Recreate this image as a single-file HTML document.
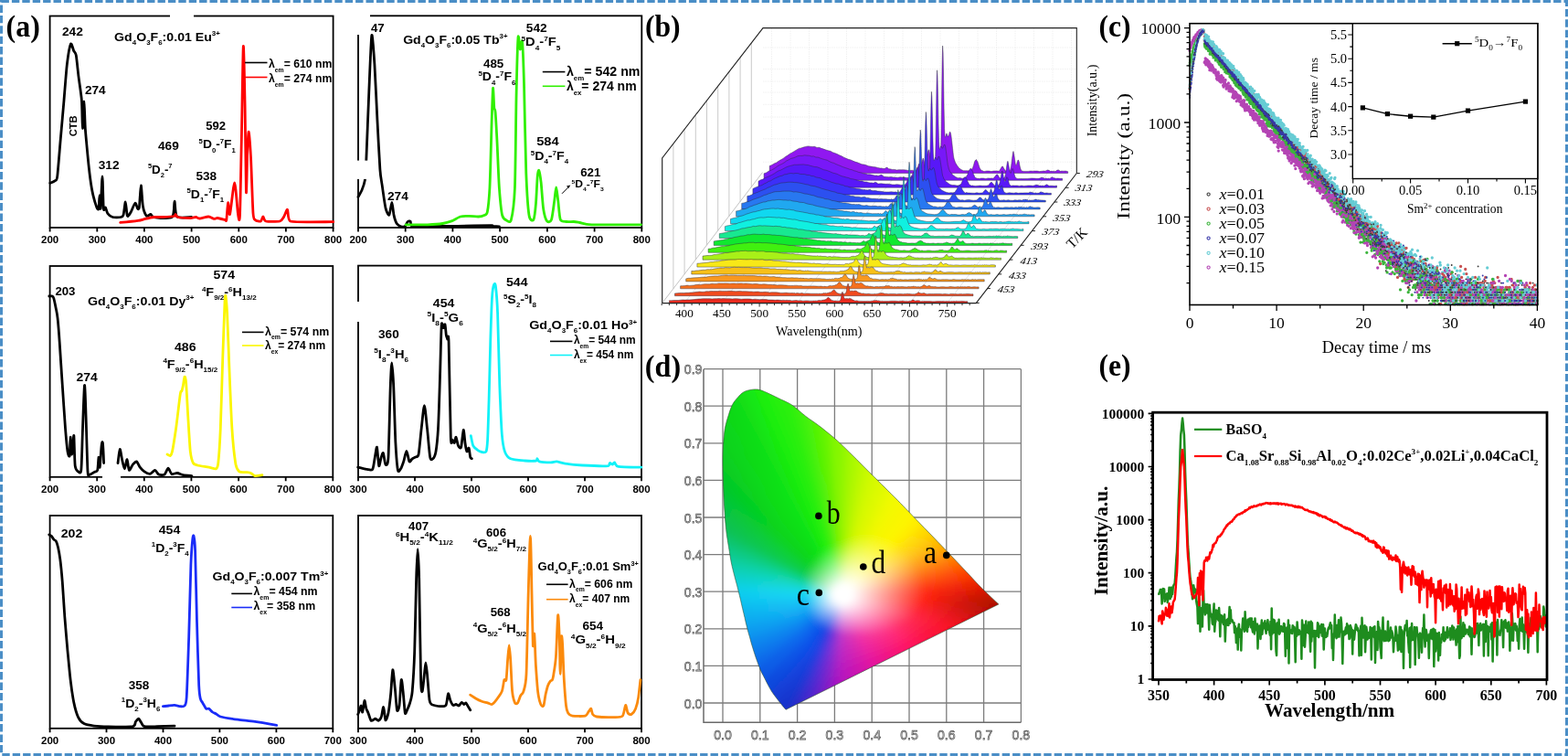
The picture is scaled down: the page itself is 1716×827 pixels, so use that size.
<!DOCTYPE html>
<html><head><meta charset="utf-8"><title>Figure</title>
<style>html,body{margin:0;padding:0;background:#fff;overflow:hidden}svg{display:block}</style>
</head><body>
<svg width="1716" height="827" viewBox="0 0 1716 827">
<rect width="1716" height="827" fill="#fff"/>
<rect x="834.5" y="30.4" width="343.8" height="158.5" fill="#fff"/>
<path d="M844.5,31V188.5 M865,31V188.5 M885.5,31V188.5 M906,31V188.5 M926.5,31V188.5 M947,31V188.5 M967.5,31V188.5 M988,31V188.5 M1008.5,31V188.5 M1029,31V188.5 M1049.5,31V188.5 M1070,31V188.5 M1090.5,31V188.5 M1111,31V188.5 M1131.5,31V188.5 M1152,31V188.5 M1172.5,31V188.5 M835,52H1178 M835,75.6H1178 M835,89H1178 M835,101H1178 M835,114.3H1178 M835,128H1178 M835,151.8H1178 M835,177.2H1178" stroke="#ebebeb" stroke-width="0.7" stroke-dasharray="1.5 1"/>
<path d="M724.7,172.9V331.6 M736.9,157.2V315.8 M749.1,141.5V300 M761.3,125.7V284.1 M773.5,110V268.3 M785.7,94.3V252.5 M797.9,78.6V236.7 M810.1,62.9V220.9 M822.3,47.2V205.1" stroke="#c4c4c4" stroke-width="0.9"/>
<path d="M748.9,331.6L858.7,189.4 M790,331.6L899.8,189.4 M831.1,331.6L940.9,189.4 M872.2,331.6L982,189.4 M913.3,331.6L1023.1,189.4 M954.4,331.6L1064.2,189.4 M995.5,331.6L1105.3,189.4 M1036.6,331.6L1146.4,189.4" stroke="#d8d8d8" stroke-width="0.7"/>
<path d="M724.7,331.6L834.5,188.6" stroke="#bbb" stroke-width="0.9"/>
<path d="M724.7,331.6V172.9L835,30.6H1178.3V189.5" fill="none" stroke="#222" stroke-width="1.1"/>
<path d="M842.2,189.4L842.2,181.5 844.7,180.5 847.2,178.9 849.6,178 852.1,176.2 854.5,174.8 857,173.4 859.5,171.4 861.9,170.1 864.4,168.2 866.9,166.9 869.3,165.4 871.8,163.9 874.3,162.4 876.7,161.9 879.2,161.1 881.7,160.4 884.1,159.9 886.6,160.2 889.1,160.4 891.5,160.3 894,161.4 896.5,161.3 898.9,162.3 901.4,163.1 903.9,164 906.3,164.7 908.8,165.3 911.3,166.7 913.7,167.5 916.2,168.5 918.7,169.8 921.1,170.8 923.6,172.2 926.1,173.3 928.5,174.3 931,174.9 933.5,176.1 935.9,177.1 938.4,177.8 940.9,178.8 943.3,179.7 945.8,180 948.3,180.8 950.7,181.7 953.2,182.1 955.7,182.6 958.1,182.8 960.6,183.4 963.1,184 965.5,183.9 966,184.6 966.5,184.4 967,184.2 967.5,184.6 968,184.3 968.5,184.5 969,183.8 969.5,183.4 970,183.3 970.5,183 970.9,183.5 971.4,183.6 971.9,184.1 972.4,184.5 972.9,184.9 973.4,184.8 973.9,184.8 976.4,185.4 978.8,185.4 981.3,186 983.8,185.7 986.2,185.8 988.7,185.7 991.2,185.9 993.6,186.4 996.1,186.4 998.6,186.3 999.1,186.7 999.6,186.4 1000,186.7 1000.5,186.7 1001,186.7 1001.5,186.2 1002,186.6 1002.5,186.4 1003,186 1003.5,184.9 1004,184.4 1004.5,182.5 1005,180.8 1005.5,179.4 1006,179.1 1006.5,179.7 1006.9,181.3 1007.4,182.4 1007.9,183.3 1008.4,183.4 1008.9,183.3 1009.4,183.5 1009.9,183 1010.4,182.5 1010.9,181.9 1011.4,181.1 1011.9,180.4 1012.4,180 1012.9,179.3 1013.4,177.7 1013.9,175.9 1014.3,173.3 1014.8,170.1 1015.3,167.2 1015.8,164.9 1016.3,163.7 1016.8,164.3 1017.3,167 1017.8,169.8 1018.3,173.6 1018.8,176.9 1019.3,179.6 1019.8,181.7 1020.3,183 1020.8,184 1021.3,184.3 1021.7,185.1 1022.2,185.5 1022.7,185.7 1023.2,186 1023.7,186 1024.2,186.4 1024.7,186.5 1025.2,186.4 1025.7,186.4 1026.2,186.2 1026.7,186.3 1027.2,185.6 1027.7,185.6 1028.2,185.4 1028.6,183.8 1029.1,179 1029.6,166.9 1030.1,143 1030.6,106.8 1031.1,69.9 1031.6,50.1 1032.1,57.3 1032.6,86.1 1033.1,118.4 1033.6,140.5 1034.1,149.7 1034.6,150 1035.1,148.3 1035.6,146.7 1036,145.9 1036.5,147.2 1037,148.7 1037.5,149.1 1038,149 1038.5,147.4 1039,145.4 1039.5,144.3 1040,144.4 1040.5,146.2 1041,149.1 1041.5,153.3 1042,157.5 1042.5,162.3 1043,166.3 1043.4,170.1 1043.9,172.9 1044.4,174.6 1044.9,176.1 1045.4,177.4 1045.9,178.4 1046.4,179.3 1046.9,180.1 1047.4,181.1 1047.9,181.6 1048.4,182.3 1048.9,183.1 1049.4,183.7 1051.8,185.5 1054.3,186.7 1056.8,186.8 1059.2,186.8 1061.7,186.9 1062.2,186.3 1062.7,185.9 1063.2,185.4 1063.7,185.1 1064.2,184.3 1064.7,183.2 1065.1,181.9 1065.6,180.4 1066.1,178.6 1066.6,177 1067.1,175.8 1067.6,175.2 1068.1,174.7 1068.6,174.7 1069.1,175.8 1069.6,176.3 1070.1,177.5 1070.6,179 1071.1,180.5 1071.6,182.2 1072.1,183.6 1072.5,184.3 1073,185.5 1073.5,185.8 1074,186.1 1074.5,186.8 1075,187.1 1075.5,186.8 1076,187 1076.5,187.5 1077,187.5 1077.5,187.5 1079.9,187 1082.4,187.1 1084.9,187.6 1087.3,187.1 1089.8,187 1092.3,187.1 1092.8,187.3 1093.3,186.9 1093.8,186.9 1094.2,186.4 1094.7,185 1095.2,184.4 1095.7,183.5 1096.2,182.4 1096.7,182.2 1097.2,181.9 1097.7,182.3 1098.2,183.4 1098.7,184.3 1099.2,185.2 1099.7,186.1 1100.2,186.4 1100.7,187.1 1101.2,187.2 1101.6,187.5 1102.1,187 1102.6,187.4 1103.1,187.4 1103.6,187.3 1104.1,187 1104.6,187.1 1105.1,186.4 1105.6,185.7 1106.1,184.1 1106.6,181.4 1107.1,178.1 1107.6,173.6 1108.1,169.6 1108.5,166.9 1109,165.5 1109.5,167.5 1110,170.5 1110.5,174.3 1111,178 1111.5,180.5 1112,181 1112.5,180.2 1113,178.2 1113.5,176.8 1114,175.1 1114.5,175.1 1115,176.2 1115.5,178 1115.9,180.6 1116.4,182.9 1116.9,184.6 1117.4,185.7 1117.9,186.8 1118.4,187 1118.9,187.3 1119.4,187.3 1119.9,187.2 1120.4,187.4 1122.9,187.4 1125.3,187.4 1127.8,187.1 1130.2,187.2 1132.7,187.1 1135.2,187.1 1137.6,187.6 1140.1,187.3 1142.6,187 1143.1,187 1143.6,187.3 1144.1,187.2 1144.6,186.7 1145,186.7 1145.5,186.4 1146,186.4 1146.5,186 1147,186 1147.5,186.1 1148,186.8 1148.5,186.7 1149,186.9 1149.5,187.4 1150,187 1150.5,187 1151,187.6 1151.5,187.1 1151.9,187.5 1152.4,187.4 1152.9,187.1 1153.4,187.2 1153.9,187.6 1154.4,187.4 1154.9,187.3 1155.4,187.3 1155.9,187.1 1156.4,186.7 1156.9,186 1157.4,186.2 1157.9,185.7 1158.4,185.9 1158.9,186.5 1159.3,186.7 1159.8,186.8 1160.3,187.2 1160.8,187.6 1161.3,187 1163.8,187.2 1166.3,187.1 1168.7,187.7L1168.7,189.4Z" fill="#9018f0" stroke="#2a2a3a" stroke-width="0.45" stroke-linejoin="round"/>
<path d="M836.1,197.3L836.1,189.8 838.6,188.9 841.1,187.3 843.5,186.4 846,185.2 848.5,183.6 850.9,181.8 853.4,180.4 855.8,179.3 858.3,177.8 860.8,175.9 863.2,174.8 865.7,173.4 868.2,172.8 870.6,171.9 873.1,170.7 875.6,170.4 878,170.4 880.5,169.8 883,170.1 885.4,170.2 887.9,171 890.4,170.9 892.8,172 895.3,172.1 897.8,173.1 900.2,173.9 902.7,174.6 905.2,175.2 907.6,176.6 910.1,177.7 912.6,178.4 915,179.6 917.5,180.6 920,181.6 922.4,182.6 924.9,183.5 927.4,184.3 929.8,185.2 932.3,185.7 934.8,186.8 937.2,187.4 939.7,188.4 942.2,188.9 944.6,189.7 947.1,190.1 949.6,190.8 952,190.8 954.5,191.3 957,191.9 959.4,192.1 959.9,191.8 960.4,192.5 960.9,192 961.4,192.3 961.9,192.2 962.4,191.8 962.9,191.9 963.4,191.5 963.9,191.2 964.4,191 964.8,191.6 965.3,191.5 965.8,192 966.3,192.4 966.8,192.8 967.3,193 967.8,193.3 970.3,193.4 972.7,193.7 975.2,193.4 977.7,193.9 980.1,194.1 982.6,194.2 985.1,193.8 987.5,193.9 990,194.1 992.5,194.4 993,194.5 993.5,194.5 993.9,194.3 994.4,194.6 994.9,194.4 995.4,194.5 995.9,194 996.4,193.8 996.9,193.8 997.4,193.4 997.9,191.9 998.4,191 998.9,189.6 999.4,188.8 999.9,188.2 1000.4,188.6 1000.8,189.6 1001.3,190.9 1001.8,191.4 1002.3,192 1002.8,191.8 1003.3,191.6 1003.8,190.9 1004.3,190.7 1004.8,190.1 1005.3,189.4 1005.8,188.8 1006.3,187.9 1006.8,187.1 1007.3,185.8 1007.8,184.2 1008.2,181.9 1008.7,179.1 1009.2,176.6 1009.7,174.4 1010.2,173 1010.7,174.2 1011.2,175.9 1011.7,179.1 1012.2,182.9 1012.7,185.4 1013.2,187.8 1013.7,189.7 1014.2,190.8 1014.7,191.6 1015.2,192.6 1015.6,192.8 1016.1,193.2 1016.6,193.2 1017.1,193.5 1017.6,193.6 1018.1,193.9 1018.6,193.8 1019.1,194 1019.6,194 1020.1,194.3 1020.6,194.3 1021.1,194.1 1021.6,193.8 1022.1,193.5 1022.5,191.7 1023,187.8 1023.5,177.3 1024,156.5 1024.5,125.6 1025,94 1025.5,76.8 1026,82.6 1026.5,107.2 1027,135.4 1027.5,154.5 1028,162.4 1028.5,163.4 1029,161.1 1029.5,160 1029.9,159.9 1030.4,160.6 1030.9,161.4 1031.4,162.3 1031.9,161.6 1032.4,160.3 1032.9,159.2 1033.4,158.3 1033.9,158.2 1034.4,159.4 1034.9,161.9 1035.4,165.5 1035.9,169.5 1036.4,173.9 1036.9,177.4 1037.3,180.4 1037.8,182.4 1038.3,184.5 1038.8,185.7 1039.3,187.2 1039.8,188 1040.3,188.6 1040.8,188.9 1041.3,189.5 1041.8,190.1 1042.3,190.9 1042.8,191.3 1043.3,191.8 1045.7,193.5 1048.2,194.7 1050.7,194.6 1053.1,195.2 1055.6,194.5 1056.1,194.3 1056.6,194.6 1057.1,193.9 1057.6,193 1058.1,192.1 1058.6,191.5 1059,190.5 1059.5,189.2 1060,187.4 1060.5,186.7 1061,185.4 1061.5,185 1062,184.4 1062.5,184.2 1063,185.2 1063.5,185.6 1064,186.9 1064.5,187.9 1065,189.3 1065.5,190.9 1066,191.6 1066.4,192.8 1066.9,193.8 1067.4,194.4 1067.9,194.5 1068.4,194.8 1068.9,195.1 1069.4,195.3 1069.9,195.2 1070.4,195.3 1070.9,194.9 1071.4,195.5 1073.8,195 1076.3,195 1078.8,195.5 1081.2,194.9 1083.7,195.1 1086.2,194.9 1086.7,195.2 1087.2,195 1087.7,194.7 1088.1,193.8 1088.6,193.5 1089.1,192.9 1089.6,192 1090.1,191.4 1090.6,191.1 1091.1,191 1091.6,190.8 1092.1,191.8 1092.6,192.2 1093.1,193.5 1093.6,194.1 1094.1,194.5 1094.6,195.1 1095.1,195.1 1095.5,194.8 1096,194.9 1096.5,195 1097,195.1 1097.5,194.9 1098,194.9 1098.5,195 1099,194.5 1099.5,194.2 1100,192.3 1100.5,190.2 1101,186.8 1101.5,183.2 1102,179.9 1102.4,177.6 1102.9,176.3 1103.4,178.1 1103.9,180.7 1104.4,184.2 1104.9,187.4 1105.4,189 1105.9,189.5 1106.4,189.2 1106.9,187.4 1107.4,186 1107.9,184.7 1108.4,184.6 1108.9,185.7 1109.4,187.5 1109.8,189.7 1110.3,191.2 1110.8,193.1 1111.3,194.3 1111.8,194.4 1112.3,194.7 1112.8,195.2 1113.3,195.5 1113.8,195.5 1114.3,195.6 1116.8,195.4 1119.2,195.6 1121.7,195.5 1124.1,195.4 1126.6,195.2 1129.1,195 1131.5,195.1 1134,195.3 1136.5,195.3 1137,195.1 1137.5,195.1 1138,195 1138.5,195 1138.9,194.6 1139.4,194 1139.9,194.4 1140.4,194.2 1140.9,194.2 1141.4,194.2 1141.9,194.8 1142.4,195 1142.9,195.2 1143.4,195.2 1143.9,195.2 1144.4,194.9 1144.9,195 1145.4,195 1145.8,195.6 1146.3,195.6 1146.8,195.1 1147.3,195 1147.8,195.3 1148.3,195.2 1148.8,195.6 1149.3,195.2 1149.8,194.6 1150.3,194.4 1150.8,194 1151.3,193.6 1151.8,194 1152.3,194.2 1152.8,194.5 1153.2,194.6 1153.7,194.8 1154.2,194.8 1154.7,195.1 1155.2,195.2 1157.7,195.1 1160.2,195.3 1162.6,195.3L1162.6,197.3Z" fill="#7818f8" stroke="#2a2a3a" stroke-width="0.45" stroke-linejoin="round"/>
<path d="M830,205.2L830,198.2 832.5,196.8 835,196.1 837.4,194.5 839.9,193.5 842.4,192.5 844.8,191.3 847.3,189.9 849.7,188.2 852.2,186.8 854.7,185.9 857.1,184.7 859.6,183.3 862.1,182.2 864.5,181.5 867,180.9 869.5,180.2 871.9,180.3 874.4,180.1 876.9,180 879.3,179.9 881.8,180.3 884.3,180.5 886.7,181.3 889.2,181.9 891.7,182.5 894.1,182.7 896.6,183.6 899.1,184.7 901.5,185.7 904,186.2 906.5,187 908.9,188 911.4,189.1 913.9,189.7 916.3,190.4 918.8,191.7 921.3,192.7 923.7,193.3 926.2,194 928.7,194.6 931.1,195.6 933.6,195.9 936.1,196.5 938.5,197.3 941,198 943.5,198 945.9,198.9 948.4,199 950.9,199.8 953.3,200.1 953.8,199.8 954.3,200.2 954.8,199.8 955.3,200.1 955.8,200.3 956.3,200.1 956.8,199.8 957.3,199.4 957.8,199.1 958.3,199.6 958.7,199.5 959.2,199.9 959.7,199.8 960.2,200.6 960.7,200.9 961.2,201 961.7,200.9 964.2,200.8 966.6,201 969.1,201.3 971.6,201.2 974,201.4 976.5,201.9 979,202.1 981.4,201.7 983.9,201.9 986.4,202.5 986.9,202.1 987.4,202.3 987.8,202.3 988.3,202.3 988.8,202.4 989.3,202.5 989.8,202.3 990.3,202.2 990.8,201.5 991.3,201.5 991.8,200.1 992.3,199.5 992.8,198.1 993.3,196.9 993.8,196.6 994.3,197.3 994.7,198.4 995.2,199 995.7,199.7 996.2,199.5 996.7,199.9 997.2,199.5 997.7,198.7 998.2,198.8 998.7,198 999.2,197.2 999.7,196.7 1000.2,196.5 1000.7,195.8 1001.2,194.7 1001.7,192.6 1002.1,191 1002.6,188.1 1003.1,185.5 1003.6,183.8 1004.1,183 1004.6,183.1 1005.1,185.3 1005.6,188.4 1006.1,191.2 1006.6,194.3 1007.1,196.5 1007.6,198.3 1008.1,198.9 1008.6,199.6 1009.1,200.3 1009.5,200.5 1010,201.5 1010.5,201.6 1011,201.7 1011.5,201.5 1012,201.6 1012.5,202.1 1013,202.2 1013.5,202.1 1014,202.1 1014.5,201.7 1015,202.1 1015.5,201.5 1016,201.2 1016.4,200 1016.9,196.5 1017.4,187.6 1017.9,169.8 1018.4,143.1 1018.9,115.6 1019.4,100.3 1019.9,106.2 1020.4,127.4 1020.9,151.2 1021.4,168.1 1021.9,175.1 1022.4,175.6 1022.9,173.7 1023.4,172.6 1023.8,172 1024.3,172.8 1024.8,173.6 1025.3,174.6 1025.8,174.5 1026.3,173.5 1026.8,172 1027.3,171 1027.8,171.1 1028.3,172.4 1028.8,174.5 1029.3,177.4 1029.8,180.8 1030.3,184.2 1030.8,187.2 1031.2,190 1031.7,192.4 1032.2,193.5 1032.7,195.1 1033.2,195.8 1033.7,196.7 1034.2,197 1034.7,198 1035.2,198.5 1035.7,198.9 1036.2,199.5 1036.7,199.4 1037.2,200 1039.6,201.7 1042.1,202.5 1044.6,202.5 1047,202.9 1049.5,202.9 1050,202.3 1050.5,202.2 1051,201.6 1051.5,201.6 1052,200.7 1052.5,199.6 1052.9,198.6 1053.4,197.5 1053.9,196.9 1054.4,195.7 1054.9,194.9 1055.4,194.3 1055.9,193.4 1056.4,193.8 1056.9,193.9 1057.4,195.1 1057.9,195.7 1058.4,197.1 1058.9,198.3 1059.4,199 1059.9,199.9 1060.3,201.2 1060.8,201.6 1061.3,202 1061.8,202.6 1062.3,202.8 1062.8,203.1 1063.3,203.1 1063.8,203.2 1064.3,203 1064.8,202.9 1065.3,203.3 1067.7,203.4 1070.2,203.2 1072.7,203 1075.1,203.3 1077.6,203.2 1080.1,203.3 1080.6,202.8 1081.1,202.8 1081.6,202.9 1082,202.5 1082.5,201.7 1083,201 1083.5,200.2 1084,199.9 1084.5,199.5 1085,199.1 1085.5,199.6 1086,200.2 1086.5,200.9 1087,201.1 1087.5,202.2 1088,202.4 1088.5,202.9 1089,203 1089.4,202.8 1089.9,202.8 1090.4,203.2 1090.9,203.3 1091.4,203 1091.9,203.3 1092.4,203.3 1092.9,202.3 1093.4,202 1093.9,200.5 1094.4,198.8 1094.9,195.7 1095.4,192.8 1095.9,190 1096.3,187.9 1096.8,187 1097.3,188 1097.8,190.3 1098.3,193.8 1098.8,196.1 1099.3,198 1099.8,198.4 1100.3,198.1 1100.8,196.6 1101.3,195 1101.8,193.7 1102.3,194.2 1102.8,194.7 1103.3,196.1 1103.7,197.8 1104.2,200.1 1104.7,201.5 1105.2,201.9 1105.7,202.4 1106.2,203 1106.7,203.4 1107.2,202.9 1107.7,203.2 1108.2,202.9 1110.7,203.1 1113.1,203 1115.6,203.4 1118,203 1120.5,203.4 1123,203.2 1125.4,202.9 1127.9,203 1130.4,203.3 1130.9,203.2 1131.4,203 1131.9,202.8 1132.4,202.7 1132.8,202.7 1133.3,202.5 1133.8,202.1 1134.3,201.9 1134.8,202.6 1135.3,202.4 1135.8,202.4 1136.3,203.1 1136.8,202.7 1137.3,203.3 1137.8,203 1138.3,203.1 1138.8,203.1 1139.3,203.3 1139.7,203.2 1140.2,203.1 1140.7,203.2 1141.2,203.1 1141.7,203.2 1142.2,203.2 1142.7,203.4 1143.2,202.9 1143.7,202.8 1144.2,202.8 1144.7,202.1 1145.2,201.8 1145.7,201.9 1146.2,202.2 1146.7,202.3 1147.1,202.8 1147.6,203.1 1148.1,203.1 1148.6,203.4 1149.1,203.2 1151.6,203.2 1154.1,203.5 1156.5,203.1L1156.5,205.2Z" fill="#5818f8" stroke="#2a2a3a" stroke-width="0.45" stroke-linejoin="round"/>
<path d="M823.9,213.1L823.9,206.5 826.4,205.2 828.9,204.2 831.3,203.4 833.8,202.6 836.2,201.1 838.7,200 841.2,198.4 843.6,197.7 846.1,196 848.6,194.8 851,193.8 853.5,192.7 856,192.2 858.4,190.9 860.9,190.6 863.4,189.8 865.8,189.5 868.3,189.9 870.8,189.5 873.2,189.6 875.7,190.4 878.2,190.5 880.6,190.6 883.1,191.4 885.6,191.5 888,192.5 890.5,192.7 893,193.9 895.4,194.3 897.9,194.8 900.4,196.1 902.8,196.8 905.3,197.5 907.8,198.4 910.2,199.4 912.7,200.1 915.2,200.9 917.6,201.1 920.1,202 922.6,202.5 925,203.7 927.5,203.9 930,204.9 932.4,205.2 934.9,205.7 937.4,206.3 939.8,206.4 942.3,207 944.8,207.4 947.2,207.5 947.7,208.1 948.2,207.6 948.7,207.9 949.2,208 949.7,207.8 950.2,208 950.7,207.4 951.2,207.5 951.7,207.5 952.2,207.2 952.6,207.5 953.1,207.9 953.6,207.9 954.1,208.6 954.6,208.3 955.1,208.8 955.6,208.6 958.1,208.6 960.5,209.1 963,209.2 965.5,209.6 967.9,209.9 970.4,210 972.9,210 975.3,209.8 977.8,210 980.3,210.1 980.8,209.8 981.3,210.3 981.7,210.3 982.2,210 982.7,210.4 983.2,210.4 983.7,210.2 984.2,210.2 984.7,209.9 985.2,209.5 985.7,208.5 986.2,207.5 986.7,206.7 987.2,205.6 987.7,205.4 988.2,206 988.6,206.2 989.1,207.4 989.6,207.9 990.1,208.1 990.6,207.7 991.1,207.2 991.6,206.8 992.1,206.6 992.6,206.2 993.1,205.9 993.6,205 994.1,204.4 994.6,203.9 995.1,202.7 995.6,201.4 996,199.2 996.5,197.1 997,195.1 997.5,192.9 998,192.6 998.5,192.8 999,194.7 999.5,197.4 1000,200.4 1000.5,202.5 1001,205 1001.5,206.2 1002,206.9 1002.5,208.2 1003,208.6 1003.4,208.7 1003.9,209.1 1004.4,209.3 1004.9,209.4 1005.4,210 1005.9,210 1006.4,210.1 1006.9,210.3 1007.4,209.8 1007.9,209.8 1008.4,209.8 1008.9,210.2 1009.4,209.5 1009.9,209.3 1010.3,208.5 1010.8,205.2 1011.3,197.6 1011.8,182.3 1012.3,159.3 1012.8,135.5 1013.3,122.5 1013.8,127 1014.3,145.2 1014.8,166.1 1015.3,180.3 1015.8,186.3 1016.3,187.1 1016.8,185.5 1017.3,184.5 1017.7,184.1 1018.2,185 1018.7,185.9 1019.2,186.1 1019.7,185.6 1020.2,185.3 1020.7,183.8 1021.2,183.6 1021.7,183.5 1022.2,184.4 1022.7,186 1023.2,188.5 1023.7,191.6 1024.2,194.9 1024.7,197.2 1025.1,199.8 1025.6,201.7 1026.1,202.6 1026.6,203.8 1027.1,204.6 1027.6,205.2 1028.1,205.5 1028.6,206.4 1029.1,206.6 1029.6,207.1 1030.1,207.4 1030.6,208 1031.1,208.2 1033.5,209.6 1036,210.5 1038.5,210.9 1040.9,210.7 1043.4,210.9 1043.9,210.2 1044.4,210.5 1044.9,210.3 1045.4,209.8 1045.9,208.6 1046.4,208.3 1046.8,207.5 1047.3,206.7 1047.8,205.7 1048.3,204.3 1048.8,203.6 1049.3,203 1049.8,202.7 1050.3,203.2 1050.8,203.3 1051.3,204 1051.8,204.6 1052.3,205.5 1052.8,206.4 1053.3,207.9 1053.8,208.2 1054.2,208.9 1054.7,209.4 1055.2,210.4 1055.7,210.6 1056.2,210.9 1056.7,211.1 1057.2,210.6 1057.7,210.7 1058.2,210.8 1058.7,210.7 1059.2,210.9 1061.6,211.1 1064.1,211.2 1066.6,211.3 1069,210.8 1071.5,211.2 1074,211.1 1074.5,210.9 1075,211.1 1075.5,210.7 1075.9,210.4 1076.4,209.6 1076.9,209.3 1077.4,208.7 1077.9,207.7 1078.4,207.7 1078.9,207.4 1079.4,207.8 1079.9,208.7 1080.4,209 1080.9,209.6 1081.4,209.9 1081.9,210.6 1082.4,210.6 1082.9,210.9 1083.3,211.2 1083.8,210.8 1084.3,211.3 1084.8,210.8 1085.3,211.2 1085.8,211.3 1086.3,211.1 1086.8,210.4 1087.3,209.7 1087.8,209.3 1088.3,207.2 1088.8,204.9 1089.3,201.9 1089.8,199.7 1090.2,197.6 1090.7,197.2 1091.2,197.8 1091.7,200.3 1092.2,202.4 1092.7,205.2 1093.2,206.7 1093.7,206.8 1094.2,206.4 1094.7,205.6 1095.2,203.9 1095.7,203.4 1096.2,202.9 1096.7,203.6 1097.2,204.9 1097.6,206.6 1098.1,208.3 1098.6,209.5 1099.1,210.3 1099.6,210.4 1100.1,211.2 1100.6,210.7 1101.1,211.4 1101.6,211.3 1102.1,211.2 1104.6,210.8 1107,211.1 1109.5,211.2 1111.9,210.8 1114.4,211.3 1116.9,211.1 1119.3,211.1 1121.8,210.9 1124.3,210.9 1124.8,210.9 1125.3,211 1125.8,210.9 1126.3,210.9 1126.7,210.2 1127.2,210.2 1127.7,210.1 1128.2,210.5 1128.7,210.3 1129.2,210.2 1129.7,210.5 1130.2,211 1130.7,210.9 1131.2,210.7 1131.7,211.2 1132.2,211.3 1132.7,211.2 1133.2,210.9 1133.6,210.9 1134.1,211.3 1134.6,211.3 1135.1,211.3 1135.6,211.2 1136.1,211.1 1136.6,211.3 1137.1,211.1 1137.6,211 1138.1,210.2 1138.6,210.1 1139.1,210.3 1139.6,209.7 1140.1,210.3 1140.6,210.4 1141,210.2 1141.5,210.6 1142,210.8 1142.5,211.1 1143,211.3 1145.5,211 1148,211.4 1150.4,211.3L1150.4,213.1Z" fill="#3c30f8" stroke="#2a2a3a" stroke-width="0.45" stroke-linejoin="round"/>
<path d="M817.8,221L817.8,214.5 820.3,214 822.8,212.9 825.2,211.7 827.7,210.8 830.1,209.9 832.6,208.7 835.1,207.8 837.5,206.9 840,205.4 842.5,204.5 844.9,203.3 847.4,202.2 849.9,201.7 852.3,200.8 854.8,200.1 857.3,199.9 859.7,199.7 862.2,199.3 864.7,199.2 867.1,199.3 869.6,199.6 872.1,199.7 874.5,200.1 877,200.5 879.5,201.1 881.9,201.7 884.4,202 886.9,203 889.3,203.4 891.8,203.8 894.3,204.6 896.7,205.3 899.2,206.3 901.7,206.9 904.1,207.6 906.6,208.2 909.1,209 911.5,209.6 914,210.1 916.5,211.2 918.9,211.5 921.4,212 923.9,212.8 926.3,213.2 928.8,213.4 931.3,214.5 933.7,214.6 936.2,215.2 938.7,215.2 941.1,215.4 941.6,215.7 942.1,216.1 942.6,215.8 943.1,215.8 943.6,215.7 944.1,215.8 944.6,215.6 945.1,215.3 945.6,215.4 946.1,215.4 946.5,215.2 947,215.9 947.5,215.9 948,216.3 948.5,216.2 949,216.7 949.5,216.3 952,216.9 954.4,217.3 956.9,217.3 959.4,217.4 961.8,217.8 964.3,217.6 966.8,217.8 969.2,217.7 971.7,218 974.2,218.1 974.7,218.2 975.2,217.8 975.6,217.7 976.1,218 976.6,218.2 977.1,217.8 977.6,218.1 978.1,218.1 978.6,218 979.1,217.1 979.6,216.5 980.1,215.7 980.6,214.9 981.1,214.1 981.6,214.1 982.1,213.9 982.5,214.9 983,215.3 983.5,215.6 984,215.8 984.5,215.9 985,215.7 985.5,215.1 986,215 986.5,214 987,213.9 987.5,213.1 988,212.9 988.5,212.2 989,211.4 989.5,210 989.9,208.5 990.4,206.5 990.9,204 991.4,202.6 991.9,201.9 992.4,202.4 992.9,203.9 993.4,206.3 993.9,208.8 994.4,211.1 994.9,213.1 995.4,214.1 995.9,215.1 996.4,216.3 996.9,216.2 997.3,216.6 997.8,216.9 998.3,217.6 998.8,217.4 999.3,217.6 999.8,218.2 1000.3,218.3 1000.8,217.7 1001.3,217.9 1001.8,218.2 1002.3,218.2 1002.8,218.1 1003.3,218 1003.8,217.3 1004.2,216.7 1004.7,214.2 1005.2,207 1005.7,193.7 1006.2,174.1 1006.7,153.1 1007.2,142.1 1007.7,146 1008.2,162 1008.7,179.9 1009.2,192.3 1009.7,197.4 1010.2,198.3 1010.7,196.7 1011.2,195.9 1011.6,195.6 1012.1,196.4 1012.6,196.8 1013.1,197.4 1013.6,197.4 1014.1,196.7 1014.6,195.8 1015.1,194.9 1015.6,195.2 1016.1,195.8 1016.6,197.7 1017.1,199.7 1017.6,202.3 1018.1,204.8 1018.6,206.9 1019,209.4 1019.5,210.4 1020,211.9 1020.5,212.7 1021,213.3 1021.5,213.7 1022,214.5 1022.5,214.9 1023,214.9 1023.5,215.9 1024,215.9 1024.5,216.2 1025,216.9 1027.4,217.7 1029.9,218.2 1032.4,218.3 1034.8,218.8 1037.3,218.3 1037.8,218.4 1038.3,218.3 1038.8,217.7 1039.3,217.9 1039.8,216.9 1040.3,216.3 1040.7,215.8 1041.2,214.6 1041.7,214.1 1042.2,213.3 1042.7,212.6 1043.2,211.9 1043.7,212.1 1044.2,212 1044.7,212.3 1045.2,212.8 1045.7,213.3 1046.2,214.5 1046.7,215 1047.2,216 1047.7,216.7 1048.1,217.4 1048.6,217.8 1049.1,217.8 1049.6,218.3 1050.1,218.4 1050.6,218.8 1051.1,218.9 1051.6,218.9 1052.1,218.8 1052.6,218.8 1053.1,218.7 1055.5,219.2 1058,218.7 1060.5,218.6 1062.9,218.9 1065.4,219.2 1067.9,219 1068.4,219.1 1068.9,218.9 1069.4,218.2 1069.8,218.2 1070.3,217.7 1070.8,217.1 1071.3,216.5 1071.8,216.3 1072.3,216 1072.8,215.9 1073.3,216.1 1073.8,216.6 1074.3,217 1074.8,217.9 1075.3,218 1075.8,218.5 1076.3,218.5 1076.8,219.1 1077.2,219.1 1077.7,219.2 1078.2,218.7 1078.7,218.7 1079.2,218.8 1079.7,219 1080.2,218.6 1080.7,218.3 1081.2,218 1081.7,217.3 1082.2,215.8 1082.7,213.7 1083.2,211.3 1083.7,209 1084.1,207.2 1084.6,206.6 1085.1,208 1085.6,209.5 1086.1,212.1 1086.6,214 1087.1,214.8 1087.6,215.4 1088.1,214.7 1088.6,214 1089.1,213.2 1089.6,212.2 1090.1,212 1090.6,212.4 1091.1,213.5 1091.5,215.2 1092,216.6 1092.5,217.8 1093,218.1 1093.5,218.8 1094,219 1094.5,219.2 1095,219.3 1095.5,218.8 1096,219.2 1098.5,218.7 1100.9,219.2 1103.4,218.7 1105.8,219.2 1108.3,219.3 1110.8,218.8 1113.2,219.1 1115.7,218.8 1118.2,219.1 1118.7,219.2 1119.2,218.6 1119.7,218.6 1120.2,218.4 1120.6,218.3 1121.1,218.6 1121.6,218.2 1122.1,218.1 1122.6,218.3 1123.1,218.1 1123.6,218.7 1124.1,218.4 1124.6,218.6 1125.1,219.2 1125.6,219.2 1126.1,218.9 1126.6,218.8 1127.1,219.3 1127.5,219.1 1128,218.8 1128.5,219.2 1129,218.8 1129.5,219 1130,219.3 1130.5,219 1131,218.8 1131.5,218.8 1132,218.4 1132.5,218.5 1133,217.9 1133.5,218.1 1134,218 1134.5,218.2 1134.9,218.6 1135.4,218.8 1135.9,218.7 1136.4,218.6 1136.9,218.8 1139.4,218.9 1141.9,219.1 1144.3,219.3L1144.3,221Z" fill="#2c50f0" stroke="#2a2a3a" stroke-width="0.45" stroke-linejoin="round"/>
<path d="M811.7,228.9L811.7,222.4 814.2,221.9 816.7,221 819.1,220.5 821.6,219.5 824,218.3 826.5,217.5 829,216.6 831.4,215.8 833.9,214.7 836.4,213.5 838.8,212.9 841.3,211.8 843.8,211.1 846.2,210.2 848.7,209.7 851.2,209.6 853.6,209.5 856.1,209.2 858.6,209.1 861,209.1 863.5,209.1 866,209.2 868.4,210 870.9,209.8 873.4,210.2 875.8,210.6 878.3,211.3 880.8,212 883.2,212.2 885.7,212.8 888.2,213.5 890.6,213.9 893.1,214.9 895.6,215.7 898,216.1 900.5,216.6 903,217.6 905.4,217.8 907.9,218.3 910.4,219.4 912.8,219.7 915.3,220.2 917.8,220.8 920.2,221.5 922.7,221.9 925.2,222 927.6,222.4 930.1,223 932.6,223.6 935,223.4 935.5,223.5 936,223.9 936.5,223.7 937,223.5 937.5,223.6 938,223.7 938.5,223.7 939,223.5 939.5,223.6 940,223.6 940.4,223.7 940.9,223.6 941.4,224 941.9,224.1 942.4,224.4 942.9,224.4 943.4,224.7 945.9,225 948.3,224.6 950.8,225.2 953.3,225.5 955.7,225.3 958.2,225.3 960.7,225.8 963.1,225.6 965.6,225.9 968.1,225.9 968.6,226.2 969.1,226.2 969.5,225.6 970,225.7 970.5,225.9 971,225.9 971.5,226.1 972,225.7 972.5,225.7 973,225 973.5,224.6 974,223.8 974.5,222.9 975,222.7 975.5,222.7 976,222.8 976.4,223.3 976.9,223.9 977.4,224.3 977.9,224 978.4,223.7 978.9,223.7 979.4,223 979.9,222.6 980.4,222.7 980.9,221.9 981.4,221.6 981.9,221.3 982.4,220.2 982.9,219.8 983.4,218.5 983.8,216.9 984.3,214.8 984.8,213.1 985.3,211.8 985.8,211.1 986.3,211.8 986.8,212.7 987.3,214.9 987.8,217.7 988.3,220 988.8,221.5 989.3,222.7 989.8,223.2 990.3,223.8 990.8,224.3 991.2,225.1 991.7,224.9 992.2,225.2 992.7,225.5 993.2,225.4 993.7,226.1 994.2,226.1 994.7,225.8 995.2,225.7 995.7,225.8 996.2,226.1 996.7,225.8 997.2,225.6 997.7,225.8 998.1,224.9 998.6,222.7 999.1,217 999.6,205.1 1000.1,188.1 1000.6,170.3 1001.1,160.6 1001.6,163.8 1002.1,178 1002.6,193.1 1003.1,204.2 1003.6,208.7 1004.1,208.5 1004.6,207.9 1005.1,206.6 1005.5,206.6 1006,207 1006.5,208.1 1007,208.2 1007.5,208.3 1008,207.1 1008.5,206.4 1009,206 1009.5,206.1 1010,206.9 1010.5,208 1011,210.2 1011.5,212.3 1012,214.8 1012.5,216.8 1012.9,218.6 1013.4,219.5 1013.9,220.6 1014.4,221.7 1014.9,221.8 1015.4,222.6 1015.9,223 1016.4,223.5 1016.9,223.8 1017.4,223.7 1017.9,224.3 1018.4,224.7 1018.9,224.8 1021.3,225.9 1023.8,226 1026.3,226.8 1028.7,226.3 1031.2,226.8 1031.7,226.1 1032.2,226.1 1032.7,226.2 1033.2,225.7 1033.7,225.3 1034.2,224.8 1034.6,224.2 1035.1,223.4 1035.6,222.3 1036.1,221.6 1036.6,221 1037.1,221.2 1037.6,220.9 1038.1,220.5 1038.6,221.3 1039.1,221.4 1039.6,222.3 1040.1,222.5 1040.6,223.9 1041.1,224.1 1041.6,225 1042,225.6 1042.5,226.1 1043,225.9 1043.5,226.3 1044,226.7 1044.5,226.6 1045,226.4 1045.5,226.9 1046,226.7 1046.5,227 1047,227 1049.4,226.6 1051.9,226.6 1054.4,227 1056.8,227.1 1059.3,227.1 1061.8,226.7 1062.3,226.7 1062.8,226.8 1063.3,226.7 1063.7,226.1 1064.2,225.7 1064.7,225.2 1065.2,224.9 1065.7,224.8 1066.2,224.6 1066.7,224.1 1067.2,224.5 1067.7,224.7 1068.2,225.6 1068.7,225.5 1069.2,226.2 1069.7,226.2 1070.2,226.4 1070.7,226.7 1071.1,227.1 1071.6,226.5 1072.1,226.8 1072.6,226.6 1073.1,227 1073.6,227 1074.1,226.5 1074.6,226.6 1075.1,226.3 1075.6,225.3 1076.1,223.9 1076.6,222.5 1077.1,220.1 1077.6,218.2 1078,216.8 1078.5,216.7 1079,217 1079.5,218.5 1080,220.4 1080.5,222.5 1081,223.3 1081.5,223.9 1082,223.2 1082.5,222.8 1083,221.4 1083.5,220.7 1084,220.9 1084.5,221.4 1085,222.4 1085.4,223.6 1085.9,225 1086.4,225.3 1086.9,226.4 1087.4,226.8 1087.9,227 1088.4,227 1088.9,226.6 1089.4,227.2 1089.9,227.1 1092.4,226.7 1094.8,227.1 1097.3,227.2 1099.7,226.8 1102.2,226.8 1104.7,226.9 1107.1,226.7 1109.6,227.1 1112.1,226.6 1112.6,226.7 1113.1,227 1113.6,226.9 1114.1,226.5 1114.5,226.4 1115,226.5 1115.5,226.5 1116,226.3 1116.5,226.5 1117,226.3 1117.5,226.3 1118,226.8 1118.5,226.7 1119,226.6 1119.5,227 1120,226.6 1120.5,226.6 1121,227 1121.4,226.9 1121.9,226.7 1122.4,226.9 1122.9,227 1123.4,226.6 1123.9,226.7 1124.4,226.9 1124.9,226.9 1125.4,226.8 1125.9,226.5 1126.4,226 1126.9,225.9 1127.4,225.8 1127.9,225.9 1128.4,226.1 1128.8,226.8 1129.3,226.6 1129.8,226.5 1130.3,226.6 1130.8,227 1133.3,226.9 1135.8,226.8 1138.2,227L1138.2,228.9Z" fill="#2878f0" stroke="#2a2a3a" stroke-width="0.45" stroke-linejoin="round"/>
<path d="M805.6,236.8L805.6,230.9 808.1,230.6 810.6,229.7 813,228.9 815.5,228.5 818,227.6 820.4,226.2 822.9,225.4 825.3,224.4 827.8,223.7 830.3,222.7 832.7,221.9 835.2,221.1 837.7,220.9 840.1,219.9 842.6,219.6 845.1,219 847.5,219 850,218.6 852.5,218.4 854.9,218.6 857.4,218.9 859.9,218.9 862.3,219.2 864.8,219.1 867.3,219.9 869.7,220.2 872.2,220.4 874.7,221.2 877.1,221.4 879.6,221.6 882.1,222.5 884.5,223.2 887,223.6 889.5,224.1 891.9,224.9 894.4,225.5 896.9,226.1 899.3,226.5 901.8,227 904.3,227.6 906.7,228.1 909.2,228.7 911.7,228.9 914.1,229.2 916.6,229.8 919.1,230.2 921.5,230.5 924,231.1 926.5,231.1 928.9,231.6 929.4,231.6 929.9,231.6 930.4,231.7 930.9,231.9 931.4,231.9 931.9,231.9 932.4,231.6 932.9,231.6 933.4,231.4 933.9,231.8 934.3,231.6 934.8,231.5 935.3,232.1 935.8,232.1 936.3,232.3 936.8,232.5 937.3,232.1 939.8,232.8 942.2,232.6 944.7,233.2 947.2,233.4 949.6,233 952.1,233.4 954.6,233.8 957,233.7 959.5,233.7 962,233.6 962.5,234 963,234 963.4,233.5 963.9,233.7 964.4,234.1 964.9,233.9 965.4,233.9 965.9,233.7 966.4,233.5 966.9,233.1 967.4,232.6 967.9,232.2 968.4,231.3 968.9,230.8 969.4,230.6 969.9,231 970.3,231.2 970.8,231.7 971.3,231.8 971.8,232.4 972.3,231.8 972.8,232 973.3,231.2 973.8,231 974.3,230.6 974.8,229.9 975.3,229.8 975.8,229.4 976.3,228.6 976.8,227.8 977.3,227 977.7,225.7 978.2,224 978.7,222.3 979.2,220.8 979.7,220.5 980.2,220.9 980.7,222.1 981.2,224.2 981.7,226.3 982.2,228 982.7,229.5 983.2,230.8 983.7,231.6 984.2,232.4 984.7,232.7 985.1,233.1 985.6,233.1 986.1,233.3 986.6,233.8 987.1,233.4 987.6,233.9 988.1,233.6 988.6,233.7 989.1,233.6 989.6,234.1 990.1,233.9 990.6,233.6 991.1,234.1 991.6,233.9 992,232.9 992.5,231 993,225.7 993.5,215.7 994,201 994.5,185.4 995,177.3 995.5,180.3 996,192.1 996.5,205.7 997,215 997.5,218.7 998,219.2 998.5,217.9 999,217.3 999.4,217.4 999.9,218.1 1000.4,218.4 1000.9,218.7 1001.4,218.4 1001.9,217.8 1002.4,217 1002.9,216.4 1003.4,216.7 1003.9,217.4 1004.4,218.5 1004.9,220 1005.4,222.3 1005.9,224.1 1006.4,225.7 1006.8,227.5 1007.3,228.6 1007.8,229.1 1008.3,229.8 1008.8,230.5 1009.3,231.2 1009.8,231.1 1010.3,231.5 1010.8,231.7 1011.3,231.9 1011.8,232.2 1012.3,232.7 1012.8,233.1 1015.2,233.9 1017.7,234.2 1020.2,234.5 1022.6,234.7 1025.1,234.6 1025.6,234.2 1026.1,234.1 1026.6,234.1 1027.1,233.4 1027.6,233.2 1028.1,233.1 1028.5,232.3 1029,231.5 1029.5,231.2 1030,230.3 1030.5,230.3 1031,229.7 1031.5,229.2 1032,229.4 1032.5,229.6 1033,230.3 1033.5,230.7 1034,231.2 1034.5,232 1035,232.4 1035.5,233 1035.9,233.2 1036.4,233.8 1036.9,234.2 1037.4,234.5 1037.9,234.6 1038.4,234.4 1038.9,234.8 1039.4,234.9 1039.9,234.8 1040.4,234.6 1040.9,234.4 1043.3,234.6 1045.8,234.5 1048.3,235 1050.7,235 1053.2,234.5 1055.7,234.8 1056.2,234.5 1056.7,234.6 1057.2,234.6 1057.6,234.3 1058.1,234.1 1058.6,233.3 1059.1,233.1 1059.6,232.9 1060.1,232.6 1060.6,232.6 1061.1,233 1061.6,232.8 1062.1,233.3 1062.6,233.5 1063.1,234.1 1063.6,234.3 1064.1,234.7 1064.6,234.9 1065,234.4 1065.5,234.5 1066,234.8 1066.5,234.5 1067,234.5 1067.5,234.8 1068,234.5 1068.5,234.1 1069,234.1 1069.5,233.1 1070,232.4 1070.5,230.8 1071,228.8 1071.5,227.4 1071.9,226.2 1072.4,225.5 1072.9,226.4 1073.4,227.5 1073.9,229.5 1074.4,231.1 1074.9,231.9 1075.4,232.3 1075.9,231.5 1076.4,231.2 1076.9,230.2 1077.4,229.9 1077.9,229.6 1078.4,230.1 1078.9,231 1079.3,232.2 1079.8,233.2 1080.3,233.5 1080.8,234.3 1081.3,234.7 1081.8,234.8 1082.3,234.8 1082.8,234.9 1083.3,235 1083.8,234.6 1086.3,234.9 1088.7,235 1091.2,234.6 1093.6,235 1096.1,234.9 1098.6,234.6 1101,235 1103.5,234.8 1106,234.5 1106.5,234.5 1107,234.9 1107.5,234.7 1108,234.3 1108.4,234.5 1108.9,234 1109.4,234.4 1109.9,234 1110.4,234.3 1110.9,234.5 1111.4,234.5 1111.9,234.8 1112.4,234.5 1112.9,234.8 1113.4,234.5 1113.9,234.7 1114.4,234.9 1114.9,234.9 1115.3,234.7 1115.8,235 1116.3,234.5 1116.8,235 1117.3,234.8 1117.8,234.7 1118.3,234.9 1118.8,234.5 1119.3,234.7 1119.8,234.3 1120.3,234.2 1120.8,234.3 1121.3,234.1 1121.8,234.4 1122.3,234.5 1122.7,234.2 1123.2,234.7 1123.7,234.6 1124.2,235 1124.7,234.7 1127.2,234.9 1129.7,234.8 1132.1,234.9L1132.1,236.8Z" fill="#20a8f0" stroke="#2a2a3a" stroke-width="0.45" stroke-linejoin="round"/>
<path d="M799.5,244.7L799.5,239.5 802,238.8 804.5,238.2 806.9,237.6 809.4,236.6 811.9,236.1 814.3,235.3 816.8,234.2 819.2,233.5 821.7,232.6 824.2,231.9 826.6,231.6 829.1,230.8 831.6,230.3 834,229.4 836.5,228.9 839,228.7 841.4,228.4 843.9,228.1 846.4,228 848.8,228.3 851.3,228 853.8,228.5 856.2,228.5 858.7,229 861.2,229.3 863.6,229.1 866.1,229.6 868.6,229.9 871,230.8 873.5,231.2 876,231.6 878.4,232 880.9,232.5 883.4,232.9 885.8,233.6 888.3,233.9 890.8,234.2 893.2,235 895.7,235.1 898.2,235.7 900.6,236.1 903.1,236.9 905.6,237.2 908,237.4 910.5,238 913,238.6 915.4,238.4 917.9,238.8 920.4,239.4 922.8,239.8 923.3,239.4 923.8,239.6 924.3,240 924.8,239.9 925.3,240 925.8,239.5 926.3,239.8 926.8,239.3 927.3,239.3 927.8,239.8 928.2,239.5 928.7,239.8 929.2,239.8 929.7,239.9 930.2,240.4 930.7,240.6 931.2,240.1 933.7,240.6 936.1,240.5 938.6,240.8 941.1,240.9 943.5,241 946,241.2 948.5,241.5 950.9,241.8 953.4,241.5 955.9,241.7 956.4,241.7 956.9,241.5 957.3,242 957.8,241.6 958.3,242 958.8,241.6 959.3,241.6 959.8,241.8 960.3,241.5 960.8,241 961.3,240.8 961.8,240.3 962.3,239.9 962.8,239.5 963.3,239.2 963.8,239.3 964.2,239.8 964.7,240.1 965.2,240.4 965.7,240.1 966.2,240 966.7,240 967.2,239.7 967.7,239.2 968.2,238.9 968.7,238.2 969.2,238.2 969.7,237.8 970.2,236.9 970.7,236.7 971.2,235.5 971.6,234.4 972.1,232.6 972.6,231.2 973.1,229.9 973.6,229.8 974.1,229.8 974.6,231.1 975.1,232.9 975.6,234.7 976.1,236.4 976.6,238.2 977.1,239.1 977.6,239.8 978.1,240.4 978.6,240.9 979,241 979.5,241.3 980,241.2 980.5,241.5 981,241.9 981.5,241.8 982,241.8 982.5,241.9 983,242.1 983.5,242.1 984,242.2 984.5,241.5 985,241.6 985.5,241.8 985.9,240.9 986.4,239 986.9,235 987.4,226.6 987.9,213.5 988.4,200.3 988.9,193.1 989.4,195.5 989.9,206.1 990.4,217.2 990.9,225.4 991.4,228.7 991.9,228.8 992.4,228.2 992.9,227.8 993.3,227.8 993.8,228.2 994.3,228.7 994.8,228.5 995.3,228.3 995.8,228.2 996.3,227.7 996.8,227 997.3,226.8 997.8,227.3 998.3,228.9 998.8,229.9 999.3,231.6 999.8,233.3 1000.3,235.1 1000.7,236.4 1001.2,237 1001.7,238.1 1002.2,238.6 1002.7,239 1003.2,239.4 1003.7,239.4 1004.2,240.1 1004.7,240.5 1005.2,240.4 1005.7,240.6 1006.2,240.6 1006.7,240.9 1009.1,241.5 1011.6,241.9 1014.1,242.4 1016.5,242.4 1019,242.6 1019.5,242.4 1020,242.1 1020.5,242.2 1021,241.6 1021.5,241.6 1022,241 1022.4,240.2 1022.9,240.2 1023.4,239.7 1023.9,238.9 1024.4,238.7 1024.9,238 1025.4,238.3 1025.9,237.9 1026.4,238 1026.9,238.4 1027.4,239.1 1027.9,239.8 1028.4,240.1 1028.9,240.7 1029.4,241.2 1029.8,241.6 1030.3,241.9 1030.8,242 1031.3,242 1031.8,242.1 1032.3,242.6 1032.8,242.6 1033.3,242.5 1033.8,242.5 1034.3,242.6 1034.8,242.7 1037.2,242.8 1039.7,242.7 1042.2,242.6 1044.6,242.3 1047.1,242.3 1049.6,242.3 1050.1,242.2 1050.6,242.2 1051.1,242.3 1051.5,242 1052,242.2 1052.5,241.5 1053,241.2 1053.5,241.1 1054,240.7 1054.5,240.4 1055,240.9 1055.5,241 1056,241.6 1056.5,241.9 1057,241.8 1057.5,242.6 1058,242.6 1058.5,242.4 1058.9,242.6 1059.4,242.9 1059.9,242.5 1060.4,242.7 1060.9,242.6 1061.4,242.6 1061.9,242.5 1062.4,242.3 1062.9,242.1 1063.4,241.7 1063.9,240.7 1064.4,238.9 1064.9,237.6 1065.4,236.4 1065.8,234.9 1066.3,235 1066.8,235.6 1067.3,236.5 1067.8,238.2 1068.3,239.3 1068.8,240.1 1069.3,240.5 1069.8,240 1070.3,239.7 1070.8,238.7 1071.3,238.2 1071.8,238.4 1072.3,238.6 1072.8,239.6 1073.2,240.3 1073.7,240.8 1074.2,241.7 1074.7,242 1075.2,242.3 1075.7,242.8 1076.2,242.3 1076.7,242.5 1077.2,242.9 1077.7,242.4 1080.2,242.7 1082.6,242.9 1085.1,242.4 1087.5,242.6 1090,242.5 1092.5,242.9 1094.9,242.5 1097.4,242.9 1099.9,242.8 1100.4,242.7 1100.9,242.9 1101.4,242.4 1101.9,242.6 1102.3,242.5 1102.8,242.1 1103.3,242.3 1103.8,242 1104.3,242.2 1104.8,242.1 1105.3,242.4 1105.8,242.2 1106.3,242.3 1106.8,242.8 1107.3,242.5 1107.8,242.8 1108.3,242.5 1108.8,242.6 1109.2,242.5 1109.7,242.9 1110.2,242.8 1110.7,242.5 1111.2,242.4 1111.7,242.5 1112.2,242.9 1112.7,242.5 1113.2,242.8 1113.7,242.4 1114.2,242.1 1114.7,242.4 1115.2,241.8 1115.7,242 1116.2,242.4 1116.6,242.6 1117.1,242.5 1117.6,242.4 1118.1,242.6 1118.6,242.9 1121.1,243 1123.6,242.9 1126,242.5L1126,244.7Z" fill="#10d8f0" stroke="#2a2a3a" stroke-width="0.45" stroke-linejoin="round"/>
<path d="M793.4,252.6L793.4,247.7 795.9,246.9 798.4,246.6 800.8,245.7 803.3,245.3 805.8,244.8 808.2,243.7 810.7,243.2 813.1,242.4 815.6,241.7 818.1,240.9 820.5,240.8 823,240 825.5,239.6 827.9,238.8 830.4,238.2 832.9,237.9 835.3,238.1 837.8,237.8 840.3,237.4 842.7,237.5 845.2,237.7 847.7,237.8 850.1,238.1 852.6,237.9 855.1,238.4 857.5,238.3 860,238.8 862.5,239.4 864.9,239.6 867.4,240.1 869.9,240 872.3,240.6 874.8,241.4 877.3,241.7 879.7,242.1 882.2,242.4 884.7,242.8 887.1,243.4 889.6,243.8 892.1,244.5 894.5,244.5 897,245.1 899.5,245.6 901.9,245.7 904.4,245.8 906.9,246.7 909.3,247 911.8,246.9 914.3,247.5 916.7,247.7 917.2,247.6 917.7,247.8 918.2,247.7 918.7,247.7 919.2,247.5 919.7,247.4 920.2,248 920.7,247.6 921.2,247.4 921.7,247.3 922.1,247.5 922.6,247.7 923.1,247.9 923.6,248.2 924.1,248.3 924.6,248.1 925.1,248.1 927.6,248.3 930,248.6 932.5,249 935,248.8 937.4,249 939.9,249.3 942.4,249.3 944.8,249.6 947.3,249.5 949.8,249.7 950.3,249.9 950.8,249.8 951.2,249.8 951.7,249.4 952.2,249.7 952.7,249.8 953.2,249.8 953.7,249.8 954.2,249.6 954.7,249.5 955.2,249.2 955.7,248.2 956.2,247.9 956.7,247.5 957.2,247.3 957.7,247.6 958.1,248 958.6,248.4 959.1,248.4 959.6,248.4 960.1,248 960.6,247.9 961.1,247.4 961.6,247.4 962.1,246.7 962.6,246.6 963.1,246.6 963.6,246.1 964.1,245.4 964.6,244.6 965.1,244.1 965.5,242.7 966,241.6 966.5,239.9 967,239.4 967.5,238.7 968,238.7 968.5,240.2 969,241.8 969.5,243.7 970,245.2 970.5,246.4 971,247.1 971.5,248 972,248.4 972.5,248.8 972.9,248.9 973.4,248.9 973.9,249.2 974.4,249.7 974.9,249.5 975.4,249.4 975.9,249.7 976.4,250.1 976.9,249.6 977.4,249.6 977.9,249.9 978.4,250 978.9,249.9 979.4,249.6 979.8,248.9 980.3,247.6 980.8,243.6 981.3,236.6 981.8,225.4 982.3,213.7 982.8,207.5 983.3,209.9 983.8,218.6 984.3,228.9 984.8,236 985.3,238.6 985.8,239.1 986.3,238 986.8,237.7 987.2,237.5 987.7,237.8 988.2,238.4 988.7,238.4 989.2,238.6 989.7,237.6 990.2,237.3 990.7,236.7 991.2,237.3 991.7,237.4 992.2,238.3 992.7,239.8 993.2,241.4 993.7,242.8 994.2,244.1 994.6,244.8 995.1,246.1 995.6,246.3 996.1,247 996.6,247.3 997.1,247.6 997.6,247.9 998.1,248.1 998.6,248.3 999.1,248.7 999.6,248.6 1000.1,249.1 1000.6,249 1003,249.6 1005.5,250 1008,250.4 1010.4,250.2 1012.9,250 1013.4,250.2 1013.9,250.2 1014.4,249.9 1014.9,249.4 1015.4,249.7 1015.9,249.4 1016.3,248.7 1016.8,248.1 1017.3,247.6 1017.8,247.4 1018.3,246.6 1018.8,246.8 1019.3,246.4 1019.8,246.8 1020.3,247 1020.8,247.3 1021.3,247.7 1021.8,247.9 1022.3,248.4 1022.8,249 1023.3,249 1023.7,249.7 1024.2,250 1024.7,250.2 1025.2,250 1025.7,250 1026.2,250.6 1026.7,250.7 1027.2,250.2 1027.7,250.6 1028.2,250.1 1028.7,250.4 1031.1,250.4 1033.6,250.6 1036.1,250.3 1038.5,250.5 1041,250.6 1043.5,250.2 1044,250.7 1044.5,250.2 1045,250.5 1045.4,250 1045.9,249.9 1046.4,249.4 1046.9,249.6 1047.4,249 1047.9,249 1048.4,248.6 1048.9,248.7 1049.4,249.2 1049.9,249.7 1050.4,250 1050.9,250.2 1051.4,250.3 1051.9,250.5 1052.4,250.6 1052.8,250.3 1053.3,250.4 1053.8,250.6 1054.3,250.2 1054.8,250.7 1055.3,250.4 1055.8,250.6 1056.3,250.1 1056.8,249.8 1057.3,249.7 1057.8,248.5 1058.3,247.4 1058.8,246.3 1059.3,245 1059.7,244.1 1060.2,243.6 1060.7,244.5 1061.2,245.2 1061.7,246.5 1062.2,247.7 1062.7,248.3 1063.2,248.3 1063.7,248.5 1064.2,247.5 1064.7,247.2 1065.2,246.6 1065.7,246.5 1066.2,247.2 1066.7,247.5 1067.1,248.1 1067.6,249.3 1068.1,250 1068.6,250.4 1069.1,250.1 1069.6,250.8 1070.1,250.3 1070.6,250.8 1071.1,250.4 1071.6,250.8 1074.1,250.8 1076.5,250.4 1079,250.8 1081.4,250.7 1083.9,250.3 1086.4,250.4 1088.8,250.3 1091.3,250.3 1093.8,250.8 1094.3,250.7 1094.8,250.3 1095.3,250.3 1095.8,250.6 1096.2,250.3 1096.7,250.4 1097.2,250.2 1097.7,250.4 1098.2,250.5 1098.7,250 1099.2,250.4 1099.7,250.2 1100.2,250.7 1100.7,250.5 1101.2,250.8 1101.7,250.6 1102.2,250.8 1102.7,250.5 1103.1,250.8 1103.6,250.4 1104.1,250.6 1104.6,250.8 1105.1,250.7 1105.6,250.6 1106.1,250.3 1106.6,250.6 1107.1,250.6 1107.6,250 1108.1,250 1108.6,250 1109.1,250.2 1109.6,250.3 1110.1,250.3 1110.5,250.6 1111,250.7 1111.5,250.5 1112,250.6 1112.5,250.5 1115,250.7 1117.5,250.9 1119.9,250.5L1119.9,252.6Z" fill="#10f0e0" stroke="#2a2a3a" stroke-width="0.45" stroke-linejoin="round"/>
<path d="M787.3,260.5L787.3,255.6 789.8,255.2 792.3,254.8 794.7,254.2 797.2,253.5 799.6,253 802.1,252.5 804.6,252.1 807,251.5 809.5,250.8 812,249.9 814.4,249.7 816.9,249.1 819.4,248.6 821.8,248.3 824.3,247.4 826.8,247.7 829.2,247.1 831.7,246.8 834.2,247.1 836.6,246.9 839.1,247.1 841.6,247.2 844,247.4 846.5,247.6 849,247.3 851.4,247.6 853.9,247.7 856.4,248.5 858.8,248.4 861.3,249 863.8,249.1 866.2,249.5 868.7,250 871.2,250 873.6,250.9 876.1,250.9 878.6,251.2 881,251.8 883.5,252.1 886,252.2 888.4,253.1 890.9,253.2 893.4,253.5 895.8,254 898.3,254.1 900.8,254.6 903.2,254.8 905.7,255.1 908.2,255.3 910.6,255.7 911.1,255.6 911.6,255.7 912.1,255.9 912.6,255.7 913.1,255.9 913.6,255.5 914.1,255.8 914.6,255.5 915.1,255.6 915.6,255.7 916,255.9 916.5,256.1 917,255.7 917.5,256.1 918,256.2 918.5,256.3 919,256.1 921.5,256.7 923.9,256.9 926.4,256.6 928.9,257 931.3,257 933.8,257 936.3,257.1 938.7,257.2 941.2,257.8 943.7,257.6 944.2,257.4 944.7,257.4 945.1,257.8 945.6,257.8 946.1,257.8 946.6,257.9 947.1,257.7 947.6,257.4 948.1,257.5 948.6,257.3 949.1,257.2 949.6,256.6 950.1,255.8 950.6,255.6 951.1,255.6 951.6,255.7 952,255.8 952.5,256.1 953,256.6 953.5,256.3 954,256.3 954.5,256 955,255.9 955.5,255.6 956,255.3 956.5,254.9 957,254.8 957.5,254.4 958,253.7 958.5,253.5 959,252.7 959.4,251.3 959.9,250.4 960.4,249.1 960.9,248.2 961.4,247.5 961.9,248.2 962.4,248.9 962.9,250.2 963.4,252.2 963.9,253.4 964.4,254.4 964.9,255.3 965.4,256 965.9,256.7 966.4,256.7 966.8,257 967.3,257 967.8,257.4 968.3,257.5 968.8,257.5 969.3,257.5 969.8,257.8 970.3,257.8 970.8,257.7 971.3,257.5 971.8,258 972.3,257.5 972.8,257.6 973.3,257.7 973.7,257.1 974.2,256 974.7,252.9 975.2,246 975.7,236.7 976.2,226.7 976.7,221.3 977.2,223 977.7,230.7 978.2,239.9 978.7,245.5 979.2,248.1 979.7,248.3 980.2,247.5 980.7,247.3 981.1,247.2 981.6,247.2 982.1,247.8 982.6,247.9 983.1,247.8 983.6,247.3 984.1,246.9 984.6,246.6 985.1,246.8 985.6,247.4 986.1,247.8 986.6,249 987.1,250.1 987.6,251.4 988.1,252.9 988.5,253.8 989,254.6 989.5,254.7 990,255.6 990.5,255.9 991,255.8 991.5,256.1 992,256.6 992.5,256.4 993,256.6 993.5,256.9 994,257.3 994.5,257.1 996.9,257.8 999.4,258 1001.9,257.9 1004.3,258.1 1006.8,258 1007.3,258.3 1007.8,258.1 1008.3,257.9 1008.8,258 1009.3,257.2 1009.8,257.3 1010.2,256.9 1010.7,256.5 1011.2,256.2 1011.7,255.4 1012.2,255.3 1012.7,255.1 1013.2,255 1013.7,255.3 1014.2,255.3 1014.7,255.2 1015.2,255.6 1015.7,255.9 1016.2,256.7 1016.7,257.1 1017.2,257.6 1017.6,257.6 1018.1,257.9 1018.6,258 1019.1,258.1 1019.6,258.2 1020.1,258.3 1020.6,258.1 1021.1,258.5 1021.6,258.1 1022.1,258.3 1022.6,258.6 1025,258.5 1027.5,258.3 1030,258.4 1032.4,258.3 1034.9,258.5 1037.4,258.5 1037.9,258.2 1038.4,258.4 1038.9,258.1 1039.3,257.9 1039.8,257.8 1040.3,257.7 1040.8,257.1 1041.3,257.2 1041.8,256.8 1042.3,257.3 1042.8,257.1 1043.3,257.2 1043.8,257.8 1044.3,257.6 1044.8,258.3 1045.3,258.1 1045.8,258.5 1046.3,258.1 1046.7,258.4 1047.2,258.2 1047.7,258.4 1048.2,258.3 1048.7,258.3 1049.2,258.5 1049.7,258.5 1050.2,258 1050.7,258.2 1051.2,257.3 1051.7,257 1052.2,256.1 1052.7,254.9 1053.2,253.4 1053.6,252.6 1054.1,252.7 1054.6,252.9 1055.1,254 1055.6,254.7 1056.1,255.8 1056.6,256.8 1057.1,257 1057.6,256.4 1058.1,256.3 1058.6,255.3 1059.1,255.3 1059.6,255.3 1060.1,255.4 1060.6,256.1 1061,256.6 1061.5,257.5 1062,257.5 1062.5,258.2 1063,258.1 1063.5,258.6 1064,258.2 1064.5,258.2 1065,258.5 1065.5,258.7 1068,258.5 1070.4,258.4 1072.9,258.6 1075.3,258.4 1077.8,258.7 1080.3,258.5 1082.7,258.3 1085.2,258.5 1087.7,258.3 1088.2,258.7 1088.7,258.2 1089.2,258.6 1089.7,258 1090.1,257.9 1090.6,257.9 1091.1,258.1 1091.6,258.3 1092.1,258.2 1092.6,258.1 1093.1,258.3 1093.6,258.1 1094.1,258.6 1094.6,258.4 1095.1,258.2 1095.6,258.4 1096.1,258.4 1096.6,258.7 1097,258.7 1097.5,258.6 1098,258.2 1098.5,258.3 1099,258.6 1099.5,258.2 1100,258.7 1100.5,258.4 1101,258.1 1101.5,258.4 1102,257.9 1102.5,258 1103,258.3 1103.5,258.2 1104,258.2 1104.4,258.4 1104.9,258.2 1105.4,258.6 1105.9,258.3 1106.4,258.6 1108.9,258.7 1111.4,258.5 1113.8,258.7L1113.8,260.5Z" fill="#18e890" stroke="#2a2a3a" stroke-width="0.45" stroke-linejoin="round"/>
<path d="M781.2,268.4L781.2,263.9 783.7,263.4 786.2,263.1 788.6,262.7 791.1,262.5 793.5,261.7 796,261.5 798.5,260.6 800.9,260.4 803.4,259.6 805.9,259.2 808.3,258.7 810.8,258.1 813.3,257.9 815.7,257.5 818.2,256.7 820.7,256.8 823.1,256.3 825.6,256.1 828.1,256.3 830.5,256.4 833,256.5 835.5,256.1 837.9,256.6 840.4,256.5 842.9,256.7 845.3,257.1 847.8,257.1 850.3,257.5 852.7,257.5 855.2,257.8 857.7,258.1 860.1,258.5 862.6,258.7 865.1,259.2 867.5,259.5 870,259.8 872.5,259.7 874.9,260.3 877.4,260.4 879.9,261.2 882.3,261 884.8,261.6 887.3,261.7 889.7,262.1 892.2,262.4 894.7,262.9 897.1,262.9 899.6,263.5 902.1,263.6 904.5,264 905,263.8 905.5,263.8 906,263.9 906.5,263.6 907,264.1 907.5,263.8 908,264 908.5,263.7 909,263.6 909.5,263.6 909.9,264.1 910.4,264.1 910.9,264 911.4,263.9 911.9,264.5 912.4,264.2 912.9,264.2 915.4,264.3 917.8,264.8 920.3,264.6 922.8,265 925.2,264.8 927.7,265.4 930.2,265 932.6,265.4 935.1,265.5 937.6,265.7 938.1,265.7 938.6,265.4 939,265.4 939.5,265.8 940,265.6 940.5,265.8 941,265.7 941.5,265.7 942,265.5 942.5,265 943,264.7 943.5,264.5 944,264.2 944.5,263.9 945,263.6 945.5,263.6 945.9,264 946.4,264.2 946.9,264.6 947.4,264.4 947.9,264.1 948.4,263.9 948.9,264.1 949.4,263.5 949.9,263.4 950.4,263.3 950.9,262.5 951.4,262.4 951.9,261.9 952.4,261.8 952.9,260.7 953.3,259.7 953.8,258.7 954.3,257.7 954.8,256.7 955.3,256.4 955.8,256.8 956.3,257.8 956.8,258.9 957.3,260.3 957.8,261.5 958.3,262.9 958.8,263.3 959.3,264.1 959.8,264.2 960.3,265 960.7,264.7 961.2,265 961.7,265.5 962.2,265.2 962.7,265.7 963.2,265.8 963.7,265.7 964.2,265.9 964.7,265.7 965.2,265.5 965.7,265.6 966.2,265.6 966.7,265.7 967.2,265.4 967.6,265 968.1,264 968.6,261.1 969.1,255.5 969.6,247.5 970.1,239.1 970.6,234.1 971.1,235.7 971.6,242.6 972.1,250 972.6,255 973.1,257.2 973.6,257.8 974.1,257 974.6,256.9 975,256.8 975.5,256.6 976,257.1 976.5,257.2 977,257.2 977.5,257 978,256.6 978.5,256.3 979,256 979.5,256.5 980,257.4 980.5,258.4 981,259.4 981.5,260.2 982,261.4 982.4,262 982.9,262.6 983.4,263.5 983.9,263.5 984.4,264.2 984.9,264 985.4,264.5 985.9,264.7 986.4,264.4 986.9,264.9 987.4,265.2 987.9,264.9 988.4,265.2 990.8,265.5 993.3,266.1 995.8,266.1 998.2,265.9 1000.7,266.1 1001.2,265.8 1001.7,266.2 1002.2,265.7 1002.7,265.9 1003.2,265.5 1003.7,265.5 1004.1,265.1 1004.6,264.3 1005.1,264.3 1005.6,263.7 1006.1,263.8 1006.6,263.5 1007.1,263.6 1007.6,263.3 1008.1,263.3 1008.6,263.7 1009.1,264.1 1009.6,264.1 1010.1,264.5 1010.6,265 1011.1,265.6 1011.5,265.5 1012,265.8 1012.5,265.7 1013,266.1 1013.5,266 1014,266.1 1014.5,266.3 1015,266.2 1015.5,266.1 1016,266 1016.5,266.3 1018.9,266.3 1021.4,266 1023.9,266.5 1026.3,266.1 1028.8,266.2 1031.3,266.2 1031.8,266.3 1032.3,266.1 1032.8,265.9 1033.2,265.9 1033.7,265.7 1034.2,265.9 1034.7,265.5 1035.2,265.4 1035.7,264.8 1036.2,264.9 1036.7,265.4 1037.2,265.3 1037.7,265.5 1038.2,266.1 1038.7,266 1039.2,266 1039.7,266.1 1040.2,266.4 1040.6,266.1 1041.1,266.4 1041.6,266.3 1042.1,266.4 1042.6,266 1043.1,266.2 1043.6,266.1 1044.1,266.1 1044.6,266 1045.1,265.3 1045.6,264.8 1046.1,264 1046.6,263.2 1047.1,262.4 1047.5,261.4 1048,261.1 1048.5,261.5 1049,262.5 1049.5,263.6 1050,264.2 1050.5,264.5 1051,265.1 1051.5,264.5 1052,264.5 1052.5,263.9 1053,263.8 1053.5,263.6 1054,263.8 1054.5,263.9 1054.9,264.5 1055.4,265.5 1055.9,265.9 1056.4,265.8 1056.9,266.4 1057.4,266.4 1057.9,266.4 1058.4,266.6 1058.9,266.5 1059.4,266.4 1061.9,266.4 1064.3,266.1 1066.8,266.5 1069.2,266.5 1071.7,266.1 1074.2,266.4 1076.6,266.2 1079.1,266.3 1081.6,266.2 1082.1,266.4 1082.6,266.5 1083.1,266.1 1083.6,266.2 1084,266.1 1084.5,266 1085,265.9 1085.5,266.2 1086,266.2 1086.5,265.9 1087,266.2 1087.5,266.4 1088,266.2 1088.5,266.5 1089,266.2 1089.5,266.6 1090,266.2 1090.5,266.3 1090.9,266.5 1091.4,266.1 1091.9,266.5 1092.4,266.5 1092.9,266.6 1093.4,266.3 1093.9,266.2 1094.4,266.2 1094.9,266.3 1095.4,266 1095.9,266.3 1096.4,266.1 1096.9,265.9 1097.4,265.7 1097.9,266 1098.3,266.1 1098.8,266.1 1099.3,266.4 1099.8,266.1 1100.3,266.2 1102.8,266.5 1105.3,266.4 1107.7,266.2L1107.7,268.4Z" fill="#10e830" stroke="#2a2a3a" stroke-width="0.45" stroke-linejoin="round"/>
<path d="M775.1,276.3L775.1,272.2 777.6,272 780.1,271.2 782.5,271 785,270.6 787.5,270.1 789.9,269.6 792.4,269.6 794.8,269 797.3,268.7 799.8,268 802.2,267.6 804.7,267 807.2,266.7 809.6,266.4 812.1,266.2 814.6,265.8 817,265.8 819.5,265.3 822,265.3 824.4,265.2 826.9,265.7 829.4,265.4 831.8,265.4 834.3,265.7 836.8,265.6 839.2,265.7 841.7,265.9 844.2,266.1 846.6,266.4 849.1,266.5 851.6,267.1 854,267.1 856.5,267.3 859,267.6 861.4,268.1 863.9,268.5 866.4,268.5 868.8,268.6 871.3,269.2 873.8,269.5 876.2,269.8 878.7,270.2 881.2,270.1 883.6,270.2 886.1,270.5 888.6,271 891,271.1 893.5,271.6 896,271.4 898.4,271.9 898.9,272.1 899.4,271.8 899.9,272.1 900.4,272.1 900.9,272.2 901.4,272 901.9,271.9 902.4,271.7 902.9,272.1 903.4,271.7 903.8,272.1 904.3,272.2 904.8,272 905.3,272.3 905.8,272.4 906.3,272.3 906.8,272.5 909.3,272.4 911.7,272.8 914.2,272.6 916.7,272.7 919.1,273 921.6,273.4 924.1,273.1 926.5,273.6 929,273.4 931.5,273.5 932,273.7 932.5,273.4 932.9,273.4 933.4,273.4 933.9,273.6 934.4,273.5 934.9,273.4 935.4,273.6 935.9,273.2 936.4,273 936.9,272.8 937.4,272.4 937.9,272.4 938.4,271.8 938.9,272.2 939.4,272.1 939.8,272.4 940.3,272.4 940.8,272.4 941.3,272.4 941.8,272.4 942.3,272.3 942.8,272.2 943.3,271.8 943.8,271.6 944.3,271.4 944.8,270.8 945.3,270.7 945.8,270.4 946.3,270.1 946.8,269.2 947.2,268.7 947.7,267.6 948.2,266.5 948.7,265.6 949.2,265.2 949.7,265.6 950.2,266.2 950.7,267.4 951.2,268.8 951.7,270 952.2,271.3 952.7,271.9 953.2,272.5 953.7,272.3 954.2,272.6 954.6,272.9 955.1,273.3 955.6,273.4 956.1,273.6 956.6,273.4 957.1,273.3 957.6,273.7 958.1,273.9 958.6,273.9 959.1,273.8 959.6,273.5 960.1,273.5 960.6,273.7 961.1,273.8 961.5,273.5 962,272.5 962.5,269.7 963,265.1 963.5,257.6 964,250.2 964.5,246.2 965,247.9 965.5,253.4 966,260.3 966.5,264.8 967,266.4 967.5,266.6 968,266.3 968.5,266 968.9,266.1 969.4,265.7 969.9,266.1 970.4,266.1 970.9,266 971.4,266.1 971.9,265.6 972.4,265.5 972.9,265.3 973.4,265.6 973.9,266.6 974.4,267.5 974.9,268.3 975.4,269 975.9,270 976.3,270.9 976.8,271 977.3,271.4 977.8,271.9 978.3,272.4 978.8,272.1 979.3,272.5 979.8,272.9 980.3,272.9 980.8,272.9 981.3,272.8 981.8,273.2 982.3,273.2 984.7,273.9 987.2,274.1 989.7,273.8 992.1,274.2 994.6,274.3 995.1,273.9 995.6,274.1 996.1,274 996.6,273.7 997.1,273.4 997.6,273.2 998,272.9 998.5,272.7 999,272.7 999.5,272 1000,272.1 1000.5,271.7 1001,271.7 1001.5,271.6 1002,271.6 1002.5,272.1 1003,272.1 1003.5,272.4 1004,272.8 1004.5,273.3 1005,273.1 1005.4,273.5 1005.9,274 1006.4,274 1006.9,273.7 1007.4,274.2 1007.9,274.2 1008.4,274 1008.9,274 1009.4,274.1 1009.9,274 1010.4,274.4 1012.8,274.4 1015.3,273.9 1017.8,274 1020.2,274.5 1022.7,274.5 1025.2,274.3 1025.7,273.9 1026.2,274.3 1026.7,274 1027.1,273.7 1027.6,273.7 1028.1,273.4 1028.6,273.6 1029.1,273.5 1029.6,273.5 1030.1,273 1030.6,273.5 1031.1,273.1 1031.6,273.5 1032.1,273.9 1032.6,273.7 1033.1,274.2 1033.6,274.1 1034.1,274.4 1034.5,274 1035,274 1035.5,274 1036,274.5 1036.5,274 1037,274.2 1037.5,274 1038,274.1 1038.5,273.8 1039,273.5 1039.5,272.9 1040,272.6 1040.5,271.7 1041,270.6 1041.4,270.2 1041.9,269.9 1042.4,270.5 1042.9,270.7 1043.4,271.9 1043.9,272.2 1044.4,272.6 1044.9,273 1045.4,273 1045.9,272.4 1046.4,272.2 1046.9,271.8 1047.4,272 1047.9,271.7 1048.4,272.4 1048.8,273 1049.3,273.6 1049.8,273.6 1050.3,273.8 1050.8,273.9 1051.3,274.4 1051.8,274.3 1052.3,274.4 1052.8,274.1 1053.3,274.5 1055.8,274.2 1058.2,274 1060.7,274.1 1063.1,274.5 1065.6,274.5 1068.1,274.5 1070.5,274.2 1073,274.2 1075.5,274.2 1076,274.3 1076.5,274.3 1077,274.1 1077.5,274 1077.9,273.8 1078.4,273.9 1078.9,273.8 1079.4,273.8 1079.9,273.8 1080.4,273.9 1080.9,274.4 1081.4,274.1 1081.9,274 1082.4,274.3 1082.9,274 1083.4,274.5 1083.9,274 1084.4,274.3 1084.8,274.2 1085.3,274.4 1085.8,274.4 1086.3,274.4 1086.8,274.4 1087.3,274.5 1087.8,274.3 1088.3,274 1088.8,274.1 1089.3,273.9 1089.8,273.9 1090.3,273.8 1090.8,273.7 1091.3,273.8 1091.8,274.2 1092.2,274.3 1092.7,274.2 1093.2,274.5 1093.7,274.4 1094.2,274.1 1096.7,274 1099.2,274.4 1101.6,274.1L1101.6,276.3Z" fill="#40f010" stroke="#2a2a3a" stroke-width="0.45" stroke-linejoin="round"/>
<path d="M769,284.2L769,280.1 771.5,279.8 774,279.5 776.4,279.4 778.9,279.3 781.4,278.5 783.8,278.4 786.3,277.9 788.7,277.6 791.2,277.1 793.7,276.5 796.1,276.6 798.6,276.1 801.1,275.7 803.5,275.4 806,274.9 808.5,275 810.9,274.5 813.4,274.5 815.9,274.3 818.3,274.8 820.8,274.7 823.3,274.7 825.7,274.4 828.2,275 830.7,274.9 833.1,274.8 835.6,274.8 838.1,275.4 840.5,275.4 843,275.4 845.5,275.6 847.9,275.8 850.4,276 852.9,276.5 855.3,276.8 857.8,277.1 860.3,277 862.7,277.5 865.2,277.7 867.7,277.5 870.1,278 872.6,278.2 875.1,278.4 877.5,278.7 880,278.8 882.5,279.3 884.9,279.6 887.4,279.8 889.9,280 892.3,280 892.8,280.1 893.3,280.2 893.8,280 894.3,279.8 894.8,279.9 895.3,280.2 895.8,279.9 896.3,280.2 896.8,280.2 897.3,280.1 897.7,280.1 898.2,280 898.7,280.2 899.2,280.1 899.7,280.6 900.2,280.1 900.7,280.5 903.2,280.4 905.6,281 908.1,280.6 910.6,281.1 913,280.8 915.5,280.9 918,281.1 920.4,281.4 922.9,281.6 925.4,281.6 925.9,281.2 926.4,281.6 926.8,281.3 927.3,281.4 927.8,281.4 928.3,281.6 928.8,281.7 929.3,281.7 929.8,281.1 930.3,281.3 930.8,281 931.3,280.7 931.8,280.6 932.3,280.5 932.8,280.4 933.3,280 933.7,280.6 934.2,280.2 934.7,280.6 935.2,280.4 935.7,280.6 936.2,280.1 936.7,280.2 937.2,279.9 937.7,279.6 938.2,279.6 938.7,279.3 939.2,278.7 939.7,278.7 940.2,278.3 940.7,277.5 941.1,277.1 941.6,276.2 942.1,275.3 942.6,274.6 943.1,274.3 943.6,274.4 944.1,275.2 944.6,276 945.1,277.6 945.6,278.3 946.1,279 946.6,280 947.1,280.5 947.6,280.6 948.1,281 948.5,281 949,281 949.5,281.5 950,281.6 950.5,281.5 951,281.7 951.5,281.7 952,281.7 952.5,281.9 953,281.9 953.5,281.7 954,281.7 954.5,281.4 955,281.5 955.4,281.5 955.9,280.6 956.4,278.2 956.9,274.1 957.4,267.8 957.9,261.3 958.4,257.9 958.9,259.6 959.4,264 959.9,269.9 960.4,273.9 960.9,275.6 961.4,275.3 961.9,275.3 962.4,275.1 962.8,274.9 963.3,274.7 963.8,275.2 964.3,275.2 964.8,275.5 965.3,275.1 965.8,274.9 966.3,274.7 966.8,274.5 967.3,274.9 967.8,275.5 968.3,275.8 968.8,276.9 969.3,277.8 969.8,278.6 970.2,278.9 970.7,279.5 971.2,280.1 971.7,280.1 972.2,280.2 972.7,280.5 973.2,280.8 973.7,280.8 974.2,280.8 974.7,280.9 975.2,281.3 975.7,281 976.2,281.1 978.6,281.5 981.1,281.7 983.6,282 986,281.8 988.5,282.1 989,282.1 989.5,281.8 990,281.5 990.5,281.9 991,281.7 991.5,281.6 991.9,281.1 992.4,281 992.9,280.7 993.4,280.2 993.9,280.1 994.4,279.7 994.9,279.9 995.4,279.8 995.9,280.3 996.4,279.9 996.9,280.6 997.4,280.7 997.9,280.9 998.4,280.9 998.9,281.4 999.3,281.3 999.8,281.7 1000.3,282 1000.8,281.7 1001.3,282.1 1001.8,281.7 1002.3,282.1 1002.8,282.2 1003.3,281.8 1003.8,282.2 1004.3,282.1 1006.7,282.2 1009.2,282 1011.7,282.4 1014.1,282.2 1016.6,282.3 1019.1,281.9 1019.6,282.4 1020.1,282 1020.6,282.1 1021,281.9 1021.5,281.7 1022,281.5 1022.5,281.7 1023,281.5 1023.5,281.4 1024,280.9 1024.5,281.5 1025,281.6 1025.5,281.6 1026,281.7 1026.5,281.6 1027,282.2 1027.5,282.2 1028,282.3 1028.4,282.1 1028.9,282.1 1029.4,282.2 1029.9,281.9 1030.4,282 1030.9,281.9 1031.4,281.8 1031.9,282.1 1032.4,281.6 1032.9,281.6 1033.4,281.4 1033.9,280.2 1034.4,280 1034.9,279.3 1035.3,278.6 1035.8,278.5 1036.3,278.4 1036.8,279 1037.3,279.9 1037.8,280.5 1038.3,280.7 1038.8,280.9 1039.3,280.8 1039.8,280.6 1040.3,280.5 1040.8,280.2 1041.3,279.9 1041.8,280.1 1042.3,280.4 1042.7,280.8 1043.2,281.1 1043.7,281.9 1044.2,282.2 1044.7,281.8 1045.2,282.1 1045.7,282.3 1046.2,282 1046.7,282.3 1047.2,282.3 1049.7,282.2 1052.1,282.1 1054.6,282.1 1057,282.4 1059.5,282 1062,282.1 1064.4,282.2 1066.9,282.1 1069.4,282 1069.9,282.4 1070.4,282.1 1070.9,282 1071.4,281.9 1071.8,281.9 1072.3,282.2 1072.8,281.7 1073.3,281.8 1073.8,282.1 1074.3,282 1074.8,281.8 1075.3,282.2 1075.8,282.2 1076.3,281.9 1076.8,281.9 1077.3,282.3 1077.8,282 1078.3,282.3 1078.7,282.1 1079.2,282 1079.7,282.4 1080.2,282.3 1080.7,282.3 1081.2,282.3 1081.7,282.4 1082.2,282.3 1082.7,282.2 1083.2,282.1 1083.7,282.2 1084.2,281.9 1084.7,281.6 1085.2,281.9 1085.7,282 1086.1,281.9 1086.6,282.1 1087.1,282.3 1087.6,282.2 1088.1,282.5 1090.6,282.1 1093.1,282.4 1095.5,282.3L1095.5,284.2Z" fill="#a8f018" stroke="#2a2a3a" stroke-width="0.45" stroke-linejoin="round"/>
<path d="M762.9,292.1L762.9,288.2 765.4,288.1 767.9,287.8 770.3,287.6 772.8,287.3 775.2,287 777.7,286.5 780.2,286.6 782.6,286 785.1,285.9 787.6,285.6 790,285 792.5,284.8 795,284.4 797.4,284.2 799.9,284.1 802.4,284.1 804.8,284.1 807.3,283.6 809.8,283.5 812.2,283.7 814.7,283.8 817.2,283.9 819.6,283.8 822.1,283.6 824.6,284 827,284 829.5,284.1 832,284 834.4,283.9 836.9,284.6 839.4,284.7 841.8,284.4 844.3,284.6 846.8,285.2 849.2,285.3 851.7,285.4 854.2,285.7 856.6,285.9 859.1,286 861.6,286.4 864,286.7 866.5,286.9 869,287 871.4,287.2 873.9,287.1 876.4,287.3 878.8,287.7 881.3,287.6 883.8,287.7 886.2,288.1 886.7,288.1 887.2,288.3 887.7,287.9 888.2,288.1 888.7,288.4 889.2,288.3 889.7,288 890.2,288.1 890.7,287.9 891.2,288.2 891.6,288 892.1,288 892.6,288.5 893.1,288.3 893.6,288.6 894.1,288.3 894.6,288.3 897.1,288.4 899.5,288.9 902,289 904.5,288.8 906.9,289 909.4,289.3 911.9,289.3 914.3,289.2 916.8,289.5 919.3,289.3 919.8,289.5 920.3,289.5 920.7,289.4 921.2,289.4 921.7,289.3 922.2,289.7 922.7,289.3 923.2,289.5 923.7,289.5 924.2,289.2 924.7,288.9 925.2,288.7 925.7,288.3 926.2,288.5 926.7,288.4 927.2,288.2 927.6,288.6 928.1,288.8 928.6,288.8 929.1,288.4 929.6,288.3 930.1,288.2 930.6,287.9 931.1,287.8 931.6,287.9 932.1,287.7 932.6,287.2 933.1,287.4 933.6,286.8 934.1,286.7 934.6,286.2 935,285.3 935.5,284.8 936,283.5 936.5,283 937,282.9 937.5,283.3 938,284 938.5,284.7 939,285.7 939.5,286.7 940,287.3 940.5,287.9 941,288.2 941.5,288.8 942,289.1 942.4,289.1 942.9,289.1 943.4,289.4 943.9,289.3 944.4,289.6 944.9,289.6 945.4,289.6 945.9,289.5 946.4,289.4 946.9,289.7 947.4,289.6 947.9,289.4 948.4,289.3 948.9,289.4 949.3,289.5 949.8,288.6 950.3,286.7 950.8,283.3 951.3,278 951.8,272 952.3,269 952.8,270.5 953.3,274.6 953.8,279.4 954.3,282.9 954.8,284.4 955.3,284.2 955.8,283.8 956.3,283.8 956.7,283.9 957.2,283.9 957.7,284.3 958.2,283.9 958.7,284.3 959.2,284 959.7,283.5 960.2,283.7 960.7,283.7 961.2,283.9 961.7,284.3 962.2,284.7 962.7,285.3 963.2,286.3 963.7,287 964.1,287.2 964.6,287.8 965.1,288.1 965.6,288.5 966.1,288.6 966.6,288.4 967.1,289 967.6,289 968.1,288.8 968.6,288.8 969.1,288.9 969.6,289.3 970.1,289.1 972.5,289.6 975,289.9 977.5,289.9 979.9,289.8 982.4,289.8 982.9,290.1 983.4,290 983.9,289.5 984.4,289.8 984.9,289.3 985.4,289.4 985.8,289.3 986.3,289 986.8,288.7 987.3,288.2 987.8,288.5 988.3,288 988.8,288.2 989.3,288.3 989.8,288.1 990.3,288.4 990.8,288.7 991.3,288.8 991.8,288.8 992.3,289 992.8,289.4 993.2,289.8 993.7,289.5 994.2,289.7 994.7,289.6 995.2,289.6 995.7,290 996.2,289.8 996.7,289.8 997.2,290.1 997.7,290.1 998.2,290.1 1000.6,290.1 1003.1,290.1 1005.6,290.2 1008,290.2 1010.5,289.8 1013,290.1 1013.5,289.9 1014,289.7 1014.5,289.8 1014.9,290 1015.4,289.5 1015.9,289.4 1016.4,289.2 1016.9,289.2 1017.4,289.1 1017.9,289.1 1018.4,289.4 1018.9,289.3 1019.4,289.6 1019.9,289.5 1020.4,290 1020.9,289.9 1021.4,290 1021.9,289.8 1022.3,290.1 1022.8,289.8 1023.3,289.8 1023.8,289.8 1024.3,290.2 1024.8,289.8 1025.3,289.9 1025.8,289.8 1026.3,289.7 1026.8,289.8 1027.3,288.9 1027.8,288.6 1028.3,288 1028.8,287.4 1029.2,286.8 1029.7,286.6 1030.2,286.8 1030.7,287.7 1031.2,288.2 1031.7,288.8 1032.2,289.2 1032.7,289.2 1033.2,289.2 1033.7,288.5 1034.2,288.6 1034.7,288.4 1035.2,288.4 1035.7,288.2 1036.2,288.8 1036.6,289.1 1037.1,289.4 1037.6,289.5 1038.1,289.6 1038.6,290.1 1039.1,289.9 1039.6,289.8 1040.1,290.1 1040.6,289.8 1041.1,289.9 1043.6,290.2 1046,289.9 1048.5,290 1050.9,290.3 1053.4,290 1055.9,289.9 1058.3,290.1 1060.8,290.1 1063.3,290.1 1063.8,289.8 1064.3,289.9 1064.8,290.2 1065.3,290 1065.7,290 1066.2,289.6 1066.7,289.8 1067.2,290.1 1067.7,289.7 1068.2,290.2 1068.7,289.9 1069.2,290 1069.7,289.9 1070.2,290.1 1070.7,290.3 1071.2,290.1 1071.7,289.9 1072.2,289.9 1072.6,290.2 1073.1,290.2 1073.6,289.9 1074.1,289.9 1074.6,290.2 1075.1,289.9 1075.6,289.8 1076.1,290.1 1076.6,290.1 1077.1,289.8 1077.6,289.7 1078.1,290 1078.6,289.9 1079.1,289.9 1079.6,289.8 1080,290.1 1080.5,290 1081,290 1081.5,290 1082,290.3 1084.5,289.8 1087,289.8 1089.4,290.1L1089.4,292.1Z" fill="#f8e818" stroke="#2a2a3a" stroke-width="0.45" stroke-linejoin="round"/>
<path d="M756.8,300L756.8,296.4 759.3,296.6 761.8,296 764.2,295.9 766.7,295.6 769.1,295.3 771.6,295.3 774.1,294.7 776.5,294.8 779,294.7 781.5,294.1 783.9,293.7 786.4,293.4 788.9,293.1 791.3,293.2 793.8,292.7 796.3,292.8 798.7,292.9 801.2,292.5 803.7,292.3 806.1,292.5 808.6,292.4 811.1,292.6 813.5,292.6 816,292.6 818.5,292.6 820.9,292.7 823.4,293 825.9,293.1 828.3,293.1 830.8,293 833.3,293.1 835.7,293.5 838.2,293.6 840.7,293.6 843.1,294 845.6,293.9 848.1,293.9 850.5,294.5 853,294.4 855.5,294.5 857.9,294.7 860.4,294.8 862.9,295 865.3,295.4 867.8,295.3 870.3,295.4 872.7,296 875.2,295.6 877.7,296.1 880.1,296.4 880.6,296.4 881.1,296 881.6,296.1 882.1,296.4 882.6,296.3 883.1,296.2 883.6,296 884.1,296.3 884.6,296 885.1,296.3 885.5,296.4 886,296.5 886.5,296.4 887,296.4 887.5,296.6 888,296.7 888.5,296.7 891,296.9 893.4,296.9 895.9,296.9 898.4,296.9 900.8,297.2 903.3,297.1 905.8,297.2 908.2,297 910.7,297.3 913.2,297.1 913.7,297.4 914.2,297.5 914.6,297.3 915.1,297.6 915.6,297.5 916.1,297.6 916.6,297.3 917.1,297.1 917.6,297.4 918.1,297.3 918.6,297.1 919.1,296.9 919.6,296.5 920.1,296.5 920.6,296.6 921.1,296.2 921.5,296.5 922,296.9 922.5,296.5 923,296.5 923.5,296.6 924,296.3 924.5,296 925,296.1 925.5,295.9 926,295.8 926.5,295.5 927,295.2 927.5,294.9 928,294.5 928.5,294.5 928.9,293.8 929.4,292.8 929.9,292.2 930.4,291.7 930.9,291.4 931.4,291.8 931.9,292.1 932.4,293.1 932.9,294.1 933.4,295.1 933.9,295.8 934.4,295.8 934.9,296.2 935.4,296.9 935.9,296.9 936.3,297 936.8,297.1 937.3,297.3 937.8,297.1 938.3,297.5 938.8,297.4 939.3,297.3 939.8,297.4 940.3,297.6 940.8,297.6 941.3,297.6 941.8,297.5 942.3,297.4 942.8,297.6 943.2,297.3 943.7,296.7 944.2,295.2 944.7,291.8 945.2,287.3 945.7,282.7 946.2,280 946.7,280.7 947.2,284.8 947.7,288.7 948.2,291.9 948.7,293 949.2,293.2 949.7,292.5 950.2,292.7 950.6,292.6 951.1,292.8 951.6,292.9 952.1,292.7 952.6,292.7 953.1,292.4 953.6,292.2 954.1,292.2 954.6,292 955.1,292.7 955.6,292.6 956.1,293.4 956.6,294.1 957.1,294.4 957.6,294.9 958,295.6 958.5,296.2 959,296 959.5,296.3 960,296.5 960.5,296.4 961,297.1 961.5,297.2 962,297.2 962.5,297.4 963,297.1 963.5,297.2 964,297.5 966.4,297.8 968.9,297.9 971.4,297.8 973.8,297.7 976.3,297.6 976.8,297.9 977.3,297.5 977.8,297.7 978.3,297.6 978.8,297.6 979.3,297.5 979.7,296.9 980.2,296.7 980.7,296.6 981.2,296.8 981.7,296.6 982.2,296.5 982.7,296.3 983.2,296.1 983.7,296.6 984.2,296.5 984.7,296.5 985.2,297.1 985.7,297.1 986.2,297.1 986.7,297.3 987.1,297.5 987.6,297.4 988.1,297.7 988.6,297.9 989.1,297.9 989.6,297.6 990.1,297.7 990.6,297.7 991.1,297.9 991.6,298.1 992.1,298.1 994.5,298 997,297.8 999.5,298.2 1001.9,297.7 1004.4,297.8 1006.9,297.9 1007.4,298.2 1007.9,297.7 1008.4,297.9 1008.8,297.7 1009.3,297.6 1009.8,297.4 1010.3,297.5 1010.8,297.1 1011.3,297 1011.8,297 1012.3,297.2 1012.8,297.5 1013.3,297.6 1013.8,297.8 1014.3,297.5 1014.8,297.7 1015.3,297.7 1015.8,297.7 1016.2,297.7 1016.7,297.8 1017.2,298 1017.7,297.8 1018.2,298.1 1018.7,297.9 1019.2,298.1 1019.7,297.7 1020.2,297.7 1020.7,297.6 1021.2,296.9 1021.7,296.9 1022.2,295.9 1022.7,295.5 1023.1,295.4 1023.6,295 1024.1,295.3 1024.6,295.5 1025.1,296.2 1025.6,296.8 1026.1,296.8 1026.6,297.3 1027.1,296.9 1027.6,297 1028.1,296.7 1028.6,296.6 1029.1,296.1 1029.6,296.5 1030.1,296.6 1030.5,297.2 1031,297.3 1031.5,297.5 1032,298 1032.5,297.9 1033,297.8 1033.5,298.1 1034,297.9 1034.5,298.1 1035,298 1037.5,297.7 1039.9,297.7 1042.4,297.7 1044.8,298 1047.3,297.9 1049.8,297.8 1052.2,297.8 1054.7,298 1057.2,297.8 1057.7,298 1058.2,297.7 1058.7,297.9 1059.2,298.1 1059.6,297.7 1060.1,298 1060.6,297.7 1061.1,298 1061.6,297.6 1062.1,297.8 1062.6,297.7 1063.1,298.1 1063.6,297.9 1064.1,298 1064.6,298.1 1065.1,297.8 1065.6,298.2 1066.1,298 1066.5,298.2 1067,297.8 1067.5,297.8 1068,298.2 1068.5,298 1069,298 1069.5,297.8 1070,297.8 1070.5,298 1071,297.6 1071.5,298 1072,298 1072.5,297.6 1073,298 1073.5,298 1073.9,297.9 1074.4,298 1074.9,298.1 1075.4,297.7 1075.9,298 1078.4,297.8 1080.9,298.1 1083.3,297.8L1083.3,300Z" fill="#f8c018" stroke="#2a2a3a" stroke-width="0.45" stroke-linejoin="round"/>
<path d="M750.7,307.9L750.7,304.9 753.2,304.3 755.7,304.3 758.1,303.9 760.6,303.8 763,303.7 765.5,303.5 768,303.2 770.4,303.1 772.9,303.1 775.4,302.5 777.8,302.3 780.3,302.1 782.8,301.9 785.2,302 787.7,301.7 790.2,301.4 792.6,301.2 795.1,301.1 797.6,301.5 800,301.2 802.5,301.2 805,301.3 807.4,301.5 809.9,301.5 812.4,301.4 814.8,301.4 817.3,301.6 819.8,301.6 822.2,301.6 824.7,301.6 827.2,301.8 829.6,302.1 832.1,301.9 834.6,302.3 837,302.1 839.5,302.2 842,302.8 844.4,302.7 846.9,302.6 849.4,303.1 851.8,303.1 854.3,303.4 856.8,303.7 859.2,303.7 861.7,303.9 864.2,303.9 866.6,303.8 869.1,304 871.6,303.9 874,304.2 874.5,304.4 875,304.1 875.5,304.3 876,304.3 876.5,304.2 877,304.3 877.5,304.4 878,304.3 878.5,304.4 879,304 879.4,304.5 879.9,304.1 880.4,304.7 880.9,304.8 881.4,304.5 881.9,304.7 882.4,304.6 884.9,304.9 887.3,304.6 889.8,304.8 892.3,304.8 894.7,304.8 897.2,304.8 899.7,305 902.1,305.1 904.6,305.5 907.1,305.5 907.6,305.3 908.1,305.1 908.5,305.4 909,305.3 909.5,305.6 910,305.4 910.5,305.1 911,305.3 911.5,305.1 912,305.5 912.5,305.2 913,305 913.5,304.5 914,304.7 914.5,304.2 915,304.6 915.4,304.4 915.9,304.7 916.4,304.8 916.9,304.4 917.4,304.6 917.9,304.4 918.4,304.5 918.9,304 919.4,303.7 919.9,304 920.4,303.5 920.9,303.6 921.4,303.4 921.9,303 922.4,302.5 922.8,301.8 923.3,301.2 923.8,300.5 924.3,300.2 924.8,300 925.3,300.5 925.8,300.7 926.3,301.5 926.8,302.4 927.3,302.9 927.8,303.8 928.3,304.3 928.8,304.6 929.3,304.9 929.8,304.8 930.2,304.8 930.7,305.3 931.2,305.2 931.7,305.2 932.2,305.3 932.7,305.5 933.2,305.4 933.7,305.7 934.2,305.7 934.7,305.5 935.2,305.6 935.7,305.4 936.2,305.6 936.7,305.3 937.1,305.4 937.6,305 938.1,303.4 938.6,300.7 939.1,296.8 939.6,292.4 940.1,290.4 940.6,291 941.1,294.1 941.6,298 942.1,300.4 942.6,301.2 943.1,301.5 943.6,301.5 944.1,301.3 944.5,301.3 945,301.3 945.5,301.6 946,301.4 946.5,301.4 947,301.3 947.5,301.1 948,300.7 948.5,301.1 949,301.3 949.5,301.5 950,302 950.5,302.2 951,302.8 951.5,303.4 951.9,304 952.4,304.3 952.9,304.5 953.4,304.3 953.9,304.6 954.4,305 954.9,304.8 955.4,305.2 955.9,305 956.4,305.2 956.9,305.4 957.4,305.1 957.9,305.2 960.3,305.5 962.8,305.9 965.3,305.6 967.7,305.8 970.2,305.6 970.7,305.9 971.2,305.5 971.7,305.9 972.2,305.7 972.7,305.5 973.2,305.5 973.6,305.4 974.1,304.9 974.6,304.6 975.1,304.8 975.6,304.7 976.1,304.3 976.6,304.5 977.1,304.5 977.6,304.4 978.1,304.6 978.6,304.9 979.1,305.1 979.6,305 980.1,305 980.6,305.1 981,305.7 981.5,305.6 982,305.7 982.5,305.9 983,305.7 983.5,305.8 984,305.6 984.5,305.9 985,305.6 985.5,305.6 986,305.8 988.4,306 990.9,305.8 993.4,306 995.8,305.7 998.3,305.7 1000.8,305.8 1001.3,305.6 1001.8,306 1002.3,305.6 1002.7,305.5 1003.2,305.8 1003.7,305.6 1004.2,305.6 1004.7,305.3 1005.2,305.1 1005.7,305.3 1006.2,305.2 1006.7,305.4 1007.2,305.4 1007.7,305.7 1008.2,305.4 1008.7,305.8 1009.2,306.1 1009.7,306 1010.1,305.7 1010.6,305.6 1011.1,305.8 1011.6,306 1012.1,305.6 1012.6,305.7 1013.1,306 1013.6,305.8 1014.1,305.6 1014.6,305.7 1015.1,305.4 1015.6,304.9 1016.1,304.1 1016.6,303.6 1017,303.6 1017.5,303.2 1018,303.4 1018.5,303.8 1019,304.4 1019.5,304.6 1020,305 1020.5,304.9 1021,305 1021.5,305 1022,304.6 1022.5,304.5 1023,304.5 1023.5,304.7 1024,304.8 1024.4,305.1 1024.9,305.5 1025.4,305.7 1025.9,305.7 1026.4,305.8 1026.9,305.9 1027.4,305.8 1027.9,306 1028.4,305.8 1028.9,306 1031.4,305.7 1033.8,305.8 1036.3,305.7 1038.7,305.9 1041.2,306 1043.7,305.6 1046.1,305.9 1048.6,305.9 1051.1,306 1051.6,305.9 1052.1,305.7 1052.6,305.7 1053.1,305.8 1053.5,305.6 1054,305.9 1054.5,305.8 1055,305.8 1055.5,305.8 1056,305.8 1056.5,305.7 1057,305.7 1057.5,306 1058,306 1058.5,305.7 1059,305.8 1059.5,305.8 1060,305.8 1060.4,305.8 1060.9,306 1061.4,306.1 1061.9,306 1062.4,306.1 1062.9,305.6 1063.4,305.9 1063.9,305.8 1064.4,305.6 1064.9,305.6 1065.4,305.9 1065.9,305.8 1066.4,305.9 1066.9,305.5 1067.4,305.6 1067.8,305.8 1068.3,305.9 1068.8,306 1069.3,305.9 1069.8,305.8 1072.3,305.7 1074.8,305.7 1077.2,305.7L1077.2,307.9Z" fill="#f89820" stroke="#2a2a3a" stroke-width="0.45" stroke-linejoin="round"/>
<path d="M744.6,315.8L744.6,312.8 747.1,312.7 749.6,312.6 752,312.1 754.5,312.4 757,312.2 759.4,312 761.9,311.4 764.3,311.3 766.8,311.4 769.3,310.9 771.7,310.7 774.2,310.8 776.7,310.8 779.1,310.3 781.6,310.4 784.1,310.4 786.5,309.9 789,310 791.5,310 793.9,309.9 796.4,310 798.9,310.2 801.3,310 803.8,310 806.3,310.2 808.7,310.1 811.2,309.9 813.7,310.2 816.1,310.1 818.6,310.2 821.1,310.5 823.5,310.7 826,310.5 828.5,310.6 830.9,310.9 833.4,311 835.9,310.8 838.3,310.9 840.8,311.3 843.3,311.3 845.7,311.4 848.2,311.6 850.7,311.9 853.1,311.8 855.6,311.8 858.1,311.9 860.5,312.1 863,312.4 865.5,312.4 867.9,312.5 868.4,312.4 868.9,312.5 869.4,312.2 869.9,312.6 870.4,312.2 870.9,312.6 871.4,312.2 871.9,312.5 872.4,312.3 872.9,312.5 873.3,312.7 873.8,312.3 874.3,312.4 874.8,312.7 875.3,312.5 875.8,312.6 876.3,312.4 878.8,313 881.2,312.9 883.7,313 886.2,312.9 888.6,312.9 891.1,312.9 893.6,313.1 896,313.2 898.5,313.1 901,313.5 901.5,313.4 902,313.1 902.4,313.3 902.9,313 903.4,313.5 903.9,313.3 904.4,313.4 904.9,313.5 905.4,313.4 905.9,313.4 906.4,313.1 906.9,312.9 907.4,312.7 907.9,312.7 908.4,312.4 908.9,312.5 909.3,312.4 909.8,312.9 910.3,312.7 910.8,312.7 911.3,312.7 911.8,312.3 912.3,312.5 912.8,312 913.3,312.2 913.8,312 914.3,311.7 914.8,311.6 915.3,311.5 915.8,311.4 916.3,310.6 916.7,310.4 917.2,310 917.7,309.1 918.2,308.8 918.7,308.7 919.2,308.9 919.7,309.1 920.2,310 920.7,310.7 921.2,311.1 921.7,311.9 922.2,312.3 922.7,312.7 923.2,312.6 923.7,312.8 924.1,313 924.6,313.1 925.1,313.3 925.6,313.1 926.1,313.3 926.6,313.2 927.1,313.5 927.6,313.3 928.1,313.7 928.6,313.6 929.1,313.2 929.6,313.3 930.1,313.3 930.6,313.4 931,313.3 931.5,312.9 932,311.8 932.5,309.2 933,305.7 933.5,302.4 934,300.2 934.5,301.2 935,303.7 935.5,307.1 936,309.1 936.5,310.1 937,310 937.5,310 938,309.7 938.4,309.6 938.9,309.9 939.4,310 939.9,309.8 940.4,309.9 940.9,309.7 941.4,309.5 941.9,309.5 942.4,309.6 942.9,309.7 943.4,309.8 943.9,310.3 944.4,310.6 944.9,311.3 945.4,311.7 945.8,311.7 946.3,312.1 946.8,312.4 947.3,312.8 947.8,312.7 948.3,313.1 948.8,312.7 949.3,312.7 949.8,312.9 950.3,313.2 950.8,313 951.3,313.4 951.8,313.1 954.2,313.5 956.7,313.9 959.2,313.4 961.6,313.7 964.1,313.5 964.6,313.5 965.1,313.6 965.6,313.4 966.1,313.6 966.6,313.2 967.1,313.4 967.5,313.4 968,313.1 968.5,313.1 969,313 969.5,312.5 970,312.7 970.5,312.7 971,312.6 971.5,312.7 972,312.4 972.5,312.6 973,312.7 973.5,312.8 974,313.2 974.5,313.2 974.9,313.6 975.4,313.3 975.9,313.4 976.4,313.5 976.9,313.8 977.4,313.9 977.9,313.5 978.4,313.7 978.9,313.6 979.4,313.5 979.9,313.9 982.3,313.6 984.8,313.7 987.3,313.6 989.7,313.8 992.2,313.9 994.7,313.5 995.2,313.8 995.7,313.6 996.2,313.5 996.6,313.7 997.1,313.4 997.6,313.5 998.1,313.5 998.6,313.4 999.1,313 999.6,313.3 1000.1,313.3 1000.6,313.3 1001.1,313.7 1001.6,313.4 1002.1,313.5 1002.6,313.5 1003.1,313.8 1003.6,313.9 1004,313.8 1004.5,313.6 1005,313.7 1005.5,313.8 1006,313.7 1006.5,313.9 1007,313.5 1007.5,313.7 1008,313.6 1008.5,313.3 1009,313.3 1009.5,312.7 1010,312.5 1010.5,311.8 1010.9,311.9 1011.4,311.8 1011.9,311.7 1012.4,312.1 1012.9,312.6 1013.4,312.8 1013.9,313.2 1014.4,313.2 1014.9,313.3 1015.4,312.7 1015.9,312.8 1016.4,312.4 1016.9,312.5 1017.4,312.6 1017.9,312.8 1018.3,313.3 1018.8,313.2 1019.3,313.6 1019.8,313.4 1020.3,313.5 1020.8,313.6 1021.3,313.6 1021.8,313.8 1022.3,313.7 1022.8,313.5 1025.3,313.9 1027.7,314 1030.2,313.8 1032.6,313.8 1035.1,314 1037.6,313.9 1040,313.6 1042.5,313.8 1045,314 1045.5,313.9 1046,313.7 1046.5,313.9 1047,313.7 1047.4,313.7 1047.9,313.7 1048.4,313.7 1048.9,313.5 1049.4,313.9 1049.9,313.5 1050.4,313.9 1050.9,314 1051.4,313.6 1051.9,313.7 1052.4,313.7 1052.9,313.9 1053.4,313.6 1053.9,313.9 1054.3,313.7 1054.8,313.9 1055.3,313.7 1055.8,313.7 1056.3,313.8 1056.8,313.8 1057.3,314 1057.8,313.7 1058.3,313.6 1058.8,313.9 1059.3,313.6 1059.8,313.5 1060.3,313.8 1060.8,313.5 1061.3,313.5 1061.7,313.9 1062.2,313.9 1062.7,314 1063.2,313.9 1063.7,314 1066.2,313.8 1068.7,313.9 1071.1,313.9L1071.1,315.8Z" fill="#f5701e" stroke="#2a2a3a" stroke-width="0.45" stroke-linejoin="round"/>
<path d="M738.5,323.7L738.5,320.9 741,320.8 743.5,320.5 745.9,320.4 748.4,320.5 750.9,320.3 753.3,320.3 755.8,320 758.2,319.9 760.7,319.5 763.2,319.3 765.6,319 768.1,319.3 770.6,319.2 773,318.7 775.5,318.8 778,318.4 780.4,318.6 782.9,318.6 785.4,318.6 787.8,318.2 790.3,318.4 792.8,318.4 795.2,318.4 797.7,318.3 800.2,318.3 802.6,318.5 805.1,318.7 807.6,318.6 810,318.4 812.5,318.7 815,318.7 817.4,318.8 819.9,318.9 822.4,318.9 824.8,319.2 827.3,319.1 829.8,319 832.2,319.5 834.7,319.5 837.2,319.3 839.6,319.4 842.1,320 844.6,319.7 847,319.8 849.5,319.8 852,320.1 854.4,320.4 856.9,320.4 859.4,320.2 861.8,320.3 862.3,320.6 862.8,320.4 863.3,320.4 863.8,320.4 864.3,320.7 864.8,320.5 865.3,320.6 865.8,320.4 866.3,320.5 866.8,320.6 867.2,320.4 867.7,320.6 868.2,320.4 868.7,320.7 869.2,320.6 869.7,320.5 870.2,320.9 872.7,320.6 875.1,321 877.6,320.6 880.1,321.2 882.5,320.9 885,321.1 887.5,321.2 889.9,321.2 892.4,321.2 894.9,321.2 895.4,321.4 895.9,321.2 896.3,321.3 896.8,321 897.3,321.3 897.8,321.3 898.3,321.4 898.8,321 899.3,321.3 899.8,321.1 900.3,320.9 900.8,320.9 901.3,320.6 901.8,320.7 902.3,320.8 902.8,320.8 903.2,320.7 903.7,320.5 904.2,320.9 904.7,320.7 905.2,320.5 905.7,320.6 906.2,320.6 906.7,320.3 907.2,320.2 907.7,319.8 908.2,319.7 908.7,319.9 909.2,319.5 909.7,319.4 910.2,319.2 910.6,318.6 911.1,317.9 911.6,317.7 912.1,317.2 912.6,317 913.1,317.4 913.6,317.4 914.1,318.4 914.6,319 915.1,319.3 915.6,320.2 916.1,320.3 916.6,320.7 917.1,320.7 917.6,321.1 918,321.1 918.5,321.2 919,321.4 919.5,321.4 920,321.4 920.5,321.3 921,321.5 921.5,321.2 922,321.4 922.5,321.5 923,321.5 923.5,321.2 924,321.6 924.5,321.2 924.9,321.4 925.4,320.6 925.9,319.8 926.4,317.7 926.9,314.6 927.4,311.9 927.9,310.2 928.4,310.5 928.9,313 929.4,315.6 929.9,317.7 930.4,318.4 930.9,318.6 931.4,318.3 931.9,318.2 932.3,318.1 932.8,318.3 933.3,318.4 933.8,318.3 934.3,318.5 934.8,318.1 935.3,318.1 935.8,318.1 936.3,318.2 936.8,318.1 937.3,318.4 937.8,318.6 938.3,319.1 938.8,319.5 939.3,319.6 939.7,320.2 940.2,320.1 940.7,320.3 941.2,320.4 941.7,320.5 942.2,321 942.7,320.8 943.2,320.9 943.7,321.2 944.2,320.8 944.7,321.1 945.2,321 945.7,321.2 948.1,321.6 950.6,321.3 953.1,321.7 955.5,321.7 958,321.5 958.5,321.7 959,321.5 959.5,321.4 960,321.6 960.5,321.3 961,321.4 961.4,321.1 961.9,320.9 962.4,320.8 962.9,321 963.4,320.8 963.9,320.4 964.4,320.6 964.9,320.6 965.4,320.7 965.9,320.6 966.4,320.7 966.9,320.9 967.4,321.1 967.9,321.1 968.4,321.3 968.8,321.5 969.3,321.2 969.8,321.3 970.3,321.4 970.8,321.3 971.3,321.6 971.8,321.4 972.3,321.7 972.8,321.5 973.3,321.5 973.8,321.4 976.2,321.5 978.7,321.4 981.2,321.8 983.6,321.5 986.1,321.6 988.6,321.7 989.1,321.7 989.6,321.5 990.1,321.4 990.5,321.4 991,321.4 991.5,321.6 992,321.5 992.5,321.2 993,321.4 993.5,321.3 994,321.4 994.5,321.5 995,321.3 995.5,321.6 996,321.3 996.5,321.7 997,321.4 997.5,321.7 997.9,321.8 998.4,321.7 998.9,321.9 999.4,321.7 999.9,321.7 1000.4,321.9 1000.9,321.4 1001.4,321.7 1001.9,321.8 1002.4,321.1 1002.9,321.3 1003.4,321 1003.9,320.7 1004.4,320.4 1004.8,319.8 1005.3,319.8 1005.8,320 1006.3,320.4 1006.8,320.7 1007.3,320.6 1007.8,321.1 1008.3,320.9 1008.8,320.9 1009.3,321.1 1009.8,320.6 1010.3,320.9 1010.8,320.5 1011.3,320.6 1011.8,320.8 1012.2,321.1 1012.7,321.1 1013.2,321.6 1013.7,321.5 1014.2,321.7 1014.7,321.7 1015.2,321.8 1015.7,321.6 1016.2,321.6 1016.7,321.5 1019.2,321.6 1021.6,321.6 1024.1,321.5 1026.5,321.5 1029,321.6 1031.5,321.8 1033.9,321.5 1036.4,321.7 1038.9,321.9 1039.4,321.7 1039.9,321.5 1040.4,321.4 1040.9,321.5 1041.3,321.5 1041.8,321.4 1042.3,321.4 1042.8,321.6 1043.3,321.6 1043.8,321.5 1044.3,321.7 1044.8,321.8 1045.3,321.6 1045.8,321.5 1046.3,321.8 1046.8,321.6 1047.3,321.5 1047.8,321.9 1048.2,321.9 1048.7,321.7 1049.2,321.8 1049.7,321.5 1050.2,321.4 1050.7,321.7 1051.2,321.5 1051.7,321.6 1052.2,321.8 1052.7,321.4 1053.2,321.7 1053.7,321.8 1054.2,321.6 1054.7,321.8 1055.2,321.6 1055.6,321.7 1056.1,321.4 1056.6,321.7 1057.1,321.5 1057.6,321.5 1060.1,321.6 1062.6,321.8 1065,321.8L1065,323.7Z" fill="#f04a1e" stroke="#2a2a3a" stroke-width="0.45" stroke-linejoin="round"/>
<path d="M732.4,331.6L732.4,328.8 734.9,328.8 737.4,328.5 739.8,328.5 742.3,328.5 744.8,328.2 747.2,327.9 749.7,328.1 752.1,327.9 754.6,327.9 757.1,327.8 759.5,327.6 762,327.3 764.5,327 766.9,326.9 769.4,326.7 771.9,326.7 774.3,326.7 776.8,326.7 779.3,326.9 781.7,326.7 784.2,326.7 786.7,326.5 789.1,326.8 791.6,326.6 794.1,326.7 796.5,326.7 799,326.8 801.5,326.9 803.9,326.7 806.4,326.7 808.9,326.9 811.3,327.2 813.8,327 816.3,326.9 818.7,326.9 821.2,327.1 823.7,327.6 826.1,327.2 828.6,327.4 831.1,327.7 833.5,327.5 836,327.6 838.5,327.6 840.9,328 843.4,328 845.9,328.1 848.3,328.3 850.8,328.1 853.3,328.3 855.7,328.5 856.2,328.4 856.7,328.2 857.2,328.4 857.7,328.2 858.2,328.4 858.7,328.2 859.2,328.7 859.7,328.4 860.2,328.4 860.7,328.3 861.1,328.2 861.6,328.4 862.1,328.5 862.6,328.5 863.1,328.6 863.6,328.5 864.1,328.4 866.6,328.9 869,328.8 871.5,328.6 874,329.1 876.4,328.8 878.9,329.2 881.4,328.9 883.8,328.9 886.3,329.2 888.8,329.2 889.3,329.3 889.8,329 890.2,329.1 890.7,329.1 891.2,329.2 891.7,329.1 892.2,328.9 892.7,329 893.2,328.9 893.7,329.2 894.2,329 894.7,328.9 895.2,328.8 895.7,328.5 896.2,328.7 896.7,328.6 897.1,328.5 897.6,328.5 898.1,328.9 898.6,328.8 899.1,328.6 899.6,328.3 900.1,328.6 900.6,328.1 901.1,328.2 901.6,328 902.1,327.7 902.6,328 903.1,327.7 903.6,327.6 904.1,327.3 904.5,326.9 905,326.3 905.5,325.9 906,325.8 906.5,325.3 907,325.6 907.5,326.1 908,326.3 908.5,326.9 909,327.7 909.5,327.8 910,328.2 910.5,328.7 911,328.9 911.5,328.6 911.9,328.8 912.4,329.2 912.9,328.9 913.4,329 913.9,329.1 914.4,329.1 914.9,329 915.4,329.4 915.9,329.1 916.4,329.1 916.9,329.4 917.4,329.2 917.9,329.2 918.4,329.1 918.8,329.1 919.3,328.9 919.8,328.1 920.3,326.2 920.8,323.8 921.3,320.8 921.8,319.3 922.3,320.1 922.8,322 923.3,324.3 923.8,326.2 924.3,326.6 924.8,326.6 925.3,326.7 925.8,326.7 926.2,326.6 926.7,326.4 927.2,326.7 927.7,326.5 928.2,326.8 928.7,326.8 929.2,326.5 929.7,326.2 930.2,326.5 930.7,326.7 931.2,326.6 931.7,327.2 932.2,327.2 932.7,327.9 933.2,328.1 933.6,328.1 934.1,328.2 934.6,328.6 935.1,328.7 935.6,329 936.1,328.9 936.6,329 937.1,328.8 937.6,328.9 938.1,328.9 938.6,329.1 939.1,329.1 939.6,329.4 942,329.4 944.5,329.5 947,329.6 949.4,329.4 951.9,329.6 952.4,329.5 952.9,329.5 953.4,329.2 953.9,329.3 954.4,329.3 954.9,329.3 955.3,328.9 955.8,328.8 956.3,328.9 956.8,328.8 957.3,328.5 957.8,328.8 958.3,328.7 958.8,328.8 959.3,328.7 959.8,328.6 960.3,329 960.8,329 961.3,328.8 961.8,329.2 962.3,329.3 962.7,329.1 963.2,329.2 963.7,329.5 964.2,329.6 964.7,329.4 965.2,329.4 965.7,329.3 966.2,329.4 966.7,329.6 967.2,329.5 967.7,329.6 970.1,329.6 972.6,329.5 975.1,329.3 977.5,329.3 980,329.3 982.5,329.5 983,329.3 983.5,329.7 984,329.3 984.4,329.4 984.9,329.2 985.4,329.4 985.9,329 986.4,329.4 986.9,329 987.4,329 987.9,329.3 988.4,329.1 988.9,329.5 989.4,329.3 989.9,329.5 990.4,329.5 990.9,329.7 991.4,329.4 991.8,329.4 992.3,329.8 992.8,329.3 993.3,329.7 993.8,329.6 994.3,329.6 994.8,329.5 995.3,329.3 995.8,329.2 996.3,329.3 996.8,329.2 997.3,329.1 997.8,328.8 998.3,328.2 998.7,328 999.2,328 999.7,327.9 1000.2,328.4 1000.7,328.7 1001.2,328.9 1001.7,329.2 1002.2,328.9 1002.7,329 1003.2,328.9 1003.7,328.8 1004.2,328.8 1004.7,328.8 1005.2,328.7 1005.7,328.9 1006.1,328.8 1006.6,329.2 1007.1,329.5 1007.6,329.7 1008.1,329.7 1008.6,329.6 1009.1,329.4 1009.6,329.4 1010.1,329.7 1010.6,329.4 1013.1,329.6 1015.5,329.5 1018,329.6 1020.4,329.8 1022.9,329.8 1025.4,329.5 1027.8,329.5 1030.3,329.6 1032.8,329.4 1033.3,329.4 1033.8,329.7 1034.3,329.8 1034.8,329.5 1035.2,329.4 1035.7,329.6 1036.2,329.7 1036.7,329.5 1037.2,329.7 1037.7,329.4 1038.2,329.5 1038.7,329.7 1039.2,329.6 1039.7,329.7 1040.2,329.7 1040.7,329.7 1041.2,329.4 1041.7,329.6 1042.1,329.5 1042.6,329.7 1043.1,329.4 1043.6,329.5 1044.1,329.5 1044.6,329.6 1045.1,329.5 1045.6,329.7 1046.1,329.3 1046.6,329.4 1047.1,329.5 1047.6,329.4 1048.1,329.7 1048.6,329.6 1049.1,329.6 1049.5,329.4 1050,329.8 1050.5,329.6 1051,329.4 1051.5,329.4 1054,329.5 1056.5,329.7 1058.9,329.7L1058.9,331.6Z" fill="#e82a1e" stroke="#2a2a3a" stroke-width="0.45" stroke-linejoin="round"/>
<path d="M724.7,331.6H1068.2L1178.3,189.5" fill="none" stroke="#222" stroke-width="1.1"/>
<path d="M724.2,331.6v2.5 M732.4,331.6v2.5 M740.6,331.6v2.5 M748.9,331.6v4 M757.1,331.6v2.5 M765.3,331.6v2.5 M773.5,331.6v2.5 M781.7,331.6v2.5 M790,331.6v4 M798.2,331.6v2.5 M806.4,331.6v2.5 M814.6,331.6v2.5 M822.8,331.6v2.5 M831.1,331.6v4 M839.3,331.6v2.5 M847.5,331.6v2.5 M855.7,331.6v2.5 M863.9,331.6v2.5 M872.2,331.6v4 M880.4,331.6v2.5 M888.6,331.6v2.5 M896.8,331.6v2.5 M905,331.6v2.5 M913.3,331.6v4 M921.5,331.6v2.5 M929.7,331.6v2.5 M937.9,331.6v2.5 M946.1,331.6v2.5 M954.4,331.6v4 M962.6,331.6v2.5 M970.8,331.6v2.5 M979,331.6v2.5 M987.2,331.6v2.5 M995.5,331.6v4 M1003.7,331.6v2.5 M1011.9,331.6v2.5 M1020.1,331.6v2.5 M1028.3,331.6v2.5 M1036.6,331.6v4 M1044.8,331.6v2.5 M1053,331.6v2.5 M1061.2,331.6v2.5" stroke="#222" stroke-width="0.9"/>
<text x="748.9" y="346.9" font-size="13.2" font-family="'Liberation Serif', 'Times New Roman', serif" text-anchor="middle">400</text>
<text x="790" y="346.9" font-size="13.2" font-family="'Liberation Serif', 'Times New Roman', serif" text-anchor="middle">450</text>
<text x="831.1" y="346.9" font-size="13.2" font-family="'Liberation Serif', 'Times New Roman', serif" text-anchor="middle">500</text>
<text x="872.2" y="346.9" font-size="13.2" font-family="'Liberation Serif', 'Times New Roman', serif" text-anchor="middle">550</text>
<text x="913.3" y="346.9" font-size="13.2" font-family="'Liberation Serif', 'Times New Roman', serif" text-anchor="middle">600</text>
<text x="954.4" y="346.9" font-size="13.2" font-family="'Liberation Serif', 'Times New Roman', serif" text-anchor="middle">650</text>
<text x="995.5" y="346.9" font-size="13.2" font-family="'Liberation Serif', 'Times New Roman', serif" text-anchor="middle">700</text>
<text x="1036.6" y="346.9" font-size="13.2" font-family="'Liberation Serif', 'Times New Roman', serif" text-anchor="middle">750</text>
<text x="849" y="367.4" font-size="14.5" font-family="'Liberation Serif', 'Times New Roman', serif" textLength="94.5" lengthAdjust="spacingAndGlyphs">Wavelength(nm)</text>
<path d="M1178.3,189.5h3.5 M1166.1,205.3h3.5 M1153.8,221h3.5 M1141.6,236.8h3.5 M1129.4,252.6h3.5 M1117.1,268.3h3.5 M1104.9,284.1h3.5 M1092.7,299.9h3.5 M1080.4,315.6h3.5 M1068.2,331.4h3.5" stroke="#222" stroke-width="1"/>
<text x="1188.5" y="193.7" font-size="10.5" font-family="'Liberation Serif', 'Times New Roman', serif" font-style="italic" textLength="18.5" lengthAdjust="spacingAndGlyphs" transform="skewX(-12)" transform-origin="1188.5 193.7">293</text>
<text x="1176.2" y="209.5" font-size="10.5" font-family="'Liberation Serif', 'Times New Roman', serif" font-style="italic" textLength="18.5" lengthAdjust="spacingAndGlyphs" transform="skewX(-12)" transform-origin="1176.2 209.5">313</text>
<text x="1163.9" y="225.1" font-size="10.5" font-family="'Liberation Serif', 'Times New Roman', serif" font-style="italic" textLength="18.5" lengthAdjust="spacingAndGlyphs" transform="skewX(-12)" transform-origin="1163.9 225.1">333</text>
<text x="1152.1" y="241.6" font-size="10.5" font-family="'Liberation Serif', 'Times New Roman', serif" font-style="italic" textLength="18.5" lengthAdjust="spacingAndGlyphs" transform="skewX(-12)" transform-origin="1152.1 241.6">353</text>
<text x="1140.2" y="257.4" font-size="10.5" font-family="'Liberation Serif', 'Times New Roman', serif" font-style="italic" textLength="18.5" lengthAdjust="spacingAndGlyphs" transform="skewX(-12)" transform-origin="1140.2 257.4">373</text>
<text x="1127.9" y="272.8" font-size="10.5" font-family="'Liberation Serif', 'Times New Roman', serif" font-style="italic" textLength="18.5" lengthAdjust="spacingAndGlyphs" transform="skewX(-12)" transform-origin="1127.9 272.8">393</text>
<text x="1115.9" y="288.9" font-size="10.5" font-family="'Liberation Serif', 'Times New Roman', serif" font-style="italic" textLength="18.5" lengthAdjust="spacingAndGlyphs" transform="skewX(-12)" transform-origin="1115.9 288.9">413</text>
<text x="1103.6" y="304.7" font-size="10.5" font-family="'Liberation Serif', 'Times New Roman', serif" font-style="italic" textLength="18.5" lengthAdjust="spacingAndGlyphs" transform="skewX(-12)" transform-origin="1103.6 304.7">433</text>
<text x="1091.3" y="320.1" font-size="10.5" font-family="'Liberation Serif', 'Times New Roman', serif" font-style="italic" textLength="18.5" lengthAdjust="spacingAndGlyphs" transform="skewX(-12)" transform-origin="1091.3 320.1">453</text>
<text transform="translate(1182,264) rotate(-45)" font-size="15.5" font-family="'Liberation Serif', 'Times New Roman', serif" text-anchor="middle">T/K</text>
<text transform="translate(1200,110) rotate(-90)" font-size="14.5" font-family="'Liberation Serif', 'Times New Roman', serif" text-anchor="middle" textLength="78.6" lengthAdjust="spacingAndGlyphs">Intensity(a.u.)</text>
<text x="705.9" y="40.1" font-size="33" font-family="'Liberation Serif', 'Times New Roman', serif" font-weight="bold" textLength="38.8" lengthAdjust="spacingAndGlyphs">(b)</text>
<rect x="54.6" y="17.5" width="310" height="231.5" fill="none" stroke="#000" stroke-width="1.8"/>
<rect x="392" y="17.3" width="310.3" height="231.7" fill="none" stroke="#000" stroke-width="1.8"/>
<rect x="54.6" y="291" width="309.7" height="230.8" fill="none" stroke="#000" stroke-width="1.8"/>
<rect x="392" y="290.6" width="310" height="231.2" fill="none" stroke="#000" stroke-width="1.8"/>
<rect x="54.6" y="564" width="309.7" height="232.8" fill="none" stroke="#000" stroke-width="1.8"/>
<rect x="392" y="564" width="310" height="232.8" fill="none" stroke="#000" stroke-width="1.8"/>
<path d="M54.6,249v4.5 M106.3,249v4.5 M157.9,249v4.5 M209.6,249v4.5 M261.3,249v4.5 M312.9,249v4.5 M364.6,249v4.5" stroke="#000" stroke-width="1.8"/><text x="54.6" y="266.3" font-size="11.5" font-family="'Liberation Sans', Arial, sans-serif" font-weight="bold" text-anchor="middle">200</text><text x="106.3" y="266.3" font-size="11.5" font-family="'Liberation Sans', Arial, sans-serif" font-weight="bold" text-anchor="middle">300</text><text x="157.9" y="266.3" font-size="11.5" font-family="'Liberation Sans', Arial, sans-serif" font-weight="bold" text-anchor="middle">400</text><text x="209.6" y="266.3" font-size="11.5" font-family="'Liberation Sans', Arial, sans-serif" font-weight="bold" text-anchor="middle">500</text><text x="261.3" y="266.3" font-size="11.5" font-family="'Liberation Sans', Arial, sans-serif" font-weight="bold" text-anchor="middle">600</text><text x="312.9" y="266.3" font-size="11.5" font-family="'Liberation Sans', Arial, sans-serif" font-weight="bold" text-anchor="middle">700</text><text x="364.6" y="266.3" font-size="11.5" font-family="'Liberation Sans', Arial, sans-serif" font-weight="bold" text-anchor="middle">800</text>
<path d="M392,249v4.5 M443.7,249v4.5 M495.4,249v4.5 M547.1,249v4.5 M598.9,249v4.5 M650.6,249v4.5 M702.3,249v4.5" stroke="#000" stroke-width="1.8"/><text x="392" y="266.3" font-size="11.5" font-family="'Liberation Sans', Arial, sans-serif" font-weight="bold" text-anchor="middle">200</text><text x="443.7" y="266.3" font-size="11.5" font-family="'Liberation Sans', Arial, sans-serif" font-weight="bold" text-anchor="middle">300</text><text x="495.4" y="266.3" font-size="11.5" font-family="'Liberation Sans', Arial, sans-serif" font-weight="bold" text-anchor="middle">400</text><text x="547.1" y="266.3" font-size="11.5" font-family="'Liberation Sans', Arial, sans-serif" font-weight="bold" text-anchor="middle">500</text><text x="598.9" y="266.3" font-size="11.5" font-family="'Liberation Sans', Arial, sans-serif" font-weight="bold" text-anchor="middle">600</text><text x="650.6" y="266.3" font-size="11.5" font-family="'Liberation Sans', Arial, sans-serif" font-weight="bold" text-anchor="middle">700</text><text x="702.3" y="266.3" font-size="11.5" font-family="'Liberation Sans', Arial, sans-serif" font-weight="bold" text-anchor="middle">800</text>
<path d="M54.6,521.8v4.5 M106.2,521.8v4.5 M157.8,521.8v4.5 M209.4,521.8v4.5 M261.1,521.8v4.5 M312.7,521.8v4.5 M364.3,521.8v4.5" stroke="#000" stroke-width="1.8"/><text x="54.6" y="539.1" font-size="11.5" font-family="'Liberation Sans', Arial, sans-serif" font-weight="bold" text-anchor="middle">200</text><text x="106.2" y="539.1" font-size="11.5" font-family="'Liberation Sans', Arial, sans-serif" font-weight="bold" text-anchor="middle">300</text><text x="157.8" y="539.1" font-size="11.5" font-family="'Liberation Sans', Arial, sans-serif" font-weight="bold" text-anchor="middle">400</text><text x="209.4" y="539.1" font-size="11.5" font-family="'Liberation Sans', Arial, sans-serif" font-weight="bold" text-anchor="middle">500</text><text x="261.1" y="539.1" font-size="11.5" font-family="'Liberation Sans', Arial, sans-serif" font-weight="bold" text-anchor="middle">600</text><text x="312.7" y="539.1" font-size="11.5" font-family="'Liberation Sans', Arial, sans-serif" font-weight="bold" text-anchor="middle">700</text><text x="364.3" y="539.1" font-size="11.5" font-family="'Liberation Sans', Arial, sans-serif" font-weight="bold" text-anchor="middle">800</text>
<path d="M392,521.8v4.5 M454,521.8v4.5 M516,521.8v4.5 M578,521.8v4.5 M640,521.8v4.5 M702,521.8v4.5" stroke="#000" stroke-width="1.8"/><text x="392" y="539.1" font-size="11.5" font-family="'Liberation Sans', Arial, sans-serif" font-weight="bold" text-anchor="middle">300</text><text x="454" y="539.1" font-size="11.5" font-family="'Liberation Sans', Arial, sans-serif" font-weight="bold" text-anchor="middle">400</text><text x="516" y="539.1" font-size="11.5" font-family="'Liberation Sans', Arial, sans-serif" font-weight="bold" text-anchor="middle">500</text><text x="578" y="539.1" font-size="11.5" font-family="'Liberation Sans', Arial, sans-serif" font-weight="bold" text-anchor="middle">600</text><text x="640" y="539.1" font-size="11.5" font-family="'Liberation Sans', Arial, sans-serif" font-weight="bold" text-anchor="middle">700</text><text x="702" y="539.1" font-size="11.5" font-family="'Liberation Sans', Arial, sans-serif" font-weight="bold" text-anchor="middle">800</text>
<path d="M54.6,796.8v4.5 M116.5,796.8v4.5 M178.5,796.8v4.5 M240.4,796.8v4.5 M302.4,796.8v4.5 M364.3,796.8v4.5" stroke="#000" stroke-width="1.8"/><text x="54.6" y="814.1" font-size="11.5" font-family="'Liberation Sans', Arial, sans-serif" font-weight="bold" text-anchor="middle">200</text><text x="116.5" y="814.1" font-size="11.5" font-family="'Liberation Sans', Arial, sans-serif" font-weight="bold" text-anchor="middle">300</text><text x="178.5" y="814.1" font-size="11.5" font-family="'Liberation Sans', Arial, sans-serif" font-weight="bold" text-anchor="middle">400</text><text x="240.4" y="814.1" font-size="11.5" font-family="'Liberation Sans', Arial, sans-serif" font-weight="bold" text-anchor="middle">500</text><text x="302.4" y="814.1" font-size="11.5" font-family="'Liberation Sans', Arial, sans-serif" font-weight="bold" text-anchor="middle">600</text><text x="364.3" y="814.1" font-size="11.5" font-family="'Liberation Sans', Arial, sans-serif" font-weight="bold" text-anchor="middle">700</text>
<path d="M392,796.8v4.5 M454,796.8v4.5 M516,796.8v4.5 M578,796.8v4.5 M640,796.8v4.5 M702,796.8v4.5" stroke="#000" stroke-width="1.8"/><text x="392" y="814.1" font-size="11.5" font-family="'Liberation Sans', Arial, sans-serif" font-weight="bold" text-anchor="middle">300</text><text x="454" y="814.1" font-size="11.5" font-family="'Liberation Sans', Arial, sans-serif" font-weight="bold" text-anchor="middle">400</text><text x="516" y="814.1" font-size="11.5" font-family="'Liberation Sans', Arial, sans-serif" font-weight="bold" text-anchor="middle">500</text><text x="578" y="814.1" font-size="11.5" font-family="'Liberation Sans', Arial, sans-serif" font-weight="bold" text-anchor="middle">600</text><text x="640" y="814.1" font-size="11.5" font-family="'Liberation Sans', Arial, sans-serif" font-weight="bold" text-anchor="middle">700</text><text x="702" y="814.1" font-size="11.5" font-family="'Liberation Sans', Arial, sans-serif" font-weight="bold" text-anchor="middle">800</text>
<path d="M54.8,200.3C55.5,200 59.6,198.6 60.6,197.6C61.6,196.6 62.1,198 62.8,192.3C63.5,186.6 65.6,159.6 66.5,149.7C67.4,139.8 69.2,119.4 70,109.8C70.8,100.2 72.5,77.3 73.4,69.9C74.3,62.5 76.5,49.9 77.4,48.1C78.3,46.3 79.9,53.8 80.6,55.3C81.3,56.8 82.7,57.3 83.3,60.6C83.9,63.9 85.2,77.3 85.9,83.2C86.6,89.1 88.9,102.9 89.4,109.8C89.9,116.7 90.1,140.2 90.4,140.4C90.7,140.6 91.6,110.9 92,111.1C92.4,111.3 92.9,134.8 93.4,141.7C93.9,148.6 95.2,161.9 95.8,168.3C96.4,174.7 98,189.6 98.7,195C99.4,200.4 101,209.8 101.9,213.6C102.8,217.4 105.2,225.1 105.9,226.9C106.6,228.7 107.6,229.8 108,228.2C108.4,226.6 108.7,213.6 109,213.6C109.3,213.6 109.7,230.7 110.1,228.2C110.5,225.7 111.6,192.8 112,192.8C112.4,192.8 112.9,224.1 113.3,228.2C113.7,232.3 114.9,226.3 115.4,226.9C115.9,227.5 116.9,232.2 117.8,233.5C118.7,234.8 121.4,237 123.2,237.5C125,238 131.1,237.8 132.5,237.5C133.9,237.2 134.5,236.8 135.1,234.8C135.7,232.8 136.8,220.8 137.3,221C137.8,221.2 138.7,234.9 139.4,236.2C140.1,237.5 142.1,233.9 143.1,232.2C144.1,230.5 147,222.6 147.9,222.1C148.8,221.6 150.1,227.6 150.6,228.2C151.1,228.8 152,229.9 152.4,226.9C152.8,223.9 153.8,203.1 154.3,202.9C154.8,202.7 155.7,221.5 156.4,225.5C157.1,229.5 159.4,235.1 160.4,236.2C161.4,237.3 163.9,234.1 164.9,234.3C165.9,234.5 165.6,237.1 168.4,237.5C171.2,237.9 185.6,239.6 188.3,237.5C191,235.4 190.4,220.3 191,220.2C191.6,220.1 191.5,234.9 193.7,237C195.9,239.1 207.7,237.4 209.6,237.5" fill="none" stroke="#000" stroke-width="2.8" stroke-linejoin="round" stroke-linecap="round"/>
<path d="M131.7,243.4C134,243.2 147.7,241.9 151,241.4C154.3,240.9 156.8,239.9 158.9,239.4C161,238.9 166.4,237.7 168.8,237.5C171.2,237.3 176.1,237.6 178.7,237.5C181.3,237.4 189,236.9 190.6,236.5C192.2,236.1 191.7,234.4 192.2,234.5C192.7,234.6 192.6,237 194.5,237.5C196.4,238 206,238.5 208.4,238.5C210.8,238.5 213.2,237.4 214.4,237.5C215.6,237.6 216.6,239.1 218.3,239C220,238.9 226.3,237 228.2,237C230.1,237 233,239.2 234.2,239.4C235.4,239.6 236.7,238.4 238.1,238.5C239.5,238.6 244.8,240.1 246,240.4C247.2,240.7 247.4,242.9 247.8,240.7C248.2,238.5 249.1,222.5 249.6,221.7C250.1,220.9 250.7,237 251.6,234.4C252.5,231.8 255.6,200 256.7,200C257.8,200 259.8,230.1 260.5,234.4C261.2,238.7 262,245.2 262.5,235.6C263,226 263.8,176.5 264.3,154.3C264.8,132.1 265.8,55.3 266.3,50.7C266.8,46.1 267.7,97.1 268.1,116.2C268.5,135.3 269.1,204.1 269.4,210.2C269.7,216.3 270.4,174.9 270.7,167C271,159.1 271.7,143.6 272.2,144.2C272.7,144.8 273.9,161.4 274.5,172.1C275.1,182.8 276.4,224.9 277,233.1C277.6,241.3 278.5,239.6 279.5,240.7C280.5,241.8 284.4,242.5 285.4,242C286.4,241.5 287.2,236.9 287.9,236.9C288.6,236.9 288.8,241.4 291,242C293.2,242.6 303.8,242.6 306.2,242C308.6,241.4 309.8,238.4 310.8,236.9C311.8,235.4 313.8,228.7 314.6,229.3C315.4,229.9 314.6,240.4 317.7,242C323.7,243.6 359.1,242.6 364.7,242.7" fill="none" stroke="#ff0000" stroke-width="2.8" stroke-linejoin="round" stroke-linecap="round"/>
<path d="M391.9,215.5C392.4,214.6 395.1,210.2 396,208C396.9,205.8 398.7,201.3 399.3,197.4C399.9,193.5 400.3,187.2 400.8,175.6C401.3,164 403.1,117.1 403.8,100.7C404.5,84.3 406.1,42.3 406.8,38.7C407.5,35.1 409.2,59.3 409.9,70.4C410.6,81.5 412.2,117.1 412.9,130.9C413.6,144.7 415.3,176.6 415.9,185.3C416.5,194 417.6,198.3 418.3,203.4C419,208.5 421.1,223.8 422,227.6C422.9,231.4 425.1,235.8 425.9,235.1C426.7,234.4 428.3,221.5 428.9,221.5C429.5,221.5 430.4,232.4 431,235.1C431.6,237.8 433.1,242.7 434,244.2C434.9,245.7 437.5,247.3 438.6,247.7C439.7,248.1 442.2,248.3 443.1,247.7C444,247.1 445.4,243.4 446.1,242.7C446.8,242 448.5,241.6 449.1,242.1C449.7,242.6 449.1,246.6 450.7,247.2C453,247.8 462,247.4 468,247.4C474,247.4 492.2,247.5 500.6,247.4C509,247.3 533.5,246.6 538.2,246.6C539.8,246.6 538.8,247.3 539.8,247.4C540.8,247.5 545.6,247.8 546.4,247.8" fill="none" stroke="#000" stroke-width="2.8" stroke-linejoin="round" stroke-linecap="round"/>
<path d="M444.1,245.8C447,245.8 463.2,246 468,245.8C472.8,245.6 481.2,245 484.3,244.5C487.4,244 491.7,242.8 494.1,241.9C496.5,241 501.5,237.7 503.9,237C506.3,236.3 511.3,236.3 513.7,236.3C516.1,236.3 521.5,237.1 523.5,237C525.5,236.9 528.8,236 530,235.4C531.2,234.8 532.6,235.6 533.3,232.1C534,228.6 535.3,217 535.9,206C536.5,195 537.5,153.7 537.9,140.6C538.3,127.5 539.2,99.2 539.5,96.5C539.8,93.8 540.5,114.7 540.8,117.8C541.1,120.9 541.7,118 542.1,122.7C542.5,127.4 543.6,147 544.1,157C544.6,167 545.7,196.6 546.4,206C547.1,215.4 548.6,231.2 549.6,235.4C550.6,239.6 553.3,240.6 554.5,241.2C555.7,241.8 558.3,244.5 559.4,240.3C560.5,236.1 562.7,221.9 563.4,206C564.1,190.1 564.6,127.8 565,108C565.4,88.2 566.5,47.5 567,41C567.5,34.5 568.7,53.4 569.3,54C569.9,54.6 571.1,41.1 571.6,45.6C572.1,50.1 573,74.4 573.5,91.7C574,109 575.1,172.4 575.8,189.6C576.5,206.8 578,229.3 579,235.4C580,241.5 583,241.9 583.9,240.3C584.8,238.7 586,228 586.5,222.3C587,216.6 587.8,197.2 588.2,192.9C588.6,188.6 589.3,185.6 589.8,186.4C590.3,187.2 591.5,194.3 592.1,199.4C592.7,204.5 593.9,223.7 594.7,228.8C595.5,233.9 597.5,240.5 598.6,241.9C599.7,243.3 602.5,243 603.5,240.3C604.5,237.6 606.2,223.2 606.8,219C607.4,214.8 608.2,205 608.7,205C609.2,205 610.1,214.8 610.7,219C611.3,223.2 612.2,237.5 613.3,240.3C614.4,243.1 618.1,242.2 619.9,242.5C621.7,242.8 626.2,242.4 628,242.5C629.8,242.6 632.2,243.1 634.6,243.5C637,243.9 639.6,245.5 647.6,245.8C655.6,246.1 695,245.8 701.5,245.8" fill="none" stroke="#30f000" stroke-width="2.8" stroke-linejoin="round" stroke-linecap="round"/>
<path d="M53.8,324C54.2,324 56.7,323.7 57.3,324C57.9,324.3 58.4,324.9 58.9,326.6C59.4,328.3 60.9,335.7 61.4,338.2C61.9,340.7 62.5,343.3 63,347.6C63.5,351.9 64.6,365.5 65.2,374.4C65.8,383.3 67.5,410.3 68.3,421.6C69.1,432.9 70.8,460 71.5,468.7C72.2,477.4 73.4,490.3 74,493.9C74.6,497.5 75.8,500.5 76.2,498.6C76.6,496.7 76.8,478.4 77.1,478.2C77.4,478 78.1,495.7 78.4,497C78.7,498.3 79.3,491.6 79.6,489.2C79.9,486.8 80.6,474.2 80.9,476.6C81.2,479 81.6,504.9 82.2,509.6C82.8,514.3 84.8,515.3 85.6,515.9C86.4,516.5 88.2,519.2 88.8,514.3C89.4,509.4 89.9,486.1 90.3,475C90.7,463.9 92,423.9 92.5,421.6C93,419.3 93.7,444.9 94.1,456.2C94.5,467.5 95.5,508.4 96,515.9C96.5,523.4 97.4,519 98.2,519.1C99,519.2 101.9,517.2 102.9,516.6C103.9,516 106.1,516.3 106.7,514.3C107.3,512.3 107.7,500.6 108,500.2C108.3,499.8 108.8,512.7 109.2,511.2C109.6,509.7 110.7,490.8 111.1,487.6C111.5,484.4 112.1,482.2 112.4,484.5C112.7,486.8 113.5,503.9 113.6,506.5" fill="none" stroke="#000" stroke-width="2.8" stroke-linejoin="round" stroke-linecap="round"/>
<path d="M129,506.5C129.3,504.7 130.6,491.8 131.2,491.4C131.8,491 133.1,500.7 133.7,503.3C134.3,505.9 135.7,512.9 136.3,512.8C136.9,512.7 138.5,502.5 139.1,502.7C139.7,502.9 140.5,513.7 141.3,514.3C142.1,514.9 144.4,509.2 145.4,508.1C146.4,507 148.6,504.5 149.5,504.9C150.4,505.3 152.2,509.9 153.2,511.2C154.2,512.5 156.7,515 158,515.9C159.3,516.8 162.9,518.6 164.3,518.4C165.7,518.2 168.5,514.2 169.6,514.3C170.7,514.4 172.5,518.5 173.7,519.1C174.9,519.7 178.8,519.9 180,519.1C181.2,518.3 183.2,512.2 184.1,512.1C185,512 186.6,517.8 187.8,518.4C189,519 192.6,517.3 194.1,517.5C195.6,517.7 198.5,519.3 200.4,519.7C202.3,520.1 208.8,520.5 209.9,520.6" fill="none" stroke="#000" stroke-width="2.8" stroke-linejoin="round" stroke-linecap="round"/>
<path d="M183.1,497C183.5,497.2 185.7,499 186.3,498.6C186.9,498.2 187.7,497.5 188.5,493.9C189.3,490.3 191.5,476.2 192.6,468.7C193.7,461.2 196.5,435.9 197.3,431C198.1,426.1 198.5,428.9 198.9,427.8C199.3,426.7 200,423.5 200.4,421.6C200.8,419.7 201.6,412.5 202,412.1C202.4,411.7 203.1,413.1 203.6,418.4C204.1,423.7 205.2,447.1 205.8,456.2C206.4,465.3 207.6,487.9 208.3,493.9C209,499.9 210.5,504.7 211.4,506.5C212.3,508.3 214.1,508.4 216.2,509C218.3,509.6 226.3,510.7 228.7,511.2C231.1,511.7 235.4,513.4 236.6,512.8C237.8,512.2 238.2,511.8 238.8,506.5C239.4,501.2 240.7,482.7 241.3,468.7C241.9,454.7 243.2,406.7 243.8,390.1C244.4,373.5 245.6,338.2 246,330.3C246.4,322.4 246.7,322.5 247,324C247.3,325.5 248.1,333.8 248.6,342.9C249.1,352 250.2,384.4 250.8,399.5C251.4,414.6 253.1,455.9 253.9,468.7C254.7,481.5 256.8,500.8 257.7,506.5C258.6,512.2 260.4,514.7 261.8,515.9C263.2,517.1 268.1,516.4 269.6,516.6C271.1,516.8 273.3,517 274.4,517.5C275.5,518 277.6,520.3 279.1,520.6C280.6,520.9 286,519.8 286.9,519.7" fill="none" stroke="#fbf600" stroke-width="2.8" stroke-linejoin="round" stroke-linecap="round"/>
<path d="M391.7,511.2C392.9,511.5 399.6,513.1 401.5,513.4C403.4,513.7 406.6,515 407.7,513.4C408.8,511.8 409.7,503.1 410.3,500.2C410.9,497.3 412,488.1 412.5,489.2C413,490.3 414.1,508.3 414.7,509.6C415.3,510.9 416.6,501.9 417.2,500.2C417.8,498.5 418.8,494.6 419.4,495.5C420,496.4 421.2,507.5 421.9,508.1C422.6,508.7 424.4,510.6 425,500.2C425.6,489.8 426.8,434 427.3,421.6C427.8,409.2 428.4,397 428.8,397C429.2,397 430.2,411.1 430.7,421.6C431.2,432.1 432.3,473.4 432.9,484.5C433.5,495.6 434.7,510.9 435.4,514.3C436.1,517.7 437.8,513.9 438.6,512.8C439.4,511.7 440.9,507.2 441.7,504.9C442.5,502.6 444.1,493.3 444.9,493.3C445.7,493.3 447.2,503.9 448,504.9C448.8,505.9 450.4,502.4 451.2,501.8C452,501.2 453.5,500.8 454.3,500.2C455.1,499.6 457.3,500.8 458.1,497C458.9,493.2 460.4,475.1 461.2,468.7C462,462.3 463.6,443.6 464.4,443.6C465.2,443.6 466.7,461.9 467.5,468.7C468.3,475.5 469.9,496.2 470.7,500.2C471.5,504.2 473,502.6 473.8,501.8C474.6,501 476.3,497.9 477,493.9C477.7,489.9 478.9,479.3 479.5,468.7C480.1,458.1 481.3,419.4 481.7,405.8C482.1,392.2 482.8,361.2 483.2,355.5C483.6,349.8 484.6,358.7 485.1,358.6C485.6,358.5 486.6,354 487,354.9C487.4,355.8 488,364.5 488.3,366.5C488.6,368.5 489.5,370.3 489.8,371.2C490.1,372.1 490.7,361.6 491.1,374.4C491.5,387.2 492.8,465.4 493.3,478.2C493.8,491 494.7,480.5 495.2,481.3C495.7,482.1 496.9,484.9 497.4,484.5C497.9,484.1 498.5,477.8 499,478.2C499.5,478.6 500.8,486.3 501.5,487.6C502.2,488.9 503.9,491.3 504.6,489.2C505.3,487.1 506.7,470.9 507.2,470.3C507.7,469.7 508.6,481.7 509,484.5C509.4,487.3 510.4,493.2 510.9,493.9C511.4,494.6 512.6,489.3 513.1,490.1C513.6,490.9 514.3,498.8 514.7,500.2C515.1,501.6 516.1,501.6 516.3,501.8" fill="none" stroke="#000" stroke-width="2.8" stroke-linejoin="round" stroke-linecap="round"/>
<path d="M515.3,476.6C515.6,477.9 516.9,485.7 517.8,487.6C518.7,489.5 521.5,491.5 522.6,492.3C523.7,493.1 526.2,494.3 527.3,494.5C528.4,494.7 531.2,495.5 532,493.9C532.8,492.3 533.2,488.1 533.6,481.3C534,474.5 534.7,450.1 535.1,437.3C535.5,424.5 536.3,388 536.7,374.4C537.1,360.8 538.1,331.5 538.6,324C539.1,316.5 540,312.8 540.5,311.5C541,310.2 541.9,309.2 542.4,313C542.9,316.8 544.1,329.9 544.6,342.9C545.1,355.9 546.2,405.7 546.8,421.6C547.4,437.5 548.6,466.3 549.3,475C550,483.7 551.3,490.7 552.4,493.9C553.5,497.1 556,500.6 558.7,501.8C561.4,503 571.1,503.7 574.5,504C577.9,504.3 585.4,504.3 587,504C588,503.7 587.6,501.7 588,501.8C588.4,501.9 588.4,504.4 590.2,504.9C592,505.4 600.5,505.9 602.8,505.9C605.1,505.9 607.2,504.8 609.1,504.9C611,505 615.1,506.6 618.5,507.1C621.9,507.6 631.7,508.7 637.4,509C643.1,509.3 662.1,509.9 665.7,509.6C667.3,509.3 666.7,506.7 667.3,506.5C667.9,506.3 669.8,508.2 670.4,508.1C671,508 671.8,505.6 672.6,505.9C673.4,506.2 673.2,509.7 676.7,510.3C680.2,510.9 698.9,511.1 701.9,511.2" fill="none" stroke="#10f2f8" stroke-width="2.8" stroke-linejoin="round" stroke-linecap="round"/>
<path d="M53.8,584.9C54.1,585.1 55.8,585.9 56.4,586.5C57,587.1 58.3,589.5 58.9,590.2C59.5,590.9 60.8,591 61.4,592.1C62,593.2 63.1,596.7 63.6,599C64.1,601.3 65.2,607.1 65.8,611.6C66.4,616.1 67.7,629.3 68.3,636.8C68.9,644.3 70.1,665.4 70.8,674.5C71.5,683.6 73.2,704 74,712.3C74.8,720.6 76.3,736.9 77.1,743.7C77.9,750.5 79.9,764 80.9,768.9C81.9,773.8 84.3,781.9 85.6,784.6C86.9,787.3 89.8,790.5 91.9,791.6C94,792.7 99.7,793.7 102.9,794.1C106.1,794.5 113.5,794.9 118.6,795C123.7,795.1 141.8,795.4 145.4,794.7C148.5,794 147.7,790.4 148.5,789.4C149.3,788.4 150.9,786 151.7,786.2C152.5,786.4 154,789.9 154.8,790.9C155.6,791.9 155.9,794.2 158,794.7C160.1,795.2 168.1,794.8 172.1,794.7C176.1,794.6 188.7,794.2 191,794.1" fill="none" stroke="#000" stroke-width="2.8" stroke-linejoin="round" stroke-linecap="round"/>
<path d="M178.4,772.7C179.2,772.6 183.2,772.2 184.7,772C186.2,771.8 189.5,771.3 191,771.4C192.5,771.5 196,772.6 197.3,772.7C198.6,772.8 201.2,773.2 202,772C202.8,770.8 203.6,771.6 204.2,762.6C204.8,753.6 206.1,714 206.7,696.6C207.3,679.2 208.4,630.7 208.9,617.9C209.4,605.1 210.4,593.4 210.8,589.6C211.2,585.8 211.8,585 212.1,586.5C212.4,588 213.2,590.9 213.6,602.2C214,613.5 215,663.1 215.5,680.8C216,698.5 217.2,740 217.7,750C218.2,760 218.8,761.9 219.3,764.2C219.8,766.5 221,767.6 221.8,768.9C222.6,770.2 224.8,774.4 225.6,775.2C226.4,776 227.9,774.7 228.7,775.2C229.5,775.7 231.6,778.3 232.5,779C233.4,779.7 235.5,780.3 236.6,780.9C237.7,781.5 238.5,783.2 241.3,784C244.1,784.8 255.7,786.6 260.2,787.2C264.7,787.8 274,788.7 279.1,789.4C284.2,790.1 299.9,792.9 302.7,793.4" fill="none" stroke="#1a2cf8" stroke-width="2.8" stroke-linejoin="round" stroke-linecap="round"/>
<path d="M391.7,781.5C391.9,780.9 393.2,777.9 393.6,776.8C394,775.7 394.8,771.7 395.2,772C395.6,772.3 396.3,779.7 396.7,779C397.1,778.3 398.4,766.9 398.9,766.4C399.4,765.9 400.3,773.6 400.8,775.2C401.3,776.8 402.4,778.3 403,779.9C403.6,781.5 405.3,787.6 406.2,788.4C407.1,789.2 410,786.2 410.9,786.2C411.8,786.2 413.2,788.6 414,788.4C414.8,788.2 416.5,786.4 417.2,784.6C417.9,782.8 419.1,773.2 419.7,773.6C420.3,774 421.3,787 421.9,787.8C422.5,788.6 424.3,783.3 425,779.9C425.7,776.5 427,765.2 427.6,759.5C428.2,753.8 429.2,733.5 429.8,732.7C430.4,731.9 431.7,747.9 432.3,753.2C432.9,758.5 433.9,774.5 434.5,776.8C435.1,779.1 436.4,776 437,772C437.6,768 438.7,745.6 439.2,743.7C439.7,741.8 440.6,752 441.1,756.3C441.6,760.6 442.8,777.4 443.3,779.9C443.8,782.4 444.9,778.1 445.5,776.8C446.1,775.5 447.9,771.5 448.6,769C449.3,766.5 450.6,763.1 451.2,756.3C451.8,749.5 453.2,727 453.7,712.3C454.2,697.6 455.2,647 455.6,633.6C456,620.2 456.7,600.6 457.1,600.6C457.5,600.6 458.3,616.4 458.7,633.6C459.1,650.8 460.2,729 460.6,743.7C461,758.4 461.7,757.1 462.2,756.3C462.7,755.5 464,741.2 464.4,737.4C464.8,733.6 465.5,724.9 465.9,724.9C466.3,724.9 467,732.5 467.5,737.4C468,742.3 469.4,761.8 470,765.8C470.6,769.8 471.4,769.8 472.2,770.5C473,771.2 475.9,771.7 477,772C478.1,772.3 480.4,772.8 481.7,772.7C483,772.6 486.9,773.1 488,771.4C489.1,769.7 489.9,759.5 490.5,758.8C491.1,758.1 492.1,764.3 492.7,765.8C493.3,767.3 495,770.8 495.8,771.4C496.6,772 498.2,770.4 499,770.5C499.8,770.6 501.3,772.3 502.1,772C502.9,771.7 504.6,768.5 505.3,768.3C506,768.1 507.2,770.4 507.8,770.5C508.4,770.6 509.5,768.6 510,768.9C510.5,769.2 511.6,771.8 512.2,772.7C512.8,773.6 514.4,776.3 514.7,776.8" fill="none" stroke="#000" stroke-width="2.8" stroke-linejoin="round" stroke-linecap="round"/>
<path d="M514.7,760.1C515.5,760.6 519.5,763.3 521,764.2C522.5,765.1 525.8,766.7 527.3,767.3C528.8,767.9 532.3,768.5 533.6,768.9C534.9,769.3 537.2,770.9 538.3,770.5C539.4,770.1 541.7,767.5 543,765.8C544.3,764.1 548.2,759 549.3,756.3C550.4,753.6 551.2,745.2 551.8,743.7C552.4,742.2 553.5,746.3 554,743.7C554.5,741.1 555.2,726.2 555.6,721.7C556,717.2 556.8,706 557.2,706C557.6,706 558.3,715.7 558.7,721.7C559.1,727.7 560,750.6 560.6,756.3C561.2,762 562.8,767.4 563.5,768.9C564.2,770.4 565.9,769.8 566.6,768.9C567.3,768 568.9,762.5 569.7,761C570.5,759.5 572.1,759.1 572.9,756.3C573.7,753.5 575.4,750.2 576,737.4C576.6,724.6 577.7,667.5 578.2,649.4C578.7,631.3 579.9,586.5 580.4,586.5C580.9,586.5 581.7,635.1 582,649.4C582.3,663.7 583,700.7 583.3,706C583.6,711.3 584.4,690.8 584.8,693.4C585.2,696 585.9,720.5 586.4,728C586.9,735.5 588,751.2 588.6,756.3C589.2,761.4 591,768.6 591.8,770.5C592.6,772.4 594.3,773.3 594.9,772C595.5,770.7 596.5,762.1 597.1,759.5C597.7,756.9 599,751.7 599.6,750C600.2,748.3 601.5,746.1 602.1,745.3C602.7,744.5 603.9,744.6 604.4,743.7C604.9,742.8 605.4,740.4 605.9,737.4C606.4,734.4 607.8,726.3 608.4,718.6C609,710.9 610.1,675.6 610.6,673C611.1,670.4 611.9,688.9 612.2,696.6C612.5,704.3 612.9,737.4 613.2,737.4C613.5,737.4 614.1,700.4 614.4,696.6C614.7,692.8 615.4,700.3 615.7,706C616,711.7 616.8,735.8 617.3,743.7C617.8,751.6 619,767.7 619.5,772C620,776.3 620.9,778.6 621.7,779.9C622.5,781.2 624.1,782.7 626.4,783.1C628.7,783.5 638.4,783.7 640.5,783.1C642.6,782.5 643.5,779.2 644.3,778.3C645.1,777.4 646.3,774.8 646.8,775.2C647.3,775.6 647.9,780.4 648.7,781.5C649.5,782.6 650.3,783.6 653.1,784C655.9,784.4 668.6,784.7 672,784.6C675.4,784.5 679.9,784.7 681.4,783.1C682.9,781.5 683.9,771.8 684.6,771.4C685.3,771 686.3,778.7 687.1,779.9C687.9,781.1 689.9,782.1 690.9,781.5C691.9,780.9 694.7,777.5 695.6,775.2C696.5,772.9 698.1,766.4 698.7,762.6C699.3,758.8 700.6,746 700.9,743.7" fill="none" stroke="#fb8a0c" stroke-width="2.8" stroke-linejoin="round" stroke-linecap="round"/>
<rect x="186" y="12" width="26" height="9" fill="#fff"/>
<rect x="385" y="12" width="20" height="26" fill="#fff"/>
<rect x="389" y="175.6" width="19" height="20.3" fill="#fff"/>
<rect x="112" y="515" width="20" height="12" fill="#fff"/>
<rect x="388" y="330" width="8" height="22" fill="#fff"/>
<text x="67.9" y="39.4" font-size="13.6" font-family="'Liberation Sans', Arial, sans-serif" font-weight="bold" textLength="23" lengthAdjust="spacingAndGlyphs">242</text>
<text x="92.9" y="103.2" font-size="13.6" font-family="'Liberation Sans', Arial, sans-serif" font-weight="bold" textLength="22.8" lengthAdjust="spacingAndGlyphs">274</text>
<text x="107.7" y="185.2" font-size="13.6" font-family="'Liberation Sans', Arial, sans-serif" font-weight="bold" textLength="22.8" lengthAdjust="spacingAndGlyphs">312</text>
<text x="173" y="163.5" font-size="13.6" font-family="'Liberation Sans', Arial, sans-serif" font-weight="bold" textLength="22.8" lengthAdjust="spacingAndGlyphs">469</text>
<text x="225.2" y="141.7" font-size="13.6" font-family="'Liberation Sans', Arial, sans-serif" font-weight="bold" textLength="21.8" lengthAdjust="spacingAndGlyphs">592</text>
<text x="214.4" y="197.4" font-size="13.6" font-family="'Liberation Sans', Arial, sans-serif" font-weight="bold" textLength="22.7" lengthAdjust="spacingAndGlyphs">538</text>
<text x="125.1" y="44.8" font-size="13.6" font-family="'Liberation Sans', Arial, sans-serif" font-weight="bold" textLength="115.8" lengthAdjust="spacingAndGlyphs"><tspan>Gd</tspan><tspan dy="4.1" font-size="7.6">4</tspan><tspan dy="-4.1">O</tspan><tspan dy="4.1" font-size="7.6">3</tspan><tspan dy="-4.1">F</tspan><tspan dy="4.1" font-size="7.6">6</tspan><tspan dy="-4.1">:0.01 Eu</tspan><tspan dy="-5.4" font-size="7.6">3+</tspan></text>
<text x="161.9" y="189.7" font-size="13.6" font-family="'Liberation Sans', Arial, sans-serif" font-weight="bold" textLength="26.6" lengthAdjust="spacingAndGlyphs"><tspan dy="-5.4" font-size="7.6">5</tspan><tspan dy="5.4">D</tspan><tspan dy="4.1" font-size="7.6">2</tspan><tspan dy="-4.1">-</tspan><tspan dy="-5.4" font-size="7.6">7</tspan></text>
<text x="217.6" y="162.4" font-size="13.6" font-family="'Liberation Sans', Arial, sans-serif" font-weight="bold" textLength="40.3" lengthAdjust="spacingAndGlyphs"><tspan dy="-5.4" font-size="7.6">5</tspan><tspan dy="5.4">D</tspan><tspan dy="4.1" font-size="7.6">0</tspan><tspan dy="-4.1">-</tspan><tspan dy="-5.4" font-size="7.6">7</tspan><tspan dy="5.4">F</tspan><tspan dy="4.1" font-size="7.6">1</tspan></text>
<text x="204.5" y="216.7" font-size="13.6" font-family="'Liberation Sans', Arial, sans-serif" font-weight="bold" textLength="40.6" lengthAdjust="spacingAndGlyphs"><tspan dy="-5.4" font-size="7.6">5</tspan><tspan dy="5.4">D</tspan><tspan dy="4.1" font-size="7.6">1</tspan><tspan dy="-4.1">-</tspan><tspan dy="-5.4" font-size="7.6">7</tspan><tspan dy="5.4">F</tspan><tspan dy="4.1" font-size="7.6">1</tspan></text>
<text transform="translate(84,137.8) rotate(-90)" font-size="11.5" font-family="'Liberation Sans', Arial, sans-serif" font-weight="bold" text-anchor="middle" textLength="23" lengthAdjust="spacingAndGlyphs">CTB</text>
<path d="M268.1,68.5H292.5" stroke="#000" stroke-width="1.6"/>
<text x="294" y="74.3" font-size="12.5" font-family="'Liberation Sans', Arial, sans-serif" font-weight="bold" textLength="69.4" lengthAdjust="spacingAndGlyphs"><tspan>λ</tspan><tspan dy="4.8" font-size="7">em</tspan><tspan dy="-4.8">= 610 nm</tspan></text>
<path d="M268.1,84.5H292.5" stroke="#ff0000" stroke-width="1.6"/>
<text x="294" y="90.3" font-size="12.5" font-family="'Liberation Sans', Arial, sans-serif" font-weight="bold" textLength="69.4" lengthAdjust="spacingAndGlyphs"><tspan>λ</tspan><tspan dy="4.8" font-size="7">em</tspan><tspan dy="-4.8">= 274 nm</tspan></text>
<text x="405.9" y="34.5" font-size="13.6" font-family="'Liberation Sans', Arial, sans-serif" font-weight="bold" textLength="14.7" lengthAdjust="spacingAndGlyphs">47</text>
<text x="441.2" y="47.6" font-size="13.6" font-family="'Liberation Sans', Arial, sans-serif" font-weight="bold" textLength="114.3" lengthAdjust="spacingAndGlyphs"><tspan>Gd</tspan><tspan dy="4.1" font-size="7.6">4</tspan><tspan dy="-4.1">O</tspan><tspan dy="4.1" font-size="7.6">3</tspan><tspan dy="-4.1">F</tspan><tspan dy="4.1" font-size="7.6">6</tspan><tspan dy="-4.1">:0.05 Tb</tspan><tspan dy="-5.4" font-size="7.6">3+</tspan></text>
<text x="575.8" y="34.5" font-size="13.6" font-family="'Liberation Sans', Arial, sans-serif" font-weight="bold" textLength="22.8" lengthAdjust="spacingAndGlyphs">542</text>
<text x="570.5" y="50.4" font-size="13.6" font-family="'Liberation Sans', Arial, sans-serif" font-weight="bold" textLength="42.8" lengthAdjust="spacingAndGlyphs"><tspan dy="-5.4" font-size="7.6">5</tspan><tspan dy="5.4">D</tspan><tspan dy="4.1" font-size="7.6">4</tspan><tspan dy="-4.1">-</tspan><tspan dy="-5.4" font-size="7.6">7</tspan><tspan dy="5.4">F</tspan><tspan dy="4.1" font-size="7.6">5</tspan></text>
<text x="529" y="73.7" font-size="13.6" font-family="'Liberation Sans', Arial, sans-serif" font-weight="bold" textLength="22.3" lengthAdjust="spacingAndGlyphs">485</text>
<text x="523.5" y="88.4" font-size="13.6" font-family="'Liberation Sans', Arial, sans-serif" font-weight="bold" textLength="40.8" lengthAdjust="spacingAndGlyphs"><tspan dy="-5.4" font-size="7.6">5</tspan><tspan dy="5.4">D</tspan><tspan dy="4.1" font-size="7.6">4</tspan><tspan dy="-4.1">-</tspan><tspan dy="-5.4" font-size="7.6">7</tspan><tspan dy="5.4">F</tspan><tspan dy="4.1" font-size="7.6">6</tspan></text>
<text x="587.2" y="158.6" font-size="13.6" font-family="'Liberation Sans', Arial, sans-serif" font-weight="bold" textLength="24.5" lengthAdjust="spacingAndGlyphs">584</text>
<text x="580.7" y="174.9" font-size="13.6" font-family="'Liberation Sans', Arial, sans-serif" font-weight="bold" textLength="41.4" lengthAdjust="spacingAndGlyphs"><tspan dy="-5.4" font-size="7.6">5</tspan><tspan dy="5.4">D</tspan><tspan dy="4.1" font-size="7.6">4</tspan><tspan dy="-4.1">-</tspan><tspan dy="-5.4" font-size="7.6">7</tspan><tspan dy="5.4">F</tspan><tspan dy="4.1" font-size="7.6">4</tspan></text>
<text x="635.2" y="192.9" font-size="13.6" font-family="'Liberation Sans', Arial, sans-serif" font-weight="bold" textLength="22.2" lengthAdjust="spacingAndGlyphs">621</text>
<text x="625.4" y="205.3" font-size="11" font-family="'Liberation Sans', Arial, sans-serif" font-weight="bold" textLength="35.3" lengthAdjust="spacingAndGlyphs"><tspan dy="-4.4" font-size="6.2">5</tspan><tspan dy="4.4">D</tspan><tspan dy="3.3" font-size="6.2">4</tspan><tspan dy="-3.3">-</tspan><tspan dy="-4.4" font-size="6.2">7</tspan><tspan dy="4.4">F</tspan><tspan dy="3.3" font-size="6.2">3</tspan></text>
<text x="423.9" y="219" font-size="13.6" font-family="'Liberation Sans', Arial, sans-serif" font-weight="bold" textLength="22.9" lengthAdjust="spacingAndGlyphs">274</text>
<path d="M615,211.8L622.5,204.2" stroke="#000" stroke-width="1"/><path d="M624.3,202.4l-4.3,1.2l2.3,2.3z" fill="#000"/>
<path d="M593.8,78.6H618.4" stroke="#000" stroke-width="1.6"/>
<text x="619.9" y="82.5" font-size="14" font-family="'Liberation Sans', Arial, sans-serif" font-weight="bold" textLength="80.6" lengthAdjust="spacingAndGlyphs"><tspan>λ</tspan><tspan dy="5.3" font-size="7.8">em</tspan><tspan dy="-5.3">= 542 nm</tspan></text>
<path d="M593.8,94.3H618.4" stroke="#30f000" stroke-width="1.6"/>
<text x="619.9" y="98.8" font-size="14" font-family="'Liberation Sans', Arial, sans-serif" font-weight="bold" textLength="76.7" lengthAdjust="spacingAndGlyphs"><tspan>λ</tspan><tspan dy="5.3" font-size="7.8">ex</tspan><tspan dy="-5.3">= 274 nm</tspan></text>
<text x="60.4" y="322.5" font-size="13.6" font-family="'Liberation Sans', Arial, sans-serif" font-weight="bold" textLength="22.1" lengthAdjust="spacingAndGlyphs">203</text>
<text x="96" y="333.5" font-size="13.6" font-family="'Liberation Sans', Arial, sans-serif" font-weight="bold" textLength="116.4" lengthAdjust="spacingAndGlyphs"><tspan>Gd</tspan><tspan dy="4.1" font-size="7.6">4</tspan><tspan dy="-4.1">O</tspan><tspan dy="4.1" font-size="7.6">3</tspan><tspan dy="-4.1">F</tspan><tspan dy="4.1" font-size="7.6">6</tspan><tspan dy="-4.1">:0.01 Dy</tspan><tspan dy="-5.4" font-size="7.6">3+</tspan></text>
<text x="233.5" y="304.5" font-size="13.6" font-family="'Liberation Sans', Arial, sans-serif" font-weight="bold" textLength="23.5" lengthAdjust="spacingAndGlyphs">574</text>
<text x="220.9" y="324" font-size="13.6" font-family="'Liberation Sans', Arial, sans-serif" font-weight="bold" textLength="59.7" lengthAdjust="spacingAndGlyphs"><tspan dy="-5.4" font-size="7.6">4</tspan><tspan dy="5.4">F</tspan><tspan dy="4.1" font-size="7.6">9/2</tspan><tspan dy="-4.1">-</tspan><tspan dy="-5.4" font-size="7.6">6</tspan><tspan dy="5.4">H</tspan><tspan dy="4.1" font-size="7.6">13/2</tspan></text>
<text x="191" y="383.8" font-size="13.6" font-family="'Liberation Sans', Arial, sans-serif" font-weight="bold" textLength="23.6" lengthAdjust="spacingAndGlyphs">486</text>
<text x="178.4" y="402.7" font-size="13.6" font-family="'Liberation Sans', Arial, sans-serif" font-weight="bold" textLength="59.8" lengthAdjust="spacingAndGlyphs"><tspan dy="-5.4" font-size="7.6">4</tspan><tspan dy="5.4">F</tspan><tspan dy="4.1" font-size="7.6">9/2</tspan><tspan dy="-4.1">-</tspan><tspan dy="-5.4" font-size="7.6">6</tspan><tspan dy="5.4">H</tspan><tspan dy="4.1" font-size="7.6">15/2</tspan></text>
<text x="83.4" y="416.8" font-size="13.6" font-family="'Liberation Sans', Arial, sans-serif" font-weight="bold" textLength="23.3" lengthAdjust="spacingAndGlyphs">274</text>
<path d="M265,363.4H288.5" stroke="#000" stroke-width="1.6"/>
<text x="290" y="366.5" font-size="12.5" font-family="'Liberation Sans', Arial, sans-serif" font-weight="bold" textLength="70.2" lengthAdjust="spacingAndGlyphs"><tspan>λ</tspan><tspan dy="4.8" font-size="7">em</tspan><tspan dy="-4.8">= 574 nm</tspan></text>
<path d="M265,378H288.5" stroke="#fbf600" stroke-width="1.6"/>
<text x="290" y="382.2" font-size="12.5" font-family="'Liberation Sans', Arial, sans-serif" font-weight="bold" textLength="66.1" lengthAdjust="spacingAndGlyphs"><tspan>λ</tspan><tspan dy="4.8" font-size="7">ex</tspan><tspan dy="-4.8">= 274 nm</tspan></text>
<text x="414" y="369.6" font-size="13.6" font-family="'Liberation Sans', Arial, sans-serif" font-weight="bold" textLength="22.7" lengthAdjust="spacingAndGlyphs">360</text>
<text x="409.3" y="391.7" font-size="13.6" font-family="'Liberation Sans', Arial, sans-serif" font-weight="bold" textLength="37.8" lengthAdjust="spacingAndGlyphs"><tspan dy="-5.4" font-size="7.6">5</tspan><tspan dy="5.4">I</tspan><tspan dy="4.1" font-size="7.6">8</tspan><tspan dy="-4.1">-</tspan><tspan dy="-5.4" font-size="7.6">3</tspan><tspan dy="5.4">H</tspan><tspan dy="4.1" font-size="7.6">6</tspan></text>
<text x="473.8" y="336" font-size="13.6" font-family="'Liberation Sans', Arial, sans-serif" font-weight="bold" textLength="23.6" lengthAdjust="spacingAndGlyphs">454</text>
<text x="467.5" y="351.7" font-size="13.6" font-family="'Liberation Sans', Arial, sans-serif" font-weight="bold" textLength="39.3" lengthAdjust="spacingAndGlyphs"><tspan dy="-5.4" font-size="7.6">5</tspan><tspan dy="5.4">I</tspan><tspan dy="4.1" font-size="7.6">8</tspan><tspan dy="-4.1">-</tspan><tspan dy="-5.4" font-size="7.6">5</tspan><tspan dy="5.4">G</tspan><tspan dy="4.1" font-size="7.6">6</tspan></text>
<text x="554" y="313" font-size="13.6" font-family="'Liberation Sans', Arial, sans-serif" font-weight="bold" textLength="23.6" lengthAdjust="spacingAndGlyphs">544</text>
<text x="550.9" y="331.9" font-size="13.6" font-family="'Liberation Sans', Arial, sans-serif" font-weight="bold" textLength="36.1" lengthAdjust="spacingAndGlyphs"><tspan dy="-5.4" font-size="7.6">5</tspan><tspan dy="5.4">S</tspan><tspan dy="4.1" font-size="7.6">2</tspan><tspan dy="-4.1">-</tspan><tspan dy="-5.4" font-size="7.6">5</tspan><tspan dy="5.4">I</tspan><tspan dy="4.1" font-size="7.6">8</tspan></text>
<text x="579.2" y="360.2" font-size="13.6" font-family="'Liberation Sans', Arial, sans-serif" font-weight="bold" textLength="117.9" lengthAdjust="spacingAndGlyphs"><tspan>Gd</tspan><tspan dy="4.1" font-size="7.6">4</tspan><tspan dy="-4.1">O</tspan><tspan dy="4.1" font-size="7.6">3</tspan><tspan dy="-4.1">F</tspan><tspan dy="4.1" font-size="7.6">6</tspan><tspan dy="-4.1">:0.01 Ho</tspan><tspan dy="-5.4" font-size="7.6">3+</tspan></text>
<path d="M602,373.4H626.4" stroke="#000" stroke-width="1.6"/>
<text x="627.9" y="376" font-size="12.5" font-family="'Liberation Sans', Arial, sans-serif" font-weight="bold" textLength="67.7" lengthAdjust="spacingAndGlyphs"><tspan>λ</tspan><tspan dy="4.8" font-size="7">em</tspan><tspan dy="-4.8">= 544 nm</tspan></text>
<path d="M602,388.5H626.4" stroke="#10f2f8" stroke-width="1.6"/>
<text x="627.9" y="391.7" font-size="12.5" font-family="'Liberation Sans', Arial, sans-serif" font-weight="bold" textLength="65.5" lengthAdjust="spacingAndGlyphs"><tspan>λ</tspan><tspan dy="4.8" font-size="7">ex</tspan><tspan dy="-4.8">= 454 nm</tspan></text>
<text x="66.7" y="588" font-size="13.6" font-family="'Liberation Sans', Arial, sans-serif" font-weight="bold" textLength="23.6" lengthAdjust="spacingAndGlyphs">202</text>
<text x="173.7" y="584" font-size="13.6" font-family="'Liberation Sans', Arial, sans-serif" font-weight="bold" textLength="23.6" lengthAdjust="spacingAndGlyphs">454</text>
<text x="165.8" y="603.8" font-size="13.6" font-family="'Liberation Sans', Arial, sans-serif" font-weight="bold" textLength="40.9" lengthAdjust="spacingAndGlyphs"><tspan dy="-5.4" font-size="7.6">1</tspan><tspan dy="5.4">D</tspan><tspan dy="4.1" font-size="7.6">2</tspan><tspan dy="-4.1">-</tspan><tspan dy="-5.4" font-size="7.6">3</tspan><tspan dy="5.4">F</tspan><tspan dy="4.1" font-size="7.6">4</tspan></text>
<text x="232.5" y="635.2" font-size="13.6" font-family="'Liberation Sans', Arial, sans-serif" font-weight="bold" textLength="126.8" lengthAdjust="spacingAndGlyphs"><tspan>Gd</tspan><tspan dy="4.1" font-size="7.6">4</tspan><tspan dy="-4.1">O</tspan><tspan dy="4.1" font-size="7.6">3</tspan><tspan dy="-4.1">F</tspan><tspan dy="4.1" font-size="7.6">6</tspan><tspan dy="-4.1">:0.007 Tm</tspan><tspan dy="-5.4" font-size="7.6">3+</tspan></text>
<path d="M253.3,649.4H276" stroke="#000" stroke-width="1.6"/>
<text x="277.5" y="651" font-size="12.5" font-family="'Liberation Sans', Arial, sans-serif" font-weight="bold" textLength="70.1" lengthAdjust="spacingAndGlyphs"><tspan>λ</tspan><tspan dy="4.8" font-size="7">em</tspan><tspan dy="-4.8">= 454 nm</tspan></text>
<path d="M253.3,664.5H276" stroke="#1a2cf8" stroke-width="1.6"/>
<text x="277.5" y="666.7" font-size="12.5" font-family="'Liberation Sans', Arial, sans-serif" font-weight="bold" textLength="67.6" lengthAdjust="spacingAndGlyphs"><tspan>λ</tspan><tspan dy="4.8" font-size="7">ex</tspan><tspan dy="-4.8">= 358 nm</tspan></text>
<text x="140.7" y="753.8" font-size="13.6" font-family="'Liberation Sans', Arial, sans-serif" font-weight="bold" textLength="22.6" lengthAdjust="spacingAndGlyphs">358</text>
<text x="132.8" y="773.6" font-size="13.6" font-family="'Liberation Sans', Arial, sans-serif" font-weight="bold" textLength="42.5" lengthAdjust="spacingAndGlyphs"><tspan dy="-5.4" font-size="7.6">1</tspan><tspan dy="5.4">D</tspan><tspan dy="4.1" font-size="7.6">2</tspan><tspan dy="-4.1">-</tspan><tspan dy="-5.4" font-size="7.6">3</tspan><tspan dy="5.4">H</tspan><tspan dy="4.1" font-size="7.6">6</tspan></text>
<text x="447.1" y="580.2" font-size="13.6" font-family="'Liberation Sans', Arial, sans-serif" font-weight="bold" textLength="22" lengthAdjust="spacingAndGlyphs">407</text>
<text x="432.9" y="592.1" font-size="13.6" font-family="'Liberation Sans', Arial, sans-serif" font-weight="bold" textLength="62.9" lengthAdjust="spacingAndGlyphs"><tspan dy="-5.4" font-size="7.6">6</tspan><tspan dy="5.4">H</tspan><tspan dy="4.1" font-size="7.6">5/2</tspan><tspan dy="-4.1">-</tspan><tspan dy="-5.4" font-size="7.6">4</tspan><tspan dy="5.4">K</tspan><tspan dy="4.1" font-size="7.6">11/2</tspan></text>
<text x="532" y="586.5" font-size="13.6" font-family="'Liberation Sans', Arial, sans-serif" font-weight="bold" textLength="22" lengthAdjust="spacingAndGlyphs">606</text>
<text x="517.8" y="599" font-size="13.6" font-family="'Liberation Sans', Arial, sans-serif" font-weight="bold" textLength="58.2" lengthAdjust="spacingAndGlyphs"><tspan dy="-5.4" font-size="7.6">4</tspan><tspan dy="5.4">G</tspan><tspan dy="4.1" font-size="7.6">5/2</tspan><tspan dy="-4.1">-</tspan><tspan dy="-5.4" font-size="7.6">6</tspan><tspan dy="5.4">H</tspan><tspan dy="4.1" font-size="7.6">7/2</tspan></text>
<text x="588.6" y="624.2" font-size="13.6" font-family="'Liberation Sans', Arial, sans-serif" font-weight="bold" textLength="110.1" lengthAdjust="spacingAndGlyphs"><tspan>Gd</tspan><tspan dy="4.1" font-size="7.6">4</tspan><tspan dy="-4.1">O</tspan><tspan dy="4.1" font-size="7.6">3</tspan><tspan dy="-4.1">F</tspan><tspan dy="4.1" font-size="7.6">6</tspan><tspan dy="-4.1">:0.01 Sm</tspan><tspan dy="-5.4" font-size="7.6">3+</tspan></text>
<path d="M598,639.3H621.6" stroke="#000" stroke-width="1.6"/>
<text x="623.1" y="642.5" font-size="12.5" font-family="'Liberation Sans', Arial, sans-serif" font-weight="bold" textLength="69.3" lengthAdjust="spacingAndGlyphs"><tspan>λ</tspan><tspan dy="4.8" font-size="7">em</tspan><tspan dy="-4.8">= 606 nm</tspan></text>
<path d="M598,655.7H621.6" stroke="#fb8a0c" stroke-width="1.6"/>
<text x="623.1" y="658.8" font-size="12.5" font-family="'Liberation Sans', Arial, sans-serif" font-weight="bold" textLength="66.2" lengthAdjust="spacingAndGlyphs"><tspan>λ</tspan><tspan dy="4.8" font-size="7">ex</tspan><tspan dy="-4.8">= 407 nm</tspan></text>
<text x="536.7" y="673.9" font-size="13.6" font-family="'Liberation Sans', Arial, sans-serif" font-weight="bold" textLength="22" lengthAdjust="spacingAndGlyphs">568</text>
<text x="517.8" y="691.8" font-size="13.6" font-family="'Liberation Sans', Arial, sans-serif" font-weight="bold" textLength="58.2" lengthAdjust="spacingAndGlyphs"><tspan dy="-5.4" font-size="7.6">4</tspan><tspan dy="5.4">G</tspan><tspan dy="4.1" font-size="7.6">5/2</tspan><tspan dy="-4.1">-</tspan><tspan dy="-5.4" font-size="7.6">6</tspan><tspan dy="5.4">H</tspan><tspan dy="4.1" font-size="7.6">5/2</tspan></text>
<text x="637.4" y="688.7" font-size="13.6" font-family="'Liberation Sans', Arial, sans-serif" font-weight="bold" textLength="22.6" lengthAdjust="spacingAndGlyphs">654</text>
<text x="624.8" y="704.4" font-size="13.6" font-family="'Liberation Sans', Arial, sans-serif" font-weight="bold" textLength="59.8" lengthAdjust="spacingAndGlyphs"><tspan dy="-5.4" font-size="7.6">4</tspan><tspan dy="5.4">G</tspan><tspan dy="4.1" font-size="7.6">5/2</tspan><tspan dy="-4.1">-</tspan><tspan dy="-5.4" font-size="7.6">6</tspan><tspan dy="5.4">H</tspan><tspan dy="4.1" font-size="7.6">9/2</tspan></text>
<text x="6.5" y="39.8" font-size="33" font-family="'Liberation Serif', 'Times New Roman', serif" font-weight="bold" textLength="37.3" lengthAdjust="spacingAndGlyphs">(a)</text>
<path d="M1302.0 97.0h0m0.3-3.1h0m0.2-0.9h0m0.3-4.4h0m0.2 0.3h0m0.3-3.0h0m0.3-3.7h0m0.2-0.8h0m0.2-1.8h0m0.4-1.6h0m0.2-2.3h0m0.3-3.2h0m0.3-2.3h0m0.1-0.3h0m0.4-2.1h0m0.2-1.5h0m0.2-0.7h0m0.3-2.7h0m0.3-0.8h0m0.2-2.2h0m0.3-0.4h0m0.2 0.7h0m0.2-3.9h0m0.3-1.7h0m0.3-2.4h0m0.3-0.4h0m0.2-0.3h0m0.2-0.7h0m0.2-1.9h0m0.3-0.9h0m0.2-1.5h0m0.3-0.8h0m0.3-0.3h0m0.2-2.2h0m0.2 1.2h0m0.4-1.1h0m0.2-2.9h0m0.3-0.2h0m0.2 0.9h0m0.2-0.4h0m0.4-0.8h0m0.2-1.5h0m0.3-0.2h0m0.1-1.1h0m0.4 1.3h0m0.2-3.6h0m0.3 2.6h0m0.1-2.1h0m0.3-0.5h0m0.2 0.9h0m0.4-0.3h0m0.3-1.8h0m0.2-0.8h0m0.3 0.5h0m0.1 1.6h0m0.3-0.2h0m0.2-1.3h0m0.3 2.4h0m0.2-2.2h0m0.4 1.6h0m1.2 8.7h0m0.2-3.9h0m0.3 3.3h0m0.2-2.4h0m0.3 3.1h0m0.3-2.8h0m0.2 1.0h0m0.2 0.8h0m0.3 1.0h0m0.2-1.6h0m0.3 0.6h0m0.3 2.5h0m0.2-1.8h0m0.3-0.5h0m0.2 1.2h0m0.3 2.7h0m0.3-1.2h0m0.3 2.3h0m0.1-0.3h0m0.3 0.2h0m0.3-2.3h0m0.2 0.6h0m0.3 3.0h0m0.2-1.2h0m0.2 0.7h0m0.3-1.2h0m0.3 1.5h0m0.3-0.7h0m0.2 2.6h0m0.3 1.5h0m0.2-4.7h0m0.3 0.3h0m0.3 4.0h0m0.2-0.9h0m0.2-0.8h0m0.3 1.9h0m0.3-1.0h0m0.2 2.1h0m0.2-0.5h0m0.3 2.7h0m0.3-1.5h0m0.2 0.6h0m0.3-1.5h0m0.2 1.1h0m0.3 0.1h0m0.2 0.1h0m0.3 3.7h0m0.2-2.3h0m0.2-0.8h0m0.4 1.3h0m0.2-1.2h0m0.2 0.0h0m0.3 0.5h0m0.3 2.5h0m0.2-1.2h0m0.2-0.8h0m0.3 0.9h0m0.2 2.3h0m0.3 0.6h0m0.2-2.2h0m0.4 0.7h0m0.1 2.6h0m0.4-2.1h0m0.1 3.3h0m0.3-3.4h0m0.2 0.6h0m0.3 2.9h0m0.3-0.4h0m0.3 0.8h0m0.2-1.9h0m0.3 1.7h0m0.3 1.6h0m0.1-0.6h0m0.3 1.0h0m0.3-1.3h0m0.2-0.5h0m0.3 2.6h0m0.3-1.8h0m0.2 0.6h0m0.2-1.1h0m0.3 3.2h0m0.3-0.8h0m0.3 1.1h0m0.1-1.9h0m0.3 0.6h0m0.2 0.0h0m0.3 1.9h0m0.2 1.4h0m0.3-0.5h0m0.3-0.2h0m0.3 2.2h0m0.2-0.8h0m0.2-0.6h0m0.3-1.0h0m0.2 2.4h0m0.2-1.0h0m0.4 1.5h0m0.1 0.6h0m0.4 0.0h0m0.2 0.8h0m0.3-0.3h0m0.2 0.6h0m0.3 1.6h0m0.2 2.2h0m0.2-5.2h0m0.4 2.6h0m0.2 0.4h0m0.3 2.1h0m0.1-0.9h0m0.3-1.6h0m0.3 3.4h0m0.3 0.2h0m0.3-2.5h0m0.2 3.6h0m0.2-1.8h0m0.3-1.5h0m0.2 0.5h0m0.3-0.3h0m0.2 1.9h0m0.3-1.5h0m0.2 0.2h0m0.2 2.2h0m0.4 2.4h0m0.1-3.5h0m0.4 2.3h0m0.2 2.7h0m0.3-0.5h0m0.2-1.5h0m0.3 0.4h0m0.2 0.6h0m0.3 2.6h0m0.3 0.2h0m0.2-1.2h0m0.2-0.5h0m0.3 1.0h0m0.2-1.1h0m0.3-0.5h0m0.3 2.3h0m0.2-0.3h0m0.3-0.3h0m0.1 2.0h0m0.4-1.3h0m0.2 1.7h0m0.2 0.9h0m0.4-0.6h0m0.2 0.8h0m0.2 1.4h0m0.3-1.2h0m0.2-1.6h0m0.3 1.6h0m0.3-0.4h0m0.2-1.0h0m0.3 1.4h0m0.2 3.1h0m0.3 0.2h0m0.2-3.1h0m0.3 2.6h0m0.2-2.3h0m0.3 3.2h0m0.2 0.6h0m0.3-0.3h0m0.2-1.0h0m0.3-0.5h0m0.2 2.0h0m0.4-0.1h0m0.2 2.1h0m0.2-3.3h0m0.3 2.1h0m0.2 3.5h0m0.3-3.5h0m0.2-0.8h0m0.2 0.9h0m0.3 2.1h0m0.3 0.4h0m0.2-1.1h0m0.3-0.2h0m0.2-0.4h0m0.3 0.9h0m0.2-0.3h0m0.3 2.3h0m0.3-0.6h0m0.2 0.2h0m0.3 4.1h0m0.2-1.4h0m0.3-2.4h0m0.2 2.5h0m0.2 1.6h0m0.4-1.8h0m0.2-1.4h0m0.2 3.7h0m0.3 1.9h0m0.3-1.9h0m0.2-1.1h0m0.3-1.9h0m0.1 1.0h0m0.4 0.9h0m0.2 2.8h0m0.3-0.8h0m0.3 2.1h0m0.1 0.1h0m0.3-2.6h0m0.2 1.2h0m0.3-0.8h0m0.2 3.4h0m0.3-2.0h0m0.3 0.1h0m0.3 1.1h0m0.1-0.3h0m0.3 3.6h0m0.3-4.8h0m0.2 1.0h0m0.3 0.1h0m0.3 3.9h0m0.3-3.6h0m0.1 2.7h0m0.4-0.4h0m0.1 0.6h0m0.3-2.6h0m0.4 3.1h0m0.1 4.1h0m0.3-0.6h0m0.3-3.4h0m0.2 0.8h0m0.2 0.9h0m0.3 2.0h0m0.3-4.0h0m0.2 3.2h0m0.2 0.8h0m0.3-0.8h0m0.3 3.8h0m0.2 0.6h0m0.3-2.9h0m0.2-0.4h0m0.3 1.1h0m0.2-0.9h0m0.3 3.9h0m0.2-1.9h0m0.3-1.0h0m0.2 1.9h0m0.3 0.6h0m0.2-2.7h0m0.3 1.0h0m0.3 0.3h0m0.2 2.0h0m0.3 0.3h0m0.2 0.3h0m0.2 0.8h0m0.4-1.3h0m0.2 1.5h0m0.2 2.2h0m0.4 0.2h0m0.2 1.2h0m0.2-2.0h0m0.3 1.8h0m0.3-1.0h0m0.2 0.6h0m0.2-1.4h0m0.2-0.4h0m0.4 2.5h0m0.2-0.7h0m0.2-1.3h0m0.3 1.8h0m0.3-0.9h0m0.2 1.9h0m0.2 1.1h0m0.2 0.1h0m0.3 1.2h0m0.3-1.7h0m0.3-0.8h0m0.2-0.5h0m0.3 3.7h0m0.2-1.2h0m0.3-0.7h0m0.2 0.6h0m0.3-1.2h0m0.2 3.5h0m0.3-0.5h0m0.3-0.4h0m0.1 1.1h0m0.4-0.3h0m0.2 1.0h0m0.3-0.7h0m0.2 1.3h0m0.3-0.1h0m0.2 0.1h0m0.2 1.7h0m0.3-2.3h0m0.3 2.5h0m0.2 0.7h0m0.3-0.4h0m0.3-3.4h0m0.2 3.4h0m0.2-0.4h0m0.3-0.9h0m0.2 0.4h0m0.3 2.4h0m0.3 3.7h0m0.3-5.0h0m0.2 0.8h0m0.2-1.3h0m0.3 4.4h0m0.2 1.5h0m0.3 0.6h0m0.3 1.1h0m0.3-1.9h0m0.1-0.3h0m0.2 0.1h0m0.4-2.9h0m0.2 3.7h0m0.3 1.9h0m0.3-1.2h0m0.2-0.1h0m0.3-3.2h0m0.1 4.7h0m0.3 0.7h0m0.3-1.4h0m0.3 1.6h0m0.2 1.1h0m0.2-3.7h0m0.3 3.1h0m0.3 0.2h0m0.2-1.3h0m0.3 1.6h0m0.2-0.2h0m0.3-1.2h0m0.2 2.3h0m0.3-2.9h0m0.2 7.0h0m0.3-5.4h0m0.3 0.3h0m0.2 1.0h0m0.2-1.7h0m0.3 2.5h0m0.3-2.8h0m0.2 3.2h0m0.2 3.0h0m0.3 2.6h0m0.3-1.0h0m0.2-2.0h0m0.2-0.2h0m0.3 1.1h0m0.3 3.5h0m0.2-4.4h0m0.3 0.5h0m0.3-1.1h0m0.2 3.0h0m0.3 1.6h0m0.2-1.5h0m0.2-3.2h0m0.3 5.5h0m0.3-3.1h0m0.3 2.5h0m0.1 1.7h0m0.3-4.8h0m0.2 4.8h0m0.4-1.2h0m0.2 0.1h0m0.2 3.8h0m0.3-3.3h0m0.3 2.1h0m0.2-1.2h0m0.2-0.3h0m0.3 3.9h0m0.3-3.0h0m0.2 1.5h0m0.2 2.3h0m0.4-3.8h0m0.2 1.2h0m0.3 0.8h0m0.1 1.2h0m0.4-1.4h0m0.2 6.0h0m0.3-2.3h0m0.1 0.9h0m0.4-2.7h0m0.2 2.3h0m0.3-4.4h0m0.2 6.1h0m0.3-3.3h0m0.2 0.2h0m0.2 2.1h0m0.3 0.2h0m0.3 0.1h0m0.2 3.1h0m0.3-3.7h0m0.3 0.3h0m0.1 5.3h0m1.6-1.7h0m0.2-0.4h0m1.6 3.5h0m0.6-1.8h0m0.9 5.1h0m0.2-2.4h0m2.0 2.4h0m1.6-2.7h0m1.5 3.2h0m2.6 3.0h0m0.2 1.2h0m2.1 4.8h0m0.2-4.8h0m0.3 2.6h0m0.4 5.5h0m0.3-3.0h0m0.8 0.2h0m0.3-2.9h0m0.2 3.2h0m0.3 0.0h0m0.2 0.9h0m0.5 0.9h0m0.9 0.4h0m0.4 6.9h0m1.2-2.0h0m0.6-4.2h0m1.0 3.6h0m0.4 3.3h0m0.3-2.6h0m1.3 5.2h0m0.2-0.3h0m0.8-6.4h0m1.6 4.5h0m0.1 6.7h0m0.9-5.8h0m0.4 1.3h0m2.1-2.2h0m0.6 0.0h0m0.2 12.0h0m0.7-4.6h0m0.5-3.3h0m0.3 4.5h0m0.7 0.7h0m0.3-0.9h0m1.7 2.8h0m0.5 2.8h0m0.3 3.9h0m1.2-4.3h0m1.6 3.6h0m1.0-2.6h0m0.8-0.2h0m1.8 9.7h0m0.7 1.3h0m0.3-8.0h0m0.3 8.8h0m0.1-8.8h0m1.4 6.7h0m2.7 3.2h0m2.3-0.6h0m0.5 0.3h0m2.8 4.9h0m1.5 4.2h0m1.0-2.0h0m0.5 0.3h0m1.1 3.7h0m0.2 4.4h0m2.1-7.4h0m0.2-0.7h0m0.4 7.4h0m0.6 5.2h0m1.0-7.8h0m0.8 0.3h0m0.8 7.1h0m0.1-2.9h0m0.3 0.8h0m1.9 4.3h0m0.2-10.7h0m1.7 3.3h0m0.3 9.2h0m0.7 1.9h0m0.4 1.4h0m0.5-7.7h0m2.2 9.3h0m0.3 4.9h0m0.5-9.4h0m0.7 1.0h0m0.3-1.9h0m1.3 12.0h0m0.2-8.2h0m0.5 12.0h0m1.3-6.7h0m0.8-1.6h0m0.5 1.6h0m1.0-0.5h0m1.3-4.8h0m1.2 17.5h0m1.6-5.5h0m1.0 3.3h0m0.2-8.8h0m1.0 13.2h0m0.3-5.7h0m0.4-5.8h0m0.3 18.2h0m0.5-19.9h0m0.2 16.5h0m0.6-14.2h0m0.8 9.4h0m0.4-0.7h0m0.8 0.7h0m0.3-11.2h0m0.2 1.8h0m0.3-3.5h0m1.0 18.5h0m0.7-11.8h0m1.4 34.4h0m0.4-31.1h0m1.4 0.7h0m0.7 7.0h0m0.2 4.3h0m0.5-8.3h0m0.7 13.1h0m0.6-3.9h0m0.3-0.9h0m0.2 0.9h0m1.5 7.1h0m0.3-11.5h0m0.2 3.5h0m0.3 2.9h0m0.3-8.1h0m0.5 9.0h0m0.1-2.9h0m0.8-1.8h0m0.8 0.9h0m0.3 1.9h0m0.4 2.9h0m0.3 5.5h0m1.2 4.8h0m0.8-16.0h0m1.4 0.0h0m0.2 7.8h0m1.3 10.9h0m0.2 0.0h0m0.3-9.8h0m2.0 15.6h0m1.0-3.0h0m0.8 1.4h0m0.3-25.5h0m0.2 12.6h0m0.2-6.2h0m1.0 7.4h0m1.4 4.8h0m0.9 11.7h0m1.7-14.2h0m0.4 9.4h0m1.4 10.1h0m0.4-17.0h0m0.4-3.7h0m0.8 5.0h0m1.5 28.6h0m0.5-21.4h0m0.3-11.0h0m0.5 19.5h0m0.2-14.3h0m0.8 10.7h0m1.2-7.9h0m1.6 1.4h0m2.2-2.9h0m1.1 9.4h0m0.3 14.0h0m0.9-6.5h0m0.5 0.0h0m0.6-15.4h0m0.3 9.6h0m0.9 0.0h0m1.0-8.2h0m0.4 25.5h0m0.4-9.5h0m1.6-7.8h0m0.4 7.8h0m0.8-7.8h0m0.8-1.7h0m3.3 24.7h0m1.7-21.1h0m0.5 8.1h0m1.5 0.0h0m3.2-2.2h0m2.5-9.5h0m0.2 3.6h0m1.2 18.2h0m1.3 5.9h0m0.2-20.2h0m1.6 17.2h0m0.5-2.9h0m0.3-2.8h0m2.5-11.5h0m0.5 17.2h0m0.8-21.1h0m0.2 27.5h0m0.2-9.3h0m0.6-23.5h0m0.7 11.2h0m2.8 25.2h0m0.8-20.7h0m0.2-6.5h0m0.5 14.3h0m0.6 12.9h0m0.5-3.6h0m1.7-9.3h0m1.8-7.8h0m0.8 20.7h0m0.5-12.9h0m3.1 5.9h0m0.7-16.0h0m0.8 10.1h0m0.1 0.0h0m2.2-5.3h0m1.1 5.3h0m0.8 12.9h0m0.4 0.0h0m1.7-3.6h0m1.0-9.3h0m2.0-7.8h0m0.7-2.3h0m2.1 7.3h0m0.8-11.5h0m1.6 27.2h0m0.7-3.6h0m1.5-17.1h0m0.8 10.7h0m0.2-19.2h0m0.7 8.5h0m0.8 13.7h0m0.2-8.7h0m2.2-13.5h0m0.9 13.5h0m1.5 8.7h0m0.3-5.9h0m0.7 9.3h0m0.8 3.6h0m1.3-18.2h0m0.2-2.5h0m3.1 7.8h0m2.0 2.9h0m0.2 3.0h0m1.4-5.9h0m0.2 0.0h0m1.3 5.9h0m2.3 7.0h0m0.6-7.0h0m0.3 3.4h0m0.8 3.6h0m0.6-3.6h0m0.7-9.3h0m0.6 2.9h0m1.1-8.2h0m0.6 11.2h0m0.7 0.0h0m1.0-11.2h0m0.5 11.2h0m0.8 7.0h0m1.0-3.6h0m0.5 3.6h0m0.5 0.0h0m5.1-10.0h0m1.8 0.0h0m5.6-5.7h0m1.5 8.7h0m1.5 7.0h0m1.6-3.6h0m2.2-3.4h0m2.8 7.0h0m3.8-3.6h0m0.3-17.1h0m0.7 13.7h0m0.5 7.0h0m0.8 0.0h0m0.4-18.2h0m1.1-4.8h0m5.8 16.0h0m0.6-8.7h0m1.2 2.8h0" stroke="#c85050" stroke-width="3.3" stroke-linecap="round" fill="none"/>
<path d="M1302.1 71.4h0m0.2-2.7h0m0.3-2.2h0m0.3-0.9h0m0.2 1.5h0m0.3-2.1h0m0.1 0.3h0m0.3-2.3h0m0.3-2.7h0m0.2-0.2h0m0.3-0.2h0m0.2-1.2h0m0.3-2.5h0m0.3 0.2h0m0.2-0.6h0m0.3-2.3h0m0.2-1.0h0m0.3 0.6h0m0.2 0.1h0m0.2-3.1h0m0.3-1.3h0m0.2 2.1h0m0.4-2.4h0m0.3-2.1h0m0.1 0.3h0m0.4-1.7h0m0.2-0.6h0m0.3-0.7h0m0.2-0.5h0m0.3-0.9h0m0.2-1.1h0m0.3 1.0h0m0.2-3.9h0m0.3 1.5h0m0.2 0.1h0m0.2-0.6h0m0.3-1.1h0m0.2 1.2h0m0.3-1.0h0m0.2 0.2h0m0.3-2.1h0m0.2-1.5h0m0.3 1.0h0m0.2 0.8h0m0.3 0.1h0m0.3-0.9h0m0.3-0.8h0m0.2 2.2h0m0.2-1.9h0m0.3-1.9h0m0.3 3.3h0m0.3-1.5h0m0.2 0.1h0m0.2-1.5h0m0.3-0.7h0m0.2 0.8h0m0.3 0.6h0m0.2-0.8h0m0.3 0.8h0m0.2-1.6h0m1.3 14.8h0m0.2 1.8h0m0.3 1.6h0m0.2-2.4h0m0.2-0.4h0m0.4 1.7h0m0.3-0.4h0m0.2 3.2h0m0.2-3.4h0m0.3 2.9h0m0.2 0.2h0m0.4-0.5h0m0.2-1.2h0m0.3-1.5h0m0.1 4.3h0m0.3-2.5h0m0.3 1.4h0m0.2 3.0h0m0.3-2.9h0m0.3 2.8h0m0.2-3.3h0m0.3 0.5h0m0.1 2.5h0m0.4 3.9h0m0.2-0.5h0m0.2-2.9h0m0.2-0.7h0m0.3-0.2h0m0.4 1.0h0m0.2 0.0h0m0.2 3.4h0m0.3-2.0h0m0.2 2.2h0m0.2-1.9h0m0.3-0.7h0m0.3 3.7h0m0.2-1.8h0m0.3 1.9h0m0.3 2.2h0m0.2-2.5h0m0.2 1.2h0m0.3-1.5h0m0.3 2.3h0m0.2 0.4h0m0.3-2.1h0m0.3 0.2h0m0.2-0.6h0m0.3 5.6h0m0.2-2.5h0m0.2-1.2h0m0.2 3.0h0m0.3-1.7h0m0.2-0.6h0m0.4 0.6h0m0.3 2.6h0m0.1-1.8h0m0.3 0.7h0m0.2-0.1h0m0.3 3.0h0m0.2-1.3h0m0.4 0.3h0m0.1-0.3h0m0.3-0.7h0m0.3 4.3h0m0.3-0.9h0m0.2 0.8h0m0.3-0.1h0m0.1 0.9h0m0.3-3.6h0m0.3 0.3h0m0.2 0.6h0m0.3 2.7h0m0.3 2.4h0m0.3-0.8h0m0.1-1.0h0m0.3-1.7h0m0.2 3.2h0m0.3 0.3h0m0.3 0.0h0m0.3 0.3h0m0.2-0.4h0m0.2-1.1h0m0.3 3.5h0m0.3 0.2h0m0.2-1.8h0m0.3 0.6h0m0.2-0.8h0m0.3-0.5h0m0.2 1.7h0m0.2 3.7h0m0.4-3.0h0m0.2 2.4h0m0.2-1.6h0m0.3 2.1h0m0.3-3.7h0m0.1 5.0h0m0.3-4.2h0m0.3 1.6h0m0.2-0.3h0m0.2 1.5h0m0.4 1.3h0m0.2-3.7h0m0.2 1.6h0m0.3 2.9h0m0.3-1.2h0m0.2 0.6h0m0.3 0.3h0m0.3-1.8h0m0.2 2.7h0m0.3 2.8h0m0.2-2.4h0m0.3 1.0h0m0.2 0.9h0m0.2 0.3h0m0.3-0.2h0m0.3-1.6h0m0.3 3.7h0m0.2-3.8h0m0.3 4.3h0m0.2-2.1h0m0.2 0.4h0m0.3 3.0h0m0.3-2.1h0m0.2 0.3h0m0.3 1.4h0m0.1-1.3h0m0.4 2.7h0m0.3 0.0h0m0.2 2.0h0m0.2-2.7h0m0.3 1.0h0m0.3 2.2h0m0.2-3.3h0m0.2 0.1h0m0.3 5.2h0m0.3-1.4h0m0.2 0.0h0m0.2-0.1h0m0.2 2.3h0m0.3-3.8h0m0.2 4.3h0m0.4-1.1h0m0.2 0.9h0m0.3-0.9h0m0.2 0.5h0m0.3-0.3h0m0.2 1.3h0m0.3 1.2h0m0.3-4.4h0m0.3 5.0h0m0.1-2.7h0m0.2-0.9h0m0.3 0.4h0m0.3 3.6h0m0.3-3.5h0m0.3 3.0h0m0.2 1.0h0m0.2 1.1h0m0.3-4.9h0m0.2 2.8h0m0.2 1.5h0m0.4-0.7h0m0.2 0.2h0m0.3 1.3h0m0.1 0.2h0m0.3 2.0h0m0.3-0.4h0m0.3 2.3h0m0.2-1.1h0m0.3 1.7h0m0.2-4.8h0m0.3 4.5h0m0.2-2.0h0m0.2 2.6h0m0.3-3.3h0m0.3 4.2h0m0.2 0.0h0m0.3 1.5h0m0.2-1.1h0m0.2-1.3h0m0.4 0.7h0m0.2-1.9h0m0.3-0.9h0m0.3 7.3h0m0.2-4.5h0m0.2 1.8h0m0.3-1.1h0m0.2 0.3h0m0.2 0.4h0m0.3 2.5h0m0.3 0.0h0m0.2-1.1h0m0.4 0.2h0m0.1 2.8h0m0.3 1.8h0m0.3 0.0h0m0.1-4.5h0m0.3 0.7h0m0.3 5.2h0m0.3-1.3h0m0.3 1.0h0m0.1-2.2h0m0.4 1.0h0m0.1-2.2h0m0.4 1.4h0m0.3 1.7h0m0.1-2.7h0m0.2 4.0h0m0.4-3.1h0m0.1 4.8h0m0.3-4.6h0m0.4 6.3h0m0.2-1.6h0m0.3-3.3h0m0.2 2.7h0m0.3 1.8h0m0.2-2.2h0m0.2-3.4h0m0.3 3.4h0m0.2-0.2h0m0.3-2.3h0m0.2 4.0h0m0.3-2.1h0m0.2 4.8h0m0.3-2.4h0m0.3 2.4h0m0.3 1.4h0m0.2-0.8h0m0.2-0.1h0m0.2-0.3h0m0.3 1.2h0m0.3-1.6h0m0.2 2.8h0m0.3-0.9h0m0.2-3.2h0m0.3 4.2h0m0.2 3.0h0m0.2-6.2h0m0.4 3.4h0m0.2-0.7h0m0.3 2.4h0m0.2-2.9h0m0.3 7.4h0m0.2-6.6h0m0.3 1.6h0m0.2-1.2h0m0.2 3.2h0m0.3-2.3h0m0.3 0.6h0m0.2 0.5h0m0.4 2.5h0m0.1 0.4h0m0.2 0.3h0m0.4 1.7h0m0.3 0.4h0m0.2-5.9h0m0.2 2.7h0m0.3 2.5h0m0.2 1.4h0m0.2 1.2h0m0.4-2.4h0m0.2-0.9h0m0.2 1.2h0m0.3 0.4h0m0.2 1.0h0m0.3-2.2h0m0.3 0.3h0m0.3 6.6h0m0.2-5.4h0m0.2-0.1h0m0.3 3.1h0m0.2 3.5h0m0.3-3.4h0m0.2 4.9h0m0.3-6.3h0m0.2 5.4h0m0.3-1.7h0m0.3 0.6h0m0.3-3.1h0m0.2 2.5h0m0.2 0.9h0m0.3 2.1h0m0.2-1.6h0m0.3-1.5h0m0.2 1.7h0m0.2 1.4h0m0.3-3.3h0m0.3 0.7h0m0.2 2.5h0m0.3-1.4h0m0.2 1.6h0m0.4-0.3h0m0.2 1.7h0m0.2-1.7h0m0.3 1.4h0m0.3-0.1h0m0.1-0.7h0m0.3-0.4h0m0.3 4.9h0m0.2-0.5h0m0.3 1.1h0m0.2-3.9h0m0.2 2.9h0m0.3-2.1h0m0.3 3.7h0m0.3 2.2h0m0.2-6.8h0m0.2 4.2h0m0.3-3.2h0m0.2 4.4h0m0.3-3.9h0m0.3 8.3h0m0.3-7.4h0m0.2 1.2h0m0.2-2.0h0m0.3 8.2h0m0.3-5.0h0m0.1 1.5h0m0.3 1.0h0m0.3-1.6h0m0.3 2.5h0m0.3 2.4h0m0.2-7.1h0m0.2 4.5h0m0.3 1.0h0m0.2 3.4h0m0.3-5.6h0m0.3 4.6h0m0.2-3.0h0m0.3 3.7h0m0.2-2.3h0m0.3-2.1h0m0.2 3.2h0m0.3-1.9h0m0.2 0.8h0m0.2-1.2h0m0.3 1.5h0m0.3 2.3h0m0.2 5.2h0m0.3-3.4h0m0.2-0.6h0m0.3 0.2h0m0.2-2.1h0m0.3 6.8h0m0.3-8.8h0m0.3 7.7h0m0.2-2.3h0m0.2 2.3h0m0.3 1.9h0m0.2-1.3h0m0.2-0.1h0m0.4-0.8h0m0.1-0.1h0m0.3 0.2h0m0.3-1.4h0m0.3 4.8h0m0.2-3.5h0m0.2 3.2h0m0.2 2.3h0m0.3 0.4h0m0.2-3.7h0m0.3 5.4h0m0.3-2.0h0m0.3 1.0h0m0.2-0.3h0m0.3 3.9h0m0.2-7.8h0m0.2 3.4h0m0.3-0.6h0m0.3 1.0h0m0.2-1.0h0m0.3 4.2h0m0.2-1.1h0m0.3 0.5h0m0.3-7.3h0m0.2 4.4h0m0.2 0.9h0m0.3 2.7h0m0.3-1.4h0m0.2 2.4h0m0.3-0.7h0m0.2 1.5h0m0.2-2.5h0m0.3 2.2h0m0.3-0.9h0m0.2-2.7h0m0.6 4.1h0m0.2-2.9h0m0.5 5.4h0m0.3-2.8h0m0.2 2.1h0m2.8 3.0h0m0.3 0.1h0m0.5-1.2h0m0.1 2.3h0m1.4 4.0h0m0.4-2.6h0m1.6-1.4h0m1.5 7.5h0m1.2 0.8h0m0.6 2.0h0m1.6 4.5h0m0.9-7.9h0m0.4 0.1h0m0.4 5.9h0m0.3 0.3h0m0.5 0.6h0m0.7-5.6h0m1.0 9.0h0m0.3-4.2h0m0.8 4.0h0m0.7-2.2h0m1.1 1.3h0m1.0 4.1h0m1.0-0.8h0m0.2-3.9h0m0.5 6.7h0m0.7 1.4h0m0.8 4.5h0m0.5-9.7h0m0.6-0.2h0m0.5 7.5h0m0.9-4.1h0m0.5 2.2h0m0.9 0.2h0m0.5 1.9h0m0.2-4.1h0m1.0 2.4h0m0.3 6.2h0m1.0-1.2h0m0.3 6.3h0m0.2-4.8h0m0.3-0.5h0m0.3 1.1h0m0.5 9.1h0m0.2-10.2h0m1.5 7.0h0m0.8-2.9h0m0.4 3.4h0m0.6 1.6h0m0.2 1.1h0m0.5-6.1h0m0.8 6.6h0m0.2-1.6h0m1.0-1.8h0m0.4-2.3h0m1.0 3.3h0m0.4 6.1h0m1.0 0.0h0m0.6 4.0h0m0.4-5.7h0m1.6 9.5h0m1.3-3.4h0m0.2 3.7h0m1.3-3.1h0m0.8-1.6h0m0.2-2.5h0m0.3 4.8h0m0.2-4.2h0m1.6 5.2h0m1.2 1.1h0m2.0 1.4h0m2.8 10.7h0m3.5-4.0h0m0.3-0.4h0m1.5 11.4h0m0.2-7.9h0m0.6 4.2h0m1.0 0.5h0m0.2-3.4h0m0.5 6.0h0m0.9-3.1h0m0.2 11.3h0m0.7-7.1h0m0.2-13.6h0m1.2 23.4h0m0.2-14.0h0m0.2 1.6h0m1.0 0.5h0m0.3 8.6h0m0.5-3.1h0m0.8-2.8h0m0.3 0.5h0m0.7-1.1h0m1.0 18.8h0m0.7-5.5h0m0.3-4.9h0m1.8 10.4h0m0.7-4.0h0m1.1-3.7h0m4.2 2.2h0m0.5-5.5h0m0.6 0.0h0m0.2-0.7h0m1.8 17.9h0m0.8-2.8h0m0.5-10.4h0m1.2 9.5h0m1.4 10.9h0m0.7-5.3h0m0.2-17.1h0m2.0 17.1h0m0.6-4.7h0m0.5 3.8h0m0.1 0.9h0m2.7 1.0h0m1.0-4.8h0m0.4 10.3h0m0.8 8.8h0m0.5-11.1h0m1.2-2.1h0m1.2-2.1h0m2.4 8.8h0m1.1-1.2h0m0.2-3.4h0m0.2 15.6h0m1.1-13.3h0m1.3 2.3h0m0.8 3.8h0m1.0 4.2h0m1.2-2.8h0m0.6-2.7h0m0.7 8.5h0m2.6-1.6h0m0.2-14.0h0m0.2 4.6h0m0.3 5.2h0m0.5-2.7h0m0.2 13.4h0m0.3-19.4h0m0.2 23.0h0m2.5-14.3h0m1.1 0.0h0m0.5 9.0h0m0.3 1.7h0m1.7 9.5h0m1.1-9.5h0m0.1-4.9h0m0.4 1.5h0m0.2 15.1h0m0.3-19.6h0m1.7-2.8h0m1.0 16.2h0m1.1-5.5h0m0.2-3.4h0m0.8 5.1h0m0.2-12.4h0m1.5 27.2h0m3.3-12.9h0m0.6 12.9h0m0.2-9.0h0m0.6 4.2h0m0.4-13.4h0m1.5-1.7h0m0.6 17.4h0m3.5 7.8h0m0.6-16.3h0m0.7 0.0h0m0.2-13.4h0m2.5 24.4h0m1.8-9.0h0m0.3-3.9h0m0.2 8.1h0m0.5 4.8h0m1.1 18.2h0m1.0-25.2h0m1.2 9.5h0m0.3-2.5h0m0.2 0.0h0m0.2 14.6h0m0.3-23.6h0m0.8 2.0h0m0.7 7.0h0m0.6 14.6h0m0.8-27.5h0m0.4 1.9h0m0.3 11.0h0m0.2-19.9h0m2.4 38.1h0m0.2-18.2h0m0.3 5.3h0m1.2-2.8h0m0.3-11.5h0m0.5 20.2h0m0.7 3.4h0m0.5-25.6h0m3.1 11.0h0m1.6 14.6h0m1.7-3.4h0m0.2-8.7h0m0.2 15.7h0m4.8-7.0h0m0.4 3.4h0m0.7-23.6h0m0.3-2.0h0m1.8 19.2h0m0.2 6.4h0m1.1 0.0h0m0.7-6.4h0m2.6 10.0h0m1.9-23.0h0m0.6 16.0h0m0.2-5.9h0m0.6 0.0h0m0.1 9.3h0m0.3 0.0h0m0.5-6.4h0m0.8 10.0h0m0.3-12.9h0m0.4 9.3h0m0.8-14.6h0m4.8 5.3h0m0.5 0.0h0m0.3-14.3h0m0.8 27.2h0m3.7 0.0h0m0.9-3.6h0m0.9-9.3h0m0.3-10.1h0m1.7 19.4h0m3.1 0.0h0m2.6 0.0h0m2.8-12.1h0m2.2 8.7h0m0.3-11.2h0m1.5 5.3h0m0.5 0.0h0m0.2 9.3h0m0.7-6.4h0m0.4 6.4h0m0.7 0.0h0m1.2-6.4h0m1.1-5.7h0m2.1 5.7h0m0.7 10.0h0m1.6-7.0h0m0.1 0.0h0m0.6 7.0h0m1.8 0.0h0m0.1 0.0h0m2.3-3.6h0m0.8 0.0h0m3.9 0.0h0m2.3 3.6h0m1.4 0.0h0m0.9-12.9h0m3.9 12.9h0m0.8 0.0h0m1.1-3.6h0m3.5-6.4h0m1.5 3.0h0m1.5 7.0h0m3.6-12.9h0m1.1 12.9h0m0.6-15.7h0m1.1 12.1h0m0.9-3.4h0m2.7-3.0h0m0.4-5.7h0m0.3 15.7h0m1.6 0.0h0" stroke="#3cb43c" stroke-width="3.3" stroke-linecap="round" fill="none"/>
<path d="M1302.0 55.3h0m0.4-2.8h0m0.2-3.1h0m0.3 1.7h0m0.2 0.5h0m0.2-1.1h0m0.2-1.5h0m0.3 0.1h0m0.3-2.7h0m0.3 1.3h0m0.2-0.4h0m0.3-1.3h0m0.2-0.6h0m0.2-1.4h0m0.3 1.2h0m0.2-0.4h0m0.3 0.3h0m0.2-1.7h0m0.3-2.0h0m0.3 0.5h0m0.2-1.6h0m0.3 1.8h0m0.3-0.7h0m0.2-1.3h0m0.3 0.0h0m0.2 0.3h0m0.2-1.8h0m0.3-0.6h0m0.3 0.2h0m0.2 0.1h0m0.2 0.3h0m0.4-0.8h0m0.1-0.8h0m0.4 1.4h0m0.2-1.2h0m0.2-1.8h0m0.3 1.7h0m0.2-0.3h0m0.3-1.8h0m0.2 1.0h0m0.3-1.1h0m0.3 0.2h0m0.2-0.5h0m0.2-1.1h0m0.4 1.5h0m0.2 0.1h0m0.2-0.2h0m0.3-0.3h0m0.3-0.6h0m0.2-1.0h0m0.2 1.1h0m0.3-0.3h0m0.3 1.2h0m0.2-1.0h0m0.2-0.8h0m0.4 0.9h0m0.2-1.0h0m0.2 2.1h0m0.2-1.7h0m0.4 0.1h0m1.1 34.6h0m0.3 0.6h0m0.3-1.6h0m0.3-0.6h0m0.1-2.7h0m0.4 0.5h0m0.2 6.4h0m0.3-2.1h0m0.3 0.2h0m0.2 0.8h0m0.2-2.5h0m0.3-1.9h0m0.2 2.3h0m0.2 3.3h0m0.4-4.5h0m0.3 2.0h0m0.2 2.1h0m0.2 2.2h0m0.3-3.5h0m0.2-1.9h0m0.3 6.5h0m0.2 0.1h0m0.3 2.8h0m0.3-5.4h0m0.2 2.9h0m0.3-4.3h0m0.2 2.6h0m0.2 0.7h0m0.4-0.9h0m0.1 4.8h0m0.4-5.0h0m0.2 3.1h0m0.3-3.8h0m0.1 0.6h0m0.4 1.0h0m0.2 1.5h0m0.2-0.8h0m0.3 1.8h0m0.2 2.2h0m0.3 1.4h0m0.3-3.1h0m0.2 2.3h0m0.3-1.0h0m0.2-1.5h0m0.3 0.6h0m0.2 3.6h0m0.3-0.4h0m0.2-3.3h0m0.3 2.3h0m0.2 1.4h0m0.3 2.5h0m0.2-3.6h0m0.3 7.2h0m0.3-1.6h0m0.2-3.1h0m0.3 5.8h0m0.2-6.1h0m0.2 0.8h0m0.4 0.6h0m0.1-3.6h0m0.3 1.5h0m0.3 4.8h0m0.2 0.3h0m0.3-1.6h0m0.2 4.5h0m0.3-4.1h0m0.2 3.3h0m0.2 0.8h0m0.3 1.0h0m0.2-0.5h0m0.4-5.9h0m0.3 7.1h0m0.2-3.9h0m0.3-3.5h0m0.2 0.6h0m0.3 2.9h0m0.1-1.9h0m0.3 3.8h0m0.3-1.9h0m0.3 2.1h0m0.2 5.2h0m0.2-8.4h0m0.3 9.9h0m0.3-5.4h0m0.2 1.3h0m0.3 1.2h0m0.3-3.0h0m0.2 0.5h0m0.2 1.4h0m0.3-2.8h0m0.2-0.7h0m0.3 5.3h0m0.2 1.2h0m0.3-1.0h0m0.2 4.2h0m0.3-0.6h0m0.2-1.4h0m0.3-2.7h0m0.3 0.4h0m0.2 2.6h0m0.2 0.7h0m0.3 0.3h0m0.3 0.6h0m0.2-6.2h0m0.2 5.1h0m0.4 3.4h0m0.3-4.6h0m0.2-0.2h0m0.2 2.2h0m0.3 3.0h0m0.2-5.9h0m0.3 3.5h0m0.2-1.2h0m0.3 0.8h0m0.2-1.2h0m0.2 1.7h0m0.4 2.7h0m0.1-0.9h0m0.3-0.4h0m0.3 0.6h0m0.3 6.8h0m0.2-8.9h0m0.3 1.3h0m0.1 5.8h0m0.4-1.8h0m0.2 0.1h0m0.2-0.6h0m0.3 5.3h0m0.2-5.8h0m0.3-1.2h0m0.3-0.1h0m0.2 4.7h0m0.3-4.6h0m0.2 6.3h0m0.3-1.4h0m0.2-3.1h0m0.3-0.8h0m0.2 2.0h0m0.3 7.2h0m0.3-0.4h0m0.2-5.2h0m0.3 1.1h0m0.2-2.6h0m0.3 2.5h0m0.2 2.4h0m0.2-1.4h0m0.3-2.3h0m0.3-0.2h0m0.3 2.1h0m0.1 3.0h0m0.4-4.9h0m0.2 6.4h0m0.2-5.4h0m0.3 0.6h0m0.2-0.9h0m0.4 2.1h0m0.2 4.4h0m0.2 2.8h0m0.3-3.6h0m0.3 2.3h0m0.2-0.1h0m0.2-2.0h0m0.3 2.3h0m0.2-3.5h0m0.2 5.8h0m0.3-0.2h0m0.4 0.7h0m0.1-2.9h0m0.3-3.6h0m0.3-0.4h0m0.2 2.5h0m0.3-2.1h0m0.2 3.9h0m0.2 4.9h0m0.4-3.9h0m0.1 6.0h0m0.3-3.2h0m0.4 0.8h0m0.2-0.1h0m0.2-2.5h0m0.3 4.7h0m0.2-1.7h0m0.2-4.7h0m0.4 4.7h0m0.2-2.2h0m0.2 1.4h0m0.3 2.4h0m0.3-2.4h0m0.1-0.6h0m0.3-0.2h0m0.3 1.4h0m0.3-2.0h0m0.1 1.5h0m0.4 1.5h0m0.2 2.5h0m0.3-0.3h0m0.3 1.3h0m0.2-3.7h0m0.2 5.9h0m0.3-4.6h0m0.3 1.3h0m0.2-1.5h0m0.3 1.7h0m0.2 0.8h0m0.2 0.2h0m0.2 1.6h0m0.3 1.8h0m0.3-3.8h0m0.3 5.3h0m0.1 1.2h0m0.3-3.8h0m0.3-4.1h0m0.3 5.3h0m0.2 0.7h0m0.3 3.7h0m0.2-5.4h0m0.3 3.6h0m0.2 1.2h0m0.3-6.4h0m0.3 0.7h0m0.2 4.3h0m0.2-4.8h0m0.3 5.3h0m0.2-2.2h0m0.4 3.7h0m0.2-5.2h0m0.2 1.9h0m0.3 0.6h0m0.2 1.0h0m0.3 0.9h0m0.2 1.9h0m0.3 2.4h0m0.3 0.1h0m0.2-5.9h0m0.3 1.6h0m0.2 1.0h0m0.2-3.7h0m0.3 8.0h0m0.3 1.5h0m0.2-2.9h0m0.3-1.1h0m0.2 3.3h0m0.2-4.3h0m0.3 4.1h0m0.2-3.1h0m0.3 1.7h0m0.2-0.2h0m0.3 0.5h0m0.3 2.2h0m0.2 2.6h0m0.2-3.3h0m0.3 4.7h0m0.2-8.8h0m0.4 10.1h0m0.2 0.9h0m0.3-3.3h0m0.2-5.5h0m0.3 1.9h0m0.3 3.9h0m0.2-2.8h0m0.2 1.7h0m0.3-2.1h0m0.2 1.7h0m0.3 3.1h0m0.3 2.3h0m0.3-5.2h0m0.2 4.7h0m0.1-2.2h0m0.4 3.1h0m0.2-1.8h0m0.3-1.3h0m0.3 6.5h0m0.2-5.8h0m0.3 3.9h0m0.3-0.9h0m0.1 1.7h0m0.4-3.7h0m0.1 0.5h0m0.3 5.1h0m0.3-5.9h0m0.2 2.2h0m0.2 3.7h0m0.4-3.3h0m0.2 2.7h0m0.2-5.1h0m0.2 3.6h0m0.3-4.0h0m0.2 9.2h0m0.3-6.5h0m0.3 1.2h0m0.2-1.7h0m0.3 6.1h0m0.2-6.4h0m0.3 7.2h0m0.3 1.0h0m0.3-1.8h0m0.1 1.1h0m0.4-4.4h0m0.2 4.7h0m0.3 3.0h0m0.1-8.4h0m0.3 2.7h0m0.2 5.2h0m0.3-6.6h0m0.4 1.6h0m0.1 5.4h0m0.3-0.3h0m0.3-1.0h0m0.2-4.0h0m0.2-0.7h0m0.3 0.9h0m0.2-1.2h0m0.3 4.5h0m0.3-4.9h0m0.3 11.6h0m0.2-8.4h0m0.3 5.2h0m0.2 3.3h0m0.2 0.8h0m0.3 3.6h0m0.3-8.8h0m0.2 2.7h0m0.3-5.6h0m0.2 0.0h0m0.3 4.3h0m0.3 0.8h0m0.2 0.7h0m0.2-0.4h0m0.3-1.6h0m0.3 1.5h0m0.2 1.5h0m0.2-0.8h0m0.2-3.6h0m0.4 4.8h0m0.2-0.8h0m0.3-4.5h0m0.2 8.7h0m0.3-3.6h0m0.2-4.3h0m0.3 4.0h0m0.2 3.9h0m0.3-5.7h0m0.2 0.5h0m0.3 6.3h0m0.3 2.3h0m0.2-1.7h0m0.3-2.6h0m0.1-1.1h0m0.3 2.5h0m0.3 0.7h0m0.3-1.4h0m0.2-1.4h0m0.3 5.4h0m0.2-0.6h0m0.3-3.1h0m0.2-3.2h0m0.3 7.5h0m0.2-3.6h0m0.3 5.3h0m0.3-2.6h0m0.2 5.3h0m0.3 0.5h0m0.2-6.7h0m0.3-1.3h0m0.1 6.2h0m0.4-5.1h0m0.2 9.5h0m0.3-8.1h0m0.2 4.2h0m0.3-3.8h0m0.2 6.0h0m0.3-2.1h0m0.3 0.6h0m0.2 0.0h0m0.3 5.7h0m0.1-9.5h0m0.3 2.2h0m0.4 3.6h0m0.1-3.8h0m0.3 5.8h0m0.3-7.1h0m0.2 3.8h0m0.2-0.9h0m0.3-0.5h0m0.2-1.8h0m0.4 4.6h0m0.2 1.5h0m0.2-0.8h0m1.0 1.4h0m0.4 7.7h0m0.2-7.0h0m1.3-1.6h0m0.2-4.0h0m0.5 6.4h0m0.5 1.8h0m0.2 0.8h0m2.8 2.7h0m0.3 4.2h0m0.5-3.4h0m0.2-3.1h0m2.1 6.5h0m0.9 3.8h0m1.1-5.8h0m0.3 5.4h0m0.8-6.1h0m0.5 5.7h0m0.7-0.4h0m1.5 1.2h0m0.3 1.3h0m1.8-2.8h0m0.2 2.3h0m0.4 6.9h0m0.5-11.5h0m0.8 12.9h0m0.3-2.5h0m0.3-0.4h0m0.3 5.1h0m0.2-7.8h0m0.2-0.5h0m0.3 3.0h0m0.2-4.2h0m0.8 5.6h0m1.0 0.7h0m0.5-1.9h0m0.3-1.3h0m0.8 12.0h0m2.2 0.2h0m1.3-0.4h0m0.2-4.5h0m1.6 4.9h0m2.5-5.3h0m0.5 4.9h0m1.1 4.4h0m0.1-4.2h0m0.9 8.3h0m0.2-0.9h0m0.7 3.2h0m0.3-4.0h0m0.3 4.9h0m0.2-2.4h0m1.5-0.8h0m0.3-0.9h0m0.7 8.9h0m1.1-0.6h0m2.0-5.7h0m1.1 5.7h0m0.7 2.4h0m0.9-3.4h0m0.3 3.7h0m0.5-4.1h0m0.4 1.0h0m0.5-1.3h0m0.6 7.4h0m0.3-4.7h0m0.2 3.5h0m0.4-6.5h0m0.1 7.7h0m0.3-5.4h0m0.6 8.1h0m0.2-7.1h0m0.8 3.6h0m0.5 6.0h0m2.0-4.1h0m1.3 6.3h0m0.4-7.8h0m0.4 3.1h0m2.2 0.8h0m1.1 7.6h0m0.4-7.2h0m0.5 9.8h0m0.5-13.0h0m0.4 11.4h0m0.4-0.5h0m1.8 0.5h0m0.3-4.7h0m1.2 5.7h0m0.8 7.2h0m0.1 0.0h0m0.6 4.4h0m0.8-7.3h0m1.0-2.7h0m0.6 9.4h0m1.4-9.9h0m0.3 1.0h0m1.2 12.2h0m0.8-4.0h0m0.7 4.7h0m0.4-6.6h0m1.4-10.8h0m0.6 18.2h0m1.0-6.1h0m0.2 1.3h0m0.3 5.5h0m0.8 6.3h0m0.2-7.8h0m0.5-3.4h0m2.8-2.6h0m0.8 9.7h0m0.4-3.7h0m0.3 7.0h0m0.3-6.2h0m0.7-1.5h0m0.5 9.4h0m0.6 3.5h0m0.2-2.7h0m0.2-1.7h0m0.3-9.8h0m0.3 8.1h0m0.7-5.3h0m0.8 7.0h0m1.2 7.3h0m0.6-15.1h0m0.4-0.7h0m0.6 12.9h0m0.1-9.2h0m0.4 1.5h0m1.5-1.5h0m0.2 15.2h0m0.5-13.7h0m1.8 1.6h0m0.8 6.1h0m0.6 11.7h0m0.2-16.1h0m3.0 11.5h0m0.3 5.9h0m0.3-22.2h0m1.6 19.7h0m2.1-7.6h0m0.6 7.6h0m1.2 0.0h0m0.7 7.7h0m1.6-6.5h0m1.0-10.7h0m2.0 10.7h0m0.8 8.0h0m1.3-10.3h0m0.1-1.2h0m1.4 19.4h0m0.2 0.0h0m2.1 0.0h0m0.5-10.7h0m1.2 4.2h0m1.6 4.8h0m0.9 0.0h0m0.6 3.4h0m0.5-17.6h0m1.5 23.4h0m1.0 4.2h0m0.8-11.7h0m0.2-10.7h0m1.1 12.4h0m0.2-6.6h0m0.8 1.5h0m0.2-6.0h0m0.8 13.0h0m0.1-5.3h0m1.6-4.8h0m0.5 12.0h0m1.1-1.9h0m1.5-3.6h0m0.3 3.6h0m0.5 27.5h0m0.7-39.0h0m1.7 6.2h0m0.3 11.2h0m0.7 15.2h0m1.1-23.0h0m0.5-3.4h0m0.3 5.3h0m0.2 0.0h0m0.2 10.4h0m0.5-10.4h0m0.8 1.9h0m0.6 8.5h0m0.7-18.9h0m0.3 23.9h0m0.2 0.0h0m0.7 2.8h0m0.9-7.8h0m0.2-2.3h0m0.5-6.2h0m0.5-7.2h0m0.2 9.2h0m0.5 4.2h0m0.3 0.0h0m0.3-18.2h0m0.8 20.5h0m0.6-21.9h0m0.5 13.4h0m1.1 22.2h0m1.8-34.2h0m0.8 34.2h0m0.2-24.1h0m1.8 12.9h0m0.4 5.3h0m0.9-5.3h0m1.0-16.5h0m1.2 11.7h0m1.4-10.0h0m0.2 10.0h0m0.2 4.8h0m0.3 18.2h0m1.5-12.9h0m1.1-5.3h0m0.1 8.2h0m1.1-10.7h0m0.7-4.5h0m2.6 25.2h0m0.4-10.0h0m0.6 0.0h0m0.7-23.0h0m0.2 12.3h0m0.4 20.7h0m0.7-36.4h0m0.5 29.4h0m0.2 0.0h0m0.3-13.7h0m2.3 13.7h0m2.0-16.0h0m2.4 19.4h0m1.9-27.5h0m0.3 12.9h0m0.2 11.2h0m0.3-18.2h0m0.2-2.0h0m0.3 17.2h0m0.2 10.0h0m0.8-15.7h0m0.3 2.8h0m0.5-10.1h0m1.2 4.8h0m1.1 2.5h0m0.4 15.7h0m4.2-10.0h0m4.7-10.7h0m1.3 10.7h0m0.6 10.0h0m1.7-12.9h0m1.1 0.0h0m0.9-5.3h0m0.7 18.2h0m0.3-23.0h0m2.6 23.0h0m1.2 0.0h0m1.8-3.6h0m0.5 3.6h0m0.8 0.0h0m0.8 0.0h0m1.2-18.2h0m1.3 5.3h0m0.5 5.9h0m0.8-11.2h0m0.3 11.2h0m0.5 3.4h0m1.1 3.6h0m0.4-12.9h0m0.5 12.9h0m0.2-18.2h0m1.5 8.2h0m1.0 0.0h0m0.5 6.4h0m0.6-9.3h0m2.0 0.0h0m0.7 0.0h0m0.3 9.3h0m0.2-3.4h0m1.6 3.4h0m0.9-14.6h0m0.5 18.2h0m0.9-3.6h0m0.2 3.6h0m0.6-7.0h0m1.7 0.0h0m0.5-5.9h0m2.3-18.2h0m0.7 24.1h0m2.1 3.4h0m4.6-6.4h0m2.0 3.0h0m4.5 3.4h0m1.0 0.0h0m0.5 3.6h0m0.6-10.0h0m0.2 6.4h0m0.2-19.4h0m0.5 10.1h0m0.9 5.9h0m0.1-16.0h0m0.4 13.0h0m1.1 10.0h0m2.2-3.6h0m1.4-19.4h0m3.1 4.8h0m5.5 14.6h0" stroke="#b444b4" stroke-width="3.3" stroke-linecap="round" fill="none"/>
<path d="M1302.1 96.1h0m0.2-3.6h0m0.3-1.5h0m0.2-0.5h0m0.3-3.0h0m0.2-2.6h0m0.3-1.6h0m0.3-3.1h0m0.2-1.4h0m0.2-2.1h0m0.4-2.0h0m0.1-2.1h0m0.3-0.9h0m0.3-2.3h0m0.2-0.2h0m0.3-2.0h0m0.3-2.0h0m0.2-2.6h0m0.3-0.1h0m0.2-1.8h0m0.3-0.5h0m0.1-1.7h0m0.4-2.5h0m0.2 1.3h0m0.3-3.1h0m0.2-1.9h0m0.3 0.5h0m0.2-2.7h0m0.2 0.4h0m0.3-2.5h0m0.3-1.0h0m0.3-0.8h0m0.2-1.6h0m0.2 0.6h0m0.3-1.3h0m0.3-1.1h0m0.3-1.1h0m0.1 0.5h0m0.3-1.1h0m0.3-1.2h0m0.3 1.4h0m0.1-0.9h0m0.3-1.1h0m0.3-0.3h0m0.2-2.0h0m0.3 0.5h0m0.2-1.1h0m0.3-1.2h0m0.2 1.7h0m0.2-0.9h0m0.4-1.5h0m0.2 0.0h0m0.3 0.9h0m0.3-0.2h0m0.1-0.9h0m0.3 0.1h0m0.3-2.0h0m0.2 1.0h0m0.2 0.1h0m0.3 0.3h0m1.2 9.5h0m0.4-1.2h0m0.2-0.8h0m0.2-3.6h0m0.3 3.0h0m0.3 3.3h0m0.2-0.3h0m0.3-2.7h0m0.3 0.1h0m0.2-2.4h0m0.2 3.4h0m0.3 0.5h0m0.2 3.7h0m0.3-2.0h0m0.3-2.8h0m0.2 0.4h0m0.2 0.7h0m0.3-2.4h0m0.3 9.3h0m0.2-6.5h0m0.2 7.9h0m0.3-0.3h0m0.3 0.8h0m0.2-2.8h0m0.3-3.1h0m0.3 6.2h0m0.2-4.7h0m0.2-1.9h0m0.3 6.7h0m0.2-2.8h0m0.4 4.3h0m0.2-5.5h0m0.2 5.8h0m0.2-2.5h0m0.3 1.7h0m0.2 1.7h0m0.3-8.7h0m0.4 2.8h0m0.1 6.0h0m0.3-0.6h0m0.3-1.0h0m0.2-4.3h0m0.3 5.9h0m0.3 1.6h0m0.1-1.1h0m0.3-1.0h0m0.3 2.2h0m0.3-2.6h0m0.2-2.1h0m0.2 0.0h0m0.3-1.0h0m0.2 8.3h0m0.2-0.4h0m0.3-6.7h0m0.3 5.9h0m0.2 1.0h0m0.4-4.1h0m0.1 1.1h0m0.4 6.6h0m0.2-8.1h0m0.3 7.7h0m0.2-0.3h0m0.3-1.4h0m0.2 0.9h0m0.3-6.6h0m0.2 4.9h0m0.2 2.6h0m0.3-5.4h0m0.2-0.4h0m0.3 1.1h0m0.3-1.2h0m0.2 2.4h0m0.3 7.1h0m0.3-7.4h0m0.2 6.1h0m0.2-1.3h0m0.3 3.6h0m0.2-7.4h0m0.3 5.9h0m0.2-6.8h0m0.3 0.4h0m0.3 8.3h0m0.2-4.3h0m0.2 3.1h0m0.3 3.5h0m0.2 1.1h0m0.3-3.6h0m0.3-3.4h0m0.2 0.8h0m0.3 6.7h0m0.2-3.5h0m0.2-1.7h0m0.3 2.3h0m0.3 0.2h0m0.3 1.5h0m0.2-0.7h0m0.2-1.7h0m0.3 0.1h0m0.3 0.6h0m0.2-1.8h0m0.2 3.8h0m0.3 2.1h0m0.2-2.2h0m0.3-1.6h0m0.3 1.6h0m0.2 5.3h0m0.3-6.8h0m0.3 2.9h0m0.2-1.0h0m0.3-1.1h0m0.2 5.6h0m0.2-4.1h0m0.3 2.2h0m0.3 0.8h0m0.3 0.0h0m0.2 4.1h0m0.2-7.0h0m0.2 0.7h0m0.3 1.1h0m0.2 2.0h0m0.4 3.8h0m0.2-6.1h0m0.3 7.4h0m0.2 2.8h0m0.3-10.2h0m0.2 8.8h0m0.3-1.6h0m0.2 0.6h0m0.2-4.9h0m0.4 4.1h0m0.1 4.1h0m0.4-0.4h0m0.2-1.6h0m0.2-2.7h0m0.3-0.9h0m0.3 5.2h0m0.3-5.7h0m0.1 4.1h0m0.3 0.1h0m0.2-4.1h0m0.3 7.0h0m0.2-0.4h0m0.3 1.3h0m0.3 1.6h0m0.2-7.3h0m0.3 5.8h0m0.3-4.8h0m0.2 6.3h0m0.2-7.8h0m0.4 2.3h0m0.2 5.7h0m0.2-0.5h0m0.2-0.7h0m0.3-0.9h0m0.3-3.4h0m0.2 6.8h0m0.2-0.8h0m0.3 0.1h0m0.2-4.6h0m0.4 1.1h0m0.1 2.9h0m0.3 4.2h0m0.3 1.0h0m0.3-1.9h0m0.1-0.8h0m0.3 1.0h0m0.4-5.1h0m0.1 9.0h0m0.3-7.3h0m0.2 5.3h0m0.3-1.4h0m0.2 0.5h0m0.3-0.6h0m0.2 4.1h0m0.4-0.1h0m0.2-4.9h0m0.2 7.3h0m0.3-1.2h0m0.2-5.4h0m0.3 2.2h0m0.2 2.5h0m0.3 4.0h0m0.3-6.3h0m0.2 2.4h0m0.3-3.5h0m0.2 0.5h0m0.2 3.4h0m0.3 1.3h0m0.2 2.0h0m0.3 0.0h0m0.3 2.5h0m0.2-6.7h0m0.3 4.4h0m0.3 2.4h0m0.2-1.2h0m0.2-0.7h0m0.3 1.3h0m0.3-2.6h0m0.2 5.4h0m0.2-8.9h0m0.3 8.9h0m0.3-1.8h0m0.3-1.5h0m0.2 1.6h0m0.3 0.6h0m0.2-2.8h0m0.2-3.0h0m0.2 6.8h0m0.3-0.9h0m0.3-1.9h0m0.3 5.1h0m0.2-2.5h0m0.3 2.7h0m0.3-6.9h0m0.1 7.8h0m0.3-8.0h0m0.2 6.7h0m0.3-0.2h0m0.3 2.4h0m0.2 1.7h0m0.3-3.9h0m0.3-2.8h0m0.3 4.3h0m0.1-4.3h0m0.3 6.2h0m0.2-3.1h0m0.3-2.1h0m0.2 6.2h0m0.3 1.6h0m0.3-2.0h0m0.2-3.5h0m0.3-3.1h0m0.3-0.1h0m0.2 1.3h0m0.3 1.7h0m0.1 6.1h0m0.3 4.6h0m0.3-10.9h0m0.3 4.9h0m0.1-4.0h0m0.4 6.4h0m0.2-4.6h0m0.2 1.0h0m0.4 5.8h0m0.2 2.1h0m0.3-5.5h0m0.2-3.2h0m0.3 3.5h0m0.1 4.5h0m0.3 3.2h0m0.3-7.3h0m0.2-0.5h0m0.4 2.4h0m0.1-4.0h0m0.3 1.3h0m0.3-2.0h0m0.2 3.2h0m0.2 3.4h0m0.3-4.9h0m0.3 6.8h0m0.3 0.6h0m0.2-4.3h0m0.2-1.8h0m0.3 10.9h0m0.3-5.4h0m0.2-1.9h0m0.2 3.6h0m0.3-3.4h0m0.3 5.5h0m0.3 1.5h0m0.1-2.5h0m0.3-1.8h0m0.2 0.5h0m0.3-5.9h0m0.3 4.6h0m0.2 1.7h0m0.3-0.8h0m0.2 3.8h0m0.3 3.8h0m0.2-3.0h0m0.3-5.1h0m0.2 7.9h0m0.3 2.4h0m0.3-5.7h0m0.3-1.1h0m0.2-2.1h0m0.3 1.5h0m0.2 2.9h0m0.3 4.8h0m0.2-4.7h0m0.3 4.5h0m0.1 1.3h0m0.3-7.7h0m0.4 7.5h0m0.1-2.2h0m0.3-2.7h0m0.2-0.2h0m0.3-1.9h0m0.3 8.1h0m0.2-6.2h0m0.3 5.4h0m0.3-3.5h0m0.2 0.8h0m0.2 3.6h0m0.3-0.9h0m0.3-1.4h0m0.2-0.7h0m0.3 5.1h0m0.3-1.8h0m0.1 1.4h0m0.3-4.5h0m0.3 0.4h0m0.2 4.8h0m0.3 3.5h0m0.2-5.7h0m0.2-1.2h0m0.3 2.3h0m0.3-3.9h0m0.3-0.2h0m0.2 6.4h0m0.3-0.4h0m0.2-0.2h0m0.2 4.1h0m0.4-0.2h0m0.2 0.4h0m0.2-7.7h0m0.3 3.8h0m0.2-1.5h0m0.3-2.4h0m0.2 6.2h0m0.2-2.7h0m0.3 2.8h0m0.3 6.5h0m0.3-9.8h0m0.2 9.8h0m0.2-4.9h0m0.3 9.3h0m0.2-9.4h0m0.3 6.3h0m0.3-3.1h0m0.2-6.7h0m0.3 10.7h0m0.3-3.6h0m0.1-5.7h0m0.4 3.8h0m0.2 7.1h0m0.2-4.7h0m0.3 4.3h0m0.3-5.1h0m0.2 1.2h0m0.3 3.0h0m0.2-6.3h0m0.3 7.2h0m0.2-6.4h0m0.3 6.1h0m0.3-5.9h0m0.2 3.5h0m0.2-2.7h0m0.3 3.5h0m0.3-4.3h0m0.3 0.9h0m0.2 8.0h0m0.3 3.4h0m0.2-9.1h0m0.3-0.6h0m0.1 4.8h0m0.3 1.5h0m0.2-3.9h0m0.4 2.2h0m0.2-1.4h0m0.2-0.4h0m0.3 4.7h0m0.2-4.6h0m0.2 7.1h0m0.3-1.1h0m0.3-5.6h0m0.3 4.4h0m0.3 1.2h0m0.2 0.7h0m0.2-0.9h0m0.2-2.7h0m0.4-2.3h0m0.2 3.1h0m0.3 1.4h0m0.1 0.7h0m0.4-0.2h0m1.0-3.1h0m0.4 4.5h0m1.0-1.7h0m0.7 7.7h0m0.1-2.8h0m0.5-3.9h0m0.8 7.6h0m0.6 5.4h0m1.9 0.1h0m1.3 3.9h0m1.3 0.9h0m0.2-2.1h0m0.5-3.3h0m1.5 2.9h0m0.2 3.8h0m0.6-0.5h0m1.3 2.5h0m0.3-2.6h0m0.2-1.5h0m0.3 3.7h0m0.7-3.2h0m1.2 9.1h0m2.8-5.0h0m1.3 11.3h0m1.0-1.9h0m0.2-4.2h0m0.3-2.7h0m0.6-1.6h0m0.4 3.4h0m0.6 1.0h0m0.2 2.2h0m0.7-5.6h0m0.4 7.0h0m0.7-1.9h0m0.7 4.6h0m0.9-2.6h0m0.1 1.4h0m0.3-4.8h0m0.7 11.7h0m0.4-7.2h0m0.4 2.5h0m0.2 1.7h0m0.7-4.4h0m1.2 6.1h0m0.2 0.0h0m0.8 1.8h0m0.3-4.5h0m0.3 1.4h0m1.0-3.7h0m0.4 9.5h0m0.3-4.2h0m1.2 3.7h0m0.2 6.8h0m0.6-4.8h0m0.8 7.5h0m0.7-2.5h0m0.3-0.4h0m0.3-1.2h0m0.2-3.6h0m1.7 3.0h0m0.3-5.5h0m0.5 4.7h0m0.3 2.4h0m0.5 7.5h0m0.3-5.4h0m0.2-2.7h0m0.8 5.5h0m0.5-0.9h0m0.3-4.2h0m1.2 2.7h0m0.2 8.4h0m3.1 2.4h0m0.4-5.6h0m0.3 4.3h0m1.8-2.6h0m0.3 6.2h0m0.2-5.7h0m0.8 10.5h0m0.3-7.1h0m0.2-4.6h0m1.8 9.8h0m0.8 1.6h0m2.2 2.2h0m0.3 3.8h0m1.0-10.3h0m0.3 5.5h0m1.7-3.4h0m0.4 7.2h0m1.4 0.7h0m1.1-3.8h0m0.6 11.2h0m1.6 5.9h0m0.2-3.7h0m0.6-13.4h0m1.5 9.9h0m0.3-9.2h0m0.2 3.1h0m0.2 9.6h0m0.2 2.7h0m0.3-10.5h0m0.3 3.5h0m0.2 4.3h0m0.7-10.0h0m0.4 9.5h0m1.2-5.8h0m0.7 4.9h0m0.3-3.3h0m0.5 8.8h0m0.9-1.9h0m0.7-5.7h0m0.7 8.1h0m1.3-2.8h0m0.7 8.6h0m0.5 0.6h0m0.8-11.0h0m1.8 11.0h0m1.0-5.9h0m1.0 5.3h0m0.6-10.0h0m0.5 19.3h0m0.5-11.5h0m0.2 6.9h0m0.7 2.0h0m0.9-2.0h0m1.2-7.9h0m0.2 11.2h0m1.5 4.9h0m0.8-4.2h0m0.6-1.4h0m0.5 2.7h0m1.9 1.5h0m0.5-4.2h0m0.4 0.7h0m0.2-5.7h0m0.3-3.4h0m0.4 16.3h0m0.5 2.5h0m0.3-4.0h0m0.2-5.7h0m0.3 7.2h0m0.2-11.1h0m1.4 14.4h0m0.2-1.7h0m2.8 11.1h0m1.5-12.7h0m0.4 20.7h0m0.4-18.2h0m0.2 0.8h0m0.8 0.0h0m1.0 7.3h0m2.0-4.7h0m0.2-0.9h0m0.6 2.7h0m0.2-1.8h0m0.8-2.6h0m0.5 21.3h0m2.3-17.8h0m0.5 2.9h0m1.0-1.0h0m0.7 1.9h0m0.3 1.0h0m0.5 1.1h0m0.3 1.0h0m0.5-4.0h0m0.8-4.7h0m1.0 2.7h0m1.3 8.2h0m0.4 1.2h0m0.8-9.4h0m2.2 10.5h0m1.1 3.7h0m0.9-7.1h0m0.4 20.5h0m0.3-14.6h0m0.2 3.9h0m0.7-8.7h0m0.2 12.9h0m1.4-16.1h0m1.2 9.2h0m0.8-4.8h0m0.3 21.8h0m1.0-7.0h0m0.7-1.5h0m0.8-14.5h0m1.8 8.7h0m0.2 1.3h0m1.6 4.5h0m0.1-3.0h0m1.3 15.4h0m0.4-22.1h0m1.4 24.1h0m0.3-4.0h0m0.2 2.0h0m2.8-12.4h0m0.3-8.5h0m0.3 13.4h0m0.2 5.5h0m0.3 6.2h0m0.2-21.1h0m0.2 7.7h0m1.1 7.2h0m0.5-3.8h0m0.2 14.8h0m1.1-23.0h0m1.0 20.5h0m1.0-15.7h0m1.5 7.2h0m0.5 19.2h0m2.3-21.1h0m0.5 0.0h0m2.2 8.1h0m0.9-18.2h0m0.2 37.6h0m0.5-17.1h0m0.2-4.5h0m0.8 12.3h0m0.3 0.0h0m0.9-32.5h0m0.5 2.8h0m1.5 39.0h0m0.3-14.6h0m2.5 2.5h0m1.0-19.0h0m3.2 14.0h0m1.3 10.7h0m0.7 3.0h0m0.5-11.2h0m0.3 5.3h0m0.2-7.8h0m0.5 2.5h0m2.5 2.5h0m0.3-9.5h0m1.7 25.2h0m1.4-3.6h0m0.7-6.4h0m0.2-5.7h0m0.5-13.5h0m0.7 16.3h0m1.4-12.3h0m1.0 9.5h0m0.5 0.0h0m0.5-5.0h0m0.5 10.7h0m0.4 6.4h0m0.9-17.1h0m0.5-12.3h0m0.3 26.0h0m0.2 7.0h0m0.2-18.2h0m0.5-4.8h0m1.1 13.0h0m0.4-2.9h0m0.3 9.3h0m0.3-9.3h0m0.7-2.8h0m0.6 8.7h0m3.4 7.0h0m0.3-10.0h0m0.3-8.2h0m0.6 14.6h0m1.2-3.4h0m1.5 0.0h0m0.6-8.7h0m0.4 12.1h0m0.2-12.1h0m1.0 2.8h0m0.6 0.0h0m1.0 2.9h0m0.6-19.2h0m0.7 8.5h0m1.5 7.8h0m1.0 5.9h0m1.3 0.0h0m0.5-3.0h0m2.8 10.0h0m1.5-39.6h0m1.2 26.7h0m1.0 2.9h0m1.6-5.7h0m0.3-5.0h0m0.2 13.7h0m1.3-16.0h0m1.2 7.3h0m0.3 12.1h0m1.0-14.6h0m0.7 8.2h0m0.6 6.4h0m0.7 0.0h0m1.0-6.4h0m0.5 6.4h0m0.5-3.4h0m1.4-8.7h0m0.2 0.0h0m0.4 5.7h0m1.6 3.0h0m2.1 0.0h0m0.2 3.4h0m2.6-6.4h0m0.4 10.0h0m0.4-3.6h0m1.7 3.6h0m0.3-10.0h0m0.4 6.4h0m0.5-12.1h0m0.6 8.7h0m0.7 3.4h0m0.4-12.1h0m2.4 12.1h0m0.6-9.3h0m0.2 9.3h0m2.2-12.1h0m0.4 2.8h0m2.7 5.9h0m0.2-5.9h0m0.3 5.9h0m0.6 0.0h0m0.7 7.0h0m3.5-12.9h0m0.6 2.9h0m0.2 0.0h0m0.2 0.0h0m0.5 6.4h0m0.3-14.6h0m0.6 18.2h0m1.4 0.0h0m2.1-10.0h0m2.3 3.0h0m2.3 3.4h0m1.0 0.0h0m0.4-6.4h0m0.3 10.0h0m1.2-12.9h0m0.6-7.8h0" stroke="#66ccd4" stroke-width="3.3" stroke-linecap="round" fill="none"/>
<path d="M1302.1 98.0h0m0.2-3.4h0m0.3-2.6h0m0.2-2.3h0m0.3-2.7h0m0.2-1.2h0m0.2-2.7h0m0.3-0.1h0m0.4-5.6h0m0.2 0.1h0m0.2-2.8h0m0.2-0.7h0m0.3-1.8h0m0.3-2.2h0m0.2-2.1h0m0.3-0.3h0m0.2-1.8h0m0.3-1.1h0m0.3-4.6h0m0.2 0.5h0m0.2-1.3h0m0.2-1.8h0m0.4 0.3h0m0.2-3.4h0m0.3-0.7h0m0.2-0.7h0m0.3 0.9h0m0.2-3.8h0m0.2 0.7h0m0.3-1.1h0m0.2-0.9h0m0.4-4.5h0m0.1 1.4h0m0.3-1.3h0m0.3-1.3h0m0.2-1.2h0m0.3 0.4h0m0.3-0.5h0m0.2-0.4h0m0.2-1.6h0m0.4-0.8h0m0.2 0.4h0m0.2 0.4h0m0.3-3.1h0m0.2 0.1h0m0.2 0.2h0m0.4-0.3h0m0.1-1.2h0m0.3 0.9h0m0.3-0.7h0m0.2 1.7h0m0.3-3.1h0m0.3 0.0h0m0.2 0.7h0m0.3-0.9h0m0.2 0.8h0m0.3-1.3h0m0.3 0.7h0m0.2 0.5h0m0.2-0.2h0m1.3 10.5h0m0.2 0.4h0m0.2 2.2h0m0.4-0.4h0m0.3-0.2h0m0.2 0.9h0m0.2-0.2h0m0.3-0.9h0m0.3 1.0h0m0.1 2.0h0m0.3-1.9h0m0.2 1.8h0m0.3-0.3h0m0.2-2.1h0m0.4 1.6h0m0.2 1.0h0m0.2-1.0h0m0.3 1.6h0m0.3 0.6h0m0.2 0.2h0m0.2-1.4h0m0.4 2.2h0m0.2 0.8h0m0.2-1.6h0m0.2 1.5h0m0.4 0.1h0m0.2-0.6h0m0.2 0.7h0m0.3 0.9h0m0.2-0.2h0m0.3 0.2h0m0.3-0.6h0m0.3 2.5h0m0.1-0.2h0m0.4-0.3h0m0.1 2.8h0m0.3-1.5h0m0.3-0.6h0m0.2-0.6h0m0.2 2.8h0m0.4 0.6h0m0.2-0.9h0m0.2 1.1h0m0.4 0.0h0m0.1 1.1h0m0.3-1.0h0m0.3-0.6h0m0.2 2.2h0m0.2-0.7h0m0.3 0.9h0m0.3 0.4h0m0.2-0.5h0m0.3 0.4h0m0.2 0.6h0m0.3-0.4h0m0.3-0.6h0m0.3 1.9h0m0.2-0.4h0m0.2-0.2h0m0.3-1.2h0m0.2 2.6h0m0.3-0.6h0m0.2 2.3h0m0.3 0.6h0m0.3-0.2h0m0.2-0.9h0m0.2 2.4h0m0.3-1.8h0m0.3 0.4h0m0.2 0.5h0m0.2 0.3h0m0.4 0.9h0m0.1-0.9h0m0.3 1.3h0m0.3 0.3h0m0.2 0.1h0m0.3 0.4h0m0.2-0.5h0m0.3 0.9h0m0.2 0.6h0m0.4-0.9h0m0.1 0.4h0m0.3 0.8h0m0.2 0.1h0m0.4 1.6h0m0.1 0.1h0m0.3 0.7h0m0.2-2.1h0m0.3 1.5h0m0.3 0.1h0m0.2 1.2h0m0.2-0.6h0m0.4 0.0h0m0.2 2.4h0m0.3-2.4h0m0.2 0.9h0m0.2-0.5h0m0.3 1.4h0m0.2 1.1h0m0.3 1.4h0m0.2-2.2h0m0.3 0.3h0m0.3 3.5h0m0.2-2.4h0m0.2 1.5h0m0.3-0.6h0m0.3 1.0h0m0.3-1.8h0m0.3 1.1h0m0.1-0.3h0m0.3 2.5h0m0.3 0.6h0m0.2-2.0h0m0.3 0.9h0m0.2 1.7h0m0.3-1.2h0m0.2 0.7h0m0.3 1.1h0m0.3-0.8h0m0.2-1.4h0m0.3 1.5h0m0.2 1.8h0m0.3 0.1h0m0.2 0.4h0m0.2 0.9h0m0.3-0.8h0m0.3 1.4h0m0.2 0.5h0m0.3-0.7h0m0.3 2.6h0m0.2-2.7h0m0.2 0.6h0m0.3 1.4h0m0.2-2.3h0m0.4 0.8h0m0.2 2.6h0m0.2-3.1h0m0.2 2.1h0m0.3 1.0h0m0.3 0.6h0m0.2 0.1h0m0.3-0.6h0m0.2 0.5h0m0.2 1.6h0m0.3 0.2h0m0.3-0.6h0m0.3-2.1h0m0.2 2.0h0m0.3 3.9h0m0.2-2.0h0m0.3-0.4h0m0.2 0.9h0m0.2 1.4h0m0.3-1.5h0m0.2 2.0h0m0.3-0.6h0m0.3-1.0h0m0.2 0.8h0m0.3 0.9h0m0.3-0.6h0m0.2 0.6h0m0.2 0.1h0m0.3-0.2h0m0.2 1.4h0m0.3 1.5h0m0.2-1.3h0m0.3 1.1h0m0.2-0.6h0m0.3-0.4h0m0.3 1.0h0m0.3 2.1h0m0.2-1.0h0m0.2-0.3h0m0.3-1.1h0m0.2 1.0h0m0.2 1.3h0m0.3 0.9h0m0.3 1.7h0m0.2-2.6h0m0.3 0.6h0m0.2 2.9h0m0.3-1.8h0m0.3-1.4h0m0.3 3.7h0m0.2-0.2h0m0.3-2.3h0m0.1 2.9h0m0.3-1.0h0m0.2 0.2h0m0.4 2.0h0m0.1-2.1h0m0.3 2.0h0m0.3-1.7h0m0.3 3.2h0m0.2-2.1h0m0.3 0.3h0m0.1 0.0h0m0.4 0.9h0m0.2 2.1h0m0.3-0.2h0m0.3 0.7h0m0.2-1.1h0m0.3 0.3h0m0.2 1.5h0m0.3-2.7h0m0.2 2.5h0m0.3 1.1h0m0.2-1.8h0m0.2 2.0h0m0.3-2.2h0m0.2 1.6h0m0.4 0.9h0m0.1 2.6h0m0.3 0.2h0m0.2-1.2h0m0.3-1.2h0m0.2 0.9h0m0.3-1.0h0m0.3 2.3h0m0.3-1.8h0m0.2 1.9h0m0.2-0.6h0m0.3 3.1h0m0.2-2.3h0m0.3 0.6h0m0.2 0.1h0m0.3 0.6h0m0.2 0.8h0m0.4 2.8h0m0.1 0.5h0m0.3-5.1h0m0.3 2.3h0m0.2 1.6h0m0.3 0.3h0m0.3-1.0h0m0.2 2.0h0m0.3-0.1h0m0.2 0.4h0m0.2-0.8h0m0.3 0.2h0m0.3 1.5h0m0.2-1.6h0m0.3-0.4h0m0.2 4.0h0m0.3 0.4h0m0.2-2.3h0m0.3 2.5h0m0.2-0.6h0m0.3 1.5h0m0.2-2.0h0m0.3-0.2h0m0.3 2.3h0m0.3-0.1h0m0.2-1.2h0m0.2 0.5h0m0.2 3.0h0m0.3-0.5h0m0.3-0.9h0m0.2-0.3h0m0.3 3.7h0m0.2 0.2h0m0.4-4.1h0m0.2 0.7h0m0.2 1.1h0m0.2 3.3h0m0.4-2.3h0m0.1-1.6h0m0.3 3.2h0m0.2-2.7h0m0.4 1.8h0m0.1 0.4h0m0.3 1.9h0m0.3 0.2h0m0.2-3.3h0m0.2-0.1h0m0.3 1.0h0m0.3-0.3h0m0.3 5.3h0m0.1-1.9h0m0.3-2.5h0m0.4 4.4h0m0.1-0.1h0m0.4-0.8h0m0.2 1.1h0m0.2-0.5h0m0.2 0.8h0m0.3 1.0h0m0.3 0.2h0m0.2 0.1h0m0.3 0.8h0m0.3 0.4h0m0.2-1.6h0m0.3 5.2h0m0.3-5.1h0m0.1 4.5h0m0.3-1.6h0m0.3-1.6h0m0.3-0.2h0m0.2 1.3h0m0.2 2.8h0m0.2-0.4h0m0.3-1.7h0m0.3 1.8h0m0.2-1.2h0m0.4 1.3h0m0.1 1.6h0m0.3 0.8h0m0.2-1.5h0m0.3-0.5h0m0.2 0.9h0m0.3-1.3h0m0.3 3.5h0m0.2-3.7h0m0.3 1.7h0m0.3 0.9h0m0.2-0.8h0m0.3 1.4h0m0.2 2.3h0m0.3-3.4h0m0.2-0.9h0m0.2 4.2h0m0.4-0.1h0m0.2 1.8h0m0.2 2.8h0m0.2-3.7h0m0.3 1.2h0m0.3-0.2h0m0.3-2.5h0m0.1 0.4h0m0.3 2.7h0m0.2 0.2h0m0.3 0.0h0m0.3 0.5h0m0.2-2.6h0m0.3 3.7h0m0.2-3.6h0m0.4 7.0h0m0.1-5.2h0m0.3 5.0h0m0.3-2.3h0m0.3 3.2h0m0.2-3.0h0m0.3 0.9h0m0.2 1.2h0m0.2-2.6h0m0.3 4.6h0m0.2-2.5h0m0.3-0.4h0m0.3-0.4h0m0.1 0.6h0m0.4 1.6h0m0.2-4.0h0m0.3 3.8h0m0.2 2.3h0m0.2 0.6h0m0.3-0.4h0m0.2-2.3h0m0.3 0.0h0m0.3-0.2h0m0.2 2.4h0m0.4 4.6h0m0.2-3.2h0m0.2-2.2h0m0.3 2.6h0m0.2 0.9h0m0.2-2.3h0m0.4 1.1h0m0.2 0.1h0m0.2 1.3h0m0.3-1.3h0m0.2 2.2h0m0.3-0.1h0m0.3-1.4h0m0.2 2.5h0m0.2-1.3h0m0.3-0.5h0m0.2 2.3h0m0.3-1.8h0m0.3 1.1h0m0.2 3.3h0m0.3-1.2h0m0.2 0.0h0m0.3-0.4h0m0.2 3.2h0m0.3-1.9h0m0.3 4.5h0m0.6-3.3h0m0.4 0.4h0m1.3 2.3h0m0.7 6.2h0m0.5-8.5h0m0.5 2.7h0m1.1 0.1h0m0.6 1.4h0m1.0 1.6h0m1.6-2.7h0m1.3 7.1h0m0.7 1.0h0m0.3-2.6h0m0.5 3.8h0m1.0-3.9h0m0.8 8.5h0m1.3-2.7h0m1.2 6.2h0m0.3-2.7h0m0.5 2.1h0m2.4-2.1h0m0.6 2.5h0m0.8 5.6h0m0.5-4.2h0m1.0 4.8h0m1.0-0.2h0m0.2-3.4h0m0.4 0.7h0m0.2 1.5h0m0.3 6.5h0m0.2-9.0h0m0.2 6.2h0m0.6 1.5h0m0.4-0.8h0m0.3-3.0h0m2.1 4.0h0m1.2 6.7h0m0.4-8.1h0m0.3 7.4h0m1.3-3.1h0m0.3-3.6h0m0.7 1.5h0m0.5 4.4h0m2.3-1.4h0m0.3 6.8h0m0.4 3.0h0m0.4-1.3h0m0.4-6.3h0m1.0 6.5h0m1.6-1.5h0m0.2-1.3h0m0.5 2.8h0m0.4-2.4h0m0.6-0.8h0m0.3 7.5h0m0.5 2.8h0m0.3 0.5h0m0.2-2.5h0m1.6-1.5h0m0.7 4.0h0m1.1-2.8h0m1.0 0.0h0m1.7 4.7h0m1.1 0.8h0m0.2 3.4h0m1.4-3.4h0m2.4 1.9h0m0.2 5.2h0m0.8 0.0h0m0.2 5.5h0m0.3-3.8h0m3.6 4.2h0m1.5 1.1h0m1.1-4.0h0m0.6 4.8h0m1.5-1.2h0m1.6 0.4h0m0.8 3.1h0m0.1-2.7h0m0.7 6.5h0m0.5-8.8h0m0.2 9.7h0m0.7-1.3h0m1.2 2.7h0m0.7 0.9h0m1.2-10.1h0m0.4 7.8h0m0.6 6.3h0m0.2 2.6h0m1.3-10.2h0m1.1 1.8h0m0.9 7.9h0m1.6 2.2h0m0.7 8.1h0m0.2-8.7h0m0.9 6.0h0m0.1-9.2h0m0.7-1.1h0m0.9 2.7h0m0.2-3.2h0m0.4 9.5h0m0.1-4.7h0m0.6 4.7h0m0.2 6.0h0m0.2-6.0h0m1.1-4.1h0m1.2-0.6h0m0.6 7.3h0m0.6-1.9h0m1.9 10.6h0m2.8 1.7h0m0.3-0.9h0m1.4-0.8h0m0.4-2.3h0m0.2 12.1h0m0.2-15.1h0m0.8 7.8h0m1.1 0.9h0m0.2-9.4h0m1.6 13.9h0m0.2-12.4h0m0.6 13.4h0m0.8-11.2h0m0.6-1.5h0m0.4 8.9h0m0.6 4.7h0m1.1-12.9h0m1.2 1.5h0m1.7 5.0h0m0.8 5.5h0m2.0 16.2h0m0.2-15.3h0m0.8 5.3h0m0.3 4.8h0m0.2-11.0h0m0.5 5.1h0m0.9-1.1h0m0.7-6.9h0m1.2 12.6h0m1.4-3.5h0m0.7 8.7h0m1.5-6.4h0m0.2-9.5h0m1.4 24.9h0m0.2-20.9h0m1.1 13.2h0m1.7-4.0h0m1.7-1.2h0m0.6 1.2h0m0.5-12.2h0m0.8 8.5h0m0.2 9.2h0m0.5 3.0h0m0.2-3.0h0m1.4-6.7h0m0.2 2.5h0m0.1 28.6h0m0.9-29.9h0m0.5 11.7h0m0.2 15.7h0m1.3-21.9h0m1.3 11.5h0m0.7-1.9h0m0.5-5.1h0m0.3-1.5h0m0.2 18.9h0m0.5-14.0h0m0.6-9.4h0m0.2 16.9h0m1.0-9.2h0m1.2-6.2h0m1.1 19.6h0m1.0 0.0h0m0.5-13.4h0m0.3 7.2h0m0.2-12.0h0m1.4 8.2h0m0.9 14.8h0m0.8-16.5h0m0.8-1.7h0m0.1 1.7h0m0.3 11.7h0m0.6 0.0h0m1.5-25.1h0m0.5 5.5h0m0.4 26.9h0m0.9 0.0h0m0.5-25.5h0m3.0 23.0h0m0.3 0.0h0m1.2-11.0h0m0.3 8.5h0m0.7-8.5h0m0.6 0.0h0m0.3-5.5h0m1.5 24.7h0m0.9-24.7h0m0.5 1.7h0m0.3 10.0h0m1.5 7.3h0m1.1-15.4h0m0.9 12.9h0m0.3 18.2h0m0.3-20.7h0m0.3 0.0h0m2.4 7.8h0m0.8 2.9h0m0.3-15.2h0m0.2 4.5h0m0.3 7.8h0m1.8 2.9h0m0.4-19.2h0m1.9 13.5h0m0.2-5.0h0m0.5-18.9h0m2.5 39.6h0m1.1-42.6h0m0.4 29.7h0m0.8-5.3h0m1.5-7.0h0m0.5 12.3h0m0.3-5.3h0m1.5-4.8h0m0.2 16.0h0m0.3 3.4h0m0.8-21.6h0m1.3 9.5h0m1.2 12.1h0m0.5-9.3h0m0.3-10.1h0m0.5 10.1h0m1.3-7.8h0m1.7 7.8h0m0.8-2.8h0m0.2-7.3h0m2.6 16.0h0m0.2-5.9h0m0.2 5.9h0m0.9 7.0h0m0.1 0.0h0m1.2-10.0h0m0.7 10.0h0m1.3-7.0h0m0.1-3.0h0m1.4-5.7h0m0.8 15.7h0m2.5-25.2h0m1.0 12.3h0m0.5-7.8h0m0.2 17.1h0m0.8 0.0h0m1.0-19.4h0m0.3 16.0h0m0.3-16.0h0m0.2 16.0h0m0.2-5.9h0m0.2 5.9h0m1.1-5.9h0m3.4 5.9h0m0.2-16.0h0m0.7 19.4h0m0.3-12.1h0m1.8-7.3h0m1.0 13.0h0m1.0 10.0h0m1.3 0.0h0m1.2-10.0h0m1.8 10.0h0m0.3-15.7h0m1.6 5.7h0m2.7-8.2h0m0.2 5.3h0m0.5 9.3h0m0.8-9.3h0m0.2 2.9h0m0.5-5.7h0m0.5 12.1h0m1.1 0.0h0m2.7-6.4h0m0.3 6.4h0m0.3-3.4h0m0.3-8.7h0m0.5 2.8h0m0.9 0.0h0m0.3 5.9h0m0.9 3.4h0m1.0 0.0h0m1.1 0.0h0m1.7-14.6h0m2.8-2.5h0m0.9 17.1h0m0.2-9.3h0m1.5 2.9h0m2.8-2.9h0m1.6-5.3h0m0.5-2.5h0m2.7 7.8h0m0.3 9.3h0m0.2 3.6h0m1.8-12.9h0m0.3 9.3h0m0.4-6.4h0m0.6 3.0h0m0.5 3.4h0m1.3 3.6h0m1.0 0.0h0m0.9-15.7h0m0.4 12.1h0m0.4 0.0h0m0.8-6.4h0m2.8 3.0h0m3.3 7.0h0" stroke="#3a3a3a" stroke-width="1.9" stroke-linecap="round" fill="none"/>
<path d="M1302.1 106.7h0m0.2-2.2h0m0.3-4.0h0m0.2-2.0h0m0.3-2.1h0m0.2-0.7h0m0.2-3.3h0m0.4-1.5h0m0.1-3.5h0m0.4-2.6h0m0.2-1.6h0m0.2-1.2h0m0.3-2.7h0m0.3-3.7h0m0.2-2.9h0m0.3-0.3h0m0.3-2.5h0m0.2-0.6h0m0.2-4.9h0m0.3 0.8h0m0.2-1.3h0m0.4-0.8h0m0.1-4.0h0m0.3 0.9h0m0.3-4.6h0m0.3 0.8h0m0.2-2.4h0m0.3-1.5h0m0.2-0.5h0m0.3-1.8h0m0.2-0.3h0m0.3-2.1h0m0.2-0.7h0m0.3 0.0h0m0.2-1.7h0m0.3 0.2h0m0.1-0.9h0m0.4-2.5h0m0.3-0.7h0m0.2-0.6h0m0.3-1.7h0m0.2 0.3h0m0.3-0.5h0m0.2-0.6h0m0.3-0.7h0m0.2-1.4h0m0.3 1.8h0m0.1 0.6h0m0.4-1.3h0m0.2-1.2h0m0.2 1.4h0m0.3-1.8h0m0.2-0.9h0m0.3 0.8h0m0.3-2.0h0m0.2 1.0h0m0.3 0.4h0m0.2-1.5h0m0.3 1.2h0m0.2 0.0h0m1.4 10.1h0m0.2-0.4h0m0.2 2.2h0m0.3-0.9h0m0.2 0.9h0m0.2 0.5h0m0.4-0.2h0m0.2 1.6h0m0.2-0.4h0m0.3-0.3h0m0.2 0.9h0m0.3 0.2h0m0.3-1.5h0m0.1 0.8h0m0.3 1.1h0m0.3 1.8h0m0.2-0.1h0m0.3-0.3h0m0.3-0.7h0m0.3 1.0h0m0.2 1.4h0m0.2-1.8h0m0.2 0.5h0m0.4 2.5h0m0.2-1.5h0m0.3-0.2h0m0.2 1.1h0m0.2 1.2h0m0.3-0.7h0m0.2-0.5h0m0.3 2.0h0m0.3-1.6h0m0.2 1.2h0m0.2-1.7h0m0.3 1.9h0m0.3 2.0h0m0.3-1.6h0m0.2 2.3h0m0.2-1.7h0m0.4 1.1h0m0.2 0.5h0m0.3 0.7h0m0.1-0.6h0m0.3 0.4h0m0.3-0.3h0m0.2 2.6h0m0.3-0.8h0m0.2-0.1h0m0.3 2.4h0m0.2-2.4h0m0.2 0.5h0m0.3 1.6h0m0.2 0.5h0m0.3-2.0h0m0.4 1.9h0m0.1 1.0h0m0.3-1.2h0m0.2 1.1h0m0.3 0.8h0m0.2-0.9h0m0.4 1.7h0m0.2 0.7h0m0.2-2.4h0m0.3 1.7h0m0.2 0.0h0m0.3 1.0h0m0.2-2.2h0m0.2 2.3h0m0.4-1.2h0m0.2 1.1h0m0.3 1.3h0m0.2-0.2h0m0.2 0.5h0m0.3 0.2h0m0.3 2.0h0m0.2 0.5h0m0.3-3.9h0m0.2 1.6h0m0.2 1.2h0m0.4-1.2h0m0.2 1.3h0m0.3 1.9h0m0.2 0.4h0m0.2-0.8h0m0.4-0.3h0m0.1 0.2h0m0.4-0.3h0m0.2 1.2h0m0.3 0.0h0m0.1-0.6h0m0.3 3.2h0m0.3-0.9h0m0.2-1.2h0m0.2 1.8h0m0.3 0.5h0m0.3 0.0h0m0.3 0.7h0m0.2-0.6h0m0.3 1.0h0m0.2 0.3h0m0.2-0.4h0m0.2-0.4h0m0.3 1.5h0m0.3 2.5h0m0.3-2.2h0m0.3 0.3h0m0.2 2.4h0m0.2-1.0h0m0.3-0.1h0m0.3 0.7h0m0.2 0.8h0m0.3-1.0h0m0.2 0.6h0m0.3 1.5h0m0.1-1.7h0m0.4 0.6h0m0.3 0.7h0m0.1 1.2h0m0.3 2.2h0m0.3-1.4h0m0.2-2.5h0m0.3 3.1h0m0.2-1.1h0m0.3 1.4h0m0.3 1.4h0m0.2-3.0h0m0.2 1.9h0m0.3-0.6h0m0.2 2.0h0m0.3-2.6h0m0.2 2.0h0m0.4-0.9h0m0.2 1.4h0m0.2 1.6h0m0.2-2.2h0m0.3 1.6h0m0.3 2.5h0m0.3-0.8h0m0.2-1.1h0m0.3 1.5h0m0.2 0.1h0m0.2 2.6h0m0.3-1.9h0m0.2-0.2h0m0.4-0.3h0m0.2 1.9h0m0.2 0.8h0m0.3 0.5h0m0.2-1.5h0m0.3 0.6h0m0.2-0.2h0m0.2 1.2h0m0.4 1.8h0m0.3-0.2h0m0.2-2.1h0m0.2 1.6h0m0.2-0.9h0m0.3 1.1h0m0.2-1.1h0m0.4 2.4h0m0.2-0.4h0m0.3 0.5h0m0.2 0.7h0m0.2-0.4h0m0.3 2.9h0m0.3-3.0h0m0.2 2.0h0m0.3 0.0h0m0.1 0.4h0m0.4-0.5h0m0.2-0.4h0m0.3 2.4h0m0.2-0.8h0m0.3 0.6h0m0.2-0.3h0m0.2 1.9h0m0.4-2.7h0m0.3 1.4h0m0.1 0.6h0m0.2 1.8h0m0.3-1.5h0m0.3-0.5h0m0.3 2.2h0m0.2-1.2h0m0.3 0.2h0m0.2 1.0h0m0.2 0.9h0m0.3-0.3h0m0.3 1.3h0m0.3-0.9h0m0.2 1.1h0m0.2 1.9h0m0.3-2.5h0m0.2 1.1h0m0.3 0.5h0m0.2-1.0h0m0.3 1.5h0m0.3 0.8h0m0.2-1.4h0m0.3 2.1h0m0.2 0.3h0m0.3-1.2h0m0.3 2.7h0m0.2-0.3h0m0.2-2.4h0m0.3 2.6h0m0.2 0.8h0m0.2 1.5h0m0.4-1.1h0m0.3-1.4h0m0.2 2.7h0m0.2-1.1h0m0.3-0.2h0m0.2-1.1h0m0.3 1.6h0m0.2-1.1h0m0.2 3.5h0m0.3-0.5h0m0.2-0.2h0m0.4 0.5h0m0.2 1.3h0m0.2-0.5h0m0.3 2.8h0m0.3-4.1h0m0.1 3.2h0m0.3-1.8h0m0.3-0.4h0m0.2 0.8h0m0.4 1.9h0m0.2-2.6h0m0.2 1.3h0m0.3 1.3h0m0.3 1.5h0m0.1 2.2h0m0.3-0.4h0m0.2-1.9h0m0.4 1.2h0m0.2-1.4h0m0.2 3.2h0m0.4-4.0h0m0.2 3.8h0m0.2-0.1h0m0.3 0.3h0m0.2-2.7h0m0.3 1.6h0m0.3 1.9h0m0.2 1.1h0m0.2-2.2h0m0.3 0.8h0m0.3 0.8h0m0.2-0.7h0m0.3 0.8h0m0.3 1.7h0m0.1-0.4h0m0.3 1.4h0m0.2 0.2h0m0.3-0.4h0m0.3-1.0h0m0.2 2.8h0m0.3-1.6h0m0.3 0.4h0m0.2 1.9h0m0.3-1.8h0m0.1 1.1h0m0.4 0.4h0m0.2-0.9h0m0.2 1.3h0m0.3 2.3h0m0.2-1.3h0m0.4-0.5h0m0.2 0.2h0m0.2 0.5h0m0.3-1.3h0m0.2 1.5h0m0.2 1.7h0m0.3-1.6h0m0.3 2.9h0m0.2-0.8h0m0.4-0.8h0m0.1 2.9h0m0.4-2.2h0m0.1 1.0h0m0.4 1.3h0m0.2-1.0h0m0.2 0.1h0m0.2 0.6h0m0.3 4.5h0m0.3-3.4h0m0.2-0.2h0m0.3 1.2h0m0.2-1.9h0m0.3 0.2h0m0.2-0.1h0m0.3 2.9h0m0.3-0.1h0m0.2-1.4h0m0.3 0.7h0m0.2 0.6h0m0.2 2.4h0m0.3-0.9h0m0.2-1.2h0m0.3 4.6h0m0.3-3.4h0m0.2-1.1h0m0.4 2.6h0m0.2-0.4h0m0.2 3.6h0m0.3-2.8h0m0.3 0.3h0m0.1-0.6h0m0.3 2.7h0m0.3-0.7h0m0.3 1.1h0m0.2 0.4h0m0.3 1.2h0m0.2-1.5h0m0.3 2.7h0m0.1-2.8h0m0.3 3.1h0m0.2-2.3h0m0.3 0.9h0m0.4 1.5h0m0.2-2.0h0m0.2 2.3h0m0.2-4.2h0m0.3 6.8h0m0.2-2.0h0m0.4-0.6h0m0.2-2.9h0m0.2 3.5h0m0.3 1.6h0m0.2 1.6h0m0.3-2.1h0m0.3 0.8h0m0.3 0.9h0m0.2-0.6h0m0.2 0.1h0m0.3-0.6h0m0.2-1.2h0m0.2 2.8h0m0.3-1.0h0m0.3 5.2h0m0.2-4.9h0m0.2-0.2h0m0.3 3.2h0m0.3-1.3h0m0.3 3.0h0m0.2-3.2h0m0.2-0.8h0m0.3 2.5h0m0.3 0.7h0m0.2-1.4h0m0.2 3.8h0m0.3-5.6h0m0.3 2.8h0m0.3 2.2h0m0.2-1.9h0m0.2 3.4h0m0.4-1.3h0m0.1-0.6h0m0.3 2.6h0m0.2 1.3h0m0.3 1.1h0m0.3-3.4h0m0.2 1.9h0m0.3 0.2h0m0.2-1.1h0m0.2 0.9h0m0.3 0.2h0m0.3-0.8h0m0.3 0.7h0m0.2 0.2h0m0.3 1.6h0m0.3-1.2h0m0.2 3.3h0m0.2-0.6h0m0.2-3.5h0m0.4 6.2h0m0.1-4.3h0m0.3 1.5h0m0.3 1.4h0m0.2 0.8h0m0.3-1.0h0m0.2-0.4h0m0.3 1.5h0m0.3-1.6h0m0.2 4.8h0m1.2-4.3h0m1.5 2.1h0m0.3 3.2h0m1.3 3.4h0m0.2-5.3h0m0.3 1.4h0m0.5 4.1h0m1.0 1.6h0m2.4 0.9h0m0.1-1.9h0m0.3 0.2h0m2.1 2.3h0m0.7 3.7h0m0.5-0.4h0m0.2-1.8h0m0.6 2.6h0m0.5-0.8h0m0.2 0.8h0m0.2 1.4h0m0.6-0.5h0m1.3 3.7h0m0.4 0.6h0m0.8 3.2h0m1.0 0.6h0m0.5-2.8h0m0.3 0.4h0m0.5-1.7h0m0.3 5.0h0m0.5-3.7h0m1.0 3.3h0m1.7 1.9h0m0.3 4.3h0m0.5-1.9h0m3.1 3.6h0m0.5-0.5h0m0.7 0.0h0m0.3 0.7h0m0.5 7.3h0m0.4-4.2h0m0.3-1.1h0m0.4-2.4h0m0.5 3.5h0m0.1 1.9h0m0.6-0.2h0m0.5 5.0h0m1.7-7.8h0m0.4 6.7h0m0.5-0.6h0m1.2-1.8h0m1.0-0.6h0m0.3 6.2h0m0.3 1.8h0m0.2-6.8h0m0.7 2.4h0m1.1 4.7h0m0.4 3.1h0m0.8-2.2h0m2.1 3.7h0m0.4-3.2h0m1.1 0.4h0m1.0 8.2h0m0.3-4.1h0m0.6 5.9h0m1.4-4.6h0m0.3-4.9h0m0.9 9.2h0m0.5-4.3h0m1.6 11.4h0m0.4-8.0h0m0.6 4.6h0m0.8 1.4h0m0.5-0.4h0m0.3-2.2h0m1.7 1.6h0m0.3-2.3h0m0.9 6.7h0m0.5-7.3h0m0.4 3.9h0m0.2-3.3h0m0.9 13.4h0m0.9-11.1h0m0.2 10.6h0m0.2-11.0h0m0.8 5.9h0m1.0-2.5h0m1.8 8.9h0m0.9 2.7h0m1.1-2.7h0m0.3 0.0h0m0.8 0.0h0m0.5 5.0h0m0.2-1.0h0m1.5-6.1h0m1.0 0.8h0m0.5 4.9h0m0.8 0.9h0m0.5-1.8h0m0.7 4.2h0m1.1-1.9h0m0.5 4.5h0m1.0 0.0h0m0.2 1.6h0m0.4 2.3h0m0.9 1.1h0m0.6 3.1h0m1.4-6.5h0m0.5 1.7h0m0.6 4.8h0m0.9-9.1h0m0.3 1.0h0m0.5-0.5h0m1.1 10.5h0m0.1-1.9h0m0.8-3.1h0m0.3-2.3h0m0.3 8.7h0m0.4-4.0h0m0.8 2.0h0m0.5-3.2h0m0.6-1.2h0m0.2 1.8h0m2.8 4.6h0m1.0 6.5h0m1.5-4.5h0m0.5 4.5h0m1.0 11.6h0m0.8-14.6h0m1.3 1.5h0m0.2 4.0h0m0.3 4.3h0m0.5 5.9h0m0.6-5.9h0m0.9 0.9h0m0.3 1.0h0m0.5-2.8h0m1.0 5.7h0m0.2 2.1h0m0.4-8.7h0m0.1 0.9h0m0.3 11.2h0m0.8-9.4h0m0.3-2.7h0m0.4 5.6h0m1.3 0.0h0m0.5-4.7h0m0.2 20.0h0m0.4-8.8h0m0.1-2.3h0m0.5 12.6h0m0.3-16.8h0m0.2 10.1h0m0.3-2.5h0m0.2-5.5h0m0.6-6.8h0m0.5 2.8h0m0.3-5.4h0m0.4 12.6h0m1.6 1.2h0m0.8 1.1h0m1.8 5.0h0m1.7-7.3h0m0.5 2.3h0m1.8 12.2h0m0.7-9.7h0m0.3-5.9h0m0.3 11.1h0m1.2-11.1h0m1.8-8.9h0m0.2 21.5h0m0.2-15.8h0m3.7 7.8h0m0.8 9.4h0m0.7-9.4h0m0.4 12.5h0m0.6 17.4h0m0.2-15.7h0m0.8-1.7h0m0.2 5.1h0m0.8-9.6h0m2.8 3.0h0m1.7 12.4h0m0.8-16.9h0m0.3 14.9h0m0.5 0.0h0m0.3-3.8h0m0.9 10.0h0m0.8-2.2h0m1.8-5.9h0m4.8 10.4h0m0.8-10.4h0m0.8-1.9h0m0.2-3.4h0m0.8 29.4h0m0.5-5.9h0m0.2-7.8h0m1.5-14.0h0m1.0 5.5h0m0.6 0.0h0m0.9 13.5h0m0.3-19.0h0m2.1 5.5h0m0.4 11.0h0m0.9 2.5h0m2.5-5.0h0m0.7 0.0h0m0.5-14.0h0m1.1 14.0h0m1.3 2.5h0m1.0 11.2h0m0.9-8.7h0m0.6-9.5h0m0.4 21.6h0m0.3-9.3h0m0.7 5.9h0m1.4-8.7h0m0.4-23.9h0m0.3 3.2h0m1.5 26.4h0m0.8 0.0h0m0.2-2.9h0m1.1-7.8h0m0.2 7.8h0m1.2 9.3h0m0.3-14.6h0m1.0 0.0h0m0.6-7.0h0m0.2 4.5h0m0.5-6.5h0m0.2 20.2h0m0.8 0.0h0m0.2-22.2h0m0.6 16.3h0m0.4 9.3h0m0.6 0.0h0m0.5-21.6h0m1.0 4.5h0m1.2 20.7h0m0.6-10.0h0m0.5-17.2h0m2.0 17.2h0m0.7 6.4h0m1.0-9.3h0m0.9 2.9h0m1.2 0.0h0m0.6 6.4h0m0.4-3.4h0m0.6-11.2h0m2.2 18.2h0m1.0-10.0h0m0.3 6.4h0m0.6-14.6h0m0.5-2.5h0m2.2 7.8h0m0.5 0.0h0m2.2 9.3h0m0.6-9.3h0m2.1-7.8h0m0.7 2.5h0m1.0 11.2h0m1.6-11.2h0m0.4-4.8h0m0.2 13.0h0m1.4-5.7h0m2.3 15.7h0m0.6-27.2h0m0.4 23.6h0m0.4-6.4h0m0.6 0.0h0m0.7-2.9h0m0.6 9.3h0m0.2-12.1h0m0.5 8.7h0m1.8-11.2h0m0.4 11.2h0m0.6-5.9h0m3.7 5.9h0m0.3-3.0h0m0.8 10.0h0m1.5-7.0h0m1.1 3.4h0m1.2-14.6h0m1.2 14.6h0m0.5 3.6h0m2.6-15.7h0m1.2 8.7h0m0.4-3.0h0m1.2-2.9h0m0.6 2.9h0m0.1 6.4h0m1.1 0.0h0m1.7 3.6h0m1.6 0.0h0m4.5-7.0h0m5.9 3.4h0m2.4 3.6h0m1.6-10.0h0m0.6 10.0h0m0.2-23.0h0m0.8 23.0h0m2.7-3.6h0m0.3-3.4h0m1.3 3.4h0m1.4-6.4h0m3.1 3.0h0m2.1 7.0h0m1.7-3.6h0" stroke="#3636a8" stroke-width="1.9" stroke-linecap="round" fill="none"/>
<path d="M1416.7 158.3h0m0.6 0.5h0m0.1 2.7h0m1.5 1.3h0m0.3 0.7h0m0.6 4.9h0m0.5-2.0h0m0.2-5.4h0m1.3 5.2h0m0.9-1.4h0m1.6 3.8h0m0.8 5.5h0m0.5-6.1h0m1.3 3.1h0m0.4 0.7h0m0.8 1.2h0m1.5 4.1h0m0.2-2.5h0m0.6-0.5h0m0.5 1.5h0m1.8 0.3h0m0.2 4.1h0m1.6-3.2h0m1.8 2.6h0m0.4 6.2h0m0.3-2.2h0m0.5 4.7h0m0.6-5.6h0m0.4 0.2h0m1.5 3.3h0m1.3 4.9h0m0.3 0.3h0m0.6-2.2h0m0.4-1.7h0m0.2 4.5h0m0.3-4.6h0m0.7 0.9h0m0.7 1.8h0m1.1 1.3h0m0.7 5.4h0m1.6 0.6h0m0.3-1.3h0m2.2 2.0h0m0.3 0.2h0m0.3 2.3h0m0.2 2.0h0m0.3-2.4h0m0.7-2.3h0m0.7 5.1h0m0.3-6.2h0m0.2 1.3h0m1.2 4.1h0m1.6 2.7h0m0.5 0.7h0m0.3 3.9h0m0.8 0.7h0m0.8-3.7h0m2.2 2.3h0m0.3 1.2h0m1.0 1.5h0m0.3-0.8h0m0.2-2.4h0m0.3 2.4h0m0.4 4.4h0m0.9-2.6h0m0.1 4.6h0m0.6-2.0h0m0.2 0.3h0m0.7 4.3h0m0.4-0.6h0m1.0-5.3h0m0.5 0.8h0m0.2 7.9h0m0.3-0.3h0m0.5-6.0h0m0.2-2.9h0m0.6 6.1h0m0.2-2.3h0m1.7 5.7h0m1.1 2.3h0m0.4-5.7h0m0.6 4.4h0m0.6-0.3h0m0.7 0.6h0m3.3 6.1h0m0.2-7.4h0m0.8 10.5h0m1.0 2.1h0m1.2-3.7h0m0.3 11.6h0m1.5-3.4h0m0.2-7.0h0m0.3 12.0h0m3.8-3.1h0m0.3-3.3h0m0.3 1.9h0m0.4-4.6h0m1.6 8.1h0m0.7-6.3h0m0.3 0.9h0m0.4 3.8h0m1.4-5.6h0m0.2 13.2h0m0.3 2.4h0m0.8-12.9h0m0.1 6.0h0m1.1 8.2h0m0.3 1.3h0m1.2-5.0h0m0.3 4.4h0m0.6 3.3h0m0.2-6.5h0m0.2 1.2h0m2.8 5.3h0m0.7 0.7h0m3.6-2.0h0m1.1-0.7h0m0.1 1.3h0m1.3 6.7h0m0.2-3.1h0m0.3-5.6h0m1.6 21.6h0m0.2-18.9h0m0.2 8.5h0m0.6-11.2h0m0.6 0.0h0m0.2 9.5h0m0.2 0.0h0m0.8 0.0h0m1.8 0.0h0m0.5-3.9h0m1.0-4.2h0m0.7 13.3h0m0.2 1.9h0m1.6 2.9h0m4.0-3.9h0m0.9 8.2h0m0.9 2.3h0m0.3-3.4h0m0.7-2.1h0m0.3 1.0h0m3.5-2.1h0m1.0 18.8h0m0.3-12.2h0m1.3 13.7h0m0.2-11.2h0m1.1 0.0h0m0.2 3.9h0m0.8 9.0h0m0.2-22.0h0m1.8 25.4h0m0.2-15.1h0m2.6 6.9h0m0.4-20.1h0m1.1 32.1h0m0.3-22.6h0m0.2 9.2h0m0.8 0.0h0m1.5 1.4h0m0.7-2.9h0m0.8 9.4h0m0.8-3.4h0m1.3 0.0h0m0.6-10.0h0m0.3-1.2h0m0.5 20.1h0m0.3-3.8h0m0.8-6.6h0m0.2 1.5h0m1.3 0.0h0m0.5-3.1h0m1.6 10.1h0m0.2-1.9h0m0.4-6.6h0m0.4 4.9h0m0.2 7.5h0m0.8-19.6h0m2.6 23.8h0m0.7-25.1h0m0.8 15.1h0m0.2 14.8h0m0.2-19.9h0m0.3 19.9h0m0.2-4.8h0m0.2-21.1h0m0.4 23.4h0m0.2 2.5h0m0.7-12.9h0m0.3-3.6h0m0.7 3.6h0m0.4 5.9h0m0.4 2.2h0m0.8-8.1h0m0.8 12.9h0m0.5-2.5h0m0.7-4.5h0m0.5-5.9h0m0.2 5.9h0m0.6-4.0h0m0.5 8.5h0m1.3 0.0h0m0.2-18.9h0m0.5 23.9h0m0.6-13.5h0m0.1 19.2h0m3.2-8.2h0m0.2-7.0h0m1.0 2.2h0m0.3 0.0h0m0.1 10.1h0m1.7 12.9h0m0.2-15.7h0m0.2-2.5h0m0.3 5.3h0m0.3-2.8h0m0.5-13.5h0m0.1 13.5h0m3.1-13.5h0m0.8 4.0h0m0.3 0.0h0m0.2 2.2h0m0.3 4.8h0m0.5 0.0h0m0.5-7.0h0m0.3 0.0h0m0.2 9.5h0m0.4-2.5h0m3.9-16.5h0m0.5 5.5h0m0.7 8.5h0m0.5 20.7h0m0.8-20.7h0m0.6 17.1h0m0.4-6.4h0m1.3 0.0h0m0.7-17.2h0m1.3 17.2h0m2.1-10.7h0m0.2 5.0h0m0.6-25.5h0m1.2 34.2h0m1.8 3.4h0m1.8-9.3h0m0.9 9.3h0m1.4 0.0h0m1.5-6.4h0m1.2-13.0h0m1.8 13.0h0m0.5-5.7h0m0.3 2.8h0m0.5 5.9h0m0.7 7.0h0m1.9-12.9h0m0.9 9.3h0m0.5-3.4h0m0.2-5.9h0m1.1 2.9h0m0.8 0.0h0m0.4-5.7h0m2.0 15.7h0m1.6 0.0h0m2.7-12.9h0m0.6-2.8h0m0.3-9.5h0m0.9 7.0h0m0.4 2.5h0m6.5-5.0h0m1.1 7.8h0m0.2-12.3h0m1.5 2.2h0m3.8 23.0h0m1.9 0.0h0m4.5 0.0h0m2.2-7.0h0m1.3 0.0h0m0.2 7.0h0m1.0 0.0h0m0.3-7.0h0m0.5-11.2h0m0.6 8.2h0m0.1-8.2h0m0.4 14.6h0m0.7-6.4h0m0.8-17.2h0m2.1 27.2h0m0.6-3.6h0m1.9 3.6h0m0.7 0.0h0m1.3 0.0h0m0.8 0.0h0m0.1-7.0h0m3.4-5.9h0m4.1-5.3h0m3.0 14.6h0m2.2 3.6h0m0.5-10.0h0m2.1 3.0h0m0.5-11.2h0m0.2 14.6h0m3.6 3.6h0" stroke="#c85050" stroke-width="3.3" stroke-linecap="round" fill="none"/>
<path d="M1417.0 166.1h0m2.0 6.4h0m1.0-5.6h0m0.9 6.3h0m0.8 1.3h0m0.6-0.3h0m0.8-1.3h0m0.8 0.6h0m0.5 2.2h0m0.6 0.6h0m0.4 7.4h0m0.2-0.6h0m0.3-4.3h0m0.9 1.4h0m0.5 1.4h0m0.5 2.2h0m0.6-3.5h0m1.0 0.9h0m0.4 5.1h0m2.6 3.0h0m0.3-1.4h0m0.5-2.3h0m0.2 3.7h0m0.2 5.0h0m0.9-3.8h0m0.2 3.2h0m1.2-1.4h0m0.4-5.2h0m0.2 4.7h0m0.8-0.5h0m0.9 7.0h0m1.0-4.1h0m0.6-0.7h0m0.2 0.5h0m1.2 8.0h0m0.5 2.1h0m0.6 0.9h0m0.5-6.9h0m0.5-2.4h0m1.3 4.9h0m0.4 5.0h0m0.9-6.9h0m0.3 9.4h0m0.2-4.8h0m0.9-3.5h0m1.9 7.9h0m0.7 6.1h0m0.5-10.3h0m0.3 7.3h0m2.8-4.5h0m0.5 5.2h0m0.3-2.9h0m0.7 7.7h0m0.3-2.2h0m0.1 2.5h0m0.9 0.6h0m0.2-6.2h0m0.7-2.6h0m0.6 3.9h0m0.3 1.8h0m0.2 5.4h0m1.5-2.6h0m0.5-1.2h0m0.5-0.8h0m0.5 7.1h0m0.5-1.0h0m0.3 4.6h0m0.7-7.0h0m0.6 5.3h0m0.1 6.8h0m0.9-10.3h0m1.3 8.1h0m0.4-4.2h0m0.3 0.0h0m1.0-1.4h0m0.6 2.7h0m0.4 7.5h0m0.3-1.6h0m0.3-7.6h0m0.1 12.2h0m0.8-6.1h0m0.8-3.3h0m0.3 10.3h0m0.4-7.8h0m0.6-1.5h0m0.5 3.0h0m0.3 3.2h0m0.5 5.8h0m1.0 4.5h0m0.2-9.4h0m1.0 0.4h0m0.3 5.5h0m1.5 1.9h0m0.2 1.1h0m1.4-14.1h0m0.9 6.9h0m0.7-1.3h0m0.5 15.1h0m1.2-9.2h0m1.2-4.6h0m1.2 5.1h0m0.4 5.8h0m1.0-3.2h0m0.4-7.2h0m1.2 19.7h0m0.6-0.6h0m0.6-1.4h0m0.5 3.4h0m2.3-7.2h0m1.6 1.9h0m0.8 0.6h0m0.9 8.4h0m0.9 14.5h0m0.3-24.2h0m0.7 2.6h0m0.3 4.2h0m1.0-11.5h0m0.5 9.3h0m2.0 1.4h0m2.5-2.0h0m0.8 9.8h0m0.3 1.7h0m0.3-9.5h0m0.5 7.0h0m1.0 0.8h0m0.2 2.6h0m0.5 3.8h0m0.5-8.9h0m0.3 0.8h0m0.5 14.3h0m1.5-18.9h0m0.5 14.6h0m0.2-10.0h0m0.4 13.2h0m0.4 0.0h0m0.9 1.1h0m1.4 7.3h0m0.8-9.5h0m0.6 5.7h0m0.1-7.8h0m2.0-5.7h0m0.4 21.5h0m0.1-8.0h0m0.3 11.0h0m0.9-19.8h0m0.2-1.9h0m0.1 20.1h0m0.6-16.1h0m0.4 5.5h0m1.1-8.5h0m0.4 14.9h0m1.9-13.0h0m0.3 9.1h0m1.5 1.2h0m0.3-11.3h0m0.3 18.2h0m0.1 0.0h0m0.5 8.2h0m0.5-22.2h0m0.4 5.9h0m0.7 0.0h0m0.3 3.9h0m0.1-8.7h0m0.3 8.7h0m0.6 10.7h0m0.1-17.1h0m0.4 2.5h0m2.9 33.6h0m0.6-20.7h0m0.3 3.4h0m0.2-3.4h0m0.3 0.0h0m1.3-16.5h0m1.8 23.7h0m0.2-10.4h0m0.2 12.4h0m1.0-5.8h0m2.1 5.8h0m1.0-2.0h0m0.5-10.4h0m0.4 23.9h0m2.1-17.3h0m0.7 23.0h0m0.8-19.2h0m0.2 2.0h0m0.9-9.2h0m0.9 15.7h0m0.3-14.0h0m0.6 14.0h0m0.4 2.5h0m0.3-19.9h0m0.5 7.0h0m0.8-3.6h0m1.0 3.6h0m0.3-1.9h0m0.5 26.0h0m1.7-16.0h0m0.3-8.1h0m0.2 10.4h0m0.6-17.4h0m0.4 25.2h0m0.8-33.9h0m0.8 19.6h0m1.5-14.0h0m0.3 18.2h0m0.2-11.7h0m0.5 24.7h0m0.5 0.0h0m1.0-17.2h0m0.3 11.5h0m0.2-33.6h0m0.8 24.1h0m1.6 12.3h0m0.1 2.9h0m0.2-5.7h0m0.6-17.3h0m0.2 17.3h0m0.4-5.0h0m1.1-4.5h0m1.6 4.5h0m0.2-12.3h0m1.4 14.8h0m0.4 18.2h0m1.8-33.0h0m1.0 17.3h0m0.3-5.0h0m1.7 7.8h0m1.3 0.0h0m0.5 0.0h0m1.3-12.3h0m0.3 12.3h0m1.0 5.9h0m1.0-11.2h0m1.5 14.6h0m0.3-9.3h0m0.7 2.9h0m0.3-2.9h0m0.5-7.8h0m1.6 17.1h0m0.2 0.0h0m1.0 0.0h0m1.5-3.4h0m0.2 3.4h0m0.8-14.6h0m1.1 0.0h0m0.2 14.6h0m1.7 3.6h0m1.5-7.0h0m1.3 7.0h0m0.8 0.0h0m0.4-18.2h0m0.4 5.3h0m0.2 5.9h0m1.2-13.7h0m0.6 7.8h0m1.0 0.0h0m4.1 12.9h0m1.0 0.0h0m0.5 0.0h0m0.2-7.0h0m1.2 0.0h0m0.3 0.0h0m0.3-5.9h0m3.3-10.1h0m0.5 23.0h0m2.0-7.0h0m1.4-3.0h0m0.6 10.0h0m1.4-7.0h0m1.0-20.2h0m1.2 17.2h0m1.6 6.4h0m2.2 3.6h0m0.3-3.6h0m0.2 3.6h0m0.8-3.6h0m1.0-12.1h0m5.1 15.7h0m0.7-3.6h0m2.6 3.6h0m1.2 0.0h0m0.3-10.0h0m0.3 0.0h0m1.2-5.7h0m0.3 0.0h0m0.5 12.1h0m0.7-6.4h0m0.6-2.9h0m1.7 9.3h0m0.8 3.6h0m0.2 0.0h0m0.3-15.7h0m0.5 8.7h0m0.7 3.4h0m1.9-6.4h0m0.4 3.0h0m0.2-5.9h0m9.8 12.9h0m1.5 0.0h0m0.7-7.0h0m0.3-3.0h0m0.3 10.0h0m2.7-12.9h0m0.7 0.0h0m0.5 9.3h0m2.7-21.6h0m3.0 25.2h0m3.0-3.6h0m0.2-9.3h0m1.9 5.9h0m1.4 7.0h0m0.6-3.6h0m2.0 3.6h0m2.6-7.0h0m0.2-3.0h0m0.2 3.0h0m0.3 3.4h0m1.0 3.6h0m0.5 0.0h0m0.8-3.6h0m0.3 3.6h0" stroke="#3cb43c" stroke-width="3.3" stroke-linecap="round" fill="none"/>
<path d="M1416.7 173.7h0m0.6 0.2h0m0.9 4.3h0m0.3-4.6h0m1.8 3.8h0m1.7 4.5h0m0.3 2.0h0m0.7-3.9h0m1.9 5.3h0m0.7 7.2h0m0.3-8.3h0m0.1 9.0h0m0.3 0.0h0m0.5-5.4h0m0.6 7.9h0m0.9-6.9h0m0.8 3.4h0m1.4-3.4h0m0.1-1.9h0m0.6 9.0h0m0.5-3.2h0m0.2 7.9h0m0.2-7.3h0m0.9 5.9h0m0.2-8.5h0m0.4 0.8h0m1.3 4.1h0m1.3 8.3h0m3.5-5.8h0m0.6 6.9h0m1.0-3.4h0m0.5-5.0h0m0.3 11.8h0m0.8-1.4h0m0.4-8.9h0m0.2 3.7h0m0.6 2.1h0m0.5 5.9h0m1.5-7.4h0m1.1 14.5h0m1.5-6.6h0m0.2 6.0h0m0.2-6.5h0m0.6-3.3h0m1.0 9.2h0m0.7-2.1h0m0.2-5.7h0m0.8 6.2h0m2.3 6.9h0m1.0-4.7h0m0.4 1.4h0m1.0 4.0h0m0.4-5.1h0m0.2-1.4h0m0.3 13.6h0m0.8-2.8h0m1.8-6.8h0m0.2 7.5h0m0.6-8.1h0m0.3 1.5h0m0.1 5.9h0m1.5 7.9h0m0.5-5.1h0m0.3 0.8h0m1.9-7.0h0m0.6 7.0h0m1.3-3.3h0m0.6 9.3h0m0.2 0.0h0m0.3-6.4h0m0.5-1.8h0m0.4 13.7h0m0.6-9.2h0m1.5 11.2h0m0.2-7.5h0m0.2 0.0h0m0.8-6.8h0m0.5 7.7h0m0.5-7.7h0m0.5 5.6h0m2.4 0.4h0m1.3 14.9h0m0.2-9.5h0m0.3-5.4h0m0.9 10.4h0m3.3-1.5h0m0.3-3.5h0m3.1-1.9h0m0.2 4.8h0m0.6 17.2h0m0.7-11.2h0m0.7 7.6h0m0.8 2.2h0m0.6-6.8h0m0.2 1.3h0m1.3-1.9h0m0.1-2.9h0m0.3 6.1h0m1.0 7.9h0m0.3-5.2h0m0.8-4.0h0m1.0 2.0h0m0.2-0.7h0m0.2-0.6h0m0.6 11.0h0m1.2-6.2h0m0.8 0.0h0m1.0 0.0h0m1.3-9.2h0m1.5 12.9h0m0.8 5.0h0m0.7 2.7h0m0.7-3.5h0m1.1 4.5h0m1.5 2.9h0m0.6 3.2h0m2.0-15.6h0m0.2-2.9h0m0.6 14.3h0m0.2 7.6h0m0.7-6.6h0m2.1-12.4h0m0.4 8.5h0m0.3 11.7h0m0.3 0.0h0m0.7-5.7h0m2.3 5.7h0m1.2 1.3h0m0.8-9.1h0m0.6 9.1h0m0.8-3.6h0m0.1-3.4h0m0.3-3.1h0m0.5 7.6h0m0.2 0.0h0m1.2-11.4h0m0.4 5.9h0m0.8 6.7h0m1.0 3.8h0m0.5-9.5h0m0.2 9.5h0m0.3 0.0h0m1.6-3.8h0m0.1 14.2h0m0.6-16.5h0m1.0 16.5h0m0.3-12.9h0m0.1-5.9h0m0.9 15.6h0m0.3-20.7h0m0.4 16.2h0m0.8 2.9h0m1.1-4.2h0m1.4-2.7h0m0.2 15.1h0m0.3 1.9h0m0.3-3.6h0m0.8-20.5h0m0.2 5.9h0m0.5 14.6h0m0.5 0.0h0m0.5 5.5h0m0.6-14.9h0m1.2-4.0h0m1.0 2.7h0m0.8 14.3h0m0.2 1.9h0m1.0 4.0h0m0.3-4.0h0m2.0 0.0h0m0.5-1.9h0m1.2-10.1h0m0.3 8.2h0m1.3 0.0h0m0.3-11.1h0m1.4 14.9h0m0.3 11.0h0m0.6 5.3h0m0.2-23.5h0m0.2 5.3h0m0.2-3.6h0m0.6 3.6h0m2.1 3.9h0m0.5 17.2h0m1.3-24.7h0m0.4 16.5h0m0.3-7.0h0m1.3 9.5h0m2.0-11.5h0m1.2 0.0h0m0.8 20.2h0m1.7-11.2h0m0.4-18.2h0m1.2 3.4h0m0.3 20.1h0m0.7-2.8h0m0.3-11.5h0m2.5-3.9h0m0.7 12.9h0m0.3 5.3h0m0.5-5.3h0m0.8-16.5h0m0.5 14.0h0m0.3-15.7h0m0.8 20.7h0m0.4-7.3h0m0.7-4.2h0m0.3 17.2h0m0.3-8.2h0m0.2-11.0h0m2.3 11.0h0m0.5 0.0h0m1.4 11.2h0m0.2-11.2h0m0.7 5.3h0m0.3-14.3h0m0.8 20.2h0m0.5-20.2h0m0.7 23.6h0m1.1-12.1h0m1.2-15.4h0m3.0 5.9h0m0.3 9.5h0m0.5 0.0h0m1.5 8.7h0m1.0-22.2h0m0.2 11.0h0m0.9 8.2h0m0.1-8.2h0m1.1-7.0h0m1.5 18.2h0m3.8-5.9h0m0.6-12.3h0m2.7 15.2h0m0.3 10.0h0m0.3-10.0h0m0.2 10.0h0m0.5-7.0h0m0.3 7.0h0m0.2-7.0h0m0.3-8.7h0m0.2 12.1h0m0.2-9.3h0m0.5 5.9h0m0.5-16.0h0m0.7 16.0h0m0.1-8.7h0m0.3 15.7h0m0.2-27.2h0m1.1 27.2h0m0.2-15.7h0m0.5-2.5h0m2.5 8.2h0m0.4 10.0h0m1.1-20.7h0m1.8 7.8h0m0.3 2.9h0m0.3-5.7h0m0.4 8.7h0m0.3-3.0h0m1.0 0.0h0m2.8 0.0h0m1.8-2.9h0m2.3 12.9h0m1.7-12.9h0m0.4 9.3h0m0.6 0.0h0m0.6 3.6h0m1.3-7.0h0m1.9-3.0h0m1.9-5.7h0m3.0-7.3h0m0.7 16.0h0m0.5-5.9h0m3.0 12.9h0m0.4 0.0h0m1.2-25.2h0m4.4 25.2h0m3.4 0.0h0m0.8 0.0h0m1.3-7.0h0m0.5 3.4h0m1.4-23.6h0m0.1 14.3h0m0.4 2.9h0m1.4-15.2h0m0.7 12.3h0m2.2-5.3h0m0.4 14.6h0m0.6-6.4h0m2.2 0.0h0m1.3 10.0h0m0.5-25.2h0m3.8 25.2h0m0.5-10.0h0m1.8-10.7h0m0.9 17.1h0m0.4-12.1h0m1.2 5.7h0m2.6 0.0h0m0.5 10.0h0m0.4-10.0h0m0.3 10.0h0m0.3-3.6h0m0.4-6.4h0m4.7 6.4h0m1.0 0.0h0" stroke="#b444b4" stroke-width="3.3" stroke-linecap="round" fill="none"/>
<path d="M1416.2 157.0h0m2.5-1.8h0m1.6-2.9h0m0.5 4.0h0m0.7 0.0h0m0.8 0.3h0m0.2 2.8h0m1.0 4.1h0m0.3 2.4h0m0.9-1.6h0m1.4-4.0h0m1.0 12.5h0m0.2-3.4h0m1.6-3.3h0m0.5 3.4h0m0.2-4.2h0m1.2-0.9h0m0.9 7.7h0m0.2 4.9h0m0.3-5.3h0m0.2 5.1h0m0.5-0.8h0m0.6-2.8h0m0.2 7.3h0m0.8-0.6h0m2.7-2.8h0m1.3 6.4h0m0.5-8.2h0m0.5 2.4h0m0.8 9.1h0m0.2-3.1h0m1.6 4.4h0m0.7 0.4h0m1.3 5.3h0m0.2-11.9h0m0.8 1.2h0m0.8 6.7h0m0.5-5.2h0m0.4 0.2h0m0.3 2.8h0m1.1 8.1h0m3.3-2.7h0m1.0-1.7h0m0.7 1.2h0m0.8 8.1h0m5.7 1.8h0m0.9-6.8h0m0.2 9.8h0m0.2-11.1h0m1.1 12.4h0m0.2 1.9h0m0.3-1.9h0m0.2 3.1h0m0.8-0.7h0m1.1 0.4h0m1.7 2.3h0m0.4 4.2h0m1.7-1.1h0m0.9 3.4h0m0.6-3.4h0m0.5 0.0h0m0.8-2.4h0m0.8 8.2h0m0.4-1.5h0m0.2 2.1h0m0.8 1.0h0m0.2-2.2h0m1.1 5.5h0m0.2-5.8h0m1.9 4.8h0m0.6 1.7h0m0.6-0.7h0m0.2-1.7h0m0.5-4.4h0m0.6 2.2h0m0.5 10.6h0m0.7-1.9h0m1.2-4.1h0m0.3 7.2h0m0.7-3.1h0m0.5-7.5h0m0.3 4.5h0m0.3-6.4h0m0.2 9.7h0m2.9-5.8h0m0.7 2.8h0m0.2 9.7h0m1.1-7.0h0m1.0 18.2h0m0.5-18.6h0m1.0 7.9h0m0.7-2.3h0m0.8 10.2h0m0.3-2.7h0m0.7 1.1h0m0.3-5.0h0m0.5 4.5h0m0.6-1.1h0m1.0-0.5h0m0.2-1.4h0m0.2 3.5h0m0.3-6.3h0m0.3-0.5h0m0.7 8.9h0m0.8 6.5h0m0.4-8.1h0m0.6 0.0h0m0.4 15.6h0m0.6-12.3h0m0.7-4.3h0m1.6 11.0h0m0.5 5.6h0m0.3-15.1h0m1.3 15.1h0m0.1-11.2h0m0.3-3.3h0m0.8 7.6h0m0.5 7.7h0m0.5-16.4h0m0.7 8.7h0m0.3 0.7h0m0.2 5.5h0m2.5 4.6h0m0.6 6.1h0m1.7-8.5h0m0.5-2.2h0m0.8 5.5h0m0.3 0.0h0m0.8-6.2h0m0.5 0.0h0m0.3-2.8h0m0.1 9.0h0m0.8-4.0h0m1.1 18.6h0m1.5-6.5h0m0.2-10.6h0m0.8 4.2h0m0.3-5.0h0m1.0 2.4h0m0.1 12.1h0m0.4-12.9h0m0.5 8.9h0m2.7 1.9h0m0.3 7.8h0m0.3-11.7h0m0.2 9.4h0m0.2-4.4h0m0.3 1.0h0m0.6-2.1h0m1.2-2.9h0m0.3 12.0h0m2.3-9.1h0m1.2 15.8h0m4.1-4.2h0m0.2 2.7h0m0.5-12.2h0m0.3 16.7h0m0.7-3.0h0m0.3-5.5h0m0.8-1.2h0m1.8 1.2h0m0.2-1.2h0m1.3 0.0h0m0.7-2.5h0m0.2 10.6h0m0.5-14.0h0m0.5 11.1h0m0.3-15.3h0m0.8 23.0h0m0.3-3.2h0m0.2-5.8h0m0.5-2.7h0m0.3 13.4h0m0.5-6.5h0m0.2 4.8h0m1.0 0.0h0m0.5-4.8h0m1.0 4.8h0m0.3 7.2h0m2.1 4.0h0m0.9-9.5h0m0.5-1.7h0m0.3 11.2h0m1.8-14.4h0m0.9-7.2h0m0.4 8.7h0m0.2 1.7h0m2.3-1.7h0m0.3 17.4h0m0.2 5.0h0m2.5-25.5h0m0.7 4.8h0m1.0 1.7h0m0.3 9.5h0m0.8 4.5h0m0.6-18.9h0m0.9 32.6h0m0.3-11.2h0m1.1-18.2h0m0.4 13.4h0m0.5-2.2h0m0.6-2.0h0m0.2 2.0h0m0.4 15.2h0m0.3-15.2h0m0.8 15.2h0m0.3-23.0h0m0.7 0.0h0m0.8 7.8h0m0.3-2.0h0m0.6 14.3h0m0.3-18.2h0m1.3 8.1h0m0.6-6.2h0m1.3-5.5h0m1.9-4.9h0m0.8 23.9h0m1.2 0.0h0m0.4 2.8h0m0.7 12.9h0m1.0-42.6h0m0.5 19.6h0m0.7 19.4h0m0.5-12.1h0m0.3-5.0h0m1.5-14.0h0m0.6 19.0h0m0.5 0.0h0m0.3-5.0h0m0.7-2.3h0m1.7-4.2h0m0.2-12.4h0m1.1 14.4h0m0.3 15.2h0m0.2-17.2h0m3.5 20.2h0m1.1-3.0h0m0.2-5.7h0m0.5-2.5h0m0.5 8.2h0m1.6-8.2h0m2.5 14.6h0m2.0-14.6h0m1.3 8.2h0m0.5-10.7h0m0.3 13.7h0m0.9 3.4h0m0.3-17.1h0m0.6 10.7h0m0.5 10.0h0m1.7-29.2h0m2.0 29.2h0m0.5-25.2h0m1.4 25.2h0m0.9-15.7h0m0.8 5.7h0m0.7 6.4h0m1.3-23.6h0m2.1 27.2h0m1.0-7.0h0m1.2-3.0h0m1.1 3.0h0m0.1-5.9h0m1.1-5.3h0m0.8-11.0h0m0.5 25.6h0m0.2-9.3h0m3.6 2.9h0m1.2-5.7h0m0.6 2.8h0m0.2 5.9h0m0.8-5.9h0m0.5-14.3h0m1.3 17.2h0m0.8 3.0h0m2.0 7.0h0m0.2-18.2h0m4.3 14.6h0m1.1-12.1h0m0.2 12.1h0m2.0 0.0h0m1.2 0.0h0m2.4-21.6h0m8.3 2.2h0m0.8 7.3h0m0.8 12.1h0m0.7 0.0h0m2.5-3.4h0m1.8 0.0h0m2.6 3.4h0m0.4-12.1h0m6.9 15.7h0m3.6-3.6h0m0.3 3.6h0m3.4-12.9h0" stroke="#66ccd4" stroke-width="3.3" stroke-linecap="round" fill="none"/>
<path d="M1416.2 158.0h0m1.3 5.2h0m1.2-1.2h0m0.5 0.5h0m0.6 6.0h0m1.5-4.3h0m0.9 1.1h0m0.3 4.1h0m0.6-1.0h0m0.1 4.2h0m1.9 3.5h0m0.2-4.0h0m0.5 2.7h0m1.1-3.4h0m0.4 1.3h0m0.5 1.5h0m0.8 1.7h0m0.5-3.1h0m1.3 3.1h0m0.3 1.3h0m1.2 6.3h0m0.5-3.5h0m0.2-2.2h0m0.3 2.4h0m0.3 1.5h0m0.2-3.1h0m0.8 5.1h0m1.3 3.6h0m1.2-2.0h0m0.3-3.1h0m0.7 1.1h0m0.3 2.6h0m0.2 0.9h0m2.1 0.0h0m1.4 6.9h0m0.3-6.9h0m0.6-1.5h0m0.5 6.7h0m0.7 3.9h0m0.3-6.0h0m0.3 3.1h0m0.5 3.8h0m1.3-4.0h0m0.2 2.4h0m0.7 4.2h0m0.7 1.6h0m0.8-3.6h0m0.8-1.5h0m0.3 11.5h0m0.4-11.1h0m0.8 7.4h0m1.5 4.0h0m1.1-4.2h0m0.2 6.5h0m0.3-5.5h0m1.0-1.7h0m1.8 6.0h0m0.9-1.8h0m0.7 9.9h0m0.4-3.3h0m2.8 0.5h0m0.4-4.1h0m0.6 8.9h0m0.8-9.4h0m0.4 7.7h0m0.3-0.3h0m0.2-2.8h0m0.9 8.5h0m0.2-6.6h0m0.2 3.2h0m0.4 0.6h0m0.2 2.8h0m1.2-2.5h0m0.5-4.6h0m0.3 7.4h0m1.2 3.1h0m1.6-0.4h0m0.4-1.3h0m0.4-2.3h0m0.7 5.0h0m0.8-5.7h0m0.7-2.7h0m2.0 9.5h0m1.3 5.0h0m0.8-7.5h0m0.3 2.9h0m0.4 5.0h0m0.3 4.8h0m0.2 3.8h0m2.1-13.3h0m1.2 5.6h0m0.4 0.0h0m0.6-2.9h0m0.3 11.1h0m0.8 4.8h0m0.7-9.5h0m0.5 0.4h0m1.1-3.1h0m0.7 12.2h0m0.3-2.7h0m0.5 1.1h0m0.5 5.1h0m0.3-6.2h0m0.1-7.7h0m0.9 9.3h0m0.2 2.3h0m0.6-2.3h0m0.1-6.6h0m0.6 18.4h0m0.3-7.2h0m0.5-7.2h0m1.0 4.9h0m1.0 2.3h0m0.5-7.2h0m3.0 4.9h0m0.8-1.2h0m1.8-1.6h0m0.5 6.3h0m0.9 3.3h0m1.3 12.2h0m0.2-16.1h0m0.3 12.7h0m0.2-7.5h0m2.2 11.8h0m0.4-0.9h0m4.8-4.2h0m2.3-1.6h0m0.6 8.5h0m1.5 5.0h0m0.7-2.1h0m0.6-1.9h0m0.9 13.2h0m0.5-8.2h0m0.2-15.2h0m0.9 15.2h0m0.4-6.9h0m1.3 3.8h0m0.4-4.7h0m1.0 4.7h0m2.2 12.6h0m0.3-7.3h0m1.2-3.2h0m0.5-7.7h0m0.5 12.1h0m0.7 10.3h0m0.3-15.8h0m0.8 14.3h0m0.2-11.1h0m0.4 4.6h0m0.2-8.8h0m0.7-0.9h0m2.6 0.0h0m0.4 13.5h0m0.6 2.7h0m0.2-12.2h0m0.5 15.1h0m0.2-14.0h0m0.4 12.6h0m1.2 0.0h0m0.5 7.9h0m1.5-21.6h0m0.8 18.2h0m2.0 8.9h0m1.3-7.2h0m0.3-4.8h0m0.2-1.4h0m0.7 3.0h0m0.3-8.5h0m1.0 5.5h0m1.9-5.5h0m1.1 10.0h0m0.6 22.4h0m1.2-17.3h0m0.6 3.8h0m0.2-5.5h0m0.8 0.0h0m0.3 3.6h0m0.7-8.5h0m1.3 23.9h0m0.2 0.0h0m0.3-26.9h0m1.0 7.9h0m0.7-1.7h0m0.5 9.2h0m2.3 4.2h0m0.6-26.3h0m2.2 26.3h0m0.5 10.1h0m0.8-12.3h0m0.5 21.6h0m0.2-14.6h0m0.8-21.4h0m1.1 8.5h0m0.2 12.9h0m0.5-11.0h0m2.3 13.5h0m0.2-11.5h0m0.3 17.2h0m0.4 3.0h0m0.5-24.1h0m0.5 27.5h0m0.7-19.4h0m0.7 7.3h0m0.1-17.3h0m0.3 5.8h0m0.3 0.0h0m0.3-5.8h0m0.4 5.8h0m0.6-5.8h0m1.0 23.0h0m1.3-28.1h0m0.3 19.9h0m4.0 14.6h0m0.3-14.6h0m1.7-9.0h0m0.8-5.8h0m0.2 12.3h0m0.2 0.0h0m1.5 5.0h0m0.3-15.4h0m0.2 15.4h0m0.4-2.5h0m0.4 8.2h0m0.5 6.4h0m0.5-9.3h0m1.8 12.9h0m0.9-7.0h0m0.1 7.0h0m0.3-25.2h0m0.8 18.2h0m1.2-26.0h0m0.4 12.3h0m1.4 7.8h0m1.1 2.9h0m0.6 0.0h0m1.4-2.9h0m0.7-2.8h0m3.8 5.7h0m1.5 10.0h0m0.8-3.6h0m0.6-3.4h0m1.0 0.0h0m1.2 7.0h0m2.0-18.2h0m1.6-2.5h0m3.1 20.7h0m2.7-18.2h0m1.0 0.0h0m3.0 2.5h0m0.3 2.8h0m0.6 12.9h0m0.2-7.0h0m4.3 7.0h0m2.6-7.0h0m0.9-5.9h0m0.8 2.9h0m0.7 10.0h0m0.5-15.7h0m1.0 12.1h0m1.1-14.6h0m0.5 18.2h0m0.5-12.9h0m0.2 5.9h0m1.5 3.4h0m0.3 3.6h0m6.1-23.0h0m2.6 16.0h0m0.7 7.0h0m1.5-7.0h0m0.5 7.0h0m2.0-3.6h0m0.8-9.3h0m1.0 0.0h0m1.3 9.3h0m0.8-6.4h0m0.7-10.7h0m1.1 0.0h0m2.0 13.7h0m0.3 0.0h0m0.2-3.0h0m4.8 0.0h0m1.1-5.7h0m1.2 12.1h0m2.5 3.6h0m1.5-10.0h0m0.8-2.9h0m1.3 9.3h0m1.4-6.4h0m0.9-2.9h0m0.4 2.9h0m0.8-2.9h0m1.8 12.9h0m0.2-15.7h0m0.5-7.3h0m2.9 13.0h0m1.2 0.0h0" stroke="#3a3a3a" stroke-width="1.9" stroke-linecap="round" fill="none"/>
<path d="M1416.5 162.6h0m0.4 0.2h0m1.0-0.6h0m0.8-1.6h0m3.1 5.3h0m0.5-0.8h0m0.5 3.4h0m0.5 1.9h0m0.3-2.1h0m0.5-0.4h0m2.0 6.6h0m0.2-2.4h0m0.6 0.4h0m0.2 3.7h0m0.5-3.3h0m0.8 1.9h0m0.7 1.2h0m0.5 2.2h0m1.8 1.8h0m0.3-2.8h0m0.2 2.5h0m1.2-1.4h0m3.1 7.6h0m0.5 0.0h0m0.3 1.0h0m0.3-3.6h0m0.4 6.2h0m0.4-3.9h0m0.1 0.3h0m0.2 1.3h0m0.6-2.0h0m1.3 0.4h0m0.2 3.4h0m1.8 0.5h0m0.3 4.5h0m1.2 0.0h0m0.2-2.5h0m0.9 5.3h0m2.8 0.2h0m0.7-0.7h0m0.2 3.3h0m0.9-1.3h0m1.7 0.9h0m0.7 4.9h0m0.4 1.7h0m0.1-1.9h0m1.4-1.3h0m1.8 5.3h0m0.4 0.5h0m0.7-8.2h0m0.8 7.5h0m0.3-2.5h0m1.0 13.4h0m0.5-10.9h0m1.1 11.5h0m0.1-5.4h0m1.1-2.0h0m0.2 4.8h0m1.3-4.6h0m0.7 1.1h0m0.6 10.5h0m0.4-11.6h0m0.6 5.2h0m0.2-5.2h0m0.3 9.0h0m1.0-6.6h0m2.6 17.5h0m0.4-13.6h0m1.6-1.4h0m0.2 0.0h0m0.2 8.7h0m0.6 4.4h0m1.0-1.5h0m0.3-6.2h0m0.9 0.6h0m1.0 3.8h0m0.9 14.4h0m0.2-3.2h0m0.3-6.4h0m0.4 2.4h0m0.3-3.9h0m0.2-1.2h0m0.3 8.2h0m0.2-6.3h0m0.3 10.0h0m0.6-11.1h0m0.5 6.9h0m0.4-7.7h0m0.3-0.3h0m1.0 6.3h0m1.5 3.1h0m0.6-1.8h0m0.2 6.0h0m0.8-9.8h0m0.5 6.5h0m0.5 5.9h0m0.8 3.3h0m1.3-5.9h0m1.0-2.4h0m1.4 6.6h0m1.1 0.6h0m1.8 6.5h0m0.2 1.3h0m0.4-1.3h0m0.6-14.6h0m1.1 18.6h0m1.1-6.5h0m0.7-9.8h0m0.1 6.9h0m1.0-3.8h0m1.4 6.7h0m0.6 5.8h0m0.6-5.2h0m1.8 4.6h0m0.3 1.3h0m1.0 6.0h0m0.4-5.3h0m1.1-4.0h0m3.7 7.0h0m1.1-3.0h0m2.7 8.7h0m0.8 0.8h0m1.0 5.6h0m1.6-3.8h0m0.2 4.8h0m0.8 0.0h0m0.7-10.8h0m0.3 6.9h0m0.2-2.7h0m3.3 2.7h0m1.9 19.7h0m0.7-1.5h0m0.3-17.2h0m0.4-7.9h0m1.1 10.8h0m0.4 1.1h0m0.6-1.1h0m0.7 4.3h0m0.9-5.3h0m1.2 7.6h0m0.5 1.2h0m0.5-4.6h0m1.0-7.1h0m1.3 8.2h0m1.2 10.0h0m0.2-6.5h0m0.4 0.0h0m0.2-4.6h0m0.3 7.1h0m1.3 2.7h0m0.2 5.8h0m0.3-12.2h0m0.4 9.2h0m0.5 11.5h0m0.3 1.9h0m0.4-14.9h0m1.9-8.8h0m0.2 19.9h0m0.5 0.0h0m1.4-9.6h0m0.2-1.5h0m1.5-2.7h0m0.2 0.0h0m0.2 15.7h0m0.3-3.6h0m0.3 1.7h0m0.2-11.1h0m0.5 9.4h0m0.6-9.4h0m0.4 6.0h0m0.5 3.4h0m1.4-12.1h0m0.1 2.7h0m1.5-2.7h0m1.9 17.6h0m0.5 8.5h0m0.5 0.0h0m0.8-8.5h0m0.5 0.0h0m0.2 16.3h0m0.5-25.2h0m0.3 1.7h0m0.5 5.3h0m0.3-3.6h0m0.3 27.7h0m0.3-29.4h0m0.8 3.4h0m0.3 0.0h0m0.8 0.0h0m1.7 17.3h0m1.6 8.7h0m0.3-8.7h0m0.2-15.4h0m2.1 31.1h0m1.0-29.2h0m1.1-1.9h0m0.8 0.0h0m0.3 21.1h0m1.3-24.7h0m0.4 14.0h0m0.3 5.0h0m0.3 8.7h0m0.5-27.7h0m0.5 16.5h0m0.6-14.8h0m0.3 20.1h0m1.4-5.3h0m0.3-14.8h0m0.8 10.0h0m1.7 2.3h0m0.5 17.1h0m2.2-17.1h0m0.3 17.1h0m0.5-17.1h0m0.5 13.7h0m0.8-16.0h0m0.7 7.3h0m1.5-2.5h0m0.3-2.5h0m0.8-8.5h0m1.8 19.2h0m0.2 6.4h0m1.2-6.4h0m5.7 3.0h0m0.4-16.0h0m1.4 7.3h0m0.5-7.3h0m0.5 13.0h0m0.5-10.7h0m1.0 10.7h0m0.4 3.0h0m1.9 0.0h0m0.2-16.0h0m0.8 13.0h0m0.2-13.0h0m2.8 0.0h0m0.5 19.4h0m1.6-21.6h0m2.2 0.0h0m0.3-2.0h0m0.9 17.2h0m0.8 3.0h0m1.4-11.2h0m0.1-7.0h0m0.9 12.3h0m0.9 2.9h0m0.5 0.0h0m1.1-5.7h0m0.4-2.5h0m0.9 18.2h0m0.2-3.6h0m0.2-12.1h0m6.7 8.7h0m7.1-3.0h0m0.1 3.0h0m1.9-5.9h0m1.8 0.0h0m1.0 12.9h0m1.2-10.0h0m1.0 10.0h0m1.4-18.2h0m1.0 5.3h0m1.2 9.3h0m1.0-6.4h0m1.1-13.0h0m0.4 13.0h0m3.4 0.0h0m0.9 0.0h0m2.3 3.0h0m1.0 3.4h0m1.0-9.3h0m0.5 2.9h0m0.6 10.0h0m4.5-10.0h0m2.1 10.0h0m1.2 0.0h0m0.5-3.6h0m1.6 3.6h0m0.4-7.0h0m0.8 3.4h0m1.7-12.1h0m1.1 12.1h0m0.3-3.4h0m6.4 7.0h0m0.4-3.6h0m3.7-3.4h0m2.1 3.4h0" stroke="#3636a8" stroke-width="1.9" stroke-linecap="round" fill="none"/>
<path d="M1416.5 157.8h0m0.4-1.3h0m1.3 4.4h0m0.3-0.3h0m0.2 3.3h0m2.1-1.5h0m0.7 3.4h0m0.6-0.4h0m0.2 2.1h0m0.3 0.4h0m0.4 1.5h0m0.6-2.5h0m0.2-2.6h0m0.2 3.5h0m0.5 0.7h0m0.8 2.1h0m0.5 1.3h0m0.3 0.9h0m0.5-0.2h0m0.5 3.4h0m0.6-4.9h0m0.1 0.1h0m0.5-3.2h0m0.4 6.6h0m0.6 2.8h0m0.8-1.3h0m0.6 0.8h0m1.2 1.4h0m3.0 2.1h0m0.3-2.2h0m0.3 0.8h0m0.9 0.9h0m1.8 7.6h0m0.9-0.7h0m0.6-0.8h0m0.6-3.9h0m0.2 8.0h0m1.5 0.4h0m2.1-1.0h0m1.0 6.4h0m0.3-1.0h0m0.5 4.2h0m0.2-9.0h0m0.5 5.1h0m0.6-2.2h0m1.4 5.9h0m0.8-0.2h0m0.3 0.0h0m2.0 2.3h0m2.0-0.4h0m0.5 1.8h0m0.5-0.6h0m0.2 2.7h0m0.3-2.3h0m0.5 3.9h0m0.4-1.4h0m1.5-1.9h0m0.4 3.3h0m0.2-1.4h0m0.6 2.5h0m0.6-0.5h0m0.2 5.8h0m1.8 3.0h0m0.1-1.9h0m1.5-1.6h0m0.6-1.0h0m0.2 7.3h0m1.5-3.6h0m0.4 3.3h0m0.7-6.2h0m0.2 5.1h0m1.9 8.7h0m0.8-8.4h0m0.6 7.7h0m0.6-2.3h0m0.2-2.2h0m0.2 1.3h0m0.3-2.5h0m0.7 1.8h0m0.3 1.9h0m1.6-1.9h0m1.2 7.8h0m0.3 3.5h0m0.2-6.7h0m0.2 7.1h0m0.4-5.3h0m0.2-3.5h0m0.7 12.6h0m0.6-6.5h0m1.0-5.1h0m0.7 1.4h0m0.6 4.4h0m1.2 17.9h0m0.7-21.2h0m0.4 11.4h0m0.2-4.0h0m1.5 5.4h0m0.3 0.0h0m0.2 0.9h0m0.8-9.6h0m0.2 6.4h0m0.7 6.3h0m0.6-3.5h0m0.2-4.2h0m0.3 14.4h0m1.1-12.6h0m0.9 0.0h0m0.5 9.1h0m1.5 0.6h0m1.0-4.3h0m1.3 2.6h0m1.3-1.1h0m1.0-0.5h0m0.5 4.4h0m0.3-2.8h0m1.8-2.1h0m0.4 11.2h0m0.3-2.0h0m0.2-0.6h0m0.3-3.1h0m0.3-2.3h0m0.5 10.0h0m0.3-7.1h0m1.3 6.4h0m0.2-2.0h0m0.7-2.6h0m0.9-1.2h0m0.7 8.0h0m0.5-6.8h0m0.7 2.0h0m3.1 7.0h0m0.2 4.8h0m0.5-2.5h0m2.6 5.1h0m0.8-8.2h0m0.7 12.0h0m0.5 0.0h0m2.0-4.7h0m0.2-5.0h0m2.9 15.9h0m0.2-9.1h0m0.4 20.6h0m0.3-23.2h0m0.8 10.6h0m0.8-3.2h0m0.2-8.3h0m0.3 8.3h0m0.8-5.7h0m0.7 7.8h0m0.2 0.0h0m1.8-6.0h0m0.3 13.0h0m1.0-8.0h0m0.3 4.4h0m0.3 13.3h0m0.2-20.7h0m0.2 14.9h0m0.3-21.3h0m0.2 9.4h0m0.8 10.5h0m0.2 17.6h0m2.5-20.1h0m0.6 1.2h0m0.8-1.2h0m1.0-7.0h0m0.4 21.6h0m0.3-21.6h0m0.3 9.5h0m0.2-10.5h0m1.3 10.5h0m0.2 19.6h0m0.3-33.1h0m0.2 22.2h0m0.3-8.7h0m1.5 15.7h0m0.5-19.5h0m1.0 11.0h0m1.4 6.6h0m0.9 1.9h0m0.9-8.5h0m0.2-5.8h0m0.8-5.2h0m0.4 0.0h0m0.3 14.2h0m0.2-6.2h0m0.9 13.4h0m0.2 2.0h0m0.7-5.8h0m1.0-13.8h0m1.3 12.1h0m0.2 3.6h0m1.3-10.1h0m0.8-4.2h0m2.7 5.8h0m0.3 0.0h0m0.3 1.5h0m0.2 1.7h0m0.3 13.4h0m0.5-21.1h0m0.8 9.4h0m0.8 1.7h0m2.4 10.0h0m0.4-8.1h0m0.9-3.6h0m0.8 7.5h0m0.5-3.9h0m1.0 3.9h0m0.4-5.8h0m0.6 20.1h0m0.8-7.8h0m1.2 0.0h0m0.6 5.0h0m0.2-11.5h0m0.2-10.9h0m1.0 22.4h0m0.5-2.5h0m0.9 0.0h0m0.2-11.0h0m0.8 0.0h0m0.2 11.0h0m0.3-2.5h0m0.2-18.9h0m0.5 3.2h0m0.3 13.4h0m1.3 2.3h0m0.9-2.3h0m0.6 23.0h0m2.0-27.2h0m0.7-5.8h0m0.5 17.3h0m0.8-5.0h0m1.0 5.0h0m0.8 0.0h0m1.5-5.0h0m0.6 0.0h0m2.2-4.5h0m0.5 15.2h0m0.6-5.7h0m0.6 5.7h0m0.3-23.0h0m1.6 12.3h0m0.7 10.7h0m0.8-15.2h0m1.5 2.2h0m0.2 16.0h0m0.3-3.0h0m0.3 0.0h0m0.4 0.0h0m0.8-2.9h0m0.3-10.1h0m0.4 16.0h0m0.9-5.9h0m0.2-2.8h0m0.8 8.7h0m0.2-18.2h0m0.8 21.6h0m0.5-6.4h0m0.8-19.2h0m0.5 25.6h0m0.5 3.6h0m0.3-7.0h0m0.9-3.0h0m0.6-5.7h0m0.2 0.0h0m1.1-22.4h0m0.2 22.4h0m1.0-17.3h0m0.3 33.0h0m1.1-12.9h0m1.6 9.3h0m1.3-6.4h0m3.3 0.0h0m4.5 10.0h0m0.3-23.0h0m1.8 16.0h0m0.7-16.0h0m1.6 0.0h0m0.9 0.0h0m1.2 13.0h0m1.9 0.0h0m0.3-19.2h0m1.8 25.6h0m0.1-3.4h0m2.6 7.0h0m0.3-3.6h0m1.2-19.4h0m1.5 19.4h0m0.5-14.6h0m3.4 0.0h0m0.7 14.6h0m1.3-25.6h0m1.0 11.0h0m2.6 5.3h0m0.5-2.8h0m2.5 5.7h0m2.3-8.2h0m0.5 2.5h0m0.2-2.5h0m0.6 0.0h0m5.3 14.6h0m0.2 0.0h0m0.3-3.4h0m0.3-5.9h0m0.4-7.8h0m2.4 13.7h0m2.0 0.0h0m3.2 0.0h0m2.1-5.9h0m2.0 9.3h0m0.5-3.4h0m3.5 7.0h0m1.9 0.0h0m2.8-3.6h0m0.5 0.0h0m0.4 0.0h0m1.8 0.0h0m0.5-17.1h0m0.6 5.0h0m0.2 5.7h0" stroke="#c85050" stroke-width="3.3" stroke-linecap="round" fill="none"/>
<path d="M1416.1 164.7h0m1.9 2.7h0m0.2 3.3h0m0.3 2.7h0m0.2-6.6h0m0.5 5.4h0m0.3-2.2h0m0.2 2.7h0m0.6-1.3h0m1.7 2.1h0m0.5-1.5h0m1.0 7.8h0m0.5-4.1h0m0.5 1.2h0m1.6 0.5h0m0.5 5.9h0m0.4-1.9h0m1.6-4.7h0m0.2 6.2h0m0.3-8.4h0m1.0 13.1h0m0.4-6.4h0m0.6 7.5h0m0.8-5.6h0m3.3 13.5h0m0.3-6.5h0m1.4 1.6h0m0.6-4.1h0m0.4 3.3h0m0.6-0.5h0m2.0 1.9h0m0.3 2.9h0m2.2 1.8h0m0.8 0.9h0m0.5 7.9h0m2.8 3.0h0m0.5-8.6h0m2.5-0.2h0m0.8 8.1h0m0.6 1.0h0m0.2-4.4h0m0.5 2.0h0m0.5 8.8h0m4.1 4.3h0m2.0-5.7h0m0.5 2.8h0m0.8 9.1h0m0.4-4.0h0m1.1-5.1h0m1.5 4.1h0m1.0 4.3h0m1.8-2.4h0m0.8 11.5h0m0.4-9.8h0m0.5 2.8h0m1.9 9.6h0m0.2-14.1h0m0.7 10.2h0m0.9-2.4h0m0.4-0.7h0m0.5 4.8h0m1.3 6.8h0m0.2-10.9h0m0.4 4.9h0m0.7-2.5h0m0.2 0.8h0m0.3 4.4h0m0.8-3.9h0m0.2 0.8h0m0.7-3.7h0m0.9 9.6h0m0.1 1.0h0m1.3-5.1h0m0.3 2.7h0m1.8-1.4h0m1.0 7.5h0m0.8-0.6h0m0.4-7.3h0m1.6 12.4h0m1.5-1.2h0m0.7-8.9h0m1.1 12.6h0m1.0-5.9h0m0.8 1.7h0m0.2 8.1h0m0.2-8.1h0m0.3 6.8h0m0.2-0.7h0m0.8-7.8h0m0.3 4.6h0m0.4 7.4h0m0.3 4.5h0m0.9-2.3h0m0.3-12.5h0m0.3 7.5h0m0.6-3.3h0m0.3 1.9h0m0.2-1.9h0m0.7 11.4h0m0.2-12.7h0m0.8 11.1h0m0.3-3.7h0m1.8-2.2h0m0.2 7.5h0m0.3-7.5h0m0.3 9.2h0m0.2-17.9h0m0.8 26.2h0m0.2-7.4h0m0.5-1.7h0m0.6-3.3h0m0.1 9.5h0m0.4-13.9h0m0.7 2.9h0m1.6 12.0h0m1.1-11.2h0m0.6 15.2h0m1.5-10.4h0m0.7 0.9h0m0.6 19.0h0m0.9-14.5h0m0.6-1.0h0m0.7 6.0h0m0.3-2.1h0m0.5-2.9h0m0.8 12.0h0m1.5 3.9h0m0.3-14.9h0m0.5 9.7h0m0.2-6.7h0m0.2 6.7h0m1.5-5.7h0m0.3 21.6h0m1.5-13.4h0m1.8 8.5h0m0.5-4.5h0m0.4 4.5h0m0.2-12.2h0m0.2-2.3h0m1.3 19.4h0m0.3-13.4h0m0.2 1.3h0m3.1 8.7h0m1.1 0.0h0m2.1-3.1h0m1.3 3.1h0m0.2-4.5h0m0.6 7.9h0m1.2-12.1h0m0.5 43.2h0m0.3-21.6h0m0.7-12.9h0m0.8 7.0h0m0.2-10.1h0m1.1-1.4h0m0.4 6.2h0m0.5 0.0h0m1.6 5.3h0m0.6-8.5h0m0.1 14.4h0m0.3 12.3h0m1.0-21.8h0m0.8-1.7h0m0.3 9.2h0m0.2-3.9h0m0.7 3.9h0m1.3-19.6h0m0.3 13.8h0m1.0 3.8h0m0.5-8.9h0m0.3 3.4h0m0.3-12.1h0m0.6 19.6h0m0.5 9.0h0m2.4-21.4h0m1.0 29.6h0m0.5-29.6h0m0.4 18.9h0m0.5-8.5h0m0.4 19.2h0m0.9-15.2h0m0.5 15.2h0m0.6-21.1h0m0.2 5.9h0m0.5 4.5h0m1.0 5.0h0m0.3 0.0h0m1.5-15.4h0m0.5 5.9h0m0.5-5.9h0m0.3-7.0h0m1.5 17.4h0m1.3-2.3h0m2.6 2.3h0m0.2 7.8h0m0.3 12.9h0m2.5-25.2h0m0.2-5.9h0m1.7 3.9h0m1.6-9.2h0m0.2 32.8h0m0.8-17.1h0m0.2 10.7h0m1.1-15.2h0m0.6-4.0h0m0.2 8.5h0m1.4 13.7h0m0.6-5.9h0m1.0 0.0h0m1.5 5.9h0m1.0-20.2h0m0.3 27.2h0m1.2-18.2h0m0.8 5.3h0m0.6-12.3h0m1.0 9.5h0m0.7 0.0h0m0.5 2.8h0m1.0 5.9h0m0.5 3.4h0m0.8-14.6h0m0.3-16.5h0m2.2 16.5h0m0.2-4.8h0m0.3 23.0h0m0.3-20.7h0m1.2 17.1h0m0.3-9.3h0m0.8-14.3h0m1.0 17.2h0m0.2 10.0h0m0.5-10.0h0m1.8 10.0h0m0.6-3.6h0m0.7-14.6h0m2.2 14.6h0m0.9-12.1h0m2.2 0.0h0m3.1 8.7h0m0.2 0.0h0m0.5 7.0h0m0.9-10.0h0m2.2 10.0h0m0.3-18.2h0m0.9 14.6h0m0.3-3.4h0m1.7-16.0h0m2.4 7.3h0m0.7 5.7h0m2.0-8.2h0m1.0 11.2h0m0.5 7.0h0m1.1-10.0h0m1.7 3.0h0m0.3-3.0h0m0.3-2.9h0m0.5 12.9h0m0.3-7.0h0m0.1 3.4h0m0.5-6.4h0m0.5 0.0h0m0.8 3.0h0m1.8-3.0h0m4.3-17.2h0m2.3 27.2h0m3.6-15.7h0m3.5 5.7h0m0.8 3.0h0m3.2-8.7h0m2.9 8.7h0m0.4 3.4h0m0.3 3.6h0m0.6 0.0h0m0.1-15.7h0m0.6 12.1h0m0.2-9.3h0m0.5 9.3h0m0.3 0.0h0m0.5 0.0h0m5.1-3.4h0m0.4 7.0h0m2.1-25.2h0m4.1 18.2h0m0.5-5.9h0m0.5 2.9h0m2.1 3.0h0m0.7 7.0h0m0.5 0.0h0m0.7-3.6h0m3.0-12.1h0m1.1 12.1h0m0.5 3.6h0m0.2 0.0h0m7.0-3.6h0" stroke="#3cb43c" stroke-width="3.3" stroke-linecap="round" fill="none"/>
<path d="M1416.9 181.2h0m1.9-7.3h0m0.2 6.1h0m0.8-5.4h0m1.2 6.3h0m0.3-1.2h0m0.2-2.3h0m0.2 0.2h0m0.8-0.2h0m0.3 2.4h0m0.6 6.8h0m0.7-2.1h0m1.0-4.3h0m0.2 7.0h0m1.8 3.5h0m0.8-6.2h0m0.2 5.4h0m1.3-4.4h0m0.5 8.8h0m1.6-0.5h0m2.0 0.7h0m0.4 0.7h0m0.3-0.2h0m1.3 5.6h0m0.5-0.8h0m2.6 2.8h0m0.2-12.1h0m0.5 7.4h0m0.2-0.7h0m1.5 6.7h0m1.3-1.9h0m0.2-3.1h0m0.6 3.9h0m1.2-3.9h0m0.5 12.4h0m0.8-1.8h0m0.2-0.2h0m0.6-5.2h0m0.2 3.8h0m0.8 1.2h0m0.3 0.7h0m0.1-4.6h0m0.3 9.2h0m0.2-8.8h0m1.8 2.3h0m0.4 6.5h0m2.2-0.8h0m1.2-2.1h0m0.3 5.1h0m0.2-7.1h0m0.6 3.3h0m1.5 0.8h0m0.2 2.7h0m1.5-1.4h0m0.4-3.6h0m0.4 1.8h0m0.6 3.2h0m0.3 2.3h0m0.1 12.9h0m2.6-15.5h0m4.3 8.3h0m0.5 0.3h0m0.8 12.4h0m0.9 6.1h0m1.1-8.7h0m0.5-6.7h0m0.6 2.3h0m1.5 1.1h0m0.3 4.5h0m0.4 0.9h0m1.1 9.8h0m0.7-15.6h0m0.5 2.8h0m0.4 13.9h0m1.4-8.6h0m0.2 4.3h0m0.3-6.6h0m1.5 2.7h0m0.5 8.2h0m0.3 0.0h0m0.5-3.7h0m0.2 6.6h0m0.8-5.6h0m0.5 3.9h0m0.2-1.7h0m1.0-3.8h0m0.6 7.8h0m0.5-4.6h0m0.3-8.0h0m0.2 15.1h0m0.3-11.3h0m0.2 8.2h0m1.3 3.1h0m0.8 6.2h0m0.7-6.2h0m1.2-10.3h0m0.8 10.3h0m0.5 0.0h0m3.6 2.7h0m0.2-4.6h0m1.0 14.4h0m0.5-12.5h0m0.2 15.1h0m0.4-15.7h0m0.7-3.7h0m1.8 3.7h0m0.4 6.8h0m2.4 21.2h0m0.7-14.9h0m0.8 2.6h0m0.2 11.2h0m0.7-20.1h0m1.0 22.4h0m1.4-4.6h0m0.5-2.1h0m0.2 17.7h0m0.8-27.1h0m0.5 5.4h0m0.7-5.4h0m1.1 3.5h0m0.7 10.3h0m0.8-13.8h0m0.2-3.3h0m0.2 19.4h0m0.6-9.7h0m1.0 11.0h0m0.3-16.5h0m1.3 4.5h0m0.2-10.2h0m0.3 7.4h0m0.2 6.8h0m0.3 4.4h0m0.8 0.0h0m0.3-12.1h0m0.1 5.6h0m0.6 8.8h0m0.2 8.0h0m1.2-15.8h0m2.0 2.1h0m0.3 23.3h0m0.6-22.2h0m0.8 7.1h0m0.4 1.3h0m0.6-14.5h0m0.5 20.1h0m1.0-10.6h0m0.5 5.0h0m0.2 1.4h0m1.0-10.9h0m1.1 8.2h0m2.0-6.0h0m0.4 2.3h0m0.4 7.7h0m0.7 13.0h0m0.7-11.5h0m0.3-6.7h0m0.2 6.7h0m0.6 7.9h0m1.4-4.9h0m2.4-7.2h0m0.5 23.8h0m0.2-15.1h0m0.5-13.7h0m0.5 0.0h0m0.5 20.7h0m1.5 5.9h0m1.9-14.4h0m0.1 8.5h0m0.8 5.9h0m0.6-17.4h0m0.5 11.5h0m0.4 1.9h0m1.1 0.0h0m0.5 0.0h0m0.2 0.0h0m0.9-7.2h0m0.7 0.0h0m2.3 3.4h0m1.0-3.4h0m0.2 20.7h0m0.5-2.5h0m0.3-2.5h0m3.3-12.3h0m0.5 10.0h0m1.2 13.0h0m0.3-10.7h0m0.6-2.3h0m0.9-6.2h0m2.3 0.0h0m0.2 0.0h0m1.3 0.0h0m0.5 11.0h0m1.0-9.0h0m0.8 9.0h0m0.3-11.0h0m0.2 11.0h0m0.6-14.8h0m0.1 17.3h0m0.8-17.3h0m0.6 33.0h0m0.2-25.2h0m1.5-4.0h0m1.3 4.0h0m0.7 18.2h0m0.5-8.7h0m2.6-5.0h0m0.3-2.3h0m0.2-6.2h0m0.2 8.5h0m1.1 10.7h0m1.6-5.7h0m1.2 0.0h0m0.9-20.7h0m0.8-1.7h0m1.3 31.1h0m0.5-3.0h0m1.6 3.0h0m0.5-20.2h0m2.2 23.6h0m0.5-3.4h0m1.1 3.4h0m0.2-3.4h0m1.3-5.9h0m1.0-5.3h0m0.8-2.5h0m0.4 10.7h0m0.3-2.9h0m1.0 2.9h0m2.3 0.0h0m0.3-13.0h0m1.5 4.8h0m0.3 18.2h0m0.7-12.9h0m1.0-12.3h0m5.6 18.2h0m0.2-8.7h0m0.2 8.7h0m1.6 3.4h0m0.2-9.3h0m0.6 5.9h0m0.2 3.4h0m0.3-14.6h0m2.5 14.6h0m0.3-6.4h0m0.2-5.7h0m0.2 2.8h0m2.9 12.9h0m1.8-3.6h0m1.8-9.3h0m1.4-7.8h0m0.2 5.0h0m2.1 2.8h0m0.5 2.9h0m0.3 0.0h0m1.3 6.4h0m3.8 3.6h0m0.7-12.9h0m2.1-10.1h0m1.3 19.4h0m0.2-9.3h0m2.1-2.8h0m0.4 8.7h0m0.5 3.4h0m2.1-14.6h0m2.8 11.2h0m0.3-11.2h0m1.1 18.2h0m0.6 0.0h0m0.7-18.2h0m1.3 14.6h0m3.8-6.4h0m0.6 3.0h0m1.7 7.0h0m1.5 0.0h0m1.3-7.0h0m1.3 0.0h0m0.7 7.0h0m0.7-23.0h0m0.6 19.4h0m0.7 3.6h0m0.6-20.7h0m0.5 20.7h0m7.1-3.6h0m1.3-3.4h0m3.5-3.0h0m0.5 0.0h0m1.1 6.4h0m2.6 3.6h0m0.3-3.6h0m1.1-12.1h0m1.2 5.7h0m1.8-2.9h0m0.3 5.9h0m0.9 3.4h0m0.3 3.6h0m0.3-10.0h0" stroke="#b444b4" stroke-width="3.3" stroke-linecap="round" fill="none"/>
<path d="M1416.5 151.8h0m0.1 4.5h0m0.5-4.4h0m0.6 2.1h0m0.2 1.9h0m0.3 3.4h0m1.3-4.8h0m0.5 3.9h0m1.3 0.0h0m0.5 7.0h0m0.2-4.1h0m0.7-0.7h0m0.6 0.9h0m0.7 5.5h0m0.5-5.7h0m0.5 1.4h0m0.3 2.2h0m1.2-0.7h0m0.3 3.8h0m0.7-0.8h0m0.9-2.7h0m0.8 10.6h0m1.9-6.5h0m2.1 7.6h0m0.8-5.5h0m0.3-0.5h0m0.4 7.6h0m0.3 5.9h0m0.2-4.4h0m0.6-1.9h0m0.2 2.0h0m0.2-5.3h0m0.2 4.2h0m0.6 2.5h0m0.5-3.9h0m3.8 8.7h0m0.2-4.8h0m0.8 5.4h0m0.8 5.8h0m3.5-2.7h0m1.3 1.4h0m1.2 1.3h0m0.2 0.2h0m0.4-5.0h0m0.4 13.2h0m0.8-13.6h0m0.3 5.9h0m0.5 1.6h0m1.3 3.1h0m0.7-0.8h0m1.5-7.0h0m0.3 10.6h0m0.3 3.1h0m0.2-2.7h0m0.3-5.2h0m0.2 8.5h0m0.7 6.6h0m0.9-3.3h0m0.9-7.0h0m0.4 6.1h0m2.0 2.5h0m1.7 0.7h0m0.2-5.8h0m0.6 3.0h0m0.3 0.3h0m0.2 7.9h0m0.7-4.6h0m0.9-0.5h0m0.1 3.8h0m0.5-4.3h0m0.6-0.2h0m0.9 7.8h0m1.7 1.1h0m0.5-8.7h0m0.4 5.4h0m0.8 5.4h0m0.8-7.8h0m0.8 10.6h0m0.2 2.4h0m1.2 0.3h0m1.3-4.3h0m0.2 3.6h0m0.2 2.8h0m0.3-7.9h0m0.5 1.5h0m1.6-3.6h0m1.1 6.2h0m0.6 1.0h0m0.8-4.5h0m0.2 10.3h0m0.3-7.8h0m2.8 6.3h0m2.2 0.8h0m1.5 6.1h0m0.4-6.5h0m0.8 19.0h0m1.5-11.2h0m0.4 3.3h0m0.8 0.4h0m0.8-1.9h0m0.7-8.5h0m2.1 3.7h0m0.5 6.3h0m1.8 1.4h0m0.5 1.0h0m0.7 4.3h0m2.9 10.7h0m0.4-0.7h0m0.2 0.0h0m0.9-10.0h0m1.1 6.0h0m0.4-10.8h0m1.2 10.8h0m1.8-2.5h0m1.0 4.5h0m0.3 4.2h0m0.2-2.9h0m0.5-3.9h0m3.3-1.3h0m0.5 6.6h0m1.6-2.0h0m0.2 7.3h0m0.6-9.3h0m0.9 11.0h0m0.8 1.7h0m0.2 5.5h0m0.2-17.6h0m0.9 8.7h0m1.8 2.5h0m1.0 7.3h0m0.2 5.3h0m1.0-8.2h0m1.1 8.2h0m0.6-7.2h0m0.4-5.4h0m0.4 5.4h0m2.1 2.9h0m0.8 0.0h0m0.5-1.9h0m0.9 0.9h0m0.4 4.2h0m0.6-1.1h0m1.4-4.0h0m0.2 14.9h0m0.8-5.2h0m0.2 2.5h0m0.5-9.2h0m0.3-4.0h0m0.3 15.9h0m0.1 4.2h0m0.5-8.1h0m0.6 6.7h0m0.2-4.2h0m0.6-12.6h0m0.2 19.8h0m0.7-8.5h0m0.8 0.0h0m1.1 18.9h0m0.7-24.9h0m0.3 16.0h0m2.3-1.5h0m0.2-15.6h0m0.5 0.0h0m1.0 7.1h0m4.4 13.4h0m0.2-12.1h0m0.5-6.1h0m0.5 21.8h0m1.2-8.5h0m0.2-18.8h0m0.3 27.3h0m0.8-7.0h0m0.2-7.3h0m0.6 4.2h0m1.0 4.8h0m0.7-15.4h0m1.1 12.2h0m0.2-4.5h0m0.5 16.9h0m0.4-5.8h0m0.2-8.2h0m1.0-1.4h0m3.0-5.5h0m0.8 20.9h0m0.3 0.0h0m0.2-3.9h0m0.4-3.6h0m0.6 14.0h0m0.8-4.5h0m0.2-9.5h0m1.1-1.7h0m0.1-6.2h0m1.3-8.0h0m0.3 12.5h0m0.7 1.7h0m0.3 3.4h0m0.3-1.7h0m1.4-4.9h0m0.8 14.4h0m0.8 18.2h0m3.8-20.2h0m0.5 2.0h0m0.7-2.0h0m0.5 4.2h0m0.3-6.2h0m1.0 13.5h0m0.3 5.7h0m0.2-2.9h0m0.6-2.8h0m0.2-5.0h0m0.3 2.5h0m0.7-2.5h0m0.5 7.8h0m0.5-2.8h0m0.3-2.5h0m0.7 8.2h0m0.3-28.1h0m0.5 25.2h0m0.2-23.5h0m0.4 18.2h0m1.0-4.8h0m0.2 4.8h0m1.6 18.2h0m1.7-23.0h0m0.8-4.2h0m0.1-3.9h0m0.7 27.5h0m0.1-6.4h0m0.9-8.2h0m0.1-11.0h0m0.8 16.3h0m1.5-2.8h0m0.6-20.7h0m0.9 11.2h0m0.8 18.2h0m0.6-24.1h0m0.2 10.4h0m0.5 0.0h0m0.5-15.7h0m2.0 15.7h0m0.6 17.1h0m1.2-3.4h0m1.2-16.0h0m1.1 0.0h0m0.6 4.8h0m1.8-11.0h0m1.6 29.2h0m1.7-12.9h0m1.2 5.9h0m0.5-11.2h0m0.5 11.2h0m0.3-8.7h0m0.5-7.3h0m0.2 19.4h0m0.3-9.3h0m0.2 9.3h0m2.6 0.0h0m2.5-12.1h0m1.5-5.0h0m1.0 10.7h0m0.8 3.0h0m0.2-13.7h0m0.6 13.7h0m0.4-13.7h0m1.0 17.1h0m0.3-3.4h0m0.7-5.9h0m0.6 9.3h0m2.2-12.1h0m0.6-2.5h0m1.0-2.5h0m1.2 7.8h0m0.5 12.9h0m5.6-3.6h0m0.7 0.0h0m2.1-14.6h0m5.1 14.6h0m0.2-6.4h0m4.6 6.4h0m0.7-3.4h0m2.1-5.9h0m0.4 5.9h0m2.8 3.4h0m1.6-3.4h0m3.6-11.2h0m3.5 11.2h0m0.3-16.0h0m1.0 7.3h0m1.5 5.7h0m2.5 6.4h0m0.5-12.1h0m0.6 2.8h0m1.2-2.8h0m1.3 2.8h0m3.3 12.9h0m0.7-12.9h0m0.5 12.9h0m1.1-12.9h0m1.3 9.3h0m0.3-3.4h0" stroke="#66ccd4" stroke-width="3.3" stroke-linecap="round" fill="none"/>
<path d="M1416.4 158.6h0m0.8 4.8h0m0.5-0.2h0m0.3-0.8h0m0.4-1.2h0m1.8 6.0h0m0.3-1.3h0m0.2-0.9h0m0.8 4.7h0m0.5-2.2h0m1.5 2.3h0m0.3 0.5h0m0.2 0.4h0m0.5 2.8h0m0.4-3.4h0m1.2 2.6h0m1.5 1.6h0m0.8 2.4h0m1.0-2.4h0m0.2 3.1h0m0.3-2.1h0m1.0 8.4h0m0.2-6.8h0m2.5 0.3h0m0.3 8.8h0m0.6-0.4h0m0.5-3.1h0m0.8-2.5h0m0.5 5.1h0m0.9 0.9h0m3.5 3.0h0m0.9 4.5h0m0.7-2.0h0m0.5-4.6h0m0.8 5.3h0m2.1 1.8h0m0.1 1.6h0m1.5-2.9h0m1.2 4.3h0m0.5 1.7h0m0.2 3.1h0m0.7-3.5h0m1.8 5.6h0m0.6-3.1h0m0.4-1.6h0m0.5 5.1h0m1.1-3.1h0m1.5 4.4h0m0.2 1.4h0m2.0 2.3h0m0.6 0.7h0m0.6-3.9h0m0.3 2.5h0m0.6-0.7h0m0.1 3.4h0m0.4 1.2h0m0.5-5.3h0m0.3 4.3h0m0.9 0.3h0m0.5 10.5h0m0.3-5.1h0m3.5-3.4h0m0.3 8.5h0m0.3-2.5h0m0.4-0.6h0m0.9 0.6h0m0.6 5.1h0m1.4-1.6h0m0.3 3.0h0m0.4-4.0h0m0.7-1.9h0m0.4 9.6h0m0.5-1.9h0m0.2 2.3h0m0.6 1.9h0m0.6-12.2h0m0.3 9.9h0m0.3-4.7h0m0.2 3.2h0m0.6-1.1h0m0.2-1.1h0m0.8-2.0h0m0.3 4.5h0m0.7-4.5h0m0.2 4.2h0m1.8 2.2h0m0.3 4.1h0m0.4-1.7h0m0.3 1.7h0m1.3 3.5h0m1.5 2.8h0m0.7-11.1h0m1.0 5.6h0m0.6 15.3h0m0.7-6.7h0m1.8 1.6h0m1.8-3.2h0m1.6 1.1h0m1.2 5.4h0m1.0-10.8h0m1.6 22.8h0m0.2-5.7h0m1.2-9.1h0m1.0 5.2h0m0.5 5.9h0m0.8-7.7h0m0.3 17.9h0m0.2-14.8h0m0.5 2.6h0m1.3-3.9h0m0.3 0.6h0m0.2 4.6h0m0.5 0.0h0m0.2 9.2h0m0.6-20.7h0m1.3 14.4h0m0.2 8.0h0m0.3-1.7h0m0.2-11.2h0m0.3 7.1h0m1.0-1.5h0m0.5-6.9h0m0.2 0.7h0m1.2 13.5h0m0.3-8.7h0m0.6 3.7h0m0.3 5.0h0m0.1-4.2h0m0.9 3.4h0m0.2-1.7h0m0.2 8.1h0m0.3-3.8h0m1.0-5.2h0m0.2-4.6h0m0.5 10.7h0m0.4-0.9h0m1.5-12.0h0m0.4 12.9h0m0.3 7.1h0m0.7-3.2h0m0.5 22.0h0m0.9-25.9h0m0.2 5.0h0m0.5-8.5h0m1.0-0.9h0m1.0 1.7h0m0.3-1.7h0m0.2 16.1h0m0.3-13.5h0m1.2 3.8h0m1.3 0.0h0m0.5 16.2h0m0.2-1.3h0m1.4-9.8h0m0.3 9.8h0m0.1-9.8h0m1.1 1.1h0m0.5 1.2h0m1.2-7.4h0m2.1-2.9h0m0.2 12.6h0m0.2 9.4h0m0.8-8.1h0m0.3-2.5h0m0.3 9.2h0m0.7-11.5h0m0.5 1.2h0m1.8-1.2h0m0.2 14.5h0m0.3-11.0h0m1.5 9.4h0m0.3 8.2h0m1.8-12.4h0m0.2 7.3h0m0.3-10.0h0m0.9 4.0h0m0.9 21.1h0m1.5-6.2h0m0.9-14.9h0m0.3 18.9h0m0.8-7.8h0m0.4-3.4h0m1.6 7.2h0m1.0-3.8h0m0.7 5.8h0m0.3-12.4h0m0.3 3.2h0m1.3 15.7h0m1.0-20.5h0m1.5 4.8h0m1.3-4.8h0m0.3 1.6h0m0.7 1.5h0m1.0 5.1h0m1.0 0.0h0m0.5-1.7h0m0.2 1.7h0m0.5-5.1h0m0.9 15.1h0m0.4-25.1h0m0.5 17.0h0m0.3 0.0h0m1.3-3.6h0m0.3 14.0h0m0.5-4.5h0m0.7 12.3h0m0.2-10.1h0m0.6-10.0h0m1.3 3.8h0m1.0 16.3h0m0.2-18.2h0m0.4-8.5h0m1.7 16.6h0m1.0-4.2h0m3.2 4.2h0m0.8 10.1h0m0.3 12.9h0m1.9-20.7h0m0.3 7.8h0m0.3-10.1h0m0.3 10.1h0m0.1 2.9h0m0.5-8.2h0m0.6 14.6h0m0.2-9.3h0m1.4 2.9h0m0.7-8.2h0m0.5 8.2h0m0.5-2.9h0m0.7-10.1h0m0.3 10.1h0m1.5-18.2h0m0.6 8.1h0m1.7 4.8h0m1.1 5.3h0m0.2-14.3h0m0.5 17.2h0m0.5-8.2h0m0.8-2.5h0m1.0-2.3h0m1.2 10.1h0m1.0 9.3h0m1.1 3.6h0m0.7-7.0h0m0.8-11.2h0m0.8-2.5h0m0.4 7.8h0m2.1 12.9h0m0.5-15.7h0m0.7 2.8h0m0.5-10.1h0m0.6 19.4h0m0.5 0.0h0m1.0-6.4h0m0.3-5.7h0m0.2-5.0h0m0.5 13.7h0m0.3-20.2h0m2.8 20.2h0m0.5 3.4h0m0.7-19.4h0m0.5 16.0h0m2.4 7.0h0m1.6-15.7h0m0.5-2.5h0m0.4 5.3h0m0.7 12.9h0m0.5-3.6h0m2.1-19.4h0m0.5-18.2h0m2.2 28.3h0m2.3 12.9h0m0.3 0.0h0m0.2-7.0h0m0.3-18.2h0m0.5 25.2h0m2.6-18.2h0m1.2 5.3h0m1.0 2.9h0m0.3-13.0h0m3.8 13.0h0m2.3-8.2h0m1.0 8.2h0m3.5 3.0h0m2.3-5.9h0m2.2 12.9h0m0.5 0.0h0m1.8-7.0h0m0.5 0.0h0m2.8-8.7h0m0.3 8.7h0m3.4-5.9h0m0.7 5.9h0m0.2 0.0h0m3.8-8.7h0m1.8 12.1h0m4.3-6.4h0m0.8 0.0h0m1.2-10.7h0m0.8 5.0h0m7.6 12.1h0m1.5-9.3h0m1.0 12.9h0m0.8 0.0h0m0.6-3.6h0m0.9 0.0h0m1.3-6.4h0m1.0-5.7h0m0.7 12.1h0" stroke="#3a3a3a" stroke-width="1.9" stroke-linecap="round" fill="none"/>
<path d="M1416.7 163.7h0m0.5-3.0h0m0.5 1.2h0m0.5 0.1h0m0.3 4.9h0m1.0 0.2h0m0.3-1.8h0m0.2 3.8h0m0.2-5.6h0m1.0 2.8h0m0.8 0.8h0m1.1 0.3h0m0.7 0.9h0m0.6 1.7h0m0.2 0.7h0m1.0 2.7h0m0.3-1.8h0m0.7 5.1h0m1.2-4.6h0m2.9 1.0h0m0.4 6.2h0m1.4 3.3h0m0.4-2.3h0m0.8 0.9h0m0.3 1.7h0m0.1-3.1h0m0.7 5.0h0m0.7-1.0h0m3.2 4.0h0m1.1 0.7h0m1.0 0.8h0m0.2 0.8h0m0.4 2.1h0m0.1-2.0h0m0.3 4.7h0m0.2-5.1h0m0.9-1.3h0m0.5 5.3h0m2.0-0.3h0m1.0 4.4h0m0.7 2.5h0m1.1-5.4h0m0.7 1.8h0m0.3 1.7h0m1.0 4.3h0m0.5-3.2h0m0.2 1.8h0m0.5 4.9h0m2.6-2.6h0m0.5 6.8h0m0.2-6.2h0m0.3 2.9h0m1.2 0.2h0m0.8-2.9h0m0.3-2.3h0m0.8 1.1h0m0.2 5.3h0m1.3 0.2h0m0.2 0.0h0m1.1 5.3h0m1.4 0.8h0m0.3 4.3h0m0.2-6.9h0m1.3 0.8h0m2.0 2.4h0m0.4 0.5h0m1.0 3.8h0m0.5 2.2h0m0.2-6.3h0m0.5 9.6h0m1.1 0.7h0m0.4-4.3h0m0.3 6.8h0m0.1-10.2h0m3.4 9.4h0m0.5 0.0h0m1.5 6.2h0m3.5 0.9h0m1.3-5.2h0m1.1-1.5h0m0.5-0.7h0m1.0 5.7h0m0.7 13.2h0m0.8-11.5h0m1.3 4.4h0m0.8 1.5h0m0.4-1.9h0m0.8 4.9h0m0.3-7.2h0m0.8 10.4h0m0.4 6.5h0m0.3-8.2h0m1.6 3.9h0m0.2-4.9h0m0.4 6.1h0m0.5-6.1h0m0.9 3.2h0m1.2 0.6h0m0.8-2.8h0m0.2 8.2h0m1.8-1.3h0m1.0 4.6h0m1.6 0.7h0m1.2 4.4h0m0.8-9.7h0m0.2 16.4h0m0.8-14.4h0m0.2 5.5h0m0.3 14.6h0m0.5-16.8h0m0.8 1.5h0m0.2-1.5h0m0.7 11.1h0m0.3 0.9h0m0.2-10.5h0m0.4 7.0h0m0.1-6.3h0m0.5-2.2h0m0.6 2.2h0m0.2 5.5h0m0.3-4.0h0m0.6 5.7h0m0.6-0.9h0m0.4-3.3h0m0.4-0.8h0m1.0 4.1h0m0.6 2.6h0m0.5-13.8h0m0.2 4.2h0m1.5 18.5h0m0.3-13.2h0m3.3-5.3h0m1.3 28.3h0m1.2 12.4h0m2.1-27.3h0m0.7 3.0h0m0.7 11.9h0m0.3-9.8h0m1.3 3.4h0m0.4-10.5h0m0.5 11.7h0m0.7-3.5h0m0.7-2.2h0m0.5 9.5h0m0.2-5.0h0m0.6 6.4h0m0.4-6.4h0m0.8 9.2h0m0.5-4.2h0m0.5 13.8h0m0.6-21.1h0m1.2 8.7h0m0.5 9.0h0m0.3-16.5h0m0.4 8.8h0m2.3-5.2h0m1.1 2.5h0m0.4-7.3h0m0.8 8.7h0m0.5 1.3h0m0.3 4.5h0m0.6 10.4h0m0.1-3.8h0m1.8-8.2h0m1.8-10.6h0m0.2 9.2h0m2.1 9.6h0m0.4-6.6h0m1.2 0.0h0m0.5 26.7h0m0.2-32.5h0m0.2 16.2h0m1.6-12.0h0m0.9 8.2h0m0.3 0.0h0m0.6-5.1h0m0.2-4.5h0m0.7 1.4h0m0.6 14.0h0m0.4-24.6h0m0.8 28.8h0m0.8 4.8h0m0.7-11.0h0m1.0 4.0h0m0.6-18.9h0m0.1 11.1h0m0.8 10.0h0m0.9 10.1h0m0.5-7.8h0m0.2-2.3h0m1.0 4.8h0m0.5-12.9h0m1.6-11.5h0m0.2 17.4h0m0.4 7.0h0m0.3-12.9h0m0.3 10.4h0m1.1-8.5h0m0.2 0.0h0m1.0-5.5h0m0.2 16.5h0m0.6-16.5h0m1.3 21.8h0m0.4-20.1h0m1.5 7.8h0m0.5 0.0h0m0.6 0.0h0m1.0 9.5h0m0.4 2.8h0m1.1-21.8h0m0.8 7.5h0m0.2 9.0h0m0.8-7.0h0m0.2 21.6h0m1.0-9.3h0m0.4-7.8h0m0.4 5.0h0m0.5-13.5h0m3.8 19.2h0m0.3 0.0h0m0.2-10.7h0m0.2-2.3h0m1.8 19.4h0m0.3-27.5h0m0.7 24.1h0m0.3-8.7h0m1.3 0.0h0m1.0-7.3h0m0.7 16.0h0m1.1-16.0h0m0.7 4.8h0m0.5-2.5h0m1.0 20.7h0m0.5 0.0h0m0.3-23.0h0m1.0 2.3h0m0.3 20.7h0m0.3-12.9h0m1.8 12.9h0m0.4-12.9h0m0.3-14.3h0m0.2 17.2h0m1.1 10.0h0m0.5-20.7h0m0.3 13.7h0m2.1-3.0h0m0.6 6.4h0m2.7-19.4h0m1.1-2.2h0m1.3 12.3h0m0.4 12.9h0m1.3-12.9h0m2.3-2.8h0m0.3 12.1h0m0.7-3.4h0m1.8-8.7h0m0.5 5.7h0m0.2 6.4h0m0.4-6.4h0m1.0-2.9h0m1.4 12.9h0m0.3-7.0h0m0.2-11.2h0m1.8-2.5h0m0.2 7.8h0m2.2-18.2h0m0.7 24.1h0m2.0 3.4h0m0.5-9.3h0m0.8-16.3h0m1.3 19.2h0m1.7 3.0h0m2.0-3.0h0m1.1 3.0h0m3.6-3.0h0m0.2-2.9h0m0.5 2.9h0m1.7-2.9h0m1.3 9.3h0m1.1-3.4h0m0.5 0.0h0m1.5-3.0h0m2.0-13.0h0m0.7 16.0h0m1.3 3.4h0m0.2-9.3h0m7.0 5.9h0m0.2 3.4h0m0.3 3.6h0m0.1 0.0h0m0.3-12.9h0m0.2 12.9h0m0.9-23.0h0m0.9 19.4h0m1.0 0.0h0m0.5-6.4h0m0.3 10.0h0m1.0-3.6h0m1.3 3.6h0m1.3-15.7h0m0.5 12.1h0m0.3-6.4h0m1.4-5.7h0m2.8 15.7h0m3.1-12.9h0m0.5 5.9h0m1.1 3.4h0m0.5 3.6h0m1.0-7.0h0m2.7 7.0h0m0.3-7.0h0m0.3 3.4h0m2.4-3.4h0m2.4 0.0h0m0.2 0.0h0" stroke="#3636a8" stroke-width="1.9" stroke-linecap="round" fill="none"/>
<rect x="1302.0" y="25.7" width="380.8" height="307.8" fill="none" stroke="#000" stroke-width="1.6"/>
<path d="M1302,333.5v6.5 M1349.5,333.5v4 M1397.1,333.5v6.5 M1444.7,333.5v4 M1492.2,333.5v6.5 M1539.8,333.5v4 M1587.3,333.5v6.5 M1634.8,333.5v4 M1682.4,333.5v6.5 M1302.0,309.6h-3.5 M1302.0,291.4h-3.5 M1302.0,278.5h-3.5 M1302.0,268.5h-3.5 M1302.0,260.3h-3.5 M1302.0,253.4h-3.5 M1302.0,247.4h-3.5 M1302.0,242.1h-3.5 M1302.0,237.4h-6 M1302.0,206.3h-3.5 M1302.0,188.1h-3.5 M1302.0,175.2h-3.5 M1302.0,165.2h-3.5 M1302.0,157h-3.5 M1302.0,150.1h-3.5 M1302.0,144.1h-3.5 M1302.0,138.8h-3.5 M1302.0,134h-6 M1302.0,102.9h-3.5 M1302.0,84.7h-3.5 M1302.0,71.8h-3.5 M1302.0,61.8h-3.5 M1302.0,53.6h-3.5 M1302.0,46.7h-3.5 M1302.0,40.7h-3.5 M1302.0,35.4h-3.5 M1302.0,30.7h-6" stroke="#000" stroke-width="1.3"/>
<text x="1302" y="358.5" font-size="17.5" font-family="'Liberation Serif', 'Times New Roman', serif" text-anchor="middle">0</text>
<text x="1397.1" y="358.5" font-size="17.5" font-family="'Liberation Serif', 'Times New Roman', serif" text-anchor="middle">10</text>
<text x="1492.2" y="358.5" font-size="17.5" font-family="'Liberation Serif', 'Times New Roman', serif" text-anchor="middle">20</text>
<text x="1587.3" y="358.5" font-size="17.5" font-family="'Liberation Serif', 'Times New Roman', serif" text-anchor="middle">30</text>
<text x="1682.4" y="358.5" font-size="17.5" font-family="'Liberation Serif', 'Times New Roman', serif" text-anchor="middle">40</text>
<text x="1292.2" y="36.5" font-size="17.5" font-family="'Liberation Serif', 'Times New Roman', serif" text-anchor="end" textLength="43.6" lengthAdjust="spacingAndGlyphs">10000</text>
<text x="1292.2" y="141" font-size="17.5" font-family="'Liberation Serif', 'Times New Roman', serif" text-anchor="end" textLength="35.6" lengthAdjust="spacingAndGlyphs">1000</text>
<text x="1292.2" y="244.5" font-size="17.5" font-family="'Liberation Serif', 'Times New Roman', serif" text-anchor="end" textLength="26.7" lengthAdjust="spacingAndGlyphs">100</text>
<text x="1446.8" y="386" font-size="19" font-family="'Liberation Serif', 'Times New Roman', serif" textLength="119.4" lengthAdjust="spacingAndGlyphs">Decay time / ms</text>
<text transform="translate(1236.2,170.8) rotate(-90)" font-size="19" font-family="'Liberation Serif', 'Times New Roman', serif" text-anchor="middle" textLength="137.8" lengthAdjust="spacingAndGlyphs">Intensity (a.u.)</text>
<circle cx="1322.6" cy="212.6" r="1.6" fill="none" stroke="#3a3a3a" stroke-width="1.1"/>
<text x="1334.6" y="217.6" font-size="17.5" font-family="'Liberation Serif', 'Times New Roman', serif" textLength="49.5" lengthAdjust="spacingAndGlyphs"><tspan font-style="italic">x</tspan>=0.01</text>
<circle cx="1322.6" cy="228.6" r="1.6" fill="none" stroke="#c85050" stroke-width="1.1"/>
<text x="1334.6" y="233.6" font-size="17.5" font-family="'Liberation Serif', 'Times New Roman', serif" textLength="49.5" lengthAdjust="spacingAndGlyphs"><tspan font-style="italic">x</tspan>=0.03</text>
<circle cx="1322.6" cy="244.6" r="1.6" fill="none" stroke="#3cb43c" stroke-width="1.1"/>
<text x="1334.6" y="249.6" font-size="17.5" font-family="'Liberation Serif', 'Times New Roman', serif" textLength="49.5" lengthAdjust="spacingAndGlyphs"><tspan font-style="italic">x</tspan>=0.05</text>
<circle cx="1322.6" cy="260.6" r="1.6" fill="none" stroke="#3636a8" stroke-width="1.1"/>
<text x="1334.6" y="265.6" font-size="17.5" font-family="'Liberation Serif', 'Times New Roman', serif" textLength="49.5" lengthAdjust="spacingAndGlyphs"><tspan font-style="italic">x</tspan>=0.07</text>
<circle cx="1322.6" cy="276.8" r="1.6" fill="none" stroke="#66ccd4" stroke-width="1.1"/>
<text x="1334.6" y="281.8" font-size="17.5" font-family="'Liberation Serif', 'Times New Roman', serif" textLength="49.5" lengthAdjust="spacingAndGlyphs"><tspan font-style="italic">x</tspan>=0.10</text>
<circle cx="1322.6" cy="292.6" r="1.6" fill="none" stroke="#b444b4" stroke-width="1.1"/>
<text x="1334.6" y="297.6" font-size="17.5" font-family="'Liberation Serif', 'Times New Roman', serif" textLength="49.5" lengthAdjust="spacingAndGlyphs"><tspan font-style="italic">x</tspan>=0.15</text>
<rect x="1480.3" y="25.7" width="202.5" height="169.8" fill="#fff" stroke="#000" stroke-width="1.4"/>
<path d="M1480.3,182.1h-3 M1480.3,169h-5 M1480.3,155.9h-3 M1480.3,142.8h-5 M1480.3,129.7h-3 M1480.3,116.6h-5 M1480.3,103.5h-3 M1480.3,90.4h-5 M1480.3,77.3h-3 M1480.3,64.2h-5 M1480.3,51.1h-3 M1480.3,38h-5 M1480.7,195.5v5 M1512.2,195.5v3 M1543.6,195.5v5 M1575,195.5v3 M1606.5,195.5v5 M1638,195.5v3 M1669.4,195.5v5" stroke="#000" stroke-width="1.1"/>
<text x="1474" y="43" font-size="14.5" font-family="'Liberation Serif', 'Times New Roman', serif" text-anchor="end">5.5</text>
<text x="1474" y="69.2" font-size="14.5" font-family="'Liberation Serif', 'Times New Roman', serif" text-anchor="end">5.0</text>
<text x="1474" y="95.4" font-size="14.5" font-family="'Liberation Serif', 'Times New Roman', serif" text-anchor="end">4.5</text>
<text x="1474" y="121.6" font-size="14.5" font-family="'Liberation Serif', 'Times New Roman', serif" text-anchor="end">4.0</text>
<text x="1474" y="147.8" font-size="14.5" font-family="'Liberation Serif', 'Times New Roman', serif" text-anchor="end">3.5</text>
<text x="1474" y="174" font-size="14.5" font-family="'Liberation Serif', 'Times New Roman', serif" text-anchor="end">3.0</text>
<text x="1480.7" y="212.8" font-size="14.5" font-family="'Liberation Serif', 'Times New Roman', serif" text-anchor="middle">0.00</text>
<text x="1543.6" y="212.8" font-size="14.5" font-family="'Liberation Serif', 'Times New Roman', serif" text-anchor="middle">0.05</text>
<text x="1606.5" y="212.8" font-size="14.5" font-family="'Liberation Serif', 'Times New Roman', serif" text-anchor="middle">0.10</text>
<text x="1669.4" y="212.8" font-size="14.5" font-family="'Liberation Serif', 'Times New Roman', serif" text-anchor="middle">0.15</text>
<text x="1540" y="233.3" font-size="14" font-family="'Liberation Serif', 'Times New Roman', serif" textLength="104.4" lengthAdjust="spacingAndGlyphs"><tspan>Sm</tspan><tspan dy="-5.3" font-size="9.1">2+</tspan><tspan dy="5.3"> concentration</tspan></text>
<text transform="translate(1442,107.3) rotate(-90)" font-size="13.5" font-family="'Liberation Serif', 'Times New Roman', serif" text-anchor="middle" textLength="88.4" lengthAdjust="spacingAndGlyphs">Decay time / ms</text>
<path d="M1491.4,117.9 1518.4,124.6 1543.6,127.2 1568.8,128.1 1606.5,121.1 1669.4,111.1" fill="none" stroke="#000" stroke-width="1.4"/>
<rect x="1488.8" y="115.3" width="5.2" height="5.2" fill="#000"/>
<rect x="1515.8" y="122" width="5.2" height="5.2" fill="#000"/>
<rect x="1541" y="124.6" width="5.2" height="5.2" fill="#000"/>
<rect x="1566.2" y="125.5" width="5.2" height="5.2" fill="#000"/>
<rect x="1603.9" y="118.5" width="5.2" height="5.2" fill="#000"/>
<rect x="1666.8" y="108.5" width="5.2" height="5.2" fill="#000"/>
<path d="M1578.6,47.7H1610.8" stroke="#000" stroke-width="1.4"/><rect x="1592.1" y="45.1" width="5.2" height="5.2" fill="#000"/>
<text x="1614" y="51.3" font-size="12.5" font-family="'Liberation Serif', 'Times New Roman', serif" textLength="52" lengthAdjust="spacingAndGlyphs"><tspan dy="-5.2" font-size="7.8">5</tspan><tspan dy="5.2">D</tspan><tspan dy="3.5" font-size="7.8">0</tspan><tspan dy="-3.5">→</tspan><tspan dy="-5.2" font-size="7.8">7</tspan><tspan dy="5.2">F</tspan><tspan dy="3.5" font-size="7.8">0</tspan></text>
<text x="1202.5" y="39.9" font-size="33" font-family="'Liberation Serif', 'Times New Roman', serif" font-weight="bold" textLength="35.1" lengthAdjust="spacingAndGlyphs">(c)</text>
<defs>
<clipPath id="cieclip"><polygon points="860,776.3 858.4,774.4 856.1,771.7 853.6,768.6 851.4,765.8 849.5,763.3 847.6,760.8 845.8,758.3 844,755.6 842.3,752.6 840.5,749.3 838.8,746 837.1,742.6 835.5,739.4 833.8,736.2 832.2,732.8 830.6,728.8 828.9,724.1 827.1,719 825.3,713.5 823.6,708.1 822,702.7 820.5,697.1 818.9,691.6 817.5,686.2 816.2,680.9 815,675.6 813.8,670.5 812.6,665.5 811.5,660.8 810.5,656.3 809.4,651.7 808.1,646.4 806.5,640.1 804.6,633.1 802.8,626.1 801.2,619.6 800,613.9 799.1,608.5 798.3,603.5 797.5,598.5 796.7,593.8 796,589.4 795.3,584.9 794.7,579.8 794.1,573.9 793.5,567.4 793.1,560.7 792.6,553.8 792.2,546.8 791.9,539.5 791.6,532.3 791.4,525.4 791.2,518.9 791.1,512.6 791,506.6 791,501 791.1,495.9 791.3,491.3 791.5,486.9 791.8,482.8 792.1,478.9 792.5,475.2 792.9,471.8 793.4,468.6 794,465.6 794.7,462.9 795.4,460.1 796.3,457.2 797.4,453.8 798.5,450.1 799.8,446.5 801.2,443.4 802.6,440.8 804.1,438.7 805.7,436.7 807.3,434.9 809,433 810.7,431.2 812.5,429.7 814.7,428.4 817.2,427.4 820.1,426.7 823.1,426.2 825.7,425.9 827.8,425.9 829.7,426.1 831.5,426.6 833.4,427.1 835.6,427.9 837.9,428.9 840.3,430 842.8,431.2 845.6,432.5 848.5,433.9 851.6,435.4 854.6,436.9 857.7,438.3 860.8,439.8 864,441.4 867.3,443.4 870.7,446 874.3,449 877.9,452.2 881.6,455.2 885.2,457.9 888.9,460.4 892.6,463 896.3,465.7 900,468.6 903.7,471.6 907.4,474.5 911,477.5 913.9,480 916.5,482.2 919.4,484.9 923.6,488.9 929.7,494.9 937.2,502.3 944.8,510 951.3,516.5 956.4,521.5 960.5,525.6 964.3,529.4 968.1,533.1 971.9,536.9 975.5,540.4 979,543.9 982.4,547.3 985.4,550.4 988.2,553.3 991.2,556.4 995,560.3 999.9,565.4 1005.6,571.3 1011.5,577.4 1017,583.1 1021.9,588.1 1026.4,592.8 1031,597.5 1035.8,602.5 1041.2,608.2 1046.9,614.2 1052.6,620.2 1057.8,625.7 1062.3,630.5 1066.4,635 1070.4,639.2 1074.6,643.5 1079.5,648.3 1084.8,653.4 1089.6,657.9 1092.9,661"/></clipPath>
<filter id="cieblur" x="-20%" y="-20%" width="140%" height="140%"><feGaussianBlur stdDeviation="3.5"/></filter>
<filter id="wblur" x="-50%" y="-50%" width="200%" height="200%"><feGaussianBlur stdDeviation="11"/></filter>
</defs>
<path d="M791,404V790 M831.8,404V790 M872.6,404V790 M913.4,404V790 M954.2,404V790 M995,404V790 M1035.8,404V790 M1076.6,404V790 M1117.4,404V790 M770,769H1117.5 M770,728.4H1117.5 M770,687.8H1117.5 M770,647.2H1117.5 M770,606.6H1117.5 M770,566H1117.5 M770,525.4H1117.5 M770,484.8H1117.5 M770,444.2H1117.5 M770,403.6H1117.5" stroke="#7c7c7c" stroke-width="1.3"/>
<path d="M770,404V790.3H1117.5" fill="none" stroke="#6a6a6a" stroke-width="1.5"/>
<defs><linearGradient id="w0" gradientUnits="userSpaceOnUse" x1="922.4" y1="650.4" x2="855.7" y2="771"><stop offset="0.07" stop-color="#fff"/><stop offset="0.32" stop-color="#1348e5"/><stop offset="0.50" stop-color="#1348e5"/><stop offset="1" stop-color="#1634cc"/></linearGradient><linearGradient id="w1" gradientUnits="userSpaceOnUse" x1="922.4" y1="650.4" x2="847.7" y2="760.7"><stop offset="0.08" stop-color="#fff"/><stop offset="0.33" stop-color="#1150e9"/><stop offset="0.50" stop-color="#1150e9"/><stop offset="1" stop-color="#123cd4"/></linearGradient><linearGradient id="w2" gradientUnits="userSpaceOnUse" x1="922.4" y1="650.4" x2="840.6" y2="749.1"><stop offset="0.08" stop-color="#fff"/><stop offset="0.34" stop-color="#105beb"/><stop offset="0.50" stop-color="#105beb"/><stop offset="1" stop-color="#1048dc"/></linearGradient><linearGradient id="w3" gradientUnits="userSpaceOnUse" x1="922.4" y1="650.4" x2="833.8" y2="735.7"><stop offset="0.08" stop-color="#fff"/><stop offset="0.36" stop-color="#106bee"/><stop offset="0.50" stop-color="#106bee"/><stop offset="1" stop-color="#1059e4"/></linearGradient><linearGradient id="w4" gradientUnits="userSpaceOnUse" x1="922.4" y1="650.4" x2="828.8" y2="723.6"><stop offset="0.08" stop-color="#fff"/><stop offset="0.37" stop-color="#107bf0"/><stop offset="0.50" stop-color="#107bf0"/><stop offset="1" stop-color="#1069e9"/></linearGradient><linearGradient id="w5" gradientUnits="userSpaceOnUse" x1="922.4" y1="650.4" x2="825.4" y2="713.3"><stop offset="0.09" stop-color="#fff"/><stop offset="0.37" stop-color="#1189f1"/><stop offset="0.50" stop-color="#1189f1"/><stop offset="1" stop-color="#1078eb"/></linearGradient><linearGradient id="w6" gradientUnits="userSpaceOnUse" x1="922.4" y1="650.4" x2="822.1" y2="702.6"><stop offset="0.09" stop-color="#fff"/><stop offset="0.38" stop-color="#1198f2"/><stop offset="0.50" stop-color="#1198f2"/><stop offset="1" stop-color="#1087ed"/></linearGradient><linearGradient id="w7" gradientUnits="userSpaceOnUse" x1="922.4" y1="650.4" x2="819" y2="691.7"><stop offset="0.09" stop-color="#fff"/><stop offset="0.38" stop-color="#12a8f3"/><stop offset="0.50" stop-color="#12a8f3"/><stop offset="1" stop-color="#1098ef"/></linearGradient><linearGradient id="w8" gradientUnits="userSpaceOnUse" x1="922.4" y1="650.4" x2="816.3" y2="681"><stop offset="0.09" stop-color="#fff"/><stop offset="0.38" stop-color="#12b5f4"/><stop offset="0.50" stop-color="#12b5f4"/><stop offset="1" stop-color="#10a6f0"/></linearGradient><linearGradient id="w9" gradientUnits="userSpaceOnUse" x1="922.4" y1="650.4" x2="813.8" y2="670.6"><stop offset="0.09" stop-color="#fff"/><stop offset="0.37" stop-color="#13c0f4"/><stop offset="0.50" stop-color="#13c0f4"/><stop offset="1" stop-color="#10b3f0"/></linearGradient><linearGradient id="w10" gradientUnits="userSpaceOnUse" x1="922.4" y1="650.4" x2="811.5" y2="660.7"><stop offset="0.09" stop-color="#fff"/><stop offset="0.36" stop-color="#13caf4"/><stop offset="0.50" stop-color="#13caf4"/><stop offset="1" stop-color="#10bff0"/></linearGradient><linearGradient id="w11" gradientUnits="userSpaceOnUse" x1="922.4" y1="650.4" x2="809.3" y2="651.2"><stop offset="0.09" stop-color="#fff"/><stop offset="0.35" stop-color="#14d3f4"/><stop offset="0.50" stop-color="#14d3f4"/><stop offset="1" stop-color="#10caf0"/></linearGradient><linearGradient id="w12" gradientUnits="userSpaceOnUse" x1="922.4" y1="650.4" x2="807" y2="641.9"><stop offset="0.09" stop-color="#fff"/><stop offset="0.36" stop-color="#14d8eb"/><stop offset="0.50" stop-color="#14d8eb"/><stop offset="1" stop-color="#10d0e5"/></linearGradient><linearGradient id="w13" gradientUnits="userSpaceOnUse" x1="922.4" y1="650.4" x2="804.7" y2="633"><stop offset="0.08" stop-color="#fff"/><stop offset="0.36" stop-color="#13d8d9"/><stop offset="0.50" stop-color="#13d8d9"/><stop offset="1" stop-color="#10d0cf"/></linearGradient><linearGradient id="w14" gradientUnits="userSpaceOnUse" x1="922.4" y1="650.4" x2="802.4" y2="624.1"><stop offset="0.08" stop-color="#fff"/><stop offset="0.35" stop-color="#12d8c8"/><stop offset="0.50" stop-color="#12d8c8"/><stop offset="1" stop-color="#10d0ba"/></linearGradient><linearGradient id="w15" gradientUnits="userSpaceOnUse" x1="922.4" y1="650.4" x2="800.3" y2="614.3"><stop offset="0.08" stop-color="#fff"/><stop offset="0.35" stop-color="#12d6af"/><stop offset="0.50" stop-color="#12d6af"/><stop offset="1" stop-color="#0fcea3"/></linearGradient><linearGradient id="w16" gradientUnits="userSpaceOnUse" x1="922.4" y1="650.4" x2="798.4" y2="603.8"><stop offset="0.08" stop-color="#fff"/><stop offset="0.34" stop-color="#11d38f"/><stop offset="0.50" stop-color="#11d38f"/><stop offset="1" stop-color="#0dc98a"/></linearGradient><linearGradient id="w17" gradientUnits="userSpaceOnUse" x1="922.4" y1="650.4" x2="796.8" y2="593.8"><stop offset="0.07" stop-color="#fff"/><stop offset="0.34" stop-color="#11d074"/><stop offset="0.50" stop-color="#11d074"/><stop offset="1" stop-color="#0bc574"/></linearGradient><linearGradient id="w18" gradientUnits="userSpaceOnUse" x1="922.4" y1="650.4" x2="795.4" y2="584.5"><stop offset="0.07" stop-color="#fff"/><stop offset="0.33" stop-color="#10cd5b"/><stop offset="0.50" stop-color="#10cd5b"/><stop offset="1" stop-color="#09c261"/></linearGradient><linearGradient id="w19" gradientUnits="userSpaceOnUse" x1="922.4" y1="650.4" x2="794.2" y2="573.3"><stop offset="0.07" stop-color="#fff"/><stop offset="0.32" stop-color="#0fcd49"/><stop offset="0.50" stop-color="#0fcd49"/><stop offset="1" stop-color="#07c151"/></linearGradient><linearGradient id="w20" gradientUnits="userSpaceOnUse" x1="922.4" y1="650.4" x2="793.1" y2="560.3"><stop offset="0.06" stop-color="#fff"/><stop offset="0.31" stop-color="#0ccf3c"/><stop offset="0.50" stop-color="#0ccf3c"/><stop offset="1" stop-color="#06c345"/></linearGradient><linearGradient id="w21" gradientUnits="userSpaceOnUse" x1="922.4" y1="650.4" x2="792.4" y2="549.1"><stop offset="0.06" stop-color="#fff"/><stop offset="0.30" stop-color="#0ad131"/><stop offset="0.50" stop-color="#0ad131"/><stop offset="1" stop-color="#06c53b"/></linearGradient><linearGradient id="w22" gradientUnits="userSpaceOnUse" x1="922.4" y1="650.4" x2="792" y2="539.6"><stop offset="0.06" stop-color="#fff"/><stop offset="0.29" stop-color="#08d229"/><stop offset="0.50" stop-color="#08d229"/><stop offset="1" stop-color="#05c633"/></linearGradient><linearGradient id="w23" gradientUnits="userSpaceOnUse" x1="922.4" y1="650.4" x2="791.6" y2="530.1"><stop offset="0.06" stop-color="#fff"/><stop offset="0.28" stop-color="#07d322"/><stop offset="0.50" stop-color="#07d322"/><stop offset="1" stop-color="#04c72b"/></linearGradient><linearGradient id="w24" gradientUnits="userSpaceOnUse" x1="922.4" y1="650.4" x2="791.3" y2="519.3"><stop offset="0.05" stop-color="#fff"/><stop offset="0.27" stop-color="#07d51d"/><stop offset="0.50" stop-color="#07d51d"/><stop offset="1" stop-color="#05c927"/></linearGradient><linearGradient id="w25" gradientUnits="userSpaceOnUse" x1="922.4" y1="650.4" x2="791.1" y2="507.1"><stop offset="0.05" stop-color="#fff"/><stop offset="0.26" stop-color="#09d71b"/><stop offset="0.50" stop-color="#09d71b"/><stop offset="1" stop-color="#07cc24"/></linearGradient><linearGradient id="w26" gradientUnits="userSpaceOnUse" x1="922.4" y1="650.4" x2="791.2" y2="496.5"><stop offset="0.05" stop-color="#fff"/><stop offset="0.25" stop-color="#0ad91a"/><stop offset="0.50" stop-color="#0ad91a"/><stop offset="1" stop-color="#08ce22"/></linearGradient><linearGradient id="w27" gradientUnits="userSpaceOnUse" x1="922.4" y1="650.4" x2="791.6" y2="487.3"><stop offset="0.05" stop-color="#fff"/><stop offset="0.24" stop-color="#0bdb19"/><stop offset="0.50" stop-color="#0bdb19"/><stop offset="1" stop-color="#09d020"/></linearGradient><linearGradient id="w28" gradientUnits="userSpaceOnUse" x1="922.4" y1="650.4" x2="792.6" y2="475.7"><stop offset="0.05" stop-color="#fff"/><stop offset="0.23" stop-color="#0cdd18"/><stop offset="0.50" stop-color="#0cdd18"/><stop offset="1" stop-color="#0ad31d"/></linearGradient><linearGradient id="w29" gradientUnits="userSpaceOnUse" x1="922.4" y1="650.4" x2="794.9" y2="462.9"><stop offset="0.04" stop-color="#fff"/><stop offset="0.23" stop-color="#0edf16"/><stop offset="0.50" stop-color="#0edf16"/><stop offset="1" stop-color="#0cd51b"/></linearGradient><linearGradient id="w30" gradientUnits="userSpaceOnUse" x1="922.4" y1="650.4" x2="798.8" y2="450.3"><stop offset="0.04" stop-color="#fff"/><stop offset="0.22" stop-color="#10e114"/><stop offset="0.50" stop-color="#10e114"/><stop offset="1" stop-color="#0ed818"/></linearGradient><linearGradient id="w31" gradientUnits="userSpaceOnUse" x1="922.4" y1="650.4" x2="804.3" y2="439.1"><stop offset="0.04" stop-color="#fff"/><stop offset="0.22" stop-color="#11e313"/><stop offset="0.50" stop-color="#11e313"/><stop offset="1" stop-color="#0fdb15"/></linearGradient><linearGradient id="w32" gradientUnits="userSpaceOnUse" x1="922.4" y1="650.4" x2="811" y2="431.6"><stop offset="0.04" stop-color="#fff"/><stop offset="0.21" stop-color="#13e512"/><stop offset="0.50" stop-color="#13e512"/><stop offset="1" stop-color="#12df13"/></linearGradient><linearGradient id="w33" gradientUnits="userSpaceOnUse" x1="922.4" y1="650.4" x2="820.2" y2="427.1"><stop offset="0.04" stop-color="#fff"/><stop offset="0.22" stop-color="#16e811"/><stop offset="0.50" stop-color="#16e811"/><stop offset="1" stop-color="#17e712"/></linearGradient><linearGradient id="w34" gradientUnits="userSpaceOnUse" x1="922.4" y1="650.4" x2="829.6" y2="426.5"><stop offset="0.04" stop-color="#fff"/><stop offset="0.22" stop-color="#19eb10"/><stop offset="0.50" stop-color="#19eb10"/><stop offset="1" stop-color="#1aed11"/></linearGradient><linearGradient id="w35" gradientUnits="userSpaceOnUse" x1="922.4" y1="650.4" x2="838.1" y2="429.2"><stop offset="0.04" stop-color="#fff"/><stop offset="0.23" stop-color="#1ded10"/><stop offset="0.50" stop-color="#1ded10"/><stop offset="1" stop-color="#1ff010"/></linearGradient><linearGradient id="w36" gradientUnits="userSpaceOnUse" x1="922.4" y1="650.4" x2="848.7" y2="434.1"><stop offset="0.04" stop-color="#fff"/><stop offset="0.24" stop-color="#23ee10"/><stop offset="0.50" stop-color="#23ee10"/><stop offset="1" stop-color="#25f010"/></linearGradient><linearGradient id="w37" gradientUnits="userSpaceOnUse" x1="922.4" y1="650.4" x2="861" y2="440.1"><stop offset="0.05" stop-color="#fff"/><stop offset="0.25" stop-color="#2cef10"/><stop offset="0.50" stop-color="#2cef10"/><stop offset="1" stop-color="#2cf010"/></linearGradient><linearGradient id="w38" gradientUnits="userSpaceOnUse" x1="922.4" y1="650.4" x2="870.9" y2="446.3"><stop offset="0.05" stop-color="#fff"/><stop offset="0.26" stop-color="#35f00f"/><stop offset="0.50" stop-color="#35f00f"/><stop offset="1" stop-color="#34f00e"/></linearGradient><linearGradient id="w39" gradientUnits="userSpaceOnUse" x1="922.4" y1="650.4" x2="878" y2="452.2"><stop offset="0.05" stop-color="#fff"/><stop offset="0.27" stop-color="#40f00d"/><stop offset="0.50" stop-color="#40f00d"/><stop offset="1" stop-color="#3df10b"/></linearGradient><linearGradient id="w40" gradientUnits="userSpaceOnUse" x1="922.4" y1="650.4" x2="885.2" y2="457.8"><stop offset="0.05" stop-color="#fff"/><stop offset="0.28" stop-color="#4cf00b"/><stop offset="0.50" stop-color="#4cf00b"/><stop offset="1" stop-color="#47f207"/></linearGradient><linearGradient id="w41" gradientUnits="userSpaceOnUse" x1="922.4" y1="650.4" x2="892.6" y2="463.1"><stop offset="0.05" stop-color="#fff"/><stop offset="0.30" stop-color="#59f009"/><stop offset="0.50" stop-color="#59f009"/><stop offset="1" stop-color="#52f302"/></linearGradient><linearGradient id="w42" gradientUnits="userSpaceOnUse" x1="922.4" y1="650.4" x2="899.9" y2="468.7"><stop offset="0.05" stop-color="#fff"/><stop offset="0.31" stop-color="#67f007"/><stop offset="0.50" stop-color="#67f007"/><stop offset="1" stop-color="#5ff400"/></linearGradient><linearGradient id="w43" gradientUnits="userSpaceOnUse" x1="922.4" y1="650.4" x2="907.3" y2="474.5"><stop offset="0.06" stop-color="#fff"/><stop offset="0.32" stop-color="#76f105"/><stop offset="0.50" stop-color="#76f105"/><stop offset="1" stop-color="#6ef500"/></linearGradient><linearGradient id="w44" gradientUnits="userSpaceOnUse" x1="922.4" y1="650.4" x2="917.3" y2="483.2"><stop offset="0.06" stop-color="#fff"/><stop offset="0.34" stop-color="#8df302"/><stop offset="0.50" stop-color="#8df302"/><stop offset="1" stop-color="#85f700"/></linearGradient><linearGradient id="w45" gradientUnits="userSpaceOnUse" x1="922.4" y1="650.4" x2="927.1" y2="492.3"><stop offset="0.06" stop-color="#fff"/><stop offset="0.37" stop-color="#a2f400"/><stop offset="0.50" stop-color="#a2f400"/><stop offset="1" stop-color="#9af800"/></linearGradient><linearGradient id="w46" gradientUnits="userSpaceOnUse" x1="922.4" y1="650.4" x2="934" y2="499.2"><stop offset="0.07" stop-color="#fff"/><stop offset="0.40" stop-color="#aff500"/><stop offset="0.50" stop-color="#aff500"/><stop offset="1" stop-color="#a7f900"/></linearGradient><linearGradient id="w47" gradientUnits="userSpaceOnUse" x1="922.4" y1="650.4" x2="940.9" y2="506.1"><stop offset="0.07" stop-color="#fff"/><stop offset="0.43" stop-color="#bdf600"/><stop offset="0.50" stop-color="#bdf600"/><stop offset="1" stop-color="#b5f900"/></linearGradient><linearGradient id="w48" gradientUnits="userSpaceOnUse" x1="922.4" y1="650.4" x2="947.9" y2="513"><stop offset="0.07" stop-color="#fff"/><stop offset="0.46" stop-color="#ccf700"/><stop offset="0.50" stop-color="#ccf700"/><stop offset="1" stop-color="#c4fa00"/></linearGradient><linearGradient id="w49" gradientUnits="userSpaceOnUse" x1="922.4" y1="650.4" x2="955.5" y2="520.6"><stop offset="0.07" stop-color="#fff"/><stop offset="0.49" stop-color="#d8f800"/><stop offset="0.50" stop-color="#d8f800"/><stop offset="1" stop-color="#d1fa00"/></linearGradient><linearGradient id="w50" gradientUnits="userSpaceOnUse" x1="922.4" y1="650.4" x2="963.9" y2="529"><stop offset="0.08" stop-color="#fff"/><stop offset="0.54" stop-color="#e0f800"/><stop offset="0.54" stop-color="#e0f800"/><stop offset="1" stop-color="#dcfa00"/></linearGradient><linearGradient id="w51" gradientUnits="userSpaceOnUse" x1="922.4" y1="650.4" x2="971.6" y2="536.7"><stop offset="0.08" stop-color="#fff"/><stop offset="0.57" stop-color="#e9f800"/><stop offset="0.57" stop-color="#e9f800"/><stop offset="1" stop-color="#e6fa00"/></linearGradient><linearGradient id="w52" gradientUnits="userSpaceOnUse" x1="922.4" y1="650.4" x2="978.8" y2="543.8"><stop offset="0.08" stop-color="#fff"/><stop offset="0.61" stop-color="#f1f800"/><stop offset="0.61" stop-color="#f1f800"/><stop offset="1" stop-color="#f1fa00"/></linearGradient><linearGradient id="w53" gradientUnits="userSpaceOnUse" x1="922.4" y1="650.4" x2="985.5" y2="550.6"><stop offset="0.08" stop-color="#fff"/><stop offset="0.64" stop-color="#f6f700"/><stop offset="0.64" stop-color="#f6f700"/><stop offset="1" stop-color="#f6f800"/></linearGradient><linearGradient id="w54" gradientUnits="userSpaceOnUse" x1="922.4" y1="650.4" x2="991.8" y2="557.1"><stop offset="0.09" stop-color="#fff"/><stop offset="0.66" stop-color="#f9f600"/><stop offset="0.66" stop-color="#f9f600"/><stop offset="1" stop-color="#f9f600"/></linearGradient><linearGradient id="w55" gradientUnits="userSpaceOnUse" x1="922.4" y1="650.4" x2="998.7" y2="564.1"><stop offset="0.09" stop-color="#fff"/><stop offset="0.69" stop-color="#fdf500"/><stop offset="0.69" stop-color="#fdf500"/><stop offset="1" stop-color="#fdf400"/></linearGradient><linearGradient id="w56" gradientUnits="userSpaceOnUse" x1="922.4" y1="650.4" x2="1006" y2="571.7"><stop offset="0.09" stop-color="#fff"/><stop offset="0.70" stop-color="#ffee05"/><stop offset="0.70" stop-color="#ffee05"/><stop offset="1" stop-color="#ffeb00"/></linearGradient><linearGradient id="w57" gradientUnits="userSpaceOnUse" x1="922.4" y1="650.4" x2="1013.4" y2="579.3"><stop offset="0.09" stop-color="#fff"/><stop offset="0.71" stop-color="#ffdf0f"/><stop offset="0.71" stop-color="#ffdf0f"/><stop offset="1" stop-color="#ffda00"/></linearGradient><linearGradient id="w58" gradientUnits="userSpaceOnUse" x1="922.4" y1="650.4" x2="1020.2" y2="586.3"><stop offset="0.09" stop-color="#fff"/><stop offset="0.72" stop-color="#ffd219"/><stop offset="0.72" stop-color="#ffd219"/><stop offset="1" stop-color="#ffcb00"/></linearGradient><linearGradient id="w59" gradientUnits="userSpaceOnUse" x1="922.4" y1="650.4" x2="1026.4" y2="592.8"><stop offset="0.08" stop-color="#fff"/><stop offset="0.72" stop-color="#ffc420"/><stop offset="0.72" stop-color="#ffc420"/><stop offset="1" stop-color="#ffbc00"/></linearGradient><linearGradient id="w60" gradientUnits="userSpaceOnUse" x1="922.4" y1="650.4" x2="1032.7" y2="599.3"><stop offset="0.08" stop-color="#fff"/><stop offset="0.71" stop-color="#ffb020"/><stop offset="0.71" stop-color="#ffb020"/><stop offset="1" stop-color="#ffa800"/></linearGradient><linearGradient id="w61" gradientUnits="userSpaceOnUse" x1="922.4" y1="650.4" x2="1039.5" y2="606.4"><stop offset="0.08" stop-color="#fff"/><stop offset="0.70" stop-color="#ff9b1f"/><stop offset="0.70" stop-color="#ff9b1f"/><stop offset="1" stop-color="#ff9200"/></linearGradient><linearGradient id="w62" gradientUnits="userSpaceOnUse" x1="922.4" y1="650.4" x2="1046.8" y2="614.1"><stop offset="0.08" stop-color="#fff"/><stop offset="0.68" stop-color="#ff811d"/><stop offset="0.68" stop-color="#ff811d"/><stop offset="1" stop-color="#ff7200"/></linearGradient><linearGradient id="w63" gradientUnits="userSpaceOnUse" x1="922.4" y1="650.4" x2="1054.2" y2="621.8"><stop offset="0.07" stop-color="#fff"/><stop offset="0.66" stop-color="#ff681a"/><stop offset="0.66" stop-color="#ff681a"/><stop offset="1" stop-color="#ff5400"/></linearGradient><linearGradient id="w64" gradientUnits="userSpaceOnUse" x1="922.4" y1="650.4" x2="1062" y2="630.1"><stop offset="0.07" stop-color="#fff"/><stop offset="0.64" stop-color="#ff5017"/><stop offset="0.64" stop-color="#ff5017"/><stop offset="1" stop-color="#fa3900"/></linearGradient><linearGradient id="w65" gradientUnits="userSpaceOnUse" x1="922.4" y1="650.4" x2="1070.4" y2="639.1"><stop offset="0.07" stop-color="#fff"/><stop offset="0.61" stop-color="#ff3715"/><stop offset="0.61" stop-color="#ff3715"/><stop offset="1" stop-color="#e92400"/></linearGradient><linearGradient id="w66" gradientUnits="userSpaceOnUse" x1="922.4" y1="650.4" x2="1079.2" y2="647.9"><stop offset="0.06" stop-color="#fff"/><stop offset="0.59" stop-color="#ff2813"/><stop offset="0.59" stop-color="#ff2813"/><stop offset="1" stop-color="#d31600"/></linearGradient><linearGradient id="w67" gradientUnits="userSpaceOnUse" x1="922.4" y1="650.4" x2="1088.3" y2="656.6"><stop offset="0.06" stop-color="#fff"/><stop offset="0.55" stop-color="#ff2211"/><stop offset="0.55" stop-color="#ff2211"/><stop offset="1" stop-color="#b51200"/></linearGradient><linearGradient id="w68" gradientUnits="userSpaceOnUse" x1="922.4" y1="650.4" x2="1088.8" y2="663.1"><stop offset="0.06" stop-color="#fff"/><stop offset="0.54" stop-color="#ff2113"/><stop offset="0.54" stop-color="#ff2113"/><stop offset="1" stop-color="#ad1002"/></linearGradient><linearGradient id="w69" gradientUnits="userSpaceOnUse" x1="922.4" y1="650.4" x2="1080.4" y2="667.2"><stop offset="0.06" stop-color="#fff"/><stop offset="0.56" stop-color="#ff221a"/><stop offset="0.56" stop-color="#ff221a"/><stop offset="1" stop-color="#b81006"/></linearGradient><linearGradient id="w70" gradientUnits="userSpaceOnUse" x1="922.4" y1="650.4" x2="1072.1" y2="671.3"><stop offset="0.07" stop-color="#fff"/><stop offset="0.58" stop-color="#ff2322"/><stop offset="0.58" stop-color="#ff2322"/><stop offset="1" stop-color="#c4100b"/></linearGradient><linearGradient id="w71" gradientUnits="userSpaceOnUse" x1="922.4" y1="650.4" x2="1063.8" y2="675.4"><stop offset="0.07" stop-color="#fff"/><stop offset="0.60" stop-color="#ff242b"/><stop offset="0.60" stop-color="#ff242b"/><stop offset="1" stop-color="#d11011"/></linearGradient><linearGradient id="w72" gradientUnits="userSpaceOnUse" x1="922.4" y1="650.4" x2="1055.5" y2="679.5"><stop offset="0.07" stop-color="#fff"/><stop offset="0.62" stop-color="#ff2635"/><stop offset="0.62" stop-color="#ff2635"/><stop offset="1" stop-color="#e01017"/></linearGradient><linearGradient id="w73" gradientUnits="userSpaceOnUse" x1="922.4" y1="650.4" x2="1047.2" y2="683.7"><stop offset="0.08" stop-color="#fff"/><stop offset="0.64" stop-color="#ff273f"/><stop offset="0.64" stop-color="#ff273f"/><stop offset="1" stop-color="#f1101d"/></linearGradient><linearGradient id="w74" gradientUnits="userSpaceOnUse" x1="922.4" y1="650.4" x2="1038.8" y2="687.8"><stop offset="0.08" stop-color="#fff"/><stop offset="0.67" stop-color="#ff2949"/><stop offset="0.67" stop-color="#ff2949"/><stop offset="1" stop-color="#f91025"/></linearGradient><linearGradient id="w75" gradientUnits="userSpaceOnUse" x1="922.4" y1="650.4" x2="1030.5" y2="691.9"><stop offset="0.09" stop-color="#fff"/><stop offset="0.68" stop-color="#ff2b52"/><stop offset="0.68" stop-color="#ff2b52"/><stop offset="1" stop-color="#f9102e"/></linearGradient><linearGradient id="w76" gradientUnits="userSpaceOnUse" x1="922.4" y1="650.4" x2="1022.2" y2="696"><stop offset="0.09" stop-color="#fff"/><stop offset="0.69" stop-color="#ff2c5b"/><stop offset="0.69" stop-color="#ff2c5b"/><stop offset="1" stop-color="#fb1037"/></linearGradient><linearGradient id="w77" gradientUnits="userSpaceOnUse" x1="922.4" y1="650.4" x2="1013.9" y2="700.1"><stop offset="0.10" stop-color="#fff"/><stop offset="0.69" stop-color="#ff2e66"/><stop offset="0.69" stop-color="#ff2e66"/><stop offset="1" stop-color="#fc1042"/></linearGradient><linearGradient id="w78" gradientUnits="userSpaceOnUse" x1="922.4" y1="650.4" x2="1005.6" y2="704.2"><stop offset="0.10" stop-color="#fff"/><stop offset="0.69" stop-color="#ff3173"/><stop offset="0.69" stop-color="#ff3173"/><stop offset="1" stop-color="#fd104f"/></linearGradient><linearGradient id="w79" gradientUnits="userSpaceOnUse" x1="922.4" y1="650.4" x2="997.2" y2="708.4"><stop offset="0.11" stop-color="#fff"/><stop offset="0.68" stop-color="#ff3380"/><stop offset="0.68" stop-color="#ff3380"/><stop offset="1" stop-color="#ff105c"/></linearGradient><linearGradient id="w80" gradientUnits="userSpaceOnUse" x1="922.4" y1="650.4" x2="988.9" y2="712.5"><stop offset="0.11" stop-color="#fff"/><stop offset="0.67" stop-color="#fd3489"/><stop offset="0.67" stop-color="#fd3489"/><stop offset="1" stop-color="#fb1068"/></linearGradient><linearGradient id="w81" gradientUnits="userSpaceOnUse" x1="922.4" y1="650.4" x2="980.6" y2="716.6"><stop offset="0.11" stop-color="#fff"/><stop offset="0.66" stop-color="#fa3490"/><stop offset="0.66" stop-color="#fa3490"/><stop offset="1" stop-color="#f51075"/></linearGradient><linearGradient id="w82" gradientUnits="userSpaceOnUse" x1="922.4" y1="650.4" x2="972.3" y2="720.7"><stop offset="0.12" stop-color="#fff"/><stop offset="0.64" stop-color="#f73497"/><stop offset="0.64" stop-color="#f73497"/><stop offset="1" stop-color="#ef1082"/></linearGradient><linearGradient id="w83" gradientUnits="userSpaceOnUse" x1="922.4" y1="650.4" x2="964" y2="724.8"><stop offset="0.12" stop-color="#fff"/><stop offset="0.61" stop-color="#f4349f"/><stop offset="0.61" stop-color="#f4349f"/><stop offset="1" stop-color="#e81090"/></linearGradient><linearGradient id="w84" gradientUnits="userSpaceOnUse" x1="922.4" y1="650.4" x2="955.6" y2="729"><stop offset="0.12" stop-color="#fff"/><stop offset="0.58" stop-color="#f134a7"/><stop offset="0.58" stop-color="#f134a7"/><stop offset="1" stop-color="#e1109d"/></linearGradient><linearGradient id="w85" gradientUnits="userSpaceOnUse" x1="922.4" y1="650.4" x2="947.3" y2="733.1"><stop offset="0.12" stop-color="#fff"/><stop offset="0.55" stop-color="#e634ae"/><stop offset="0.55" stop-color="#e634ae"/><stop offset="1" stop-color="#d610a6"/></linearGradient><linearGradient id="w86" gradientUnits="userSpaceOnUse" x1="922.4" y1="650.4" x2="939" y2="737.2"><stop offset="0.11" stop-color="#fff"/><stop offset="0.53" stop-color="#db34b6"/><stop offset="0.53" stop-color="#db34b6"/><stop offset="1" stop-color="#cb10ae"/></linearGradient><linearGradient id="w87" gradientUnits="userSpaceOnUse" x1="922.4" y1="650.4" x2="930.7" y2="741.3"><stop offset="0.11" stop-color="#fff"/><stop offset="0.50" stop-color="#d034be"/><stop offset="0.50" stop-color="#d034be"/><stop offset="1" stop-color="#c010b6"/></linearGradient><linearGradient id="w88" gradientUnits="userSpaceOnUse" x1="922.4" y1="650.4" x2="922.4" y2="745.4"><stop offset="0.11" stop-color="#fff"/><stop offset="0.48" stop-color="#c634c4"/><stop offset="0.50" stop-color="#c634c4"/><stop offset="1" stop-color="#b610bc"/></linearGradient><linearGradient id="w89" gradientUnits="userSpaceOnUse" x1="922.4" y1="650.4" x2="914" y2="749.5"><stop offset="0.10" stop-color="#fff"/><stop offset="0.45" stop-color="#b334cb"/><stop offset="0.50" stop-color="#b334cb"/><stop offset="1" stop-color="#a313c2"/></linearGradient><linearGradient id="w90" gradientUnits="userSpaceOnUse" x1="922.4" y1="650.4" x2="905.7" y2="753.7"><stop offset="0.10" stop-color="#fff"/><stop offset="0.42" stop-color="#9634d1"/><stop offset="0.50" stop-color="#9634d1"/><stop offset="1" stop-color="#8619c5"/></linearGradient><linearGradient id="w91" gradientUnits="userSpaceOnUse" x1="922.4" y1="650.4" x2="897.4" y2="757.8"><stop offset="0.09" stop-color="#fff"/><stop offset="0.40" stop-color="#7c34d7"/><stop offset="0.50" stop-color="#7c34d7"/><stop offset="1" stop-color="#6c1fc9"/></linearGradient><linearGradient id="w92" gradientUnits="userSpaceOnUse" x1="922.4" y1="650.4" x2="889.1" y2="761.9"><stop offset="0.09" stop-color="#fff"/><stop offset="0.38" stop-color="#6434dc"/><stop offset="0.50" stop-color="#6434dc"/><stop offset="1" stop-color="#5424cc"/></linearGradient><linearGradient id="w93" gradientUnits="userSpaceOnUse" x1="922.4" y1="650.4" x2="880.8" y2="766"><stop offset="0.08" stop-color="#fff"/><stop offset="0.36" stop-color="#4a39df"/><stop offset="0.50" stop-color="#4a39df"/><stop offset="1" stop-color="#4128cb"/></linearGradient><linearGradient id="w94" gradientUnits="userSpaceOnUse" x1="922.4" y1="650.4" x2="872.4" y2="770.1"><stop offset="0.08" stop-color="#fff"/><stop offset="0.34" stop-color="#333ee1"/><stop offset="0.50" stop-color="#333ee1"/><stop offset="1" stop-color="#2f2bca"/></linearGradient><linearGradient id="w95" gradientUnits="userSpaceOnUse" x1="922.4" y1="650.4" x2="864.1" y2="774.2"><stop offset="0.07" stop-color="#fff"/><stop offset="0.32" stop-color="#1e42e3"/><stop offset="0.50" stop-color="#1e42e3"/><stop offset="1" stop-color="#1f2fc8"/></linearGradient></defs>
<g clip-path="url(#cieclip)">
<g filter="url(#cieblur)"><polygon points="922.4,650.4 844.3,807.8 833.6,794.6" fill="url(#w0)" stroke="url(#w0)" stroke-width="1.2"/><polygon points="922.4,650.4 833.6,794.6 824.5,781.9" fill="url(#w1)" stroke="url(#w1)" stroke-width="1.2"/><polygon points="922.4,650.4 824.5,781.9 815.8,765.7" fill="url(#w2)" stroke="url(#w2)" stroke-width="1.2"/><polygon points="922.4,650.4 815.8,765.7 807.6,748.4" fill="url(#w3)" stroke="url(#w3)" stroke-width="1.2"/><polygon points="922.4,650.4 807.6,748.4 803.3,735.5" fill="url(#w4)" stroke="url(#w4)" stroke-width="1.2"/><polygon points="922.4,650.4 803.3,735.5 799,722.5" fill="url(#w5)" stroke="url(#w5)" stroke-width="1.2"/><polygon points="922.4,650.4 799,722.5 795.1,708.8" fill="url(#w6)" stroke="url(#w6)" stroke-width="1.2"/><polygon points="922.4,650.4 795.1,708.8 791.3,695.1" fill="url(#w7)" stroke="url(#w7)" stroke-width="1.2"/><polygon points="922.4,650.4 791.3,695.1 788.2,682.2" fill="url(#w8)" stroke="url(#w8)" stroke-width="1.2"/><polygon points="922.4,650.4 788.2,682.2 785.2,669.2" fill="url(#w9)" stroke="url(#w9)" stroke-width="1.2"/><polygon points="922.4,650.4 785.2,669.2 782.4,657.3" fill="url(#w10)" stroke="url(#w10)" stroke-width="1.2"/><polygon points="922.4,650.4 782.4,657.3 779.6,645.4" fill="url(#w11)" stroke="url(#w11)" stroke-width="1.2"/><polygon points="922.4,650.4 779.6,645.4 776.7,634.2" fill="url(#w12)" stroke="url(#w12)" stroke-width="1.2"/><polygon points="922.4,650.4 776.7,634.2 773.8,623" fill="url(#w13)" stroke="url(#w13)" stroke-width="1.2"/><polygon points="922.4,650.4 773.8,623 770.9,611.9" fill="url(#w14)" stroke="url(#w14)" stroke-width="1.2"/><polygon points="922.4,650.4 770.9,611.9 768.6,598.7" fill="url(#w15)" stroke="url(#w15)" stroke-width="1.2"/><polygon points="922.4,650.4 768.6,598.7 766.3,585.5" fill="url(#w16)" stroke="url(#w16)" stroke-width="1.2"/><polygon points="922.4,650.4 766.3,585.5 764.5,573.8" fill="url(#w17)" stroke="url(#w17)" stroke-width="1.2"/><polygon points="922.4,650.4 764.5,573.8 762.7,562.1" fill="url(#w18)" stroke="url(#w18)" stroke-width="1.2"/><polygon points="922.4,650.4 762.7,562.1 761.5,545.9" fill="url(#w19)" stroke="url(#w19)" stroke-width="1.2"/><polygon points="922.4,650.4 761.5,545.9 760.2,529.7" fill="url(#w20)" stroke="url(#w20)" stroke-width="1.2"/><polygon points="922.4,650.4 760.2,529.7 759.7,517.8" fill="url(#w21)" stroke="url(#w21)" stroke-width="1.2"/><polygon points="922.4,650.4 759.7,517.8 759.2,506" fill="url(#w22)" stroke="url(#w22)" stroke-width="1.2"/><polygon points="922.4,650.4 759.2,506 758.7,494.1" fill="url(#w23)" stroke="url(#w23)" stroke-width="1.2"/><polygon points="922.4,650.4 758.7,494.1 758.4,478.9" fill="url(#w24)" stroke="url(#w24)" stroke-width="1.2"/><polygon points="922.4,650.4 758.4,478.9 758.2,463.7" fill="url(#w25)" stroke="url(#w25)" stroke-width="1.2"/><polygon points="922.4,650.4 758.2,463.7 758.7,452.3" fill="url(#w26)" stroke="url(#w26)" stroke-width="1.2"/><polygon points="922.4,650.4 758.7,452.3 759.2,440.9" fill="url(#w27)" stroke="url(#w27)" stroke-width="1.2"/><polygon points="922.4,650.4 759.2,440.9 761.2,423.1" fill="url(#w28)" stroke="url(#w28)" stroke-width="1.2"/><polygon points="922.4,650.4 761.2,423.1 764.8,408.9" fill="url(#w29)" stroke="url(#w29)" stroke-width="1.2"/><polygon points="922.4,650.4 764.8,408.9 770.9,391.6" fill="url(#w30)" stroke="url(#w30)" stroke-width="1.2"/><polygon points="922.4,650.4 770.9,391.6 778.6,381" fill="url(#w31)" stroke="url(#w31)" stroke-width="1.2"/><polygon points="922.4,650.4 778.6,381 787.7,372.8" fill="url(#w32)" stroke="url(#w32)" stroke-width="1.2"/><polygon points="922.4,650.4 787.7,372.8 801.5,369.8" fill="url(#w33)" stroke="url(#w33)" stroke-width="1.2"/><polygon points="922.4,650.4 801.5,369.8 811.2,371.3" fill="url(#w34)" stroke="url(#w34)" stroke-width="1.2"/><polygon points="922.4,650.4 811.2,371.3 822.9,376.4" fill="url(#w35)" stroke="url(#w35)" stroke-width="1.2"/><polygon points="922.4,650.4 822.9,376.4 837.7,383.5" fill="url(#w36)" stroke="url(#w36)" stroke-width="1.2"/><polygon points="922.4,650.4 837.7,383.5 853.5,391.6" fill="url(#w37)" stroke="url(#w37)" stroke-width="1.2"/><polygon points="922.4,650.4 853.5,391.6 862.5,399" fill="url(#w38)" stroke="url(#w38)" stroke-width="1.2"/><polygon points="922.4,650.4 862.5,399 871.4,406.3" fill="url(#w39)" stroke="url(#w39)" stroke-width="1.2"/><polygon points="922.4,650.4 871.4,406.3 880.6,412.9" fill="url(#w40)" stroke="url(#w40)" stroke-width="1.2"/><polygon points="922.4,650.4 880.6,412.9 889.7,419.5" fill="url(#w41)" stroke="url(#w41)" stroke-width="1.2"/><polygon points="922.4,650.4 889.7,419.5 898.9,426.9" fill="url(#w42)" stroke="url(#w42)" stroke-width="1.2"/><polygon points="922.4,650.4 898.9,426.9 908.1,434.3" fill="url(#w43)" stroke="url(#w43)" stroke-width="1.2"/><polygon points="922.4,650.4 908.1,434.3 923.9,448.5" fill="url(#w44)" stroke="url(#w44)" stroke-width="1.2"/><polygon points="922.4,650.4 923.9,448.5 932.6,457.1" fill="url(#w45)" stroke="url(#w45)" stroke-width="1.2"/><polygon points="922.4,650.4 932.6,457.1 941.2,465.7" fill="url(#w46)" stroke="url(#w46)" stroke-width="1.2"/><polygon points="922.4,650.4 941.2,465.7 949.9,474.3" fill="url(#w47)" stroke="url(#w47)" stroke-width="1.2"/><polygon points="922.4,650.4 949.9,474.3 958.6,483" fill="url(#w48)" stroke="url(#w48)" stroke-width="1.2"/><polygon points="922.4,650.4 958.6,483 969,493.4" fill="url(#w49)" stroke="url(#w49)" stroke-width="1.2"/><polygon points="922.4,650.4 969,493.4 979.5,503.8" fill="url(#w50)" stroke="url(#w50)" stroke-width="1.2"/><polygon points="922.4,650.4 979.5,503.8 988.4,512.7" fill="url(#w51)" stroke="url(#w51)" stroke-width="1.2"/><polygon points="922.4,650.4 988.4,512.7 997.3,521.5" fill="url(#w52)" stroke="url(#w52)" stroke-width="1.2"/><polygon points="922.4,650.4 997.3,521.5 1005.3,529.7" fill="url(#w53)" stroke="url(#w53)" stroke-width="1.2"/><polygon points="922.4,650.4 1005.3,529.7 1013.2,537.8" fill="url(#w54)" stroke="url(#w54)" stroke-width="1.2"/><polygon points="922.4,650.4 1013.2,537.8 1022.3,547.3" fill="url(#w55)" stroke="url(#w55)" stroke-width="1.2"/><polygon points="922.4,650.4 1022.3,547.3 1031.5,556.7" fill="url(#w56)" stroke="url(#w56)" stroke-width="1.2"/><polygon points="922.4,650.4 1031.5,556.7 1040.7,566.2" fill="url(#w57)" stroke="url(#w57)" stroke-width="1.2"/><polygon points="922.4,650.4 1040.7,566.2 1048.5,574.3" fill="url(#w58)" stroke="url(#w58)" stroke-width="1.2"/><polygon points="922.4,650.4 1048.5,574.3 1056.3,582.4" fill="url(#w59)" stroke="url(#w59)" stroke-width="1.2"/><polygon points="922.4,650.4 1056.3,582.4 1064.2,590.6" fill="url(#w60)" stroke="url(#w60)" stroke-width="1.2"/><polygon points="922.4,650.4 1064.2,590.6 1073.3,600.2" fill="url(#w61)" stroke="url(#w61)" stroke-width="1.2"/><polygon points="922.4,650.4 1073.3,600.2 1082.5,609.8" fill="url(#w62)" stroke="url(#w62)" stroke-width="1.2"/><polygon points="922.4,650.4 1082.5,609.8 1091.7,619.5" fill="url(#w63)" stroke="url(#w63)" stroke-width="1.2"/><polygon points="922.4,650.4 1091.7,619.5 1102.2,630.7" fill="url(#w64)" stroke="url(#w64)" stroke-width="1.2"/><polygon points="922.4,650.4 1102.2,630.7 1112.6,641.8" fill="url(#w65)" stroke="url(#w65)" stroke-width="1.2"/><polygon points="922.4,650.4 1112.6,641.8 1124.1,652.7" fill="url(#w66)" stroke="url(#w66)" stroke-width="1.2"/><polygon points="922.4,650.4 1124.1,652.7 1135.6,663.6" fill="url(#w67)" stroke="url(#w67)" stroke-width="1.2"/><polygon points="922.4,650.4 1135.6,663.6 1125.2,668.8" fill="url(#w68)" stroke="url(#w68)" stroke-width="1.2"/><polygon points="922.4,650.4 1125.2,668.8 1114.8,673.9" fill="url(#w69)" stroke="url(#w69)" stroke-width="1.2"/><polygon points="922.4,650.4 1114.8,673.9 1104.4,679.1" fill="url(#w70)" stroke="url(#w70)" stroke-width="1.2"/><polygon points="922.4,650.4 1104.4,679.1 1094,684.2" fill="url(#w71)" stroke="url(#w71)" stroke-width="1.2"/><polygon points="922.4,650.4 1094,684.2 1083.6,689.4" fill="url(#w72)" stroke="url(#w72)" stroke-width="1.2"/><polygon points="922.4,650.4 1083.6,689.4 1073.2,694.5" fill="url(#w73)" stroke="url(#w73)" stroke-width="1.2"/><polygon points="922.4,650.4 1073.2,694.5 1062.8,699.7" fill="url(#w74)" stroke="url(#w74)" stroke-width="1.2"/><polygon points="922.4,650.4 1062.8,699.7 1052.4,704.8" fill="url(#w75)" stroke="url(#w75)" stroke-width="1.2"/><polygon points="922.4,650.4 1052.4,704.8 1042,710" fill="url(#w76)" stroke="url(#w76)" stroke-width="1.2"/><polygon points="922.4,650.4 1042,710 1031.6,715.1" fill="url(#w77)" stroke="url(#w77)" stroke-width="1.2"/><polygon points="922.4,650.4 1031.6,715.1 1021.2,720.3" fill="url(#w78)" stroke="url(#w78)" stroke-width="1.2"/><polygon points="922.4,650.4 1021.2,720.3 1010.8,725.4" fill="url(#w79)" stroke="url(#w79)" stroke-width="1.2"/><polygon points="922.4,650.4 1010.8,725.4 1000.4,730.6" fill="url(#w80)" stroke="url(#w80)" stroke-width="1.2"/><polygon points="922.4,650.4 1000.4,730.6 990,735.7" fill="url(#w81)" stroke="url(#w81)" stroke-width="1.2"/><polygon points="922.4,650.4 990,735.7 979.6,740.9" fill="url(#w82)" stroke="url(#w82)" stroke-width="1.2"/><polygon points="922.4,650.4 979.6,740.9 969.2,746" fill="url(#w83)" stroke="url(#w83)" stroke-width="1.2"/><polygon points="922.4,650.4 969.2,746 958.7,751.2" fill="url(#w84)" stroke="url(#w84)" stroke-width="1.2"/><polygon points="922.4,650.4 958.7,751.2 948.3,756.3" fill="url(#w85)" stroke="url(#w85)" stroke-width="1.2"/><polygon points="922.4,650.4 948.3,756.3 937.9,761.4" fill="url(#w86)" stroke="url(#w86)" stroke-width="1.2"/><polygon points="922.4,650.4 937.9,761.4 927.5,766.6" fill="url(#w87)" stroke="url(#w87)" stroke-width="1.2"/><polygon points="922.4,650.4 927.5,766.6 917.1,771.7" fill="url(#w88)" stroke="url(#w88)" stroke-width="1.2"/><polygon points="922.4,650.4 917.1,771.7 906.7,776.9" fill="url(#w89)" stroke="url(#w89)" stroke-width="1.2"/><polygon points="922.4,650.4 906.7,776.9 896.3,782" fill="url(#w90)" stroke="url(#w90)" stroke-width="1.2"/><polygon points="922.4,650.4 896.3,782 885.9,787.2" fill="url(#w91)" stroke="url(#w91)" stroke-width="1.2"/><polygon points="922.4,650.4 885.9,787.2 875.5,792.3" fill="url(#w92)" stroke="url(#w92)" stroke-width="1.2"/><polygon points="922.4,650.4 875.5,792.3 865.1,797.5" fill="url(#w93)" stroke="url(#w93)" stroke-width="1.2"/><polygon points="922.4,650.4 865.1,797.5 854.7,802.6" fill="url(#w94)" stroke="url(#w94)" stroke-width="1.2"/><polygon points="922.4,650.4 854.7,802.6 844.3,807.8" fill="url(#w95)" stroke="url(#w95)" stroke-width="1.2"/></g>
</g>
<polygon points="860,776.3 858.4,774.4 856.1,771.7 853.6,768.6 851.4,765.8 849.5,763.3 847.6,760.8 845.8,758.3 844,755.6 842.3,752.6 840.5,749.3 838.8,746 837.1,742.6 835.5,739.4 833.8,736.2 832.2,732.8 830.6,728.8 828.9,724.1 827.1,719 825.3,713.5 823.6,708.1 822,702.7 820.5,697.1 818.9,691.6 817.5,686.2 816.2,680.9 815,675.6 813.8,670.5 812.6,665.5 811.5,660.8 810.5,656.3 809.4,651.7 808.1,646.4 806.5,640.1 804.6,633.1 802.8,626.1 801.2,619.6 800,613.9 799.1,608.5 798.3,603.5 797.5,598.5 796.7,593.8 796,589.4 795.3,584.9 794.7,579.8 794.1,573.9 793.5,567.4 793.1,560.7 792.6,553.8 792.2,546.8 791.9,539.5 791.6,532.3 791.4,525.4 791.2,518.9 791.1,512.6 791,506.6 791,501 791.1,495.9 791.3,491.3 791.5,486.9 791.8,482.8 792.1,478.9 792.5,475.2 792.9,471.8 793.4,468.6 794,465.6 794.7,462.9 795.4,460.1 796.3,457.2 797.4,453.8 798.5,450.1 799.8,446.5 801.2,443.4 802.6,440.8 804.1,438.7 805.7,436.7 807.3,434.9 809,433 810.7,431.2 812.5,429.7 814.7,428.4 817.2,427.4 820.1,426.7 823.1,426.2 825.7,425.9 827.8,425.9 829.7,426.1 831.5,426.6 833.4,427.1 835.6,427.9 837.9,428.9 840.3,430 842.8,431.2 845.6,432.5 848.5,433.9 851.6,435.4 854.6,436.9 857.7,438.3 860.8,439.8 864,441.4 867.3,443.4 870.7,446 874.3,449 877.9,452.2 881.6,455.2 885.2,457.9 888.9,460.4 892.6,463 896.3,465.7 900,468.6 903.7,471.6 907.4,474.5 911,477.5 913.9,480 916.5,482.2 919.4,484.9 923.6,488.9 929.7,494.9 937.2,502.3 944.8,510 951.3,516.5 956.4,521.5 960.5,525.6 964.3,529.4 968.1,533.1 971.9,536.9 975.5,540.4 979,543.9 982.4,547.3 985.4,550.4 988.2,553.3 991.2,556.4 995,560.3 999.9,565.4 1005.6,571.3 1011.5,577.4 1017,583.1 1021.9,588.1 1026.4,592.8 1031,597.5 1035.8,602.5 1041.2,608.2 1046.9,614.2 1052.6,620.2 1057.8,625.7 1062.3,630.5 1066.4,635 1070.4,639.2 1074.6,643.5 1079.5,648.3 1084.8,653.4 1089.6,657.9 1092.9,661" fill="none" stroke="#2a4a2a" stroke-width="0.7" stroke-opacity="0.8"/>
<circle cx="895.9" cy="564.4" r="3.8" fill="#000"/>
<text x="904.8" y="573" font-size="35" font-family="'Liberation Serif', 'Times New Roman', serif" textLength="14.9" lengthAdjust="spacingAndGlyphs">b</text>
<circle cx="944.8" cy="620" r="3.8" fill="#000"/>
<text x="953.6" y="627.3" font-size="35" font-family="'Liberation Serif', 'Times New Roman', serif" textLength="15.7" lengthAdjust="spacingAndGlyphs">d</text>
<circle cx="1035.8" cy="607.4" r="3.8" fill="#000"/>
<text x="1011" y="615.5" font-size="35" font-family="'Liberation Serif', 'Times New Roman', serif" textLength="14.1" lengthAdjust="spacingAndGlyphs">a</text>
<circle cx="896.3" cy="648.4" r="3.8" fill="#000"/>
<text x="871.8" y="661.9" font-size="35" font-family="'Liberation Serif', 'Times New Roman', serif" textLength="14.2" lengthAdjust="spacingAndGlyphs">c</text>
<g fill="#dcdcdc" stroke="#5a5a5a" stroke-width="0.75"><text x="791" y="808.6" font-size="15.5" font-family="'Liberation Sans', Arial, sans-serif" text-anchor="middle" textLength="19.6" lengthAdjust="spacingAndGlyphs">0.0</text><text x="831.8" y="808.6" font-size="15.5" font-family="'Liberation Sans', Arial, sans-serif" text-anchor="middle" textLength="19.6" lengthAdjust="spacingAndGlyphs">0.1</text><text x="872.6" y="808.6" font-size="15.5" font-family="'Liberation Sans', Arial, sans-serif" text-anchor="middle" textLength="19.6" lengthAdjust="spacingAndGlyphs">0.2</text><text x="913.4" y="808.6" font-size="15.5" font-family="'Liberation Sans', Arial, sans-serif" text-anchor="middle" textLength="19.6" lengthAdjust="spacingAndGlyphs">0.3</text><text x="954.2" y="808.6" font-size="15.5" font-family="'Liberation Sans', Arial, sans-serif" text-anchor="middle" textLength="19.6" lengthAdjust="spacingAndGlyphs">0.4</text><text x="995" y="808.6" font-size="15.5" font-family="'Liberation Sans', Arial, sans-serif" text-anchor="middle" textLength="19.6" lengthAdjust="spacingAndGlyphs">0.5</text><text x="1035.8" y="808.6" font-size="15.5" font-family="'Liberation Sans', Arial, sans-serif" text-anchor="middle" textLength="19.6" lengthAdjust="spacingAndGlyphs">0.6</text><text x="1076.6" y="808.6" font-size="15.5" font-family="'Liberation Sans', Arial, sans-serif" text-anchor="middle" textLength="19.6" lengthAdjust="spacingAndGlyphs">0.7</text><text x="1117.4" y="808.6" font-size="15.5" font-family="'Liberation Sans', Arial, sans-serif" text-anchor="middle" textLength="19.6" lengthAdjust="spacingAndGlyphs">0.8</text><text x="758.6" y="774.6" font-size="15.5" font-family="'Liberation Sans', Arial, sans-serif" text-anchor="middle" textLength="19.6" lengthAdjust="spacingAndGlyphs">0.0</text><text x="758.6" y="734" font-size="15.5" font-family="'Liberation Sans', Arial, sans-serif" text-anchor="middle" textLength="19.6" lengthAdjust="spacingAndGlyphs">0.1</text><text x="758.6" y="693.4" font-size="15.5" font-family="'Liberation Sans', Arial, sans-serif" text-anchor="middle" textLength="19.6" lengthAdjust="spacingAndGlyphs">0.2</text><text x="758.6" y="652.8" font-size="15.5" font-family="'Liberation Sans', Arial, sans-serif" text-anchor="middle" textLength="19.6" lengthAdjust="spacingAndGlyphs">0.3</text><text x="758.6" y="612.2" font-size="15.5" font-family="'Liberation Sans', Arial, sans-serif" text-anchor="middle" textLength="19.6" lengthAdjust="spacingAndGlyphs">0.4</text><text x="758.6" y="571.6" font-size="15.5" font-family="'Liberation Sans', Arial, sans-serif" text-anchor="middle" textLength="19.6" lengthAdjust="spacingAndGlyphs">0.5</text><text x="758.6" y="531" font-size="15.5" font-family="'Liberation Sans', Arial, sans-serif" text-anchor="middle" textLength="19.6" lengthAdjust="spacingAndGlyphs">0.6</text><text x="758.6" y="490.4" font-size="15.5" font-family="'Liberation Sans', Arial, sans-serif" text-anchor="middle" textLength="19.6" lengthAdjust="spacingAndGlyphs">0.7</text><text x="758.6" y="449.8" font-size="15.5" font-family="'Liberation Sans', Arial, sans-serif" text-anchor="middle" textLength="19.6" lengthAdjust="spacingAndGlyphs">0.8</text><text x="758.6" y="409.2" font-size="15.5" font-family="'Liberation Sans', Arial, sans-serif" text-anchor="middle" textLength="19.6" lengthAdjust="spacingAndGlyphs">0.9</text></g>
<text x="705.8" y="411.8" font-size="33" font-family="'Liberation Serif', 'Times New Roman', serif" font-weight="bold" textLength="39.3" lengthAdjust="spacingAndGlyphs">(d)</text>
<path d="M1268,650.8 1268.6,648.6 1269.2,647.6 1269.8,644.9 1270.4,648.3 1271,644.9 1271.6,660.4 1272.2,652.6 1272.8,644.1 1273.5,649 1274.1,644.5 1274.7,658 1275.3,651.6 1275.9,655.3 1276.5,650 1277.1,649.3 1277.7,658.9 1278.3,655.2 1278.9,654 1279.5,642.8 1280.1,645.4 1280.7,655.1 1281.3,642.8 1281.9,652.8 1282.5,642.9 1283.2,649.9 1283.8,641.8 1284.4,640.4 1285,639.2 1285.6,638.4 1286.2,631.3 1286.8,620.9 1287.4,610.6 1288,603.5 1288.6,589.3 1289.2,568.6 1289.8,547.9 1290.4,533.7 1291,516.5 1291.6,492.8 1292.2,475.6 1292.9,470.3 1293.5,462.9 1294.1,457.6 1294.7,462.9 1295.3,470.3 1295.9,475.6 1296.5,492.8 1297.1,516.5 1297.7,533.7 1298.3,546.7 1298.9,565.7 1299.5,584.7 1300.1,597.7 1300.7,604.8 1301.3,615.1 1302,625.5 1302.6,632.6 1303.2,635.5 1303.8,639.8 1304.4,644.1 1305,655.2 1305.6,652.5 1306.2,640.3 1306.8,643.8 1307.4,648.3 1308,644.6 1308.6,644.9 1309.2,657.5 1309.8,661 1310.4,664 1311,682.1 1311.7,661 1312.3,653.1 1312.9,662.5 1313.5,690.8 1314.1,669.4 1314.7,685.2 1315.3,665.1 1315.9,685.5 1316.5,656 1317.1,645.9 1317.7,667.4 1318.3,664.7 1318.9,672.5 1319.5,661.1 1320.1,669.5 1320.7,670.4 1321.3,661 1322,661.6 1322.6,673 1323.2,688.7 1323.8,661.7 1324.4,669.8 1325,674.2 1325.6,671.6 1326.2,674.6 1326.8,682.1 1327.4,683 1328,669.3 1328.6,660.6 1329.2,690.8 1329.8,681.9 1330.4,679.5 1331,667.4 1331.7,668 1332.3,676.7 1332.9,677.1 1333.5,678.6 1334.1,665.1 1334.7,675.1 1335.3,696.2 1335.9,672.9 1336.5,680.5 1337.1,673.5 1337.7,675.7 1338.3,681.2 1338.9,682.9 1339.5,674.7 1340.1,672.2 1340.8,701.6 1341.4,684.5 1342,681.1 1342.6,678.2 1343.2,683.7 1343.8,677.1 1344.4,684.1 1345,675.3 1345.6,664 1346.2,681.8 1346.8,667.3 1347.4,679.4 1348,678.9 1348.6,678.3 1349.2,680.5 1349.8,681.4 1350.5,681.3 1351.1,692.1 1351.7,685.1 1352.3,689.1 1352.9,703.1 1353.5,701.3 1354.1,687.5 1354.7,710.6 1355.3,686.4 1355.9,682.8 1356.5,696.7 1357.1,688.2 1357.7,691.1 1358.3,711.4 1358.9,691.5 1359.5,687.2 1360.2,676.5 1360.8,685.9 1361.4,682 1362,690.8 1362.6,669.2 1363.2,682.7 1363.8,689.3 1364.4,683.5 1365,690.9 1365.6,677.8 1366.2,685.9 1366.8,679.9 1367.4,676.7 1368,683.1 1368.6,676.4 1369.2,686.3 1369.8,676.4 1370.5,688.6 1371.1,691.5 1371.7,685.9 1372.3,680 1372.9,693.4 1373.5,676.5 1374.1,689.4 1374.7,683.5 1375.3,683.2 1375.9,682.5 1376.5,709.4 1377.1,688.6 1377.7,688 1378.3,684.6 1378.9,687.6 1379.5,698.9 1380.2,686 1380.8,678.5 1381.4,693.7 1382,686.5 1382.6,681.7 1383.2,685.6 1383.8,687.3 1384.4,679.2 1385,688.9 1385.6,692.9 1386.2,682 1386.8,689.1 1387.4,678.3 1388,685.8 1388.6,685.5 1389.2,691.5 1389.9,694.8 1390.5,679.9 1391.1,710.3 1391.7,665.6 1392.3,693.4 1392.9,690.5 1393.5,677.7 1394.1,692 1394.7,678.4 1395.3,683.7 1395.9,691.6 1396.5,712.3 1397.1,717 1397.7,681.6 1398.3,692.2 1399,689.1 1399.6,677.7 1400.2,693.7 1400.8,692 1401.4,685.9 1402,685.1 1402.6,690.2 1403.2,690.4 1403.8,685.8 1404.4,690.8 1405,682.1 1405.6,682.5 1406.2,693.5 1406.8,717.7 1407.4,690.9 1408,686.7 1408.7,708.9 1409.3,694.3 1409.9,678.6 1410.5,725.5 1411.1,683.7 1411.7,692.9 1412.3,689.2 1412.9,689.6 1413.5,689.4 1414.1,693.1 1414.7,684.3 1415.3,688.1 1415.9,686.6 1416.5,685.7 1417.1,698.4 1417.7,724.2 1418.3,687.4 1419,695.9 1419.6,680.4 1420.2,688.5 1420.8,694.3 1421.4,693.3 1422,689.4 1422.6,693.5 1423.2,691.3 1423.8,691.2 1424.4,720.8 1425,678.4 1425.6,684.6 1426.2,706.1 1426.8,691.4 1427.4,683.8 1428,707.8 1428.7,695.2 1429.3,679.6 1429.9,691.2 1430.5,691.7 1431.1,684.2 1431.7,692.6 1432.3,680.4 1432.9,684.6 1433.5,695.8 1434.1,712.8 1434.7,679.7 1435.3,701.5 1435.9,681.3 1436.5,695.8 1437.1,696.2 1437.8,696.1 1438.4,690.1 1439,730.4 1439.6,694.1 1440.2,690.2 1440.8,695.8 1441.4,695.4 1442,681.3 1442.6,682.4 1443.2,697.1 1443.8,689 1444.4,690.9 1445,684.8 1445.6,692.1 1446.2,683.1 1446.8,695.5 1447.5,696.1 1448.1,683.3 1448.7,710.5 1449.3,696.2 1449.9,687.6 1450.5,696.6 1451.1,696.9 1451.7,692.7 1452.3,696 1452.9,692.3 1453.5,688.1 1454.1,686.4 1454.7,687.9 1455.3,683.7 1455.9,681.3 1456.5,685.8 1457.2,683.9 1457.8,708.9 1458.4,693.5 1459,721.9 1459.6,698.5 1460.2,696 1460.8,672.6 1461.4,694.3 1462,692 1462.6,698.2 1463.2,684 1463.8,696.8 1464.4,695.6 1465,678.3 1465.6,696.6 1466.2,682.7 1466.8,691.2 1467.5,675.5 1468.1,681.9 1468.7,697.1 1469.3,726 1469.9,698.4 1470.5,690.7 1471.1,692.3 1471.7,694.4 1472.3,689.4 1472.9,686.2 1473.5,693.2 1474.1,682.3 1474.7,684.6 1475.3,692.5 1475.9,685.1 1476.5,699 1477.2,698 1477.8,684.1 1478.4,685.9 1479,688 1479.6,689.1 1480.2,715.5 1480.8,689.8 1481.4,693.3 1482,699.7 1482.6,693.5 1483.2,688 1483.8,683.2 1484.4,684.3 1485,688.8 1485.6,686.6 1486.2,690.2 1486.9,691.5 1487.5,717.3 1488.1,690.6 1488.7,688.3 1489.3,684.6 1489.9,716.8 1490.5,675.7 1491.1,689 1491.7,688.2 1492.3,697.5 1492.9,685.5 1493.5,684.2 1494.1,713.3 1494.7,698.2 1495.3,685.7 1496,690.7 1496.6,699.6 1497.2,691.9 1497.8,695 1498.4,697.9 1499,697 1499.6,686 1500.2,690.7 1500.8,721.4 1501.4,687.3 1502,689.2 1502.6,694.5 1503.2,686.2 1503.8,697.1 1504.4,685.2 1505,725 1505.7,691.6 1506.3,698.8 1506.9,690.9 1507.5,710.9 1508.1,679.9 1508.7,687.4 1509.3,686.1 1509.9,690.1 1510.5,707.8 1511.1,712.3 1511.7,720.1 1512.3,689.5 1512.9,688.3 1513.5,675.4 1514.1,696.9 1514.7,701.2 1515.3,695.8 1516,690.5 1516.6,700.9 1517.2,692.9 1517.8,700.4 1518.4,695.9 1519,679.8 1519.6,701.2 1520.2,689.9 1520.8,700.4 1521.4,696.3 1522,686.5 1522.6,697.4 1523.2,690.3 1523.8,692.5 1524.4,696.6 1525,713.2 1525.7,698.4 1526.3,701.3 1526.9,700.9 1527.5,685.4 1528.1,690.3 1528.7,696.4 1529.3,702.5 1529.9,711.6 1530.5,694.7 1531.1,708.1 1531.7,685.7 1532.3,710.5 1532.9,686.1 1533.5,712.9 1534.1,689.2 1534.8,692.4 1535.4,691.5 1536,731 1536.6,695.6 1537.2,688.4 1537.8,684.1 1538.4,687.3 1539,689.2 1539.6,679.1 1540.2,695.5 1540.8,694.7 1541.4,704.4 1542,713.6 1542.6,687.3 1543.2,729.9 1543.8,686.2 1544.5,700.6 1545.1,682 1545.7,699.8 1546.3,698.4 1546.9,696.5 1547.5,700.4 1548.1,686.1 1548.7,727.1 1549.3,696.6 1549.9,694.8 1550.5,686.3 1551.1,693.2 1551.7,693.6 1552.3,700.8 1552.9,719.8 1553.5,695.9 1554.2,692.6 1554.8,702.2 1555.4,702.6 1556,713.7 1556.6,695.4 1557.2,687.1 1557.8,694 1558.4,672.5 1559,698 1559.6,707.5 1560.2,690.5 1560.8,688.9 1561.4,693.7 1562,700.9 1562.6,694.7 1563.2,699.8 1563.8,720 1564.5,693.6 1565.1,698.6 1565.7,690.5 1566.3,689 1566.9,696.6 1567.5,699.1 1568.1,688.2 1568.7,687.8 1569.3,729.1 1569.9,703.5 1570.5,689.1 1571.1,712.4 1571.7,701.4 1572.3,692.7 1572.9,693.7 1573.5,702.2 1574.2,722.4 1574.8,691.9 1575.4,716.1 1576,716.8 1576.6,698.5 1577.2,703 1577.8,693.9 1578.4,694.7 1579,699 1579.6,686.2 1580.2,701.1 1580.8,701.2 1581.4,691.7 1582,699.4 1582.6,693.8 1583.2,694.5 1583.9,686.3 1584.5,697.5 1585.1,692.7 1585.7,692.3 1586.3,694.6 1586.9,687.3 1587.5,699.9 1588.1,695.5 1588.7,697 1589.3,684.5 1589.9,688 1590.5,699.6 1591.1,686.5 1591.7,691.9 1592.3,690 1593,696.4 1593.6,705.6 1594.2,688.3 1594.8,702.2 1595.4,685 1596,684.9 1596.6,698.6 1597.2,719.9 1597.8,717.3 1598.4,674.6 1599,698.3 1599.6,698 1600.2,688.4 1600.8,692.2 1601.4,681.2 1602,695.9 1602.7,683.5 1603.3,688.4 1603.9,693.6 1604.5,690 1605.1,688.9 1605.7,691.3 1606.3,688.9 1606.9,693.9 1607.5,694.3 1608.1,685.4 1608.7,696.2 1609.3,686.4 1609.9,690.6 1610.5,715.8 1611.1,687.4 1611.7,695.3 1612.3,696.2 1613,693.6 1613.6,696.9 1614.2,695.6 1614.8,691.8 1615.4,686.5 1616,682.3 1616.6,692.5 1617.2,682.1 1617.8,690 1618.4,706 1619,683.9 1619.6,689.3 1620.2,682.1 1620.8,689.6 1621.4,685.1 1622,684 1622.7,684.3 1623.3,682.8 1623.9,717.4 1624.5,683.1 1625.1,695.7 1625.7,702.1 1626.3,679.3 1626.9,692.1 1627.5,684.9 1628.1,684.9 1628.7,717.3 1629.3,685.9 1629.9,687.3 1630.5,690.7 1631.1,689.5 1631.8,682.7 1632.4,699.4 1633,681.2 1633.6,723.6 1634.2,693.9 1634.8,688.1 1635.4,687.3 1636,695.2 1636.6,682.2 1637.2,680.9 1637.8,682.9 1638.4,716.5 1639,678.1 1639.6,694.1 1640.2,693.4 1640.8,693.6 1641.5,695 1642.1,689.8 1642.7,688.1 1643.3,678.2 1643.9,682.7 1644.5,687.7 1645.1,708.1 1645.7,681.2 1646.3,679.5 1646.9,681.1 1647.5,678.3 1648.1,687 1648.7,682.7 1649.3,681.6 1649.9,690.6 1650.5,689.5 1651.2,680.4 1651.8,684.4 1652.4,711.8 1653,687.2 1653.6,701 1654.2,694.8 1654.8,670.8 1655.4,682 1656,700.7 1656.6,682.5 1657.2,684.6 1657.8,684.9 1658.4,682.1 1659,689.6 1659.6,684.8 1660.2,688.4 1660.8,700.9 1661.5,688.4 1662.1,709.6 1662.7,684.9 1663.3,677 1663.9,686.5 1664.5,689.6 1665.1,690.2 1665.7,675.6 1666.3,690.8 1666.9,683.2 1667.5,688.7 1668.1,709.7 1668.7,686.9 1669.3,689.4 1669.9,674.7 1670.5,689.2 1671.2,691.9 1671.8,687 1672.4,713.8 1673,684.8 1673.6,682.5 1674.2,689.3 1674.8,685.2 1675.4,675.8 1676,684 1676.6,675.2 1677.2,682 1677.8,679.1 1678.4,682.3 1679,682 1679.6,684.2 1680.2,679 1680.9,686.4 1681.5,688.1 1682.1,676.1 1682.7,713.2 1683.3,684.2 1683.9,688.5 1684.5,686.2 1685.1,676.9 1685.7,674 1686.3,678 1686.9,685.7 1687.5,683.2 1688.1,686.7 1688.7,682.2 1689.3,663.6 1690,667.6 1690.6,675.4 1691.2,680.5 1691.8,685.4 1692.4,672.1" fill="none" stroke="#1e8c1e" stroke-width="2.5" stroke-linejoin="round"/>
<path d="M1268,680.4 1268.6,673.9 1269.2,676.8 1269.8,673.4 1270.4,675.9 1271,678.4 1271.6,682.4 1272.2,668.4 1272.8,670.9 1273.5,677.9 1274.1,673.3 1274.7,671.5 1275.3,672.3 1275.9,664.8 1276.5,666.2 1277.1,673.7 1277.7,672.4 1278.3,667 1278.9,674.2 1279.5,660.2 1280.1,675.4 1280.7,666.6 1281.3,669.4 1281.9,663.5 1282.5,670.3 1283.2,665.6 1283.8,659.2 1284.4,657.8 1285,656.7 1285.6,655.8 1286.2,649.9 1286.8,641.3 1287.4,632.6 1288,626.7 1288.6,612.6 1289.2,591.9 1289.8,571.2 1290.4,557 1291,543.2 1291.6,524.3 1292.2,510.5 1292.9,505 1293.5,497.4 1294.1,491.9 1294.7,497.4 1295.3,505 1295.9,510.5 1296.5,524.3 1297.1,543.2 1297.7,557 1298.3,567.6 1298.9,583.1 1299.5,598.7 1300.1,609.3 1300.7,615.2 1301.3,623.8 1302,632.5 1302.6,638.4 1303.2,641.8 1303.8,646.5 1304.4,650 1305,650.8 1305.6,652 1306.2,653.2 1306.8,654.1 1307.4,653.2 1308,652 1308.6,650.8 1309.2,650 1309.8,648.8 1310.4,647 1311,632 1311.7,649.8 1312.3,662.1 1312.9,627.1 1313.5,650.7 1314.1,624.6 1314.7,625 1315.3,626 1315.9,635.3 1316.5,656.4 1317.1,636.3 1317.7,615.3 1318.3,613.4 1318.9,613.8 1319.5,613 1320.1,609.7 1320.7,612.9 1321.3,613.4 1322,609.6 1322.6,610.9 1323.2,611.4 1323.8,607.5 1324.4,604.2 1325,605.4 1325.6,604.4 1326.2,602.3 1326.8,600.8 1327.4,596.2 1328,598.2 1328.6,595.2 1329.2,594.6 1329.8,594.2 1330.4,594.1 1331,592.4 1331.7,591.4 1332.3,589.2 1332.9,587.5 1333.5,586.8 1334.1,587.1 1334.7,586.8 1335.3,586.5 1335.9,584.8 1336.5,584.7 1337.1,584.2 1337.7,582.8 1338.3,582 1338.9,581.1 1339.5,579.4 1340.1,578.5 1340.8,578 1341.4,576.4 1342,576.3 1342.6,574.5 1343.2,574.9 1343.8,573.6 1344.4,573 1345,572.6 1345.6,572.5 1346.2,571.5 1346.8,571.3 1347.4,570.6 1348,570.7 1348.6,569.9 1349.2,568.8 1349.8,568 1350.5,567.9 1351.1,566.3 1351.7,566.1 1352.3,565.3 1352.9,564.6 1353.5,563.6 1354.1,563.8 1354.7,563.1 1355.3,562.6 1355.9,562.4 1356.5,562.7 1357.1,562.4 1357.7,561.9 1358.3,561.4 1358.9,561 1359.5,561.4 1360.2,560.5 1360.8,560 1361.4,560.1 1362,559.8 1362.6,558.3 1363.2,559.1 1363.8,558 1364.4,557.9 1365,557.8 1365.6,557.1 1366.2,556.9 1366.8,556.2 1367.4,555.1 1368,555.9 1368.6,555.2 1369.2,554.5 1369.8,554.3 1370.5,554.9 1371.1,554.5 1371.7,554.3 1372.3,553.4 1372.9,553.9 1373.5,554 1374.1,553.6 1374.7,553.4 1375.3,553.7 1375.9,552.9 1376.5,552.6 1377.1,552.8 1377.7,552.5 1378.3,552 1378.9,551.6 1379.5,551.9 1380.2,552.5 1380.8,551.7 1381.4,551.3 1382,551.6 1382.6,551 1383.2,551.3 1383.8,550.8 1384.4,550.7 1385,550.5 1385.6,550.1 1386.2,550.3 1386.8,550.3 1387.4,550.3 1388,551 1388.6,550.5 1389.2,550.5 1389.9,551.3 1390.5,550.4 1391.1,551.1 1391.7,550.8 1392.3,550.8 1392.9,550.5 1393.5,550.5 1394.1,550.9 1394.7,550.3 1395.3,551 1395.9,550.9 1396.5,550.3 1397.1,551.3 1397.7,550.8 1398.3,550.4 1399,551.7 1399.6,550.7 1400.2,550.9 1400.8,551.1 1401.4,550.8 1402,550.7 1402.6,551.8 1403.2,551.4 1403.8,551.3 1404.4,551.3 1405,551 1405.6,551.3 1406.2,551.4 1406.8,552.5 1407.4,552.2 1408,551.6 1408.7,551.7 1409.3,552.1 1409.9,552.8 1410.5,552.3 1411.1,552.7 1411.7,552.7 1412.3,552.9 1412.9,552.7 1413.5,553 1414.1,552.8 1414.7,553.6 1415.3,553.7 1415.9,553.6 1416.5,553.8 1417.1,554.6 1417.7,553.5 1418.3,554.5 1419,554.3 1419.6,555 1420.2,554.9 1420.8,553.9 1421.4,554.9 1422,554.9 1422.6,554.4 1423.2,555.3 1423.8,554.9 1424.4,555.3 1425,555 1425.6,555.9 1426.2,556.4 1426.8,556.7 1427.4,556.9 1428,557.7 1428.7,557.8 1429.3,558.1 1429.9,558.1 1430.5,557.8 1431.1,557.8 1431.7,558.9 1432.3,559.3 1432.9,559.5 1433.5,559.2 1434.1,559.6 1434.7,560.3 1435.3,559.9 1435.9,560.4 1436.5,560.7 1437.1,560 1437.8,561.2 1438.4,561 1439,560.8 1439.6,561.4 1440.2,561.2 1440.8,562.3 1441.4,561.7 1442,563.3 1442.6,562.4 1443.2,563.4 1443.8,564.3 1444.4,564.2 1445,563.4 1445.6,564.1 1446.2,564.3 1446.8,564.4 1447.5,565.7 1448.1,565.4 1448.7,565.3 1449.3,564.9 1449.9,565.1 1450.5,566.4 1451.1,565.5 1451.7,566.4 1452.3,567.1 1452.9,567.7 1453.5,567.6 1454.1,567.8 1454.7,568.2 1455.3,568.8 1455.9,568.2 1456.5,569.2 1457.2,569.8 1457.8,569.4 1458.4,570.5 1459,570.5 1459.6,571.3 1460.2,571.3 1460.8,570.5 1461.4,571.2 1462,571.5 1462.6,571.5 1463.2,571.7 1463.8,572.2 1464.4,572.7 1465,573.3 1465.6,573.9 1466.2,574.1 1466.8,574.1 1467.5,575.1 1468.1,574.6 1468.7,575.4 1469.3,576 1469.9,576.3 1470.5,576.4 1471.1,577.1 1471.7,576.5 1472.3,577.4 1472.9,578.2 1473.5,578.4 1474.1,577.4 1474.7,578 1475.3,578.7 1475.9,578.3 1476.5,579.5 1477.2,578.6 1477.8,578.9 1478.4,579.6 1479,580.8 1479.6,580.6 1480.2,580.4 1480.8,581.1 1481.4,582 1482,582.3 1482.6,582.9 1483.2,582.5 1483.8,583.3 1484.4,583.2 1485,582.8 1485.6,583 1486.2,583.7 1486.9,583.5 1487.5,584.7 1488.1,583.7 1488.7,584.1 1489.3,585.1 1489.9,584.7 1490.5,586.2 1491.1,585.2 1491.7,587 1492.3,586.1 1492.9,586.7 1493.5,586.8 1494.1,587.7 1494.7,590 1495.3,589.8 1496,589.1 1496.6,588.6 1497.2,589.7 1497.8,592.1 1498.4,591.4 1499,591.6 1499.6,592.5 1500.2,592.5 1500.8,591.8 1501.4,592.7 1502,593.5 1502.6,593.4 1503.2,591.6 1503.8,593.6 1504.4,593.4 1505,593 1505.7,598 1506.3,594.2 1506.9,599 1507.5,599.1 1508.1,596.5 1508.7,596.9 1509.3,598.2 1509.9,599.5 1510.5,598.4 1511.1,600.7 1511.7,602.7 1512.3,602.9 1512.9,603.9 1513.5,604.8 1514.1,598.5 1514.7,598.8 1515.3,603.8 1516,603.8 1516.6,605.5 1517.2,601.9 1517.8,604.9 1518.4,608.4 1519,602.6 1519.6,602.7 1520.2,611.6 1520.8,608.3 1521.4,611.3 1522,607.7 1522.6,611.1 1523.2,612.3 1523.8,612.7 1524.4,609.8 1525,611.3 1525.7,611.8 1526.3,609.9 1526.9,612.6 1527.5,607.5 1528.1,613.9 1528.7,610.2 1529.3,609 1529.9,613.4 1530.5,614.4 1531.1,612.3 1531.7,614 1532.3,621.7 1532.9,644.7 1533.5,621.2 1534.1,647.7 1534.8,622.1 1535.4,617.9 1536,614.8 1536.6,618.5 1537.2,626.4 1537.8,627.4 1538.4,620.4 1539,626.4 1539.6,621.4 1540.2,629.5 1540.8,627.5 1541.4,620.5 1542,627.9 1542.6,628.4 1543.2,623.2 1543.8,625.4 1544.5,639.7 1545.1,626.1 1545.7,619.3 1546.3,626.5 1546.9,620 1547.5,629.9 1548.1,630.9 1548.7,625.7 1549.3,638.7 1549.9,631.1 1550.5,631 1551.1,639.6 1551.7,627.8 1552.3,640.4 1552.9,627.9 1553.5,659.1 1554.2,639.6 1554.8,629.8 1555.4,645.1 1556,628.6 1556.6,624.7 1557.2,630.6 1557.8,634.4 1558.4,642.7 1559,634.6 1559.6,635.2 1560.2,634.5 1560.8,640.6 1561.4,634.6 1562,664.3 1562.6,635.1 1563.2,640.2 1563.8,644.4 1564.5,634.4 1565.1,642.5 1565.7,652.5 1566.3,632.3 1566.9,649 1567.5,640.9 1568.1,646.4 1568.7,638.9 1569.3,647 1569.9,652.9 1570.5,654.8 1571.1,681.3 1571.7,644.7 1572.3,649.1 1572.9,649 1573.5,654.1 1574.2,635.9 1574.8,653 1575.4,635.8 1576,654.9 1576.6,634.8 1577.2,657.4 1577.8,650 1578.4,651.5 1579,667.2 1579.6,643.5 1580.2,646.4 1580.8,640.8 1581.4,645.3 1582,648.8 1582.6,639.4 1583.2,664.5 1583.9,647.4 1584.5,645 1585.1,662.6 1585.7,645.3 1586.3,658.7 1586.9,639.1 1587.5,661.2 1588.1,648.6 1588.7,646 1589.3,653.9 1589.9,660.3 1590.5,662.5 1591.1,652.2 1591.7,668.7 1592.3,661.3 1593,666.3 1593.6,639.4 1594.2,644.1 1594.8,664.5 1595.4,665.5 1596,682.1 1596.6,654.8 1597.2,672 1597.8,675.9 1598.4,664.1 1599,664 1599.6,642.4 1600.2,665.7 1600.8,658 1601.4,658.5 1602,665.3 1602.7,661.9 1603.3,650.8 1603.9,672.9 1604.5,660.3 1605.1,671.6 1605.7,644.8 1606.3,651.5 1606.9,654.3 1607.5,648.2 1608.1,657.9 1608.7,656.1 1609.3,664.1 1609.9,658.2 1610.5,641.4 1611.1,650.6 1611.7,663.2 1612.3,656 1613,671.1 1613.6,693.4 1614.2,688.4 1614.8,670.2 1615.4,653.2 1616,650.7 1616.6,665.8 1617.2,662.2 1617.8,644.6 1618.4,648.4 1619,672.1 1619.6,655.8 1620.2,667.2 1620.8,662.5 1621.4,661.1 1622,654.9 1622.7,663.6 1623.3,669.8 1623.9,673 1624.5,646.4 1625.1,655.4 1625.7,656.6 1626.3,669.4 1626.9,674.8 1627.5,647.5 1628.1,664.4 1628.7,654.4 1629.3,665.4 1629.9,661.8 1630.5,646.1 1631.1,657.3 1631.8,653 1632.4,666.9 1633,670.2 1633.6,666.3 1634.2,659.9 1634.8,668.9 1635.4,696.4 1636,686.2 1636.6,642.2 1637.2,651.1 1637.8,641.5 1638.4,644.8 1639,669.7 1639.6,658.7 1640.2,641.5 1640.8,674.6 1641.5,641.4 1642.1,650.3 1642.7,652.9 1643.3,666.3 1643.9,642.3 1644.5,651.1 1645.1,650.9 1645.7,657.9 1646.3,648.2 1646.9,649.3 1647.5,656.8 1648.1,657.5 1648.7,657.4 1649.3,668 1649.9,646 1650.5,643.7 1651.2,669.8 1651.8,659.8 1652.4,654.4 1653,651.8 1653.6,663.9 1654.2,683.8 1654.8,653.3 1655.4,643.3 1656,650.2 1656.6,661.2 1657.2,654.2 1657.8,654.5 1658.4,649.3 1659,649.7 1659.6,659.6 1660.2,659.3 1660.8,658.9 1661.5,675.1 1662.1,667 1662.7,639.6 1663.3,663.3 1663.9,644 1664.5,661.1 1665.1,666.5 1665.7,667.3 1666.3,651.6 1666.9,641.8 1667.5,649.4 1668.1,646.6 1668.7,643.1 1669.3,648.7 1669.9,688.9 1670.5,674.7 1671.2,667.2 1671.8,693.7 1672.4,671.5 1673,697.3 1673.6,686.7 1674.2,687.6 1674.8,691.4 1675.4,695.7 1676,669.6 1676.6,684.3 1677.2,684.5 1677.8,693 1678.4,665.1 1679,682.7 1679.6,688.6 1680.2,689.6 1680.9,648.4 1681.5,680.4 1682.1,668.9 1682.7,690.2 1683.3,684.1 1683.9,684.9 1684.5,661.6 1685.1,679 1685.7,679.8 1686.3,679.6 1686.9,679.6 1687.5,687 1688.1,676.5 1688.7,689.1 1689.3,674.9 1690,681.8 1690.6,679.5 1691.2,681.3 1691.8,675.2 1692.4,677.2" fill="none" stroke="#ff0000" stroke-width="2.5" stroke-linejoin="round"/>
<rect x="1261.6" y="451.2" width="431.4" height="292.3" fill="none" stroke="#000" stroke-width="2.8"/>
<path d="M1268,743.5v6 M1298.3,743.5v4 M1328.6,743.5v6 M1358.9,743.5v4 M1389.2,743.5v6 M1419.6,743.5v4 M1449.9,743.5v6 M1480.2,743.5v4 M1510.5,743.5v6 M1540.8,743.5v4 M1571.1,743.5v6 M1601.4,743.5v4 M1631.8,743.5v6 M1662.1,743.5v4 M1692.4,743.5v6 M1261.6,743h-5 M1261.6,725.5h-2.5 M1261.6,715.3h-2.5 M1261.6,708h-2.5 M1261.6,702.4h-2.5 M1261.6,697.8h-2.5 M1261.6,693.9h-2.5 M1261.6,690.5h-2.5 M1261.6,687.5h-2.5 M1261.6,684.9h-5 M1261.6,667.4h-2.5 M1261.6,657.1h-2.5 M1261.6,649.9h-2.5 M1261.6,644.2h-2.5 M1261.6,639.6h-2.5 M1261.6,635.7h-2.5 M1261.6,632.4h-2.5 M1261.6,629.4h-2.5 M1261.6,626.7h-5 M1261.6,609.2h-2.5 M1261.6,599h-2.5 M1261.6,591.7h-2.5 M1261.6,586.1h-2.5 M1261.6,581.5h-2.5 M1261.6,577.6h-2.5 M1261.6,574.2h-2.5 M1261.6,571.3h-2.5 M1261.6,568.6h-5 M1261.6,551.1h-2.5 M1261.6,540.9h-2.5 M1261.6,533.6h-2.5 M1261.6,528h-2.5 M1261.6,523.4h-2.5 M1261.6,519.5h-2.5 M1261.6,516.1h-2.5 M1261.6,513.1h-2.5 M1261.6,510.5h-5 M1261.6,493h-2.5 M1261.6,482.7h-2.5 M1261.6,475.5h-2.5 M1261.6,469.8h-2.5 M1261.6,465.2h-2.5 M1261.6,461.4h-2.5 M1261.6,458h-2.5 M1261.6,455h-2.5 M1261.6,452.3h-5" stroke="#000" stroke-width="1.7"/>
<text x="1268" y="765.8" font-size="16" font-family="'Liberation Serif', 'Times New Roman', serif" font-weight="bold" text-anchor="middle" textLength="23.9" lengthAdjust="spacingAndGlyphs">350</text>
<text x="1328.6" y="765.8" font-size="16" font-family="'Liberation Serif', 'Times New Roman', serif" font-weight="bold" text-anchor="middle" textLength="23.9" lengthAdjust="spacingAndGlyphs">400</text>
<text x="1389.2" y="765.8" font-size="16" font-family="'Liberation Serif', 'Times New Roman', serif" font-weight="bold" text-anchor="middle" textLength="23.9" lengthAdjust="spacingAndGlyphs">450</text>
<text x="1449.9" y="765.8" font-size="16" font-family="'Liberation Serif', 'Times New Roman', serif" font-weight="bold" text-anchor="middle" textLength="23.9" lengthAdjust="spacingAndGlyphs">500</text>
<text x="1510.5" y="765.8" font-size="16" font-family="'Liberation Serif', 'Times New Roman', serif" font-weight="bold" text-anchor="middle" textLength="23.9" lengthAdjust="spacingAndGlyphs">550</text>
<text x="1571.1" y="765.8" font-size="16" font-family="'Liberation Serif', 'Times New Roman', serif" font-weight="bold" text-anchor="middle" textLength="23.9" lengthAdjust="spacingAndGlyphs">600</text>
<text x="1631.8" y="765.8" font-size="16" font-family="'Liberation Serif', 'Times New Roman', serif" font-weight="bold" text-anchor="middle" textLength="23.9" lengthAdjust="spacingAndGlyphs">650</text>
<text x="1692.4" y="765.8" font-size="16" font-family="'Liberation Serif', 'Times New Roman', serif" font-weight="bold" text-anchor="middle" textLength="23.9" lengthAdjust="spacingAndGlyphs">700</text>
<text x="1252.2" y="748.2" font-size="15.5" font-family="'Liberation Serif', 'Times New Roman', serif" font-weight="bold" text-anchor="end" textLength="7.8" lengthAdjust="spacingAndGlyphs">1</text>
<text x="1252.2" y="690.1" font-size="15.5" font-family="'Liberation Serif', 'Times New Roman', serif" font-weight="bold" text-anchor="end" textLength="15.5" lengthAdjust="spacingAndGlyphs">10</text>
<text x="1252.2" y="631.9" font-size="15.5" font-family="'Liberation Serif', 'Times New Roman', serif" font-weight="bold" text-anchor="end" textLength="23.2" lengthAdjust="spacingAndGlyphs">100</text>
<text x="1252.2" y="573.8" font-size="15.5" font-family="'Liberation Serif', 'Times New Roman', serif" font-weight="bold" text-anchor="end" textLength="31" lengthAdjust="spacingAndGlyphs">1000</text>
<text x="1252.2" y="515.7" font-size="15.5" font-family="'Liberation Serif', 'Times New Roman', serif" font-weight="bold" text-anchor="end" textLength="38.8" lengthAdjust="spacingAndGlyphs">10000</text>
<text x="1252.2" y="457.5" font-size="15.5" font-family="'Liberation Serif', 'Times New Roman', serif" font-weight="bold" text-anchor="end" textLength="46.5" lengthAdjust="spacingAndGlyphs">100000</text>
<text x="1384" y="784.3" font-size="20" font-family="'Liberation Serif', 'Times New Roman', serif" font-weight="bold" textLength="142.2" lengthAdjust="spacingAndGlyphs">Wavelength/nm</text>
<text transform="translate(1211.5,591.5) rotate(-90)" font-size="20" font-family="'Liberation Serif', 'Times New Roman', serif" font-weight="bold" text-anchor="middle" textLength="119.7" lengthAdjust="spacingAndGlyphs">Intensity/a.u.</text>
<path d="M1307,469.8H1337.3" stroke="#1e8c1e" stroke-width="2.2"/><path d="M1307,499H1337.3" stroke="#ff0000" stroke-width="2.2"/>
<text x="1341.5" y="474.5" font-size="16" font-family="'Liberation Serif', 'Times New Roman', serif" font-weight="bold" textLength="44.3" lengthAdjust="spacingAndGlyphs"><tspan>BaSO</tspan><tspan dy="5.8" font-size="8.8">4</tspan></text>
<text x="1341.5" y="503.6" font-size="16" font-family="'Liberation Serif', 'Times New Roman', serif" font-weight="bold" textLength="341.9" lengthAdjust="spacingAndGlyphs"><tspan>Ca</tspan><tspan dy="5.8" font-size="8.8">1.08</tspan><tspan dy="-5.8">Sr</tspan><tspan dy="5.8" font-size="8.8">0.88</tspan><tspan dy="-5.8">Si</tspan><tspan dy="5.8" font-size="8.8">0.98</tspan><tspan dy="-5.8">Al</tspan><tspan dy="5.8" font-size="8.8">0.02</tspan><tspan dy="-5.8">O</tspan><tspan dy="5.8" font-size="8.8">4</tspan><tspan dy="-5.8">:0.02Ce</tspan><tspan dy="-6.7" font-size="8.8">3+</tspan><tspan dy="6.7">,0.02Li</tspan><tspan dy="-6.7" font-size="8.8">+</tspan><tspan dy="6.7">,0.04CaCl</tspan><tspan dy="5.8" font-size="8.8">2</tspan></text>
<text x="1202.4" y="411.2" font-size="33" font-family="'Liberation Serif', 'Times New Roman', serif" font-weight="bold" textLength="35.1" lengthAdjust="spacingAndGlyphs">(e)</text>
<rect x="1.5" y="1.5" width="1713" height="824" fill="none" stroke="#4a8ec6" stroke-width="3" stroke-dasharray="8.4 3"/>
</svg>
</body></html>
